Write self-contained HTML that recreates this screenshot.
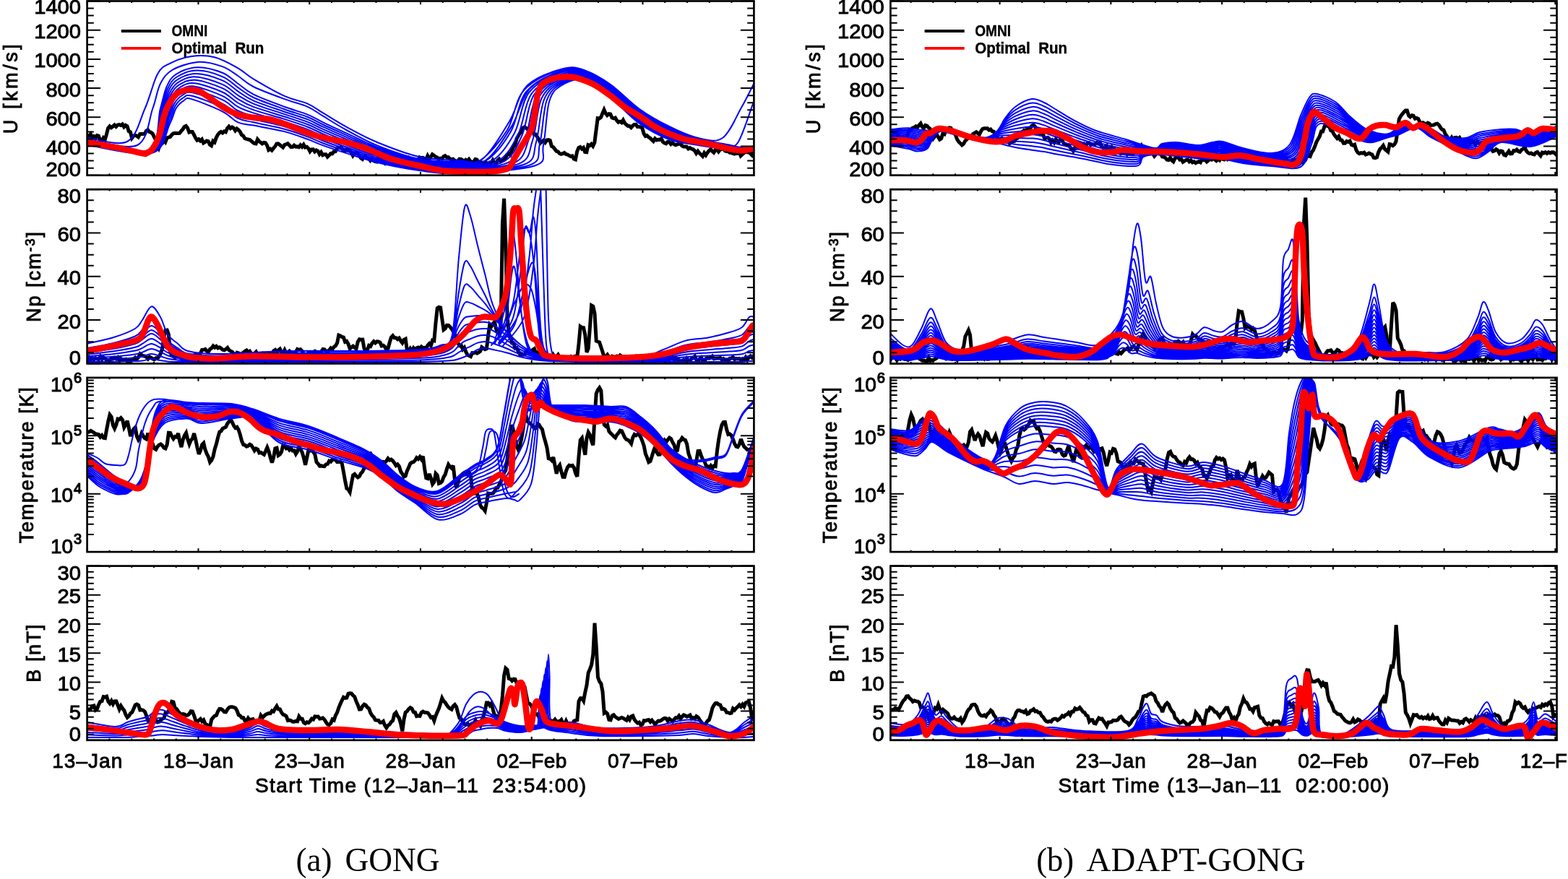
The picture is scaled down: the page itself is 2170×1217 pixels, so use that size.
<!DOCTYPE html>
<html><head><meta charset="utf-8"><title>Ensemble solar wind comparison</title>
<style>html,body{margin:0;padding:0;background:#fff;overflow:hidden}svg{display:block}</style></head>
<body><svg xmlns="http://www.w3.org/2000/svg" width="2170" height="1217" viewBox="0 0 2170 1217"><rect width="2170" height="1217" fill="#fff"/><clipPath id="cL0"><rect x="120.6" y="1.5" width="922.8000000000001" height="241.2"/></clipPath><g clip-path="url(#cL0)" fill="none" stroke-linejoin="round" stroke-linecap="round"><path d="M121.0 189.1 L123.2 187.9 L125.4 185.6 L127.6 190.6 L129.8 188.8 L132.0 191.2 L134.2 187.7 L136.4 188.2 L138.6 194.1 L140.8 195.3 L143.0 191.1 L145.2 193.5 L147.4 186.1 L149.6 177.4 L151.8 174.8 L154.0 176.7 L156.2 175.1 L158.4 173.1 L160.6 175.4 L162.8 173.0 L165.0 172.6 L167.2 173.5 L169.4 172.0 L171.6 175.7 L173.8 173.4 L176.0 174.6 L178.2 181.8 L180.4 182.8 L182.6 191.1 L184.8 188.2 L187.0 187.3 L189.2 188.2 L191.4 189.8 L193.6 185.6 L195.8 185.5 L198.0 185.5 L200.2 185.2 L202.4 181.3 L204.6 179.9 L206.8 182.6 L209.0 183.3 L211.2 185.1 L213.4 189.7 L215.6 193.7 L217.8 198.8 L220.0 204.5 L222.2 198.7 L224.4 198.6 L226.6 194.2 L228.8 196.7 L231.0 191.0 L233.2 190.1 L235.4 189.7 L237.6 186.8 L239.8 184.8 L242.0 184.3 L244.2 184.5 L246.4 184.5 L248.6 184.4 L250.8 181.3 L253.0 178.9 L255.2 175.5 L257.4 174.4 L259.6 177.2 L261.8 183.1 L264.0 182.4 L266.2 182.5 L268.4 186.4 L270.6 191.0 L272.8 194.2 L275.0 192.8 L277.2 195.0 L279.4 193.0 L281.6 197.9 L283.8 196.7 L286.0 195.1 L288.2 195.7 L290.4 200.2 L292.6 201.7 L294.8 195.3 L297.0 196.9 L299.2 190.8 L301.4 186.6 L303.6 183.8 L305.8 182.4 L308.0 184.0 L310.2 181.9 L312.4 182.8 L314.6 177.6 L316.8 175.1 L319.0 177.8 L321.2 176.1 L323.4 177.4 L325.6 180.8 L327.8 178.1 L330.0 179.8 L332.2 182.4 L334.4 186.7 L336.6 188.0 L338.8 191.5 L341.0 192.5 L343.2 193.1 L345.4 193.4 L347.6 195.1 L349.8 197.1 L352.0 198.7 L354.2 199.0 L356.4 193.0 L358.6 195.7 L360.8 197.2 L363.0 198.9 L365.2 197.4 L367.4 197.7 L369.6 201.3 L371.8 207.6 L374.0 206.2 L376.2 208.1 L378.4 205.4 L380.6 202.9 L382.8 199.1 L385.0 198.9 L387.2 200.5 L389.4 202.4 L391.6 204.1 L393.8 200.6 L396.0 199.7 L398.2 198.7 L400.4 201.0 L402.6 203.4 L404.8 203.4 L407.0 201.2 L409.2 203.2 L411.4 202.9 L413.6 203.7 L415.8 200.9 L418.0 203.3 L420.2 200.3 L422.4 204.0 L424.6 203.3 L426.8 205.4 L429.0 209.7 L431.2 206.9 L433.4 206.8 L435.6 210.0 L437.8 208.0 L440.0 209.1 L442.2 213.5 L444.4 210.8 L446.6 214.8 L448.8 213.7 L451.0 213.7 L453.2 217.1 L455.4 215.1 L457.6 212.6 L459.8 212.8 L462.0 209.9 L464.2 209.6 L466.4 205.9 L468.6 204.6 L470.8 204.1 L473.0 205.3 L475.2 208.1 L477.4 209.0 L479.6 206.9 L481.8 208.1 L484.0 208.3 L486.2 211.4 L488.4 215.5 L490.6 212.4 L492.8 211.2 L495.0 212.0 L497.2 215.6 L499.4 218.8 L501.6 220.4 L503.8 216.4 L506.0 216.6 L508.2 218.7 L510.4 219.1 L512.6 222.3 L514.8 220.0 L517.0 222.5 L519.2 223.5 L521.4 223.9 L523.6 218.5 L525.8 221.4 L528.0 220.9 L530.2 224.7 L532.4 226.1 L534.6 221.5 L536.8 221.1 L539.0 223.7 L541.2 225.2 L543.4 223.0 L545.6 221.3 L547.8 221.2 L550.0 221.9 L552.2 220.4 L554.4 221.8 L556.6 221.5 L558.8 221.2 L561.0 222.3 L563.2 220.7 L565.4 218.2 L567.6 219.8 L569.8 222.1 L572.0 222.2 L574.2 220.9 L576.4 221.4 L578.6 222.6 L580.8 217.9 L583.0 218.8 L585.2 218.3 L587.4 219.4 L589.6 221.1 L591.8 215.9 L594.0 220.0 L596.2 217.4 L598.4 213.8 L600.6 215.2 L602.8 216.9 L605.0 218.0 L607.2 220.6 L609.4 219.2 L611.6 220.0 L613.8 216.8 L616.0 215.8 L618.2 217.9 L620.4 217.7 L622.6 220.0 L624.8 220.8 L627.0 220.3 L629.2 222.1 L631.4 223.3 L633.6 223.1 L635.8 220.2 L638.0 220.4 L640.2 221.8 L642.4 223.8 L644.6 221.3 L646.8 222.9 L649.0 220.5 L651.2 223.4 L653.4 225.1 L655.6 223.6 L657.8 220.4 L660.0 221.1 L662.2 225.8 L664.4 224.8 L666.6 224.7 L668.8 226.8 L671.0 225.0 L673.2 225.3 L675.4 226.7 L677.6 225.1 L679.8 225.7 L682.0 221.8 L684.2 225.6 L686.4 227.1 L688.6 222.2 L690.8 220.2 L693.0 223.5 L695.2 222.1 L697.4 221.5 L699.6 219.3 L701.8 214.1 L704.0 212.7 L706.2 214.5 L708.4 208.0 L710.6 203.3 L712.8 201.1 L715.0 192.0 L717.2 188.2 L719.4 184.3 L721.6 182.5 L723.8 177.2 L726.0 175.8 L728.2 177.4 L730.4 179.1 L732.6 177.1 L734.8 180.0 L737.0 180.0 L739.2 186.1 L741.4 186.0 L743.6 189.7 L745.8 193.2 L748.0 197.8 L750.2 195.8 L752.4 194.3 L754.6 197.3 L756.8 194.1 L759.0 193.7 L761.2 194.5 L763.4 202.3 L765.6 203.7 L767.8 206.4 L770.0 209.3 L772.2 209.9 L774.4 212.5 L776.6 213.4 L778.8 212.7 L781.0 211.5 L783.2 213.4 L785.4 214.0 L787.6 215.4 L789.8 216.5 L792.0 215.9 L794.2 220.1 L796.4 220.9 L798.6 209.9 L800.8 204.5 L803.0 203.5 L805.2 206.1 L807.4 204.5 L809.6 210.5 L811.8 210.8 L814.0 200.7 L816.2 201.5 L818.4 199.4 L820.6 202.2 L822.8 197.5 L825.0 180.4 L827.2 163.7 L829.4 164.1 L831.6 162.5 L833.8 156.9 L836.0 151.9 L838.2 156.9 L840.4 159.6 L842.6 157.7 L844.8 158.0 L847.0 163.0 L849.2 163.8 L851.4 163.1 L853.6 166.7 L855.8 169.3 L858.0 168.3 L860.2 169.8 L862.4 166.3 L864.6 170.5 L866.8 172.6 L869.0 174.3 L871.2 174.7 L873.4 176.7 L875.6 174.1 L877.8 172.4 L880.0 172.3 L882.2 175.6 L884.4 175.6 L886.6 175.9 L888.8 177.1 L891.0 184.9 L893.2 188.5 L895.4 187.6 L897.6 189.9 L899.8 191.2 L902.0 193.5 L904.2 195.5 L906.4 191.9 L908.6 193.9 L910.8 193.3 L913.0 193.4 L915.2 191.9 L917.4 196.4 L919.6 198.1 L921.8 198.8 L924.0 196.3 L926.2 196.6 L928.4 199.5 L930.6 197.4 L932.8 199.7 L935.0 200.8 L937.2 199.9 L939.4 199.4 L941.6 198.1 L943.8 201.8 L946.0 203.0 L948.2 203.0 L950.4 203.2 L952.6 205.9 L954.8 204.6 L957.0 206.0 L959.2 206.8 L961.4 208.6 L963.6 212.2 L965.8 209.3 L968.0 212.1 L970.2 214.0 L972.4 216.3 L974.6 211.9 L976.8 214.9 L979.0 211.5 L981.2 208.7 L983.4 206.9 L985.6 209.1 L987.8 211.2 L990.0 207.8 L992.2 206.8 L994.4 209.9 L996.6 207.0 L998.8 206.4 L1001.0 204.1 L1003.2 208.8 L1005.4 209.6 L1007.6 209.6 L1009.8 211.2 L1012.0 211.4 L1014.2 212.5 L1016.4 213.1 L1018.6 212.2 L1020.8 212.4 L1023.0 210.2 L1025.2 215.7 L1027.4 213.7 L1029.6 211.6 L1031.8 210.3 L1034.0 210.7 L1036.2 209.3 L1038.4 212.5 L1040.6 214.8 L1042.8 209.7" stroke="#000" stroke-width="5.0" stroke-linejoin="miter" stroke-miterlimit="3"/><path d="M121.0 190.5C130.2 191.4 162.7 202.8 176.0 196.0C189.3 189.2 193.7 165.5 200.7 150.0C207.7 134.5 212.2 113.2 217.9 102.8C223.6 92.4 227.2 91.9 235.0 87.8C242.8 83.7 254.7 79.4 265.0 78.0C275.3 76.6 286.3 76.6 297.0 79.3C307.7 82.0 320.4 89.3 329.3 94.3C338.2 99.3 340.0 102.9 350.7 109.3C361.4 115.7 381.1 127.1 393.6 132.8C406.1 138.5 416.8 139.7 425.7 143.6C434.6 147.5 438.1 151.1 447.0 156.4C455.9 161.8 466.8 168.9 479.3 175.7C491.8 182.5 505.2 190.1 522.0 197.0C538.8 203.9 561.2 212.8 580.0 217.0C598.8 221.2 620.3 221.5 635.0 222.0C649.7 222.5 656.3 229.0 668.0 220.0C679.7 211.0 694.7 185.0 705.0 168.0C715.3 151.0 717.5 130.2 730.0 118.0C742.5 105.8 766.7 98.4 780.0 95.0C793.3 91.6 799.2 93.9 810.0 97.6C820.8 101.3 832.5 108.1 845.0 117.0C857.5 125.9 871.5 141.3 885.0 151.0C898.5 160.7 912.5 168.3 926.0 175.0C939.5 181.7 953.7 188.3 966.0 191.0C978.3 193.7 990.0 198.0 1000.0 191.0C1010.0 184.0 1018.7 161.7 1026.0 149.0C1033.3 136.3 1040.7 120.7 1043.6 115.0M121.0 193.0C132.5 194.3 174.9 208.2 190.0 201.0C205.1 193.8 206.1 164.2 211.4 150.0C216.7 135.8 217.3 124.6 222.0 115.7C226.7 106.8 230.4 101.4 239.3 96.4C248.2 91.4 264.3 86.4 275.7 85.7C287.1 85.0 298.9 88.9 307.8 92.1C316.7 95.3 322.2 100.3 329.3 105.0C336.4 109.7 340.0 114.7 350.7 120.0C361.4 125.3 381.1 132.5 393.6 137.1C406.1 141.7 416.8 143.9 425.7 147.8C434.6 151.7 438.1 155.3 447.0 160.7C455.9 166.1 466.8 173.2 479.3 180.0C491.8 186.8 505.2 194.7 522.0 201.4C538.8 208.1 561.2 216.2 580.0 220.0C598.8 223.8 619.7 223.7 635.0 224.0C650.3 224.3 659.8 230.2 672.0 222.0C684.2 213.8 697.7 191.7 708.0 175.0C718.3 158.3 721.7 134.8 734.0 122.0C746.3 109.2 769.3 101.7 782.0 98.0C794.7 94.3 799.5 96.3 810.0 100.0C820.5 103.7 832.5 111.0 845.0 120.0C857.5 129.0 871.5 144.3 885.0 154.0C898.5 163.7 912.5 171.5 926.0 178.0C939.5 184.5 952.7 189.3 966.0 193.0C979.3 196.7 996.7 199.5 1006.0 200.0C1015.3 200.5 1015.7 206.2 1022.0 196.0C1028.3 185.8 1040.0 148.5 1043.6 139.0M121.0 195.0C135.0 197.2 188.2 215.5 205.0 208.0C221.8 200.5 217.7 164.7 222.0 150.0C226.3 135.3 227.1 127.9 230.7 120.0C234.3 112.1 236.4 107.3 243.6 102.8C250.8 98.3 262.9 93.5 273.6 93.2C284.3 92.9 298.5 97.0 307.8 100.7C317.1 104.5 322.2 110.7 329.3 115.7C336.4 120.7 340.0 125.3 350.7 130.7C361.4 136.0 381.1 143.2 393.6 147.8C406.1 152.5 416.8 155.0 425.7 158.6C434.6 162.2 438.1 165.0 447.0 169.3C455.9 173.6 466.8 178.6 479.3 184.3C491.8 190.0 505.2 197.5 522.0 203.6C538.8 209.7 561.2 217.3 580.0 221.0C598.8 224.7 620.7 226.0 635.0 226.0C649.3 226.0 654.8 228.7 666.0 221.0C677.2 213.3 692.2 196.0 702.0 180.0C711.8 164.0 712.7 139.0 725.0 125.0C737.3 111.0 761.8 100.5 776.0 96.0C790.2 91.5 798.5 94.3 810.0 98.0C821.5 101.7 832.5 109.0 845.0 118.0C857.5 127.0 871.5 142.3 885.0 152.0C898.5 161.7 912.5 169.3 926.0 176.0C939.5 182.7 952.7 188.0 966.0 192.0C979.3 196.0 996.0 198.0 1006.0 200.0C1016.0 202.0 1019.7 203.3 1026.0 204.0C1032.3 204.7 1040.7 204.0 1043.6 204.0M121.0 195.6C135.1 197.7 188.4 215.6 205.5 208.4C222.6 201.2 218.9 166.4 223.3 152.1C227.7 137.9 228.4 130.6 232.0 123.0C235.6 115.4 237.9 110.7 244.7 106.5C251.5 102.2 262.2 97.7 272.7 97.6C283.3 97.5 298.4 102.1 307.8 106.1C317.2 110.0 322.2 116.2 329.3 121.1C336.4 125.9 340.0 130.0 350.7 135.0C361.4 140.0 381.1 146.7 393.6 151.2C406.1 155.7 416.8 158.5 425.7 162.0C434.6 165.6 438.1 168.3 447.0 172.5C455.9 176.7 466.8 181.5 479.3 187.1C491.8 192.6 505.2 199.8 522.0 205.7C538.8 211.6 561.2 218.9 580.0 222.5C598.8 226.1 619.4 227.5 635.0 227.4C650.6 227.3 661.4 229.4 673.4 221.9C685.4 214.3 697.8 198.0 707.0 182.1C716.2 166.2 717.0 140.6 728.5 126.6C740.0 112.6 762.4 102.9 776.0 98.3C789.6 93.7 798.5 95.6 810.0 99.2C821.5 102.8 832.5 110.6 845.0 119.7C857.5 128.8 871.5 144.2 885.0 153.9C898.5 163.6 912.5 171.2 926.0 177.7C939.5 184.2 952.7 189.1 966.0 192.9C979.3 196.7 996.0 198.8 1006.0 200.7C1016.0 202.6 1019.7 203.9 1026.0 204.5C1032.3 205.1 1040.7 204.4 1043.6 204.4M121.0 196.2C135.2 198.3 188.7 215.8 206.0 208.8C223.3 201.8 220.1 168.1 224.6 154.3C229.1 140.5 229.8 133.4 233.3 126.0C236.8 118.6 239.3 114.1 245.7 110.1C252.2 106.1 261.5 101.8 271.9 102.0C282.2 102.2 298.2 107.3 307.8 111.4C317.4 115.5 322.2 121.8 329.3 126.4C336.4 131.1 340.0 134.6 350.7 139.3C361.4 144.0 381.1 150.3 393.6 154.7C406.1 159.0 416.8 161.9 425.7 165.4C434.6 168.9 438.1 171.7 447.0 175.7C455.9 179.8 466.8 184.5 479.3 189.9C491.8 195.2 505.2 202.2 522.0 207.9C538.8 213.6 561.2 220.5 580.0 224.0C598.8 227.5 618.2 229.0 635.0 228.8C651.8 228.6 668.0 230.1 680.8 222.7C693.6 215.3 703.5 199.9 712.0 184.2C720.5 168.4 721.3 142.1 732.0 128.2C742.7 114.3 763.0 105.2 776.0 100.6C789.0 96.0 798.5 96.9 810.0 100.4C821.5 103.9 832.5 112.2 845.0 121.4C857.5 130.6 871.5 146.1 885.0 155.8C898.5 165.5 912.5 173.1 926.0 179.4C939.5 185.7 952.7 190.1 966.0 193.8C979.3 197.5 996.0 199.5 1006.0 201.4C1016.0 203.3 1019.7 204.4 1026.0 205.0C1032.3 205.6 1040.7 204.8 1043.6 204.8M121.0 196.8C135.2 198.9 189.0 215.9 206.5 209.2C224.0 202.5 221.2 169.8 225.9 156.4C230.6 143.1 231.1 136.1 234.6 129.0C238.1 121.9 240.7 117.5 246.8 113.8C252.9 110.0 260.9 105.9 271.0 106.4C281.2 106.9 298.1 112.5 307.8 116.8C317.5 121.0 322.2 127.3 329.3 131.8C336.4 136.2 340.0 139.2 350.7 143.6C361.4 148.0 381.1 153.9 393.6 158.1C406.1 162.3 416.8 165.4 425.7 168.9C434.6 172.3 438.1 175.0 447.0 178.9C455.9 182.9 466.8 187.5 479.3 192.6C491.8 197.8 505.2 204.5 522.0 210.0C538.8 215.5 561.2 222.1 580.0 225.5C598.8 228.9 617.0 230.5 635.0 230.2C653.0 229.9 674.5 230.9 688.2 223.5C701.9 216.2 709.1 201.9 717.0 186.3C724.9 170.7 725.7 143.7 735.5 129.8C745.3 115.9 763.6 107.6 776.0 102.9C788.4 98.2 798.5 98.2 810.0 101.6C821.5 105.0 832.5 113.8 845.0 123.1C857.5 132.4 871.5 148.0 885.0 157.7C898.5 167.4 912.5 174.9 926.0 181.1C939.5 187.3 952.7 191.2 966.0 194.7C979.3 198.2 996.0 200.3 1006.0 202.1C1016.0 203.9 1019.7 205.0 1026.0 205.5C1032.3 206.0 1040.7 205.2 1043.6 205.2M121.0 197.4C135.3 199.4 189.3 216.1 207.0 209.6C224.7 203.1 222.4 171.5 227.2 158.6C232.0 145.6 232.4 138.9 235.9 132.0C239.3 125.1 242.2 120.9 247.9 117.4C253.6 113.9 260.2 110.0 270.2 110.8C280.1 111.6 297.9 117.7 307.8 122.1C317.7 126.5 322.2 132.9 329.3 137.1C336.4 141.4 340.0 143.8 350.7 147.9C361.4 151.9 381.1 157.5 393.6 161.5C406.1 165.6 416.8 168.8 425.7 172.3C434.6 175.7 438.1 178.3 447.0 182.1C455.9 186.0 466.8 190.4 479.3 195.4C491.8 200.4 505.2 206.9 522.0 212.2C538.8 217.4 561.2 223.8 580.0 227.0C598.8 230.2 615.7 232.0 635.0 231.6C654.3 231.2 681.1 231.6 695.6 224.4C710.1 217.2 714.8 203.9 722.0 188.4C729.2 172.9 730.0 145.3 739.0 131.4C748.0 117.5 764.2 110.0 776.0 105.2C787.8 100.4 798.5 99.5 810.0 102.8C821.5 106.1 832.5 115.3 845.0 124.8C857.5 134.3 871.5 149.9 885.0 159.6C898.5 169.3 912.5 176.8 926.0 182.8C939.5 188.8 952.7 192.3 966.0 195.6C979.3 198.9 996.0 201.1 1006.0 202.8C1016.0 204.5 1019.7 205.5 1026.0 206.0C1032.3 206.5 1040.7 205.7 1043.6 205.6M121.0 198.0C135.4 200.0 189.6 216.2 207.5 210.0C225.4 203.8 223.6 173.2 228.5 160.7C233.4 148.2 233.7 141.6 237.1 135.0C240.6 128.4 243.6 124.4 248.9 121.1C254.3 117.7 259.5 114.1 269.3 115.2C279.1 116.2 297.8 122.9 307.8 127.5C317.8 132.1 322.2 138.4 329.3 142.5C336.4 146.6 340.0 148.4 350.7 152.1C361.4 155.9 381.1 161.0 393.6 164.9C406.1 168.9 416.8 172.3 425.7 175.7C434.6 179.1 438.1 181.6 447.0 185.4C455.9 189.1 466.8 193.4 479.3 198.2C491.8 203.0 505.2 209.2 522.0 214.3C538.8 219.4 561.2 225.4 580.0 228.5C598.8 231.6 614.5 233.5 635.0 233.0C655.5 232.5 687.7 232.3 703.0 225.2C718.3 218.2 720.4 205.9 727.0 190.5C733.6 175.1 734.3 146.8 742.5 133.0C750.7 119.2 764.8 112.3 776.0 107.5C787.2 102.7 798.5 100.8 810.0 104.0C821.5 107.2 832.5 116.9 845.0 126.5C857.5 136.1 871.5 151.8 885.0 161.5C898.5 171.2 912.5 178.7 926.0 184.5C939.5 190.3 952.7 193.3 966.0 196.5C979.3 199.7 996.0 201.8 1006.0 203.5C1016.0 205.2 1019.7 206.1 1026.0 206.5C1032.3 206.9 1040.7 206.1 1043.6 206.0M121.0 198.6C135.5 200.6 189.9 216.4 208.0 210.4C226.1 204.4 224.7 174.9 229.8 162.8C234.9 150.8 235.1 144.4 238.4 138.0C241.8 131.6 245.0 127.8 250.0 124.7C255.0 121.6 258.8 118.2 268.4 119.5C278.1 120.9 297.7 128.1 307.8 132.9C317.9 137.6 322.2 143.9 329.3 147.9C336.4 151.8 340.0 153.0 350.7 156.4C361.4 159.9 381.1 164.6 393.6 168.4C406.1 172.2 416.8 175.8 425.7 179.1C434.6 182.5 438.1 184.9 447.0 188.6C455.9 192.2 466.8 196.3 479.3 201.0C491.8 205.6 505.2 211.6 522.0 216.4C538.8 221.3 561.2 227.0 580.0 230.0C598.8 233.0 613.3 235.1 635.0 234.4C656.7 233.8 694.2 233.1 710.4 226.1C726.6 219.1 726.1 207.8 732.0 192.6C737.9 177.3 738.7 148.4 746.0 134.6C753.3 120.8 765.3 114.7 776.0 109.8C786.7 104.9 798.5 102.1 810.0 105.2C821.5 108.3 832.5 118.5 845.0 128.2C857.5 137.9 871.5 153.7 885.0 163.4C898.5 173.1 912.5 180.5 926.0 186.2C939.5 191.9 952.7 194.4 966.0 197.4C979.3 200.4 996.0 202.6 1006.0 204.2C1016.0 205.8 1019.7 206.6 1026.0 207.0C1032.3 207.4 1040.7 206.5 1043.6 206.4M121.0 199.2C135.6 201.1 190.2 216.5 208.5 210.8C226.8 205.1 225.9 176.6 231.1 165.0C236.3 153.3 236.4 147.1 239.7 141.0C243.1 134.9 246.4 131.2 251.1 128.4C255.7 125.5 258.1 122.3 267.6 123.9C277.0 125.6 297.5 133.3 307.8 138.2C318.1 143.1 322.2 149.5 329.3 153.2C336.4 157.0 340.0 157.6 350.7 160.7C361.4 163.8 381.1 168.2 393.6 171.8C406.1 175.4 416.8 179.2 425.7 182.5C434.6 185.9 438.1 188.2 447.0 191.8C455.9 195.3 466.8 199.3 479.3 203.8C491.8 208.2 505.2 214.0 522.0 218.6C538.8 223.2 561.2 228.6 580.0 231.5C598.8 234.4 612.0 236.6 635.0 235.8C658.0 235.0 700.8 233.8 717.8 226.9C734.8 220.1 731.7 209.8 737.0 194.7C742.3 179.6 743.0 150.0 749.5 136.2C756.0 122.4 765.9 117.1 776.0 112.1C786.1 107.1 798.5 103.4 810.0 106.4C821.5 109.4 832.5 120.1 845.0 129.9C857.5 139.7 871.5 155.6 885.0 165.3C898.5 175.0 912.5 182.4 926.0 187.9C939.5 193.4 952.7 195.5 966.0 198.3C979.3 201.1 996.0 203.4 1006.0 204.9C1016.0 206.4 1019.7 207.2 1026.0 207.5C1032.3 207.8 1040.7 206.9 1043.6 206.8M121.0 199.8C135.7 201.7 190.4 216.6 209.0 211.2C227.6 205.8 227.1 178.3 232.4 167.1C237.7 155.9 237.7 149.9 241.0 144.0C244.3 138.1 247.9 134.6 252.2 132.0C256.4 129.4 257.4 126.4 266.7 128.3C276.0 130.2 297.4 138.5 307.8 143.6C318.2 148.6 322.1 155.0 329.3 158.6C336.4 162.2 340.0 162.2 350.7 165.0C361.4 167.8 381.1 171.8 393.6 175.2C406.1 178.7 416.8 182.7 425.7 186.0C434.6 189.2 438.1 191.5 447.0 195.0C455.9 198.4 466.8 202.2 479.3 206.5C491.8 210.8 505.2 216.3 522.0 220.7C538.8 225.1 561.2 230.3 580.0 233.0C598.8 235.7 610.8 238.1 635.0 237.2C659.2 236.3 707.4 234.5 725.2 227.8C743.0 221.1 737.4 211.8 742.0 196.8C746.6 181.8 747.3 151.5 753.0 137.8C758.7 124.1 766.5 119.4 776.0 114.4C785.5 109.4 798.5 104.7 810.0 107.6C821.5 110.5 832.5 121.7 845.0 131.6C857.5 141.5 871.5 157.5 885.0 167.2C898.5 176.9 912.5 184.3 926.0 189.6C939.5 194.9 952.7 196.5 966.0 199.2C979.3 201.9 996.0 204.1 1006.0 205.6C1016.0 207.1 1019.7 207.7 1026.0 208.0C1032.3 208.3 1040.7 207.3 1043.6 207.2M121.0 200.4C135.8 202.3 190.7 216.8 209.5 211.6C228.3 206.4 228.2 180.0 233.7 169.3C239.2 158.5 239.1 152.6 242.3 147.0C245.6 141.4 249.3 138.0 253.2 135.7C257.2 133.3 256.8 130.5 265.9 132.7C275.0 134.9 297.2 143.7 307.8 148.9C318.4 154.1 322.2 160.5 329.3 163.9C336.4 167.3 340.0 166.9 350.7 169.3C361.4 171.8 381.1 175.3 393.6 178.7C406.1 182.0 416.8 186.1 425.7 189.4C434.6 192.6 438.1 194.9 447.0 198.2C455.9 201.5 466.8 205.2 479.3 209.3C491.8 213.4 505.2 218.7 522.0 222.9C538.8 227.1 561.2 231.9 580.0 234.5C598.8 237.1 609.6 239.6 635.0 238.6C660.4 237.6 713.9 235.3 732.6 228.7C751.3 222.0 743.0 213.8 747.0 198.9C751.0 184.0 751.7 153.1 756.5 139.4C761.3 125.7 767.1 121.8 776.0 116.7C784.9 111.6 798.5 106.0 810.0 108.8C821.5 111.6 832.5 123.3 845.0 133.3C857.5 143.4 871.5 159.4 885.0 169.1C898.5 178.8 912.5 186.1 926.0 191.3C939.5 196.5 952.7 197.6 966.0 200.1C979.3 202.6 996.0 204.9 1006.0 206.3C1016.0 207.7 1019.7 208.3 1026.0 208.5C1032.3 208.7 1040.7 207.8 1043.6 207.6M121.0 201.0C135.8 202.8 191.0 216.9 210.0 212.0C229.0 207.1 229.4 181.7 235.0 171.4C240.6 161.1 240.4 155.3 243.6 150.0C246.8 144.7 250.7 141.5 254.3 139.3C257.9 137.2 256.1 134.6 265.0 137.1C273.9 139.6 297.1 148.9 307.8 154.3C318.5 159.7 322.2 166.1 329.3 169.3C336.4 172.5 340.0 171.5 350.7 173.6C361.4 175.7 381.1 178.9 393.6 182.1C406.1 185.3 416.8 189.6 425.7 192.8C434.6 196.0 438.1 198.2 447.0 201.4C455.9 204.6 466.8 208.2 479.3 212.1C491.8 216.0 505.2 221.0 522.0 225.0C538.8 229.0 561.2 233.5 580.0 236.0C598.8 238.5 608.3 241.1 635.0 240.0C661.7 238.9 720.5 236.0 740.0 229.5C759.5 223.0 748.7 215.8 752.0 201.0C755.3 186.2 756.0 154.7 760.0 141.0C764.0 127.3 767.7 124.2 776.0 119.0C784.3 113.8 798.5 107.3 810.0 110.0C821.5 112.7 832.5 124.8 845.0 135.0C857.5 145.2 871.5 161.3 885.0 171.0C898.5 180.7 912.5 188.0 926.0 193.0C939.5 198.0 952.7 198.7 966.0 201.0C979.3 203.3 996.0 205.7 1006.0 207.0C1016.0 208.3 1019.7 208.8 1026.0 209.0C1032.3 209.2 1040.7 208.2 1043.6 208.0" stroke="#0000ff" stroke-width="2.0"/><path d="M121.4 197.1C127.5 198.2 145.4 201.1 157.9 203.6C170.4 206.1 188.9 210.7 196.4 212.1C203.9 213.5 200.5 213.1 203.0 212.0C205.5 210.9 208.6 209.6 211.4 205.7C214.2 201.8 217.5 195.8 220.0 188.6C222.5 181.4 224.3 170.0 226.4 162.8C228.5 155.7 229.9 151.0 232.8 145.7C235.7 140.3 240.0 134.1 243.6 130.7C247.2 127.3 250.7 126.4 254.3 125.3C257.9 124.2 261.6 124.2 265.0 124.3C268.4 124.4 271.4 124.6 275.0 126.0C278.6 127.4 280.9 129.2 286.4 132.8C291.9 136.4 300.6 143.5 307.8 147.8C315.0 152.1 322.2 156.1 329.3 158.6C336.4 161.1 343.6 161.7 350.7 162.8C357.8 163.9 364.9 163.6 372.0 165.0C379.1 166.4 386.4 168.9 393.6 171.4C400.8 173.9 407.9 177.3 415.0 180.0C422.1 182.7 429.3 185.4 436.4 187.5C443.5 189.6 450.6 191.2 457.8 192.8C465.0 194.4 472.2 195.3 479.3 197.1C486.4 198.9 493.6 201.1 500.7 203.6C507.8 206.1 514.9 209.2 522.0 212.1C529.1 214.9 533.8 217.8 543.5 220.7C553.2 223.6 568.0 226.9 580.0 229.5C592.0 232.1 602.7 235.1 615.3 236.5C627.9 237.9 643.8 237.9 655.5 238.0C667.2 238.1 677.6 237.9 685.7 237.0C693.8 236.1 699.5 235.4 703.9 232.5C708.3 229.6 709.2 223.9 711.9 219.4C714.6 214.9 717.0 210.4 720.0 205.4C723.0 200.4 727.3 193.9 730.0 189.2C732.7 184.5 734.4 182.6 736.1 177.2C737.8 171.8 738.8 164.7 740.1 157.0C741.4 149.3 742.4 137.6 744.1 130.9C745.8 124.2 747.2 120.3 750.2 116.8C753.2 113.3 757.9 111.4 762.2 109.7C766.6 108.0 771.3 107.2 776.3 106.7C781.3 106.2 786.8 105.9 792.4 106.7C798.0 107.5 804.5 109.7 810.0 111.7C815.5 113.7 819.2 115.3 825.1 118.8C831.0 122.3 838.6 127.9 845.3 132.9C852.0 137.9 858.7 144.3 865.4 149.0C872.1 153.7 878.8 156.7 885.5 161.1C892.2 165.5 899.0 171.2 905.7 175.2C912.4 179.2 919.1 182.3 925.8 185.2C932.5 188.0 939.2 190.5 945.9 192.3C952.6 194.2 959.4 195.0 966.1 196.3C972.8 197.6 979.5 198.8 986.2 200.3C992.9 201.8 999.6 204.1 1006.3 205.4C1013.0 206.8 1020.3 208.4 1026.5 208.4C1032.7 208.4 1040.8 205.9 1043.6 205.4" stroke="#ff0000" stroke-width="8.5"/></g><clipPath id="cL1"><rect x="120.6" y="262.2" width="922.8000000000001" height="241.2"/></clipPath><g clip-path="url(#cL1)" fill="none" stroke-linejoin="round" stroke-linecap="round"><path d="M121.2 498.9 L123.4 495.2 L125.6 498.1 L127.8 495.6 L130.0 497.8 L132.2 495.9 L134.4 497.2 L136.6 497.5 L138.8 493.8 L141.0 497.4 L143.2 494.8 L145.4 496.4 L147.6 498.9 L149.8 498.4 L152.0 499.0 L154.2 496.3 L156.4 496.9 L158.6 495.2 L160.8 496.8 L163.0 495.0 L165.2 499.6 L167.4 496.7 L169.6 498.1 L171.8 498.1 L174.0 497.4 L176.2 500.3 L178.4 499.4 L180.6 500.3 L182.8 497.4 L185.0 497.1 L187.2 495.2 L189.4 497.2 L191.6 494.7 L193.8 489.9 L196.0 491.7 L198.2 492.8 L200.4 493.0 L202.6 494.2 L204.8 496.9 L207.0 494.0 L209.2 495.3 L211.4 496.7 L213.6 497.8 L215.8 495.8 L218.0 496.3 L220.2 493.5 L222.4 489.3 L224.6 482.6 L226.8 468.0 L229.0 457.4 L231.2 457.0 L233.4 463.3 L235.6 487.3 L237.8 492.6 L240.0 493.4 L242.2 495.1 L244.4 493.0 L246.6 493.3 L248.8 491.9 L251.0 493.7 L253.2 492.5 L255.4 494.8 L257.6 492.5 L259.8 492.9 L262.0 493.3 L264.2 496.6 L266.4 492.5 L268.6 491.8 L270.8 491.2 L273.0 490.7 L275.2 491.2 L277.4 489.0 L279.6 484.4 L281.8 484.3 L284.0 483.5 L286.2 486.2 L288.4 487.2 L290.6 483.4 L292.8 482.2 L295.0 479.0 L297.2 481.1 L299.4 479.4 L301.6 481.9 L303.8 480.8 L306.0 482.3 L308.2 484.3 L310.4 484.8 L312.6 483.5 L314.8 481.4 L317.0 484.9 L319.2 486.1 L321.4 487.2 L323.6 489.9 L325.8 492.4 L328.0 488.3 L330.2 488.9 L332.4 491.8 L334.6 489.3 L336.8 488.4 L339.0 486.3 L341.2 485.0 L343.4 488.0 L345.6 486.4 L347.8 489.7 L350.0 490.9 L352.2 489.3 L354.4 487.2 L356.6 491.5 L358.8 490.3 L361.0 490.3 L363.2 489.1 L365.4 489.3 L367.6 490.0 L369.8 491.8 L372.0 489.9 L374.2 490.4 L376.4 491.9 L378.6 485.9 L380.8 484.5 L383.0 488.7 L385.2 484.9 L387.4 483.2 L389.6 487.8 L391.8 489.5 L394.0 484.6 L396.2 489.0 L398.4 487.6 L400.6 486.1 L402.8 488.4 L405.0 490.5 L407.2 489.0 L409.4 487.3 L411.6 483.5 L413.8 484.5 L416.0 483.8 L418.2 486.1 L420.4 490.4 L422.6 491.7 L424.8 492.0 L427.0 488.3 L429.2 487.9 L431.4 490.4 L433.6 488.0 L435.8 486.2 L438.0 487.5 L440.2 487.6 L442.4 490.2 L444.6 487.0 L446.8 483.5 L449.0 483.9 L451.2 486.3 L453.4 486.7 L455.6 484.7 L457.8 481.9 L460.0 483.4 L462.2 480.3 L464.4 478.8 L466.6 474.9 L468.8 464.1 L471.0 464.9 L473.2 466.4 L475.4 467.1 L477.6 473.4 L479.8 472.5 L482.0 476.2 L484.2 482.8 L486.4 480.8 L488.6 479.2 L490.8 481.3 L493.0 483.0 L495.2 473.3 L497.4 469.8 L499.6 470.2 L501.8 470.1 L504.0 482.4 L506.2 486.7 L508.4 484.4 L510.6 478.4 L512.8 479.5 L515.0 475.1 L517.2 472.7 L519.4 474.9 L521.6 472.9 L523.8 473.0 L526.0 474.1 L528.2 478.9 L530.4 478.2 L532.6 480.1 L534.8 484.5 L537.0 482.5 L539.2 474.3 L541.4 467.1 L543.6 464.8 L545.8 467.7 L548.0 467.7 L550.2 469.7 L552.4 468.1 L554.6 471.8 L556.8 474.7 L559.0 470.3 L561.2 469.2 L563.4 485.4 L565.6 486.4 L567.8 482.5 L570.0 485.5 L572.2 481.8 L574.4 484.6 L576.6 481.9 L578.8 481.1 L581.0 482.4 L583.2 479.9 L585.4 481.8 L587.6 481.3 L589.8 482.2 L592.0 478.0 L594.2 475.7 L596.4 478.5 L598.6 471.1 L600.8 471.7 L603.0 447.0 L605.2 426.7 L607.4 425.2 L609.6 425.9 L611.8 441.5 L614.0 456.5 L616.2 454.8 L618.4 450.3 L620.6 450.5 L622.8 452.4 L625.0 455.1 L627.2 458.6 L629.4 462.2 L631.6 471.1 L633.8 475.0 L636.0 478.7 L638.2 478.1 L640.4 483.6 L642.6 481.2 L644.8 487.2 L647.0 491.5 L649.2 492.4 L651.4 493.6 L653.6 488.6 L655.8 488.7 L658.0 487.9 L660.2 489.2 L662.4 487.9 L664.6 486.4 L666.8 480.6 L669.0 482.2 L671.2 483.7 L673.4 482.7 L675.6 464.7 L677.8 449.5 L680.0 452.0 L682.2 448.1 L684.4 445.6 L686.6 455.5 L688.8 461.4 L691.0 463.3 L693.2 446.0 L695.4 309.6 L697.6 274.8 L699.8 334.8 L702.0 436.3 L704.2 462.3 L706.4 465.7 L708.6 475.0 L710.8 475.2 L713.0 482.3 L715.2 481.7 L717.4 486.8 L719.6 490.8 L721.8 491.2 L724.0 491.2 L726.2 490.6 L728.4 486.1 L730.6 486.4 L732.8 488.7 L735.0 489.2 L737.2 484.4 L739.4 482.9 L741.6 488.9 L743.8 487.8 L746.0 486.8 L748.2 491.6 L750.4 488.6 L752.6 490.5 L754.8 490.5 L757.0 492.9 L759.2 496.5 L761.4 493.1 L763.6 496.4 L765.8 491.7 L768.0 495.4 L770.2 493.9 L772.4 491.2 L774.6 495.0 L776.8 493.8 L779.0 494.6 L781.2 496.4 L783.4 494.9 L785.6 496.0 L787.8 495.2 L790.0 493.7 L792.2 495.6 L794.4 493.7 L796.6 493.0 L798.8 495.4 L801.0 476.0 L803.2 452.0 L805.4 453.5 L807.6 453.8 L809.8 463.8 L812.0 487.7 L814.2 482.5 L816.4 453.4 L818.6 422.9 L820.8 424.2 L823.0 434.0 L825.2 472.0 L827.4 473.0 L829.6 473.9 L831.8 480.8 L834.0 487.3 L836.2 494.9 L838.4 493.8 L840.6 491.2 L842.8 494.5 L845.0 496.2 L847.2 493.3 L849.4 494.1 L851.6 494.2 L853.8 493.1 L856.0 494.3 L858.2 491.9 L860.4 493.5 L862.6 495.3 L864.8 494.2 L867.0 497.8 L869.2 498.7 L871.4 498.3 L873.6 498.2 L875.8 497.2 L878.0 493.6 L880.2 493.0 L882.4 493.5 L884.6 498.0 L886.8 495.6 L889.0 496.4 L891.2 498.5 L893.4 495.9 L895.6 498.5 L897.8 494.3 L900.0 498.3 L902.2 500.4 L904.4 496.4 L906.6 493.9 L908.8 493.8 L911.0 498.5 L913.2 498.2 L915.4 494.2 L917.6 495.8 L919.8 499.2 L922.0 494.9 L924.2 494.7 L926.4 497.4 L928.6 495.0 L930.8 494.3 L933.0 498.4 L935.2 495.1 L937.4 497.8 L939.6 498.5 L941.8 499.9 L944.0 499.9 L946.2 498.2 L948.4 500.0 L950.6 496.4 L952.8 499.1 L955.0 498.6 L957.2 496.8 L959.4 495.2 L961.6 493.4 L963.8 498.3 L966.0 500.4 L968.2 496.8 L970.4 494.9 L972.6 499.0 L974.8 500.3 L977.0 496.5 L979.2 495.7 L981.4 496.1 L983.6 495.1 L985.8 493.3 L988.0 496.7 L990.2 496.2 L992.4 496.1 L994.6 496.0 L996.8 495.5 L999.0 498.0 L1001.2 496.5 L1003.4 498.3 L1005.6 499.4 L1007.8 500.4 L1010.0 496.2 L1012.2 496.1 L1014.4 494.5 L1016.6 497.6 L1018.8 496.5 L1021.0 497.0 L1023.2 496.4 L1025.4 498.1 L1027.6 496.7 L1029.8 498.1 L1032.0 494.7 L1034.2 498.2 L1036.4 494.6 L1038.6 493.1 L1040.8 495.3 L1043.0 492.5" stroke="#000" stroke-width="5.0" stroke-linejoin="miter" stroke-miterlimit="3"/><path d="M690.0 478.0C695.0 470.0 713.0 449.7 720.0 430.0C727.0 410.3 729.0 382.8 732.0 360.0C735.0 337.2 736.2 310.5 738.0 293.0C739.8 275.5 741.7 267.2 743.0 255.0C744.3 242.8 745.2 220.0 746.0 220.0C746.8 220.0 747.2 233.3 748.0 255.0C748.8 276.7 750.0 319.2 751.0 350.0C752.0 380.8 753.0 417.7 754.0 440.0C755.0 462.3 755.2 475.0 757.0 484.0C758.8 493.0 759.5 491.7 765.0 494.0C770.5 496.3 785.8 497.3 790.0 498.0M695.0 480.0C700.0 473.3 717.8 458.3 725.0 440.0C732.2 421.7 734.8 393.3 738.0 370.0C741.2 346.7 742.0 320.0 744.0 300.0C746.0 280.0 748.5 263.3 750.0 250.0C751.5 236.7 752.1 218.3 753.0 220.0C753.9 221.7 754.8 238.3 755.5 260.0C756.2 281.7 756.4 320.0 757.0 350.0C757.6 380.0 758.0 417.7 759.0 440.0C760.0 462.3 761.2 475.0 763.0 484.0C764.8 493.0 765.5 491.7 770.0 494.0C774.5 496.3 786.7 497.3 790.0 498.0M690.0 470.0C693.3 461.7 704.7 443.3 710.0 420.0C715.3 396.7 719.0 347.3 722.0 330.0C725.0 312.7 726.2 317.3 728.0 316.0C729.8 314.7 731.3 324.7 733.0 322.0C734.7 319.3 736.5 298.7 738.0 300.0C739.5 301.3 740.7 310.0 742.0 330.0C743.3 350.0 744.7 396.7 746.0 420.0C747.3 443.3 748.3 458.7 750.0 470.0C751.7 481.3 752.7 483.7 756.0 488.0C759.3 492.3 764.3 494.3 770.0 496.0C775.7 497.7 786.7 497.7 790.0 498.0M690.0 475.0C693.3 469.2 705.0 455.8 710.0 440.0C715.0 424.2 717.3 400.0 720.0 380.0C722.7 360.0 724.3 330.7 726.0 320.0C727.7 309.3 728.5 313.5 730.0 316.0C731.5 318.5 733.3 324.3 735.0 335.0C736.7 345.7 738.5 362.5 740.0 380.0C741.5 397.5 742.7 424.2 744.0 440.0C745.3 455.8 746.2 466.7 748.0 475.0C749.8 483.3 751.3 486.3 755.0 490.0C758.7 493.7 764.2 495.7 770.0 497.0C775.8 498.3 786.7 497.8 790.0 498.0M690.0 478.0C693.7 473.3 706.2 463.0 712.0 450.0C717.8 437.0 721.5 413.3 725.0 400.0C728.5 386.7 730.8 375.8 733.0 370.0C735.2 364.2 736.5 361.7 738.0 365.0C739.5 368.3 740.7 377.5 742.0 390.0C743.3 402.5 744.7 425.3 746.0 440.0C747.3 454.7 748.3 469.3 750.0 478.0C751.7 486.7 752.7 488.8 756.0 492.0C759.3 495.2 764.3 496.0 770.0 497.0C775.7 498.0 786.7 497.8 790.0 498.0M685.0 470.0C687.5 461.7 696.3 443.3 700.0 420.0C703.7 396.7 705.3 346.7 707.0 330.0C708.7 313.3 708.8 316.7 710.0 320.0C711.2 323.3 712.3 333.3 714.0 350.0C715.7 366.7 717.8 400.0 720.0 420.0C722.2 440.0 724.5 458.7 727.0 470.0C729.5 481.3 731.2 483.8 735.0 488.0C738.8 492.2 740.8 493.3 750.0 495.0C759.2 496.7 783.3 497.5 790.0 498.0M685.0 475.0C687.5 469.2 696.2 455.8 700.0 440.0C703.8 424.2 706.0 391.7 708.0 380.0C710.0 368.3 710.5 366.7 712.0 370.0C713.5 373.3 715.0 386.7 717.0 400.0C719.0 413.3 721.5 436.7 724.0 450.0C726.5 463.3 728.5 473.0 732.0 480.0C735.5 487.0 735.3 489.0 745.0 492.0C754.7 495.0 782.5 497.0 790.0 498.0M680.0 478.0C683.0 474.2 692.7 464.7 698.0 455.0C703.3 445.3 707.5 430.0 712.0 420.0C716.5 410.0 721.2 398.3 725.0 395.0C728.8 391.7 732.2 394.2 735.0 400.0C737.8 405.8 739.8 418.3 742.0 430.0C744.2 441.7 745.8 460.0 748.0 470.0C750.2 480.0 751.3 485.5 755.0 490.0C758.7 494.5 767.5 495.8 770.0 497.0M121.0 475.7C126.8 474.3 145.0 470.9 156.0 467.5C167.0 464.1 180.2 459.1 187.0 455.0C193.8 450.9 193.2 448.1 197.0 443.0C200.8 437.9 205.3 425.1 209.5 424.4C213.7 423.7 218.2 432.6 222.0 439.0C225.8 445.4 228.0 456.9 232.0 463.0C236.0 469.1 241.3 471.9 246.0 475.7C250.7 479.5 251.0 483.6 260.0 486.0C269.0 488.4 276.7 490.0 300.0 490.0C323.3 490.0 366.7 486.7 400.0 486.0C433.3 485.3 470.0 486.3 500.0 486.0C530.0 485.7 561.7 485.3 580.0 484.0C598.3 482.7 602.3 481.5 610.0 478.0C617.7 474.5 621.9 482.5 626.0 463.0C630.1 443.5 631.8 390.3 634.6 361.0C637.4 331.7 640.3 297.3 643.0 287.0C645.7 276.7 648.0 290.2 651.0 299.0C654.0 307.8 657.6 326.3 661.0 340.0C664.4 353.7 668.0 367.3 671.5 381.0C675.0 394.7 677.2 409.2 682.0 422.0C686.8 434.8 693.7 448.8 700.0 458.0C706.3 467.2 713.3 471.8 720.0 477.0C726.7 482.2 733.3 485.8 740.0 489.0C746.7 492.2 750.0 494.7 760.0 496.0C770.0 497.3 778.8 497.3 800.0 497.0C821.2 496.7 867.3 496.2 887.0 494.0C906.7 491.8 907.7 487.7 918.0 484.0C928.3 480.3 938.7 474.4 949.0 471.6C959.3 468.9 969.8 469.4 980.0 467.5C990.2 465.6 1002.2 462.4 1010.0 460.0C1017.8 457.6 1022.5 456.5 1027.0 453.0C1031.5 449.5 1034.2 441.3 1037.0 439.0C1039.8 436.7 1042.8 439.0 1044.0 439.0M121.0 481.9C126.8 480.8 145.0 478.0 156.0 475.2C167.0 472.5 180.2 468.6 187.0 465.5C193.8 462.4 193.2 460.2 197.0 456.5C200.8 452.8 205.3 443.5 209.5 443.2C213.7 442.9 218.2 449.8 222.0 454.5C225.8 459.2 228.0 466.9 232.0 471.5C236.0 476.1 241.3 478.9 246.0 481.9C250.7 484.9 251.0 487.7 260.0 489.5C269.0 491.3 276.7 492.6 300.0 492.5C323.3 492.4 366.7 489.8 400.0 489.0C433.3 488.2 470.0 488.5 500.0 488.0C530.0 487.5 561.7 487.3 580.0 486.0C598.3 484.7 602.3 483.2 610.0 480.0C617.7 476.8 621.9 478.8 626.0 466.5C630.1 454.2 631.8 423.7 634.6 406.5C637.4 389.3 640.3 369.8 643.0 363.5C645.7 357.2 648.0 364.3 651.0 368.5C654.0 372.7 657.6 381.8 661.0 388.5C664.4 395.2 668.0 401.9 671.5 409.0C675.0 416.1 677.2 422.8 682.0 431.0C686.8 439.2 693.7 450.3 700.0 458.0C706.3 465.7 713.3 471.8 720.0 477.0C726.7 482.2 733.3 485.8 740.0 489.0C746.7 492.2 750.0 494.6 760.0 496.0C770.0 497.4 778.8 497.6 800.0 497.5C821.2 497.4 867.3 497.1 887.0 495.5C906.7 493.9 907.7 490.9 918.0 488.0C928.3 485.1 938.7 480.2 949.0 477.8C959.3 475.4 969.8 475.3 980.0 473.8C990.2 472.2 1002.2 470.2 1010.0 468.5C1017.8 466.8 1022.5 466.2 1027.0 463.5C1031.5 460.8 1034.2 454.2 1037.0 452.0C1039.8 449.8 1042.8 450.8 1044.0 450.5M121.0 484.4C126.8 483.4 145.0 480.9 156.0 478.5C167.0 476.0 180.2 472.6 187.0 469.8C193.8 467.1 193.2 465.2 197.0 462.1C200.8 458.9 205.3 451.2 209.5 451.0C213.7 450.8 218.2 456.9 222.0 460.9C225.8 464.9 228.0 471.1 232.0 475.0C236.0 478.9 241.3 481.7 246.0 484.4C250.7 487.1 251.0 489.4 260.0 490.9C269.0 492.5 276.7 493.7 300.0 493.5C323.3 493.4 366.7 491.0 400.0 490.2C433.3 489.5 470.0 489.4 500.0 488.8C530.0 488.3 561.7 488.2 580.0 486.8C598.3 485.5 602.3 484.0 610.0 480.8C617.7 477.7 621.9 477.2 626.0 467.9C630.1 458.7 631.8 437.5 634.6 425.3C637.4 413.2 640.3 399.9 643.0 395.2C645.7 390.5 648.0 395.1 651.0 397.3C654.0 399.5 657.6 404.7 661.0 408.6C664.4 412.5 668.0 416.2 671.5 420.6C675.0 425.0 677.2 428.5 682.0 434.7C686.8 441.0 693.7 451.0 700.0 458.0C706.3 465.0 713.3 471.8 720.0 477.0C726.7 482.2 733.3 485.8 740.0 489.0C746.7 492.2 750.0 494.5 760.0 496.0C770.0 497.5 778.8 497.7 800.0 497.7C821.2 497.7 867.3 497.5 887.0 496.1C906.7 494.8 907.7 492.3 918.0 489.7C928.3 487.0 938.7 482.6 949.0 480.4C959.3 478.1 969.8 477.7 980.0 476.3C990.2 474.9 1002.2 473.4 1010.0 472.0C1017.8 470.6 1022.5 470.3 1027.0 467.8C1031.5 465.4 1034.2 459.5 1037.0 457.4C1039.8 455.3 1042.8 455.6 1044.0 455.3M121.0 486.4C126.8 485.4 145.0 483.1 156.0 480.9C167.0 478.7 180.2 475.6 187.0 473.2C193.8 470.8 193.2 469.1 197.0 466.4C200.8 463.7 205.3 457.1 209.5 457.0C213.7 456.9 218.2 462.4 222.0 465.8C225.8 469.3 228.0 474.3 232.0 477.7C236.0 481.1 241.3 484.0 246.0 486.4C250.7 488.7 251.0 490.7 260.0 492.1C269.0 493.4 276.7 494.5 300.0 494.3C323.3 494.2 366.7 492.0 400.0 491.2C433.3 490.4 470.0 490.1 500.0 489.5C530.0 488.8 561.7 488.8 580.0 487.5C598.3 486.1 602.3 484.5 610.0 481.5C617.7 478.4 621.9 476.0 626.0 469.1C630.1 462.1 631.8 448.1 634.6 439.8C637.4 431.5 640.3 422.9 643.0 419.5C645.7 416.1 648.0 418.6 651.0 419.4C654.0 420.1 657.6 422.3 661.0 424.0C664.4 425.7 668.0 427.2 671.5 429.5C675.0 431.8 677.2 432.8 682.0 437.6C686.8 442.3 693.7 451.4 700.0 458.0C706.3 464.6 713.3 471.8 720.0 477.0C726.7 482.2 733.3 485.8 740.0 489.0C746.7 492.2 750.0 494.5 760.0 496.0C770.0 497.5 778.8 497.8 800.0 497.9C821.2 498.0 867.3 497.8 887.0 496.6C906.7 495.4 907.7 493.3 918.0 490.9C928.3 488.6 938.7 484.4 949.0 482.3C959.3 480.2 969.8 479.6 980.0 478.3C990.2 477.1 1002.2 475.9 1010.0 474.7C1017.8 473.5 1022.5 473.4 1027.0 471.2C1031.5 469.0 1034.2 463.6 1037.0 461.5C1039.8 459.5 1042.8 459.4 1044.0 458.9M121.0 488.0C126.8 487.2 145.0 485.0 156.0 483.0C167.0 481.0 180.2 478.2 187.0 476.0C193.8 473.8 193.2 472.3 197.0 470.0C200.8 467.7 205.3 462.0 209.5 462.0C213.7 462.0 218.2 467.0 222.0 470.0C225.8 473.0 228.0 477.0 232.0 480.0C236.0 483.0 241.3 485.8 246.0 488.0C250.7 490.2 251.0 491.8 260.0 493.0C269.0 494.2 276.7 495.2 300.0 495.0C323.3 494.8 366.7 492.8 400.0 492.0C433.3 491.2 470.0 490.7 500.0 490.0C530.0 489.3 561.7 489.3 580.0 488.0C598.3 486.7 602.3 485.0 610.0 482.0C617.7 479.0 621.9 475.0 626.0 470.0C630.1 465.0 631.8 457.0 634.6 452.0C637.4 447.0 640.3 442.3 643.0 440.0C645.7 437.7 648.0 438.5 651.0 438.0C654.0 437.5 657.6 437.2 661.0 437.0C664.4 436.8 668.0 436.5 671.5 437.0C675.0 437.5 677.2 436.5 682.0 440.0C686.8 443.5 693.7 451.8 700.0 458.0C706.3 464.2 713.3 471.8 720.0 477.0C726.7 482.2 733.3 485.8 740.0 489.0C746.7 492.2 750.0 494.5 760.0 496.0C770.0 497.5 778.8 497.8 800.0 498.0C821.2 498.2 867.3 498.0 887.0 497.0C906.7 496.0 907.7 494.2 918.0 492.0C928.3 489.8 938.7 486.0 949.0 484.0C959.3 482.0 969.8 481.2 980.0 480.0C990.2 478.8 1002.2 478.0 1010.0 477.0C1017.8 476.0 1022.5 476.0 1027.0 474.0C1031.5 472.0 1034.2 467.0 1037.0 465.0C1039.8 463.0 1042.8 462.5 1044.0 462.0M121.0 488.0C126.8 487.2 145.0 485.0 156.0 483.0C167.0 481.0 180.2 478.2 187.0 476.0C193.8 473.8 193.2 472.3 197.0 470.0C200.8 467.7 205.3 462.0 209.5 462.0C213.7 462.0 218.2 467.0 222.0 470.0C225.8 473.0 228.0 477.0 232.0 480.0C236.0 483.0 241.3 485.8 246.0 488.0C250.7 490.2 251.0 491.8 260.0 493.0C269.0 494.2 276.7 495.2 300.0 495.0C323.3 494.8 366.7 492.8 400.0 492.0C433.3 491.2 470.0 490.7 500.0 490.0C530.0 489.3 561.7 489.3 580.0 488.0C598.3 486.7 602.3 485.0 610.0 482.0C617.7 479.0 621.9 475.0 626.0 470.0C630.1 465.0 631.8 457.0 634.6 452.0C637.4 447.0 640.3 442.3 643.0 440.0C645.7 437.7 648.0 438.5 651.0 438.0C654.0 437.5 657.6 437.2 661.0 437.0C664.4 436.8 668.0 436.5 671.5 437.0C675.0 437.5 677.2 436.5 682.0 440.0C686.8 443.5 693.7 451.8 700.0 458.0C706.3 464.2 713.3 471.8 720.0 477.0C726.7 482.2 733.3 485.8 740.0 489.0C746.7 492.2 750.0 494.5 760.0 496.0C770.0 497.5 778.8 497.8 800.0 498.0C821.2 498.2 867.3 498.0 887.0 497.0C906.7 496.0 907.7 494.2 918.0 492.0C928.3 489.8 938.7 486.0 949.0 484.0C959.3 482.0 969.8 481.2 980.0 480.0C990.2 478.8 1002.2 478.0 1010.0 477.0C1017.8 476.0 1022.5 476.0 1027.0 474.0C1031.5 472.0 1034.2 467.0 1037.0 465.0C1039.8 463.0 1042.8 462.5 1044.0 462.0M121.0 490.6C126.8 489.9 145.0 488.2 156.0 486.6C167.0 485.0 180.2 482.6 187.0 480.8C193.8 479.0 193.3 477.9 197.0 475.9C200.8 473.9 205.3 469.0 209.5 469.0C213.7 469.0 218.3 473.3 222.0 475.8C225.8 478.3 228.0 481.6 232.0 484.1C236.0 486.6 241.3 488.9 246.0 490.6C250.7 492.4 251.0 493.7 260.0 494.6C269.0 495.5 276.7 496.3 300.0 496.2C323.3 496.1 366.7 494.5 400.0 493.8C433.3 493.1 470.0 492.7 500.0 492.2C530.0 491.7 561.7 491.7 580.0 490.6C598.3 489.5 602.3 488.1 610.0 485.6C617.7 483.1 621.9 479.9 626.0 475.8C630.1 471.7 631.8 465.2 634.6 461.0C637.4 456.8 640.3 452.9 643.0 450.8C645.7 448.7 648.0 449.1 651.0 448.4C654.0 447.7 657.6 446.8 661.0 446.4C664.4 446.0 668.0 445.6 671.5 446.0C675.0 446.4 677.2 445.8 682.0 448.8C686.8 451.8 693.7 458.7 700.0 464.0C706.3 469.3 713.3 475.9 720.0 480.4C726.7 484.9 733.3 488.1 740.0 490.8C746.7 493.5 750.0 495.5 760.0 496.8C770.0 498.1 778.8 498.4 800.0 498.6C821.2 498.8 867.3 498.6 887.0 497.8C906.7 497.0 907.7 495.5 918.0 493.8C928.3 492.1 938.7 489.0 949.0 487.4C959.3 485.8 969.8 485.1 980.0 484.2C990.2 483.3 1002.2 482.6 1010.0 481.8C1017.8 481.0 1022.5 481.0 1027.0 479.4C1031.5 477.8 1034.2 473.6 1037.0 472.0C1039.8 470.4 1042.8 470.0 1044.0 469.6M121.0 493.2C126.8 492.7 145.0 491.5 156.0 490.2C167.0 488.9 180.2 487.0 187.0 485.6C193.8 484.2 193.2 483.4 197.0 481.8C200.8 480.2 205.3 476.0 209.5 476.0C213.7 476.0 218.2 479.6 222.0 481.6C225.8 483.6 228.0 486.3 232.0 488.2C236.0 490.1 241.3 491.9 246.0 493.2C250.7 494.5 251.0 495.5 260.0 496.2C269.0 496.9 276.7 497.5 300.0 497.4C323.3 497.3 366.7 496.1 400.0 495.6C433.3 495.1 470.0 494.8 500.0 494.4C530.0 494.0 561.7 494.1 580.0 493.2C598.3 492.3 602.3 491.1 610.0 489.2C617.7 487.3 621.9 484.8 626.0 481.6C630.1 478.4 631.8 473.3 634.6 470.0C637.4 466.7 640.3 463.5 643.0 461.6C645.7 459.7 648.0 459.8 651.0 458.8C654.0 457.8 657.6 456.4 661.0 455.8C664.4 455.2 668.0 454.7 671.5 455.0C675.0 455.3 677.2 455.1 682.0 457.6C686.8 460.1 693.7 465.6 700.0 470.0C706.3 474.4 713.3 480.0 720.0 483.8C726.7 487.6 733.3 490.3 740.0 492.6C746.7 494.9 750.0 496.5 760.0 497.6C770.0 498.7 778.8 499.0 800.0 499.2C821.2 499.4 867.3 499.2 887.0 498.6C906.7 498.0 907.7 496.9 918.0 495.6C928.3 494.3 938.7 492.0 949.0 490.8C959.3 489.6 969.8 489.1 980.0 488.4C990.2 487.7 1002.2 487.2 1010.0 486.6C1017.8 486.0 1022.5 486.1 1027.0 484.8C1031.5 483.5 1034.2 480.3 1037.0 479.0C1039.8 477.7 1042.8 477.5 1044.0 477.2M121.0 495.8C126.8 495.5 145.0 494.7 156.0 493.8C167.0 492.9 180.2 491.4 187.0 490.4C193.8 489.4 193.2 488.9 197.0 487.7C200.8 486.5 205.3 483.1 209.5 483.0C213.7 482.9 218.2 485.8 222.0 487.4C225.8 488.9 228.0 490.9 232.0 492.3C236.0 493.7 241.3 494.9 246.0 495.8C250.7 496.7 251.0 497.3 260.0 497.8C269.0 498.3 276.7 498.7 300.0 498.6C323.3 498.5 366.7 497.7 400.0 497.4C433.3 497.1 470.0 496.9 500.0 496.6C530.0 496.3 561.7 496.4 580.0 495.8C598.3 495.2 602.3 494.2 610.0 492.8C617.7 491.4 621.9 489.7 626.0 487.4C630.1 485.1 631.8 481.5 634.6 479.0C637.4 476.5 640.3 474.0 643.0 472.4C645.7 470.8 648.0 470.4 651.0 469.2C654.0 468.0 657.6 466.1 661.0 465.2C664.4 464.3 668.0 463.8 671.5 464.0C675.0 464.2 677.2 464.4 682.0 466.4C686.8 468.4 693.7 472.5 700.0 476.0C706.3 479.5 713.3 484.1 720.0 487.2C726.7 490.3 733.3 492.5 740.0 494.4C746.7 496.3 750.0 497.5 760.0 498.4C770.0 499.3 778.8 499.6 800.0 499.8C821.2 500.0 867.3 499.8 887.0 499.4C906.7 499.0 907.7 498.3 918.0 497.4C928.3 496.5 938.7 495.0 949.0 494.2C959.3 493.4 969.8 493.1 980.0 492.6C990.2 492.1 1002.2 491.8 1010.0 491.4C1017.8 491.0 1022.5 491.1 1027.0 490.2C1031.5 489.3 1034.2 486.9 1037.0 486.0C1039.8 485.1 1042.8 485.0 1044.0 484.8M121.0 498.4C126.8 498.2 145.0 497.9 156.0 497.4C167.0 496.9 180.2 495.8 187.0 495.2C193.8 494.6 193.2 494.5 197.0 493.6C200.8 492.7 205.3 490.1 209.5 490.0C213.7 489.9 218.2 492.1 222.0 493.2C225.8 494.3 228.0 495.5 232.0 496.4C236.0 497.3 241.3 497.9 246.0 498.4C250.7 498.9 251.0 499.2 260.0 499.4C269.0 499.6 276.7 499.8 300.0 499.8C323.3 499.8 366.7 499.4 400.0 499.2C433.3 499.0 470.0 498.9 500.0 498.8C530.0 498.7 561.7 498.8 580.0 498.4C598.3 498.0 602.3 497.3 610.0 496.4C617.7 495.5 621.9 494.6 626.0 493.2C630.1 491.8 631.8 489.7 634.6 488.0C637.4 486.3 640.3 484.6 643.0 483.2C645.7 481.8 648.0 481.0 651.0 479.6C654.0 478.2 657.6 475.7 661.0 474.6C664.4 473.5 668.0 472.9 671.5 473.0C675.0 473.1 677.2 473.7 682.0 475.2C686.8 476.7 693.7 479.4 700.0 482.0C706.3 484.6 713.3 488.2 720.0 490.6C726.7 493.0 733.3 494.8 740.0 496.2C746.7 497.6 750.0 498.5 760.0 499.2C770.0 499.9 778.8 500.2 800.0 500.4C821.2 500.6 867.3 500.4 887.0 500.2C906.7 500.0 907.7 499.6 918.0 499.2C928.3 498.8 938.7 498.0 949.0 497.6C959.3 497.2 969.8 497.0 980.0 496.8C990.2 496.6 1002.2 496.4 1010.0 496.2C1017.8 496.0 1022.5 496.1 1027.0 495.6C1031.5 495.1 1034.2 493.5 1037.0 493.0C1039.8 492.5 1042.8 492.5 1044.0 492.4M121.0 501.0C126.8 501.0 145.0 501.2 156.0 501.0C167.0 500.8 180.2 500.2 187.0 500.0C193.8 499.8 193.2 500.0 197.0 499.5C200.8 499.0 205.3 497.1 209.5 497.0C213.7 496.9 218.2 498.4 222.0 499.0C225.8 499.6 228.0 500.2 232.0 500.5C236.0 500.8 241.3 500.9 246.0 501.0C250.7 501.1 251.0 501.0 260.0 501.0C269.0 501.0 276.7 501.0 300.0 501.0C323.3 501.0 366.7 501.0 400.0 501.0C433.3 501.0 470.0 501.0 500.0 501.0C530.0 501.0 561.7 501.2 580.0 501.0C598.3 500.8 602.3 500.3 610.0 500.0C617.7 499.7 621.9 499.5 626.0 499.0C630.1 498.5 631.8 497.8 634.6 497.0C637.4 496.2 640.3 495.2 643.0 494.0C645.7 492.8 648.0 491.7 651.0 490.0C654.0 488.3 657.6 485.3 661.0 484.0C664.4 482.7 668.0 482.0 671.5 482.0C675.0 482.0 677.2 483.0 682.0 484.0C686.8 485.0 693.7 486.3 700.0 488.0C706.3 489.7 713.3 492.3 720.0 494.0C726.7 495.7 733.3 497.0 740.0 498.0C746.7 499.0 750.0 499.5 760.0 500.0C770.0 500.5 778.8 500.8 800.0 501.0C821.2 501.2 867.3 501.0 887.0 501.0C906.7 501.0 907.7 501.0 918.0 501.0C928.3 501.0 938.7 501.0 949.0 501.0C959.3 501.0 969.8 501.0 980.0 501.0C990.2 501.0 1002.2 501.0 1010.0 501.0C1017.8 501.0 1022.5 501.2 1027.0 501.0C1031.5 500.8 1034.2 500.2 1037.0 500.0C1039.8 499.8 1042.8 500.0 1044.0 500.0" stroke="#0000ff" stroke-width="2.0"/><path d="M121.2 486.0C127.0 484.8 145.2 481.2 156.1 478.8C167.0 476.4 180.1 474.2 186.9 471.6C193.8 469.0 194.1 468.2 197.2 463.4C200.3 458.6 203.2 447.0 205.4 442.9C207.6 438.8 208.4 437.8 210.5 438.8C212.6 439.8 215.1 444.2 217.7 449.0C220.3 453.8 223.2 462.0 225.9 467.5C228.6 473.0 230.3 478.1 234.1 481.9C237.9 485.7 242.7 487.9 248.5 490.1C254.3 492.3 260.5 494.3 269.1 495.3C277.7 496.3 286.4 496.7 299.9 496.3C313.4 495.9 330.0 493.5 350.0 493.2C370.0 492.9 395.0 494.4 420.0 494.5C445.0 494.6 474.2 494.6 500.0 494.0C525.8 493.4 557.4 492.5 575.0 491.2C592.6 489.9 597.2 488.6 605.8 486.0C614.4 483.4 620.2 479.8 626.4 475.7C632.6 471.6 637.7 466.5 642.8 461.4C647.9 456.3 653.1 448.6 657.2 444.9C661.3 441.2 663.9 440.0 667.4 439.0C670.9 438.0 674.8 439.0 678.0 439.0C681.2 439.0 684.0 441.1 686.7 438.8C689.4 436.5 691.6 431.2 694.0 425.0C696.4 418.8 698.8 415.9 701.0 401.8C703.2 387.7 705.7 358.4 707.2 340.2C708.8 322.0 709.1 301.3 710.3 292.9C711.5 284.5 713.1 290.0 714.5 290.0C715.9 290.0 717.3 284.5 718.5 292.9C719.7 301.3 720.1 318.6 721.6 340.2C723.1 361.8 725.7 401.8 727.8 422.3C729.9 442.8 731.6 455.2 734.0 463.4C736.4 471.6 739.8 468.2 742.2 471.6C744.6 475.0 745.6 480.4 748.3 484.0C751.0 487.6 748.3 491.1 758.6 493.2C768.9 495.2 788.6 496.1 810.0 496.3C831.4 496.5 869.2 495.2 887.2 494.2C905.2 493.2 907.7 492.2 918.0 490.1C928.3 488.1 938.5 484.1 948.8 481.9C959.1 479.7 969.3 478.2 979.6 476.8C989.9 475.4 1002.5 474.6 1010.4 473.7C1018.3 472.8 1022.8 473.7 1026.9 471.6C1031.0 469.6 1032.7 464.8 1035.1 461.4C1037.5 458.0 1039.7 452.7 1041.2 451.1C1042.7 449.5 1043.5 451.9 1044.0 452.0" stroke="#ff0000" stroke-width="8.5"/></g><clipPath id="cL2"><rect x="120.6" y="522.9" width="922.8000000000001" height="241.19999999999993"/></clipPath><g clip-path="url(#cL2)" fill="none" stroke-linejoin="round" stroke-linecap="round"><path d="M121.2 598.6 L123.4 597.9 L125.6 596.4 L127.8 597.7 L130.0 599.0 L132.2 600.9 L134.4 601.0 L136.6 601.6 L138.8 605.0 L141.0 602.8 L143.2 606.3 L145.4 606.6 L147.6 594.7 L149.8 583.2 L152.0 574.3 L154.2 577.2 L156.4 588.7 L158.6 593.2 L160.8 588.2 L163.0 580.1 L165.2 580.7 L167.4 578.7 L169.6 581.3 L171.8 591.6 L174.0 587.8 L176.2 582.6 L178.4 592.7 L180.6 603.9 L182.8 598.6 L185.0 594.0 L187.2 591.9 L189.4 604.3 L191.6 609.0 L193.8 605.9 L196.0 599.9 L198.2 603.6 L200.4 606.7 L202.6 607.8 L204.8 599.7 L207.0 607.3 L209.2 608.1 L211.4 614.9 L213.6 621.0 L215.8 622.3 L218.0 618.3 L220.2 616.0 L222.4 615.0 L224.6 616.7 L226.8 619.9 L229.0 620.9 L231.2 615.6 L233.4 599.2 L235.6 599.4 L237.8 604.1 L240.0 607.5 L242.2 604.4 L244.4 605.2 L246.6 600.0 L248.8 611.3 L251.0 619.0 L253.2 608.8 L255.4 602.8 L257.6 599.3 L259.8 608.3 L262.0 614.9 L264.2 609.6 L266.4 607.2 L268.6 600.1 L270.8 608.9 L273.0 619.8 L275.2 628.7 L277.4 623.8 L279.6 615.7 L281.8 613.5 L284.0 622.8 L286.2 628.3 L288.4 632.5 L290.6 639.9 L292.8 637.3 L295.0 631.9 L297.2 621.7 L299.4 614.8 L301.6 605.6 L303.8 598.0 L306.0 596.9 L308.2 593.2 L310.4 592.2 L312.6 591.1 L314.8 586.3 L317.0 583.6 L319.2 580.7 L321.4 584.6 L323.6 589.6 L325.8 592.6 L328.0 591.4 L330.2 595.3 L332.4 602.1 L334.6 610.6 L336.8 615.6 L339.0 616.3 L341.2 618.1 L343.4 617.3 L345.6 615.3 L347.8 616.5 L350.0 619.8 L352.2 623.8 L354.4 621.1 L356.6 622.1 L358.8 627.0 L361.0 626.4 L363.2 627.9 L365.4 629.3 L367.6 624.6 L369.8 619.5 L372.0 625.1 L374.2 633.5 L376.4 640.6 L378.6 633.5 L380.8 621.0 L383.0 620.3 L385.2 630.5 L387.4 628.9 L389.6 625.5 L391.8 616.1 L394.0 616.7 L396.2 620.8 L398.4 619.9 L400.6 622.9 L402.8 620.8 L405.0 624.1 L407.2 623.7 L409.4 628.4 L411.6 624.8 L413.8 618.6 L416.0 621.9 L418.2 626.5 L420.4 634.0 L422.6 643.6 L424.8 633.4 L427.0 623.0 L429.2 623.9 L431.4 620.3 L433.6 625.9 L435.8 628.9 L438.0 639.8 L440.2 642.1 L442.4 645.1 L444.6 644.9 L446.8 645.5 L449.0 645.6 L451.2 642.9 L453.4 642.4 L455.6 638.2 L457.8 639.2 L460.0 635.8 L462.2 636.4 L464.4 636.9 L466.6 639.7 L468.8 639.5 L471.0 639.0 L473.2 641.4 L475.4 653.1 L477.6 665.6 L479.8 676.3 L482.0 677.8 L484.2 681.4 L486.4 669.3 L488.6 657.9 L490.8 656.4 L493.0 659.1 L495.2 660.9 L497.4 659.5 L499.6 655.2 L501.8 652.9 L504.0 648.4 L506.2 638.7 L508.4 628.4 L510.6 628.9 L512.8 627.9 L515.0 631.7 L517.2 632.4 L519.4 638.8 L521.6 637.1 L523.8 640.0 L526.0 641.9 L528.2 639.4 L530.4 639.3 L532.6 640.3 L534.8 638.2 L537.0 634.7 L539.2 637.0 L541.4 636.1 L543.6 638.0 L545.8 641.0 L548.0 644.6 L550.2 643.0 L552.4 645.8 L554.6 652.8 L556.8 656.1 L559.0 660.1 L561.2 659.0 L563.4 651.8 L565.6 647.2 L567.8 641.9 L570.0 640.2 L572.2 639.8 L574.4 637.5 L576.6 633.8 L578.8 635.5 L581.0 632.6 L583.2 635.9 L585.4 631.7 L587.6 649.2 L589.8 661.8 L592.0 662.6 L594.2 656.0 L596.4 662.3 L598.6 670.3 L600.8 667.5 L603.0 655.6 L605.2 658.0 L607.4 669.4 L609.6 668.6 L611.8 666.3 L614.0 660.4 L616.2 656.9 L618.4 649.2 L620.6 643.1 L622.8 646.3 L625.0 648.2 L627.2 644.7 L629.4 663.9 L631.6 675.2 L633.8 668.7 L636.0 660.2 L638.2 658.0 L640.4 656.0 L642.6 654.5 L644.8 653.3 L647.0 656.5 L649.2 654.3 L651.4 659.0 L653.6 678.7 L655.8 677.6 L658.0 683.1 L660.2 682.9 L662.4 689.1 L664.6 699.1 L666.8 702.9 L669.0 704.2 L671.2 707.2 L673.4 696.2 L675.6 683.0 L677.8 683.4 L680.0 683.2 L682.2 682.9 L684.4 680.3 L686.6 675.6 L688.8 675.2 L691.0 670.8 L693.2 666.7 L695.4 660.8 L697.6 654.6 L699.8 651.2 L702.0 636.2 L704.2 617.4 L706.4 603.7 L708.6 588.2 L710.8 597.5 L713.0 609.0 L715.2 618.0 L717.4 623.0 L719.6 616.6 L721.8 606.8 L724.0 593.9 L726.2 577.1 L728.4 576.5 L730.6 584.0 L732.8 585.3 L735.0 587.5 L737.2 589.9 L739.4 593.3 L741.6 592.9 L743.8 587.0 L746.0 588.0 L748.2 591.9 L750.4 594.4 L752.6 604.2 L754.8 611.7 L757.0 620.0 L759.2 634.7 L761.4 635.2 L763.6 637.5 L765.8 633.1 L768.0 644.4 L770.2 655.8 L772.4 647.0 L774.6 644.0 L776.8 652.9 L779.0 660.3 L781.2 660.4 L783.4 652.4 L785.6 646.9 L787.8 644.3 L790.0 645.2 L792.2 644.5 L794.4 647.6 L796.6 655.4 L798.8 659.9 L801.0 631.7 L803.2 609.3 L805.4 606.6 L807.6 619.0 L809.8 629.7 L812.0 606.6 L814.2 598.5 L816.4 602.1 L818.6 610.7 L820.8 616.3 L823.0 577.6 L825.2 544.8 L827.4 539.8 L829.6 536.9 L831.8 540.8 L834.0 574.0 L836.2 588.1 L838.4 590.1 L840.6 588.2 L842.8 597.0 L845.0 599.7 L847.2 601.7 L849.4 604.2 L851.6 606.0 L853.8 601.9 L856.0 599.4 L858.2 596.1 L860.4 596.7 L862.6 601.2 L864.8 606.0 L867.0 608.6 L869.2 609.2 L871.4 611.3 L873.6 614.2 L875.8 605.7 L878.0 601.6 L880.2 602.9 L882.4 601.5 L884.6 602.2 L886.8 605.4 L889.0 610.8 L891.2 617.4 L893.4 628.6 L895.6 633.6 L897.8 639.8 L900.0 638.5 L902.2 631.8 L904.4 624.5 L906.6 618.5 L908.8 626.1 L911.0 629.4 L913.2 629.2 L915.4 620.7 L917.6 613.3 L919.8 609.4 L922.0 611.8 L924.2 608.7 L926.4 606.1 L928.6 607.5 L930.8 612.4 L933.0 616.0 L935.2 624.8 L937.4 623.6 L939.6 611.3 L941.8 610.1 L944.0 606.4 L946.2 608.6 L948.4 609.3 L950.6 614.7 L952.8 627.7 L955.0 634.0 L957.2 643.0 L959.4 647.9 L961.6 648.0 L963.8 637.9 L966.0 624.6 L968.2 624.4 L970.4 630.8 L972.6 636.4 L974.8 638.2 L977.0 644.5 L979.2 645.6 L981.4 647.8 L983.6 644.9 L985.8 648.4 L988.0 645.1 L990.2 645.6 L992.4 624.7 L994.6 608.9 L996.8 597.1 L999.0 588.3 L1001.2 584.6 L1003.4 584.4 L1005.6 594.4 L1007.8 601.5 L1010.0 600.9 L1012.2 602.7 L1014.4 608.2 L1016.6 614.1 L1018.8 618.2 L1021.0 618.8 L1023.2 615.2 L1025.4 608.0 L1027.6 613.5 L1029.8 618.4 L1032.0 620.3 L1034.2 622.6 L1036.4 623.0 L1038.6 621.6 L1040.8 620.6 L1043.0 624.6" stroke="#000" stroke-width="5.0" stroke-linejoin="miter" stroke-miterlimit="3"/><path d="M121.2 627.9C123.5 628.9 130.9 631.6 135.0 634.0C139.1 636.4 141.6 640.3 145.8 642.0C150.0 643.7 155.6 643.8 160.0 644.0C164.4 644.2 169.5 645.6 172.5 643.3C175.5 641.0 175.9 637.2 178.0 630.0C180.1 622.8 182.3 609.3 184.8 600.2C187.3 591.1 190.0 582.4 193.1 575.5C196.2 568.6 199.9 562.9 203.3 559.1C206.7 555.3 209.5 553.9 213.6 552.9C217.7 551.9 220.5 552.2 228.0 552.9C235.5 553.6 250.2 556.1 258.8 557.0C267.4 557.9 269.0 557.8 279.3 558.1C289.6 558.5 308.6 557.7 320.4 559.1C332.2 560.5 339.1 562.9 350.0 566.3C360.9 569.7 373.2 575.7 386.1 579.6C399.0 583.5 413.5 585.5 427.2 589.9C440.9 594.3 455.3 600.8 468.3 606.3C481.3 611.8 494.9 617.3 505.2 622.8C515.5 628.3 522.4 633.4 529.9 639.2C537.4 645.0 542.9 651.9 550.4 657.7C557.9 663.5 565.9 670.3 575.0 674.0C584.1 677.7 594.7 682.7 605.0 680.0C615.3 677.3 627.9 663.8 636.6 657.7C645.3 651.6 651.3 646.9 657.2 643.3C663.1 639.7 666.9 639.9 672.0 636.0C677.1 632.1 683.8 630.2 688.0 620.0C692.2 609.8 694.3 589.2 697.0 575.0C699.7 560.8 701.8 546.7 704.0 535.0C706.2 523.3 707.8 510.0 710.0 505.0C712.2 500.0 714.8 498.3 717.0 505.0C719.2 511.7 721.0 534.8 723.0 545.0C725.0 555.2 726.2 563.0 729.0 566.0C731.8 569.0 734.8 563.8 740.0 563.0C745.2 562.2 751.7 561.3 760.0 561.0C768.3 560.7 781.7 561.0 790.0 561.0C798.3 561.0 800.8 560.7 810.0 561.0C819.2 561.3 835.6 562.6 845.0 563.0C854.4 563.4 859.6 560.8 866.6 563.2C873.6 565.6 880.4 572.1 887.2 577.6C894.1 583.1 900.9 588.9 907.7 596.1C914.6 603.3 921.4 614.2 928.3 620.7C935.1 627.2 942.0 632.4 948.8 635.1C955.6 637.8 962.4 637.5 969.3 637.1C976.1 636.8 984.1 634.4 989.9 633.0C995.7 631.6 1000.2 633.7 1004.3 628.9C1008.4 624.1 1010.7 613.5 1014.5 604.3C1018.3 595.1 1022.1 581.7 1026.9 573.5C1031.7 565.3 1040.6 558.1 1043.3 555.0M121.2 640.0C123.5 641.7 130.9 647.0 135.0 650.0C139.1 653.0 141.6 655.7 145.8 658.0C150.0 660.3 155.6 662.3 160.0 664.0C164.4 665.7 169.3 667.8 172.5 668.0C175.7 668.2 176.7 668.3 179.3 665.0C181.9 661.7 185.8 655.4 187.9 648.2C190.0 641.0 189.9 632.4 192.0 622.0C194.1 611.6 197.5 595.3 200.7 585.7C203.9 576.1 207.8 569.4 211.4 564.4C215.0 559.4 214.1 556.6 222.0 555.7C229.9 554.8 249.2 558.3 258.8 559.0C268.4 559.7 269.0 559.8 279.3 560.1C289.6 560.5 308.6 559.7 320.4 561.1C332.2 562.5 339.1 564.9 350.0 568.3C360.9 571.7 373.2 577.7 386.1 581.6C399.0 585.5 413.5 587.5 427.2 591.9C440.9 596.3 455.3 602.8 468.3 608.3C481.3 613.8 494.9 619.3 505.2 624.8C515.5 630.3 522.4 635.4 529.9 641.2C537.4 647.0 542.9 653.9 550.4 659.7C557.9 665.5 565.9 672.3 575.0 676.0C584.1 679.7 594.7 684.7 605.0 682.0C615.3 679.3 627.9 665.8 636.6 659.7C645.3 653.6 651.3 648.9 657.2 645.3C663.1 641.7 666.9 641.9 672.0 638.0C677.1 634.1 683.8 632.2 688.0 622.0C692.2 611.8 694.3 591.2 697.0 577.0C699.7 562.8 701.8 548.7 704.0 537.0C706.2 525.3 707.8 512.0 710.0 507.0C712.2 502.0 714.8 500.3 717.0 507.0C719.2 513.7 721.0 536.8 723.0 547.0C725.0 557.2 726.2 565.0 729.0 568.0C731.8 571.0 734.8 565.8 740.0 565.0C745.2 564.2 751.7 563.3 760.0 563.0C768.3 562.7 781.7 563.0 790.0 563.0C798.3 563.0 800.8 562.7 810.0 563.0C819.2 563.3 835.6 564.6 845.0 565.0C854.4 565.4 859.6 562.8 866.6 565.2C873.6 567.6 880.4 574.1 887.2 579.6C894.1 585.1 900.9 590.9 907.7 598.1C914.6 605.3 921.4 616.2 928.3 622.7C935.1 629.2 942.0 634.4 948.8 637.1C955.6 639.8 962.4 639.5 969.3 639.1C976.1 638.8 984.1 636.4 989.9 635.0C995.7 633.6 1000.2 635.7 1004.3 630.9C1008.4 626.1 1010.7 615.5 1014.5 606.3C1018.3 597.1 1022.1 583.7 1026.9 575.5C1031.7 567.3 1040.6 560.1 1043.3 557.0M640.0 660.0C643.3 658.3 655.3 656.7 660.0 650.0C664.7 643.3 666.0 628.7 668.0 620.0C670.0 611.3 670.3 602.3 672.0 598.0C673.7 593.7 676.0 593.7 678.0 594.0C680.0 594.3 682.0 592.3 684.0 600.0C686.0 607.7 687.8 626.7 690.0 640.0C692.2 653.3 694.5 671.7 697.0 680.0C699.5 688.3 702.0 690.0 705.0 690.0C708.0 690.0 713.3 681.7 715.0 680.0M645.0 662.0C648.3 659.7 660.5 654.2 665.0 648.0C669.5 641.8 670.0 633.0 672.0 625.0C674.0 617.0 675.2 604.7 677.0 600.0C678.8 595.3 681.0 596.2 683.0 597.0C685.0 597.8 687.2 597.8 689.0 605.0C690.8 612.2 692.2 628.3 694.0 640.0C695.8 651.7 697.7 667.0 700.0 675.0C702.3 683.0 705.0 686.5 708.0 688.0C711.0 689.5 716.3 684.7 718.0 684.0M121.2 630.0C123.5 631.7 130.7 636.7 135.0 640.0C139.3 643.3 142.8 646.7 147.0 650.0C151.2 653.3 155.3 657.0 160.0 660.0C164.7 663.0 170.0 666.0 175.0 668.0C180.0 670.0 185.8 673.0 190.0 672.0C194.2 671.0 197.5 668.2 200.0 662.0C202.5 655.8 203.5 645.7 205.0 635.0C206.5 624.3 207.2 609.2 209.0 598.0C210.8 586.8 212.8 575.3 216.0 568.0C219.2 560.7 220.9 555.8 228.0 554.0C235.1 552.2 250.2 556.3 258.8 557.0C267.4 557.7 269.0 557.8 279.3 558.1C289.6 558.5 308.6 557.7 320.4 559.1C332.2 560.5 339.1 562.9 350.0 566.3C360.9 569.7 373.2 575.7 386.1 579.6C399.0 583.5 413.5 585.5 427.2 589.9C440.9 594.3 455.3 600.8 468.3 606.3C481.3 611.8 494.9 617.3 505.2 622.8C515.5 628.3 522.4 633.4 529.9 639.2C537.4 645.0 542.9 651.9 550.4 657.7C557.9 663.5 565.9 670.3 575.0 674.0C584.1 677.7 594.7 682.7 605.0 680.0C615.3 677.3 627.9 663.8 636.6 657.7C645.3 651.6 651.3 646.9 657.2 643.3C663.1 639.7 666.9 639.9 672.0 636.0C677.1 632.1 683.8 630.2 688.0 620.0C692.2 609.8 694.3 589.2 697.0 575.0C699.7 560.8 701.8 546.7 704.0 535.0C706.2 523.3 707.8 510.0 710.0 505.0C712.2 500.0 714.8 498.3 717.0 505.0C719.2 511.7 721.0 534.8 723.0 545.0C725.0 555.2 726.2 563.0 729.0 566.0C731.8 569.0 734.8 563.8 740.0 563.0C745.2 562.2 751.7 561.3 760.0 561.0C768.3 560.7 781.7 561.0 790.0 561.0C798.3 561.0 800.8 560.7 810.0 561.0C819.2 561.3 835.6 562.6 845.0 563.0C854.4 563.4 859.6 560.8 866.6 563.2C873.6 565.6 880.4 572.1 887.2 577.6C894.1 583.1 900.9 588.9 907.7 596.1C914.6 603.3 921.4 614.2 928.3 620.7C935.1 627.2 942.0 631.1 948.8 635.1C955.6 639.1 962.4 642.2 969.3 645.0C976.1 647.8 984.1 650.3 989.9 652.0C995.7 653.7 1000.2 654.5 1004.3 655.0C1008.4 655.5 1010.7 655.8 1014.5 655.0C1018.3 654.2 1022.1 658.3 1026.9 650.0C1031.7 641.7 1040.6 612.5 1043.3 605.0M121.2 632.7C123.5 634.4 130.7 639.6 135.0 642.9C139.3 646.2 142.7 649.4 146.9 652.6C151.1 655.8 155.4 659.4 160.0 662.2C164.6 665.0 170.0 667.7 174.8 669.5C179.6 671.2 184.9 674.0 188.9 672.9C192.9 671.8 196.3 669.0 198.8 663.1C201.3 657.2 202.5 647.8 204.1 637.7C205.7 627.7 206.6 613.8 208.5 602.9C210.3 592.0 212.2 579.9 215.5 572.3C218.7 564.6 220.8 559.1 228.0 556.9C235.2 554.7 250.2 558.4 258.8 559.1C267.4 559.7 269.0 560.3 279.3 560.6C289.6 561.0 308.6 559.8 320.4 561.0C332.2 562.1 339.1 563.9 350.0 567.5C360.9 571.1 373.2 578.4 386.1 582.6C399.0 586.8 413.5 588.5 427.2 592.9C440.9 597.3 455.2 603.7 468.3 609.1C481.4 614.5 495.3 619.9 505.6 625.2C515.8 630.6 522.4 635.5 529.9 641.3C537.4 647.0 542.9 654.0 550.4 659.8C557.9 665.6 565.9 672.1 575.0 676.1C584.1 680.0 594.8 685.8 605.1 683.6C615.3 681.3 627.9 668.5 636.6 662.6C645.3 656.8 651.3 651.9 657.2 648.3C663.1 644.8 666.8 645.0 672.1 641.3C677.5 637.7 684.7 635.6 689.1 626.4C693.5 617.1 695.7 598.5 698.4 585.6C701.1 572.8 703.0 560.3 705.3 549.3C707.7 538.4 710.0 525.6 712.3 520.0C714.6 514.4 717.1 511.2 719.3 515.5C721.4 519.7 723.3 537.5 725.3 545.3C727.3 553.0 728.5 559.5 731.2 562.0C733.9 564.5 736.8 560.1 741.6 560.0C746.5 559.9 752.4 561.0 760.5 561.5C768.5 561.9 781.7 562.6 790.0 562.9C798.3 563.2 800.8 562.8 810.0 563.1C819.2 563.4 835.6 564.5 845.0 564.9C854.4 565.3 859.6 563.2 866.6 565.6C873.6 568.1 880.3 574.3 887.2 579.7C894.0 585.1 900.9 591.0 907.7 598.1C914.6 605.2 921.4 616.0 928.3 622.5C935.1 629.1 942.0 633.2 948.8 637.4C955.6 641.5 962.4 644.7 969.3 647.6C976.1 650.5 984.1 653.2 989.9 654.7C995.7 656.3 1000.2 656.7 1004.3 657.0C1008.4 657.3 1010.7 657.5 1014.5 656.6C1018.3 655.7 1022.1 660.1 1026.9 651.5C1031.7 643.0 1040.6 613.1 1043.3 605.5M121.2 635.4C123.5 637.1 130.7 642.5 135.0 645.8C139.3 649.1 142.6 652.0 146.8 655.1C150.9 658.2 155.4 661.7 160.0 664.4C164.6 667.0 169.9 669.3 174.5 670.9C179.2 672.5 184.0 674.9 187.8 673.8C191.7 672.7 195.1 669.8 197.6 664.2C200.2 658.6 201.5 649.9 203.2 640.5C204.9 631.1 206.0 618.5 207.9 607.8C209.9 597.2 211.6 584.6 214.9 576.5C218.3 568.5 220.7 562.4 228.0 559.8C235.3 557.2 250.2 560.5 258.8 561.1C267.4 561.7 269.0 562.9 279.3 563.2C289.6 563.5 308.6 561.9 320.4 562.8C332.2 563.8 339.0 565.0 350.0 568.8C360.9 572.6 373.2 581.1 386.1 585.6C399.0 590.1 413.5 591.5 427.2 595.9C440.9 600.3 455.2 606.6 468.3 611.9C481.4 617.2 495.7 622.4 505.9 627.7C516.2 632.9 522.5 637.7 529.9 643.3C537.3 649.0 542.9 656.0 550.4 661.8C557.9 667.6 565.9 673.9 575.0 678.1C584.1 682.3 594.9 688.9 605.1 687.1C615.4 685.4 627.9 673.2 636.6 667.6C645.3 661.9 651.3 656.9 657.2 653.4C663.1 649.9 666.8 650.1 672.3 646.7C677.8 643.2 685.6 641.1 690.2 632.7C694.8 624.3 697.0 607.8 699.7 596.3C702.5 584.8 704.2 573.9 706.7 563.7C709.2 553.4 712.1 541.3 714.5 535.0C717.0 528.7 719.4 524.2 721.5 525.9C723.7 527.7 725.6 540.2 727.5 545.5C729.5 550.9 730.7 556.1 733.4 558.0C736.0 559.9 738.7 556.3 743.3 557.0C747.9 557.7 753.1 560.6 760.9 561.9C768.7 563.2 781.8 564.3 790.0 564.8C798.2 565.4 800.8 564.8 810.0 565.2C819.2 565.5 835.6 566.3 845.0 566.8C854.4 567.3 859.6 565.6 866.6 568.1C873.6 570.6 880.4 576.5 887.2 581.9C894.1 587.2 900.9 593.0 907.7 600.1C914.5 607.2 921.4 617.8 928.3 624.4C935.1 631.0 942.0 635.3 948.8 639.6C955.6 643.9 962.4 647.3 969.3 650.3C976.1 653.2 984.1 656.0 989.9 657.5C995.7 658.9 1000.2 658.9 1004.3 659.0C1008.4 659.1 1010.7 659.3 1014.5 658.3C1018.3 657.3 1022.1 661.8 1026.9 653.1C1031.7 644.4 1040.6 613.8 1043.3 605.9M121.2 638.1C123.5 639.9 130.8 645.5 135.0 648.7C139.2 652.0 142.5 654.7 146.7 657.7C150.8 660.7 155.4 664.1 160.0 666.5C164.6 669.0 169.9 671.0 174.3 672.4C178.8 673.7 183.0 675.9 186.7 674.7C190.4 673.6 193.8 670.6 196.4 665.3C199.0 660.0 200.5 651.9 202.3 643.2C204.1 634.4 205.3 623.1 207.4 612.7C209.4 602.3 210.9 589.2 214.4 580.8C217.8 572.5 220.6 565.6 228.0 562.7C235.4 559.7 250.2 562.7 258.8 563.2C267.4 563.7 269.0 565.5 279.3 565.7C289.6 566.0 308.6 564.0 320.4 564.7C332.2 565.4 339.1 566.1 350.0 570.0C360.9 574.0 373.2 583.8 386.1 588.6C399.0 593.4 413.5 594.5 427.2 598.9C440.9 603.2 455.1 609.5 468.3 614.7C481.5 619.9 496.0 625.0 506.3 630.1C516.6 635.2 522.6 639.8 529.9 645.4C537.3 651.0 542.9 658.1 550.4 663.9C557.9 669.7 565.9 675.7 575.0 680.2C584.1 684.7 595.0 692.0 605.2 690.7C615.5 689.4 627.9 677.9 636.6 672.5C645.3 667.1 651.2 661.9 657.2 658.4C663.2 655.0 666.8 655.2 672.4 652.0C678.1 648.8 686.5 646.6 691.3 639.1C696.0 631.6 698.3 617.1 701.1 606.9C703.9 596.7 705.4 587.5 708.0 578.0C710.7 568.5 714.2 556.9 716.8 550.0C719.4 543.1 721.7 537.1 723.8 536.4C726.0 535.7 727.9 542.9 729.8 545.8C731.8 548.8 733.0 552.6 735.5 554.0C738.1 555.4 740.6 552.6 744.9 554.0C749.2 555.4 753.8 560.2 761.4 562.4C768.9 564.5 781.9 565.9 790.0 566.7C798.1 567.5 800.8 566.9 810.0 567.3C819.2 567.6 835.6 568.2 845.0 568.7C854.4 569.3 859.6 568.0 866.6 570.5C873.6 573.1 880.4 578.7 887.2 584.0C894.1 589.2 900.9 595.0 907.7 602.1C914.6 609.1 921.4 619.6 928.3 626.2C935.1 632.9 942.0 637.4 948.8 641.9C955.6 646.3 962.4 649.9 969.3 652.9C976.1 656.0 984.1 658.8 989.9 660.2C995.7 661.5 1000.2 661.0 1004.3 661.0C1008.4 661.0 1010.7 661.0 1014.5 659.9C1018.3 658.8 1022.1 663.6 1026.9 654.6C1031.7 645.7 1040.6 614.4 1043.3 606.4M121.2 640.8C123.5 642.6 130.8 648.4 135.0 651.6C139.2 654.9 142.4 657.4 146.6 660.3C150.7 663.1 155.4 666.5 160.0 668.7C164.6 671.0 169.8 672.7 174.1 673.8C178.4 675.0 182.1 676.9 185.6 675.6C189.2 674.4 192.6 671.4 195.2 666.4C197.9 661.4 199.4 654.0 201.4 645.9C203.3 637.8 204.7 627.8 206.8 617.6C208.9 607.5 210.3 593.8 213.8 585.1C217.3 576.4 220.5 568.9 228.0 565.6C235.5 562.3 250.2 564.8 258.8 565.2C267.4 565.7 269.0 568.0 279.3 568.2C289.6 568.5 308.6 566.0 320.4 566.6C332.2 567.1 339.1 567.1 350.0 571.3C360.9 575.4 373.2 586.5 386.1 591.6C399.0 596.7 413.5 597.5 427.2 601.9C440.9 606.2 455.1 612.4 468.3 617.5C481.5 622.6 496.4 627.5 506.7 632.5C517.0 637.5 522.7 641.9 529.9 647.5C537.2 653.1 542.9 660.1 550.4 665.9C557.9 671.7 565.9 677.5 575.0 682.3C584.1 687.0 595.0 695.1 605.3 694.3C615.6 693.5 627.9 682.6 636.6 677.4C645.3 672.3 651.2 666.8 657.2 663.5C663.2 660.1 666.7 660.4 672.6 657.3C678.4 654.3 687.4 652.1 692.4 645.5C697.3 638.8 699.6 626.4 702.5 617.5C705.3 608.7 706.6 601.1 709.4 592.3C712.2 583.6 716.3 572.6 719.1 565.0C721.9 557.4 723.9 550.0 726.1 546.8C728.3 543.7 730.2 545.6 732.1 546.1C734.0 546.6 735.3 549.2 737.7 550.0C740.1 550.8 742.5 548.9 746.5 551.0C750.6 553.1 754.6 559.9 761.8 562.8C769.1 565.8 782.0 567.5 790.0 568.6C798.0 569.7 800.8 569.0 810.0 569.4C819.2 569.7 835.6 570.0 845.0 570.6C854.4 571.2 859.6 570.4 866.6 572.9C873.6 575.5 880.4 580.9 887.2 586.1C894.1 591.3 900.9 597.1 907.7 604.1C914.6 611.1 921.4 621.4 928.3 628.1C935.1 634.8 942.0 639.6 948.8 644.2C955.6 648.7 962.4 652.4 969.3 655.5C976.1 658.7 984.1 661.7 989.9 662.9C995.7 664.2 1000.2 663.2 1004.3 663.0C1008.4 662.8 1010.7 662.7 1014.5 661.5C1018.3 660.4 1022.1 665.3 1026.9 656.2C1031.7 647.1 1040.6 615.0 1043.3 606.8M121.2 643.5C123.5 645.3 130.8 651.3 135.0 654.5C139.2 657.8 142.3 660.1 146.5 662.8C150.6 665.5 155.4 668.8 160.0 670.9C164.6 673.0 169.8 674.3 173.9 675.3C178.0 676.2 181.2 677.8 184.5 676.5C187.9 675.2 191.4 672.2 194.0 667.5C196.7 662.8 198.4 656.1 200.5 648.6C202.5 641.1 204.1 632.4 206.3 622.5C208.4 612.7 209.7 598.4 213.3 589.4C216.9 580.3 220.4 572.1 228.0 568.5C235.6 564.8 250.2 566.9 258.8 567.3C267.4 567.7 269.0 570.6 279.3 570.8C289.6 571.0 308.6 568.1 320.4 568.4C332.2 568.7 339.1 568.2 350.0 572.5C360.9 576.9 373.2 589.2 386.1 594.6C399.0 599.9 413.5 600.6 427.2 604.9C440.9 609.1 455.0 615.3 468.3 620.3C481.6 625.3 496.8 630.1 507.1 634.9C517.3 639.8 522.7 644.1 529.9 649.6C537.2 655.1 542.9 662.2 550.4 668.0C557.9 673.8 565.8 679.3 575.0 684.3C584.2 689.3 595.1 698.2 605.4 697.9C615.6 697.5 628.0 687.3 636.6 682.4C645.2 677.5 651.2 671.8 657.2 668.5C663.2 665.2 666.7 665.5 672.7 662.7C678.8 659.9 688.3 657.6 693.5 651.8C698.6 646.1 700.9 635.7 703.8 628.2C706.7 620.7 707.8 614.7 710.7 606.6C713.7 598.6 718.4 588.2 721.4 580.0C724.3 571.8 726.2 562.9 728.4 557.3C730.5 551.7 732.4 548.2 734.4 546.4C736.3 544.5 737.6 545.7 739.9 546.0C742.2 546.3 744.5 545.1 748.2 548.0C751.9 550.9 755.3 559.5 762.3 563.3C769.2 567.0 782.0 569.2 790.0 570.5C798.0 571.9 800.8 571.1 810.0 571.5C819.2 571.8 835.6 571.9 845.0 572.5C854.4 573.2 859.6 572.8 866.6 575.4C873.6 578.0 880.4 583.1 887.2 588.2C894.1 593.3 900.9 599.1 907.7 606.1C914.6 613.0 921.4 623.2 928.3 629.9C935.1 636.7 942.0 641.7 948.8 646.4C955.6 651.1 962.4 655.0 969.3 658.2C976.1 661.4 984.1 664.5 989.9 665.6C995.7 666.8 1000.2 665.4 1004.3 665.0C1008.4 664.6 1010.7 664.4 1014.5 663.2C1018.3 662.0 1022.1 667.0 1026.9 657.7C1031.7 648.4 1040.6 615.7 1043.3 607.3M121.2 646.2C123.5 648.1 130.8 654.3 135.0 657.5C139.2 660.7 142.2 662.8 146.3 665.4C150.5 668.0 155.5 671.2 160.0 673.1C164.5 675.0 169.7 676.0 173.6 676.7C177.5 677.5 180.3 678.8 183.5 677.5C186.7 676.1 190.2 672.9 192.9 668.6C195.5 664.3 197.4 658.2 199.5 651.4C201.7 644.5 203.5 637.1 205.7 627.5C207.9 617.8 209.0 603.0 212.7 593.6C216.4 584.3 220.3 575.4 228.0 571.3C235.7 567.3 250.2 569.0 258.8 569.3C267.4 569.7 269.0 573.2 279.3 573.3C289.6 573.5 308.6 570.2 320.4 570.3C332.2 570.4 339.1 569.2 350.0 573.8C360.9 578.3 373.2 591.9 386.1 597.5C399.0 603.2 413.5 603.6 427.2 607.8C440.9 612.1 454.9 618.2 468.3 623.1C481.7 628.0 497.2 632.6 507.4 637.4C517.7 642.1 522.8 646.2 530.0 651.6C537.1 657.1 542.9 664.2 550.4 670.0C557.9 675.8 565.8 681.1 575.0 686.4C584.2 691.6 595.2 701.3 605.4 701.4C615.7 701.6 628.0 692.0 636.6 687.3C645.2 682.7 651.2 676.8 657.2 673.6C663.2 670.4 666.6 670.6 672.9 668.0C679.1 665.5 689.2 663.0 694.5 658.2C699.9 653.3 702.3 645.0 705.2 638.8C708.1 632.6 709.0 628.3 712.1 621.0C715.1 613.7 720.5 603.9 723.6 595.0C726.7 586.1 728.5 575.8 730.6 567.7C732.8 559.7 734.7 550.9 736.6 546.6C738.5 542.3 739.9 542.3 742.1 542.0C744.3 541.7 746.4 541.4 749.8 545.0C753.3 548.6 756.0 559.2 762.7 563.7C769.4 568.3 782.1 570.8 790.0 572.5C797.9 574.1 800.8 573.2 810.0 573.5C819.2 573.9 835.6 573.7 845.0 574.5C854.4 575.2 859.6 575.2 866.6 577.8C873.6 580.5 880.4 585.3 887.2 590.4C894.1 595.4 900.9 601.1 907.7 608.0C914.6 614.9 921.4 625.0 928.3 631.8C935.1 638.5 942.0 643.8 948.8 648.7C955.6 653.5 962.4 657.5 969.3 660.8C976.1 664.1 984.1 667.3 989.9 668.4C995.7 669.4 1000.2 667.6 1004.3 667.0C1008.4 666.4 1010.7 666.1 1014.5 664.8C1018.3 663.5 1022.1 668.8 1026.9 659.3C1031.7 649.8 1040.6 616.3 1043.3 607.7M121.2 648.9C123.5 650.8 130.8 657.2 135.0 660.4C139.2 663.5 142.1 665.5 146.2 667.9C150.4 670.4 155.5 673.6 160.0 675.3C164.5 677.0 169.7 677.7 173.4 678.2C177.1 678.7 179.3 679.8 182.4 678.4C185.4 677.0 189.0 673.7 191.7 669.7C194.4 665.7 196.4 660.3 198.6 654.1C200.9 647.9 202.9 641.7 205.2 632.4C207.4 623.0 208.4 607.6 212.2 597.9C216.0 588.2 220.2 578.7 228.0 574.2C235.8 569.8 250.2 571.1 258.8 571.4C267.4 571.7 269.0 575.7 279.3 575.9C289.6 576.0 308.6 572.3 320.4 572.1C332.2 572.0 339.1 570.3 350.0 575.0C360.9 579.8 373.2 594.6 386.1 600.5C399.0 606.5 413.5 606.6 427.2 610.8C440.9 615.1 454.9 621.1 468.3 625.9C481.7 630.7 497.5 635.2 507.8 639.8C518.1 644.4 522.9 648.3 530.0 653.7C537.1 659.1 542.9 666.3 550.4 672.1C557.9 677.9 565.8 683.0 575.0 688.4C584.2 693.9 595.2 704.4 605.5 705.0C615.8 705.6 628.0 696.7 636.6 692.3C645.2 687.9 651.1 681.8 657.2 678.6C663.3 675.5 666.6 675.7 673.0 673.4C679.4 671.0 690.0 668.5 695.6 664.5C701.2 660.6 703.6 654.3 706.5 649.5C709.5 644.6 710.2 641.9 713.4 635.3C716.6 628.7 722.7 619.5 725.9 610.0C729.2 600.5 730.7 588.7 732.9 578.2C735.1 567.7 737.0 553.6 738.9 546.9C740.8 540.2 742.2 538.8 744.3 538.0C746.4 537.2 748.3 537.6 751.5 542.0C754.6 546.4 756.8 558.8 763.2 564.2C769.6 569.6 782.2 572.5 790.0 574.4C797.8 576.3 800.8 575.3 810.0 575.6C819.2 576.0 835.6 575.6 845.0 576.4C854.4 577.1 859.6 577.6 866.6 580.3C873.6 582.9 880.4 587.5 887.2 592.5C894.1 597.5 900.9 603.2 907.7 610.0C914.6 616.9 921.4 626.8 928.3 633.6C935.1 640.4 942.0 646.0 948.8 650.9C955.6 655.9 962.4 660.1 969.3 663.5C976.1 666.8 984.1 670.2 989.9 671.1C995.7 672.0 1000.2 669.8 1004.3 669.0C1008.4 668.2 1010.7 667.8 1014.5 666.5C1018.3 665.1 1022.1 670.5 1026.9 660.8C1031.7 651.1 1040.6 617.0 1043.3 608.2M121.2 651.6C123.5 653.5 130.8 660.1 135.0 663.3C139.2 666.4 142.0 668.1 146.1 670.5C150.3 672.9 155.5 675.9 160.0 677.5C164.5 679.0 169.6 679.3 173.2 679.6C176.7 679.9 178.4 680.7 181.3 679.3C184.2 677.8 187.7 674.5 190.5 670.8C193.2 667.1 195.4 662.4 197.7 656.8C200.1 651.2 202.3 646.4 204.6 637.3C207.0 628.2 207.7 612.2 211.6 602.2C215.5 592.2 220.1 581.9 228.0 577.1C235.9 572.3 250.2 573.2 258.8 573.4C267.4 573.6 269.0 578.3 279.3 578.4C289.6 578.5 308.6 574.4 320.4 574.0C332.2 573.7 339.1 571.3 350.0 576.3C360.9 581.2 373.2 597.3 386.1 603.5C399.0 609.8 413.5 609.6 427.2 613.8C440.9 618.0 454.8 624.0 468.3 628.7C481.8 633.4 497.9 637.7 508.2 642.2C518.5 646.7 522.9 650.5 530.0 655.8C537.0 661.1 542.9 668.3 550.4 674.1C557.9 679.9 565.8 684.8 575.0 690.5C584.2 696.2 595.3 707.5 605.6 708.6C615.8 709.7 628.0 701.3 636.6 697.2C645.2 693.0 651.1 686.7 657.2 683.7C663.3 680.6 666.6 680.8 673.2 678.7C679.8 676.6 690.9 674.0 696.7 670.9C702.5 667.8 704.9 663.6 707.9 660.1C710.9 656.5 711.4 655.5 714.8 649.6C718.1 643.8 724.8 635.2 728.2 625.0C731.6 614.8 733.0 601.6 735.2 588.6C737.3 575.7 739.3 556.3 741.2 547.2C743.1 538.1 744.5 535.4 746.5 534.0C748.4 532.6 750.2 533.9 753.1 539.0C756.0 544.1 757.5 558.4 763.6 564.6C769.8 570.8 782.3 574.1 790.0 576.3C797.7 578.5 800.8 577.4 810.0 577.7C819.2 578.1 835.6 577.4 845.0 578.3C854.4 579.1 859.6 580.0 866.6 582.7C873.6 585.4 880.4 589.7 887.2 594.6C894.1 599.5 900.9 605.2 907.7 612.0C914.6 618.8 921.4 628.6 928.3 635.5C935.1 642.3 942.0 648.1 948.8 653.2C955.6 658.3 962.4 662.7 969.3 666.1C976.1 669.5 984.1 673.0 989.9 673.8C995.7 674.6 1000.2 672.0 1004.3 671.0C1008.4 670.0 1010.7 669.5 1014.5 668.1C1018.3 666.7 1022.1 672.3 1026.9 662.4C1031.7 652.5 1040.6 617.6 1043.3 608.6M121.2 654.3C123.5 656.3 130.9 663.1 135.0 666.2C139.1 669.3 141.9 670.8 146.0 673.1C150.2 675.3 155.5 678.3 160.0 679.6C164.5 681.0 169.6 681.0 173.0 681.1C176.3 681.2 177.5 681.7 180.2 680.2C182.9 678.6 186.5 675.3 189.3 671.9C192.1 668.5 194.3 664.5 196.8 659.5C199.3 654.6 201.7 651.0 204.1 642.2C206.5 633.3 207.1 616.8 211.1 606.5C215.1 596.1 220.0 585.2 228.0 580.0C236.0 574.9 250.2 575.3 258.8 575.5C267.4 575.6 269.0 580.9 279.3 580.9C289.6 581.0 308.6 576.4 320.4 575.9C332.2 575.3 339.1 572.4 350.0 577.5C360.9 582.6 373.2 600.0 386.1 606.5C399.0 613.1 413.5 612.7 427.2 616.8C440.9 621.0 454.7 626.9 468.3 631.5C481.9 636.1 498.3 640.3 508.6 644.6C518.8 649.0 523.0 652.6 530.0 657.9C537.0 663.1 542.9 670.4 550.4 676.2C557.9 682.0 565.8 686.6 575.0 692.6C584.2 698.6 595.4 710.6 605.7 712.2C615.9 713.7 628.0 706.0 636.6 702.1C645.2 698.2 651.1 691.7 657.2 688.7C663.3 685.7 666.5 685.9 673.3 684.0C680.1 682.1 691.8 679.5 697.8 677.3C703.8 675.1 706.2 672.9 709.3 670.7C712.3 668.5 712.6 669.1 716.1 663.9C719.6 658.8 726.9 650.8 730.5 640.0C734.0 629.2 735.3 614.5 737.5 599.1C739.6 583.7 741.6 559.0 743.5 547.5C745.3 535.9 746.8 531.9 748.6 530.0C750.5 528.1 752.2 530.2 754.7 536.0C757.3 541.8 758.2 558.1 764.1 565.1C770.0 572.1 782.3 575.7 790.0 578.2C797.7 580.6 800.8 579.5 810.0 579.8C819.2 580.2 835.6 579.3 845.0 580.2C854.4 581.1 859.6 582.4 866.6 585.1C873.6 587.9 880.4 591.9 887.2 596.7C894.1 601.6 900.9 607.3 907.7 614.0C914.6 620.8 921.4 630.4 928.3 637.3C935.1 644.2 942.0 650.2 948.8 655.5C955.6 660.7 962.4 665.2 969.3 668.7C976.1 672.2 984.1 675.8 989.9 676.5C995.7 677.3 1000.2 674.1 1004.3 673.0C1008.4 671.9 1010.7 671.2 1014.5 669.7C1018.3 668.2 1022.1 674.0 1026.9 663.9C1031.7 653.8 1040.6 618.2 1043.3 609.1M121.2 657.0C123.5 659.0 130.9 666.0 135.0 669.1C139.1 672.2 141.7 673.5 145.9 675.6C150.1 677.8 155.5 680.7 160.0 681.8C164.5 683.0 169.5 682.7 172.7 682.5C175.9 682.4 176.5 682.7 179.1 681.1C181.7 679.5 185.3 676.1 188.1 673.0C190.9 669.9 193.3 666.6 195.9 662.3C198.5 658.0 201.1 655.7 203.5 647.1C206.0 638.5 206.5 621.4 210.5 610.7C214.6 600.0 220.0 588.4 228.0 582.9C236.0 577.4 250.2 577.5 258.8 577.5C267.4 577.6 269.0 583.4 279.3 583.5C289.6 583.5 308.6 578.5 320.4 577.7C332.2 577.0 339.1 573.5 350.0 578.8C360.9 584.0 373.2 602.7 386.1 609.5C399.0 616.4 413.5 615.7 427.2 619.8C440.9 623.9 454.7 629.8 468.3 634.3C481.9 638.8 498.6 642.8 508.9 647.1C519.2 651.3 523.1 654.7 530.0 659.9C536.9 665.1 542.9 672.5 550.4 678.2C557.9 684.0 565.8 688.4 575.0 694.6C584.2 700.9 595.5 713.7 605.7 715.7C616.0 717.8 628.0 710.7 636.6 707.1C645.2 703.4 651.1 696.7 657.2 693.8C663.3 690.8 666.5 691.1 673.5 689.4C680.4 687.7 692.7 685.0 698.9 683.6C705.1 682.3 707.5 682.3 710.6 681.4C713.7 680.5 713.8 682.7 717.5 678.3C721.1 673.9 729.0 666.5 732.7 655.0C736.4 643.5 737.6 627.4 739.7 609.5C741.9 591.7 743.9 561.7 745.7 547.7C747.6 533.8 749.0 528.5 750.8 526.0C752.6 523.5 754.1 526.4 756.4 533.0C758.7 539.6 758.9 557.7 764.5 565.5C770.2 573.4 782.4 577.4 790.0 580.1C797.6 582.8 800.8 581.6 810.0 581.9C819.2 582.2 835.6 581.1 845.0 582.1C854.4 583.0 859.6 584.8 866.6 587.6C873.6 590.4 880.4 594.1 887.2 598.9C894.1 603.6 900.9 609.3 907.7 616.0C914.6 622.7 921.4 632.2 928.3 639.2C935.1 646.1 942.0 652.4 948.8 657.7C955.6 663.1 962.4 667.8 969.3 671.4C976.1 675.0 984.1 678.7 989.9 679.3C995.7 679.9 1000.2 676.3 1004.3 675.0C1008.4 673.7 1010.7 673.0 1014.5 671.4C1018.3 669.8 1022.1 675.8 1026.9 665.5C1031.7 655.2 1040.6 618.9 1043.3 609.5M121.2 659.7C123.5 661.8 130.9 668.9 135.0 672.0C139.1 675.1 141.6 676.2 145.8 678.2C150.0 680.2 155.6 683.0 160.0 684.0C164.4 685.0 169.5 684.3 172.5 684.0C175.5 683.7 175.6 683.6 178.0 682.0C180.4 680.4 184.1 676.9 186.9 674.1C189.7 671.3 192.3 668.7 195.0 665.0C197.7 661.3 200.5 660.3 203.0 652.0C205.5 643.7 205.8 626.0 210.0 615.0C214.2 604.0 219.9 591.7 228.0 585.8C236.1 579.9 250.2 579.6 258.8 579.6C267.4 579.6 269.0 586.0 279.3 586.0C289.6 586.0 308.6 580.6 320.4 579.6C332.2 578.6 339.1 574.5 350.0 580.0C360.9 585.5 373.2 605.4 386.1 612.5C399.0 619.6 413.5 618.7 427.2 622.8C440.9 626.9 454.6 632.6 468.3 637.1C482.0 641.6 499.0 645.4 509.3 649.5C519.6 653.6 523.1 656.9 530.0 662.0C536.9 667.1 542.9 674.5 550.4 680.3C557.9 686.1 565.8 690.2 575.0 696.7C584.2 703.2 595.5 716.8 605.8 719.3C616.1 721.8 628.0 715.4 636.6 712.0C645.2 708.6 651.0 701.7 657.2 698.8C663.4 695.9 666.5 696.2 673.6 694.7C680.7 693.2 693.6 690.5 700.0 690.0C706.4 689.5 708.9 691.6 712.0 692.0C715.1 692.4 715.0 696.3 718.8 692.6C722.6 688.9 731.1 682.1 735.0 670.0C738.9 657.9 739.8 640.3 742.0 620.0C744.2 599.7 746.2 564.3 748.0 548.0C749.8 531.7 751.3 525.0 753.0 522.0C754.7 519.0 756.0 522.7 758.0 530.0C760.0 537.3 759.7 557.3 765.0 566.0C770.3 574.7 782.5 579.0 790.0 582.0C797.5 585.0 800.8 583.7 810.0 584.0C819.2 584.3 835.6 583.0 845.0 584.0C854.4 585.0 859.6 587.2 866.6 590.0C873.6 592.8 880.4 596.3 887.2 601.0C894.1 605.7 900.9 611.3 907.7 618.0C914.6 624.7 921.4 634.0 928.3 641.0C935.1 648.0 942.0 654.5 948.8 660.0C955.6 665.5 962.4 670.3 969.3 674.0C976.1 677.7 984.1 681.5 989.9 682.0C995.7 682.5 1000.2 678.5 1004.3 677.0C1008.4 675.5 1010.7 674.7 1014.5 673.0C1018.3 671.3 1022.1 677.5 1026.9 667.0C1031.7 656.5 1040.6 619.5 1043.3 610.0" stroke="#0000ff" stroke-width="2.0"/><path d="M121.2 637.1C123.6 638.8 129.7 643.3 135.5 647.4C141.3 651.5 149.2 657.9 156.1 661.8C162.9 665.7 170.8 668.6 176.6 671.0C182.4 673.4 187.2 676.4 191.0 676.2C194.8 676.0 197.1 674.1 199.2 670.0C201.2 665.9 201.9 659.7 203.3 651.5C204.7 643.3 206.0 629.9 207.4 620.7C208.8 611.5 209.8 602.6 211.5 596.1C213.2 589.6 214.9 586.2 217.7 581.7C220.4 577.2 224.6 572.5 228.0 569.4C231.4 566.3 234.9 563.7 238.3 563.2C241.7 562.7 245.1 564.9 248.5 566.3C251.9 567.7 254.4 569.7 258.8 571.4C263.2 573.1 270.1 575.5 275.2 576.5C280.3 577.5 284.8 577.8 289.6 577.6C294.4 577.4 299.6 576.7 304.0 575.5C308.4 574.3 312.2 571.2 316.3 570.4C320.4 569.5 324.7 569.5 328.6 570.4C332.6 571.3 336.8 574.1 340.0 576.0C343.2 577.9 345.5 579.8 348.0 582.0C350.5 584.2 352.1 586.6 355.0 589.0C357.9 591.4 360.3 593.9 365.5 596.1C370.7 598.3 379.2 599.8 386.1 602.2C393.0 604.6 399.8 608.0 406.6 610.4C413.5 612.8 420.4 614.5 427.2 616.6C434.0 618.7 440.8 621.1 447.7 622.8C454.6 624.5 461.4 625.2 468.3 626.9C475.2 628.6 482.0 630.3 488.8 633.0C495.6 635.7 502.5 638.8 509.3 643.3C516.1 647.8 523.0 654.6 529.9 659.7C536.8 664.8 543.5 670.0 550.4 674.1C557.2 678.2 566.1 682.0 571.0 684.4C575.9 686.8 575.9 686.8 580.0 688.5C584.1 690.2 589.5 693.2 595.5 694.7C601.5 696.2 609.2 698.4 616.1 697.7C623.0 697.0 629.8 693.5 636.6 690.6C643.5 687.7 651.0 683.7 657.2 680.3C663.4 676.9 668.1 673.8 673.6 670.0C679.1 666.2 685.9 659.1 690.0 657.7C694.1 656.3 695.5 659.8 698.3 661.8C701.0 663.8 704.8 673.4 706.5 670.0C708.2 666.6 707.8 651.6 708.5 641.3C709.2 631.0 708.9 615.9 710.6 608.4C712.3 600.9 716.8 600.2 718.8 596.1C720.8 592.0 721.5 589.9 722.9 583.7C724.3 577.5 725.3 565.1 727.0 559.1C728.7 553.1 731.5 549.5 733.2 547.8C734.9 546.1 735.9 545.5 737.3 548.8C738.7 552.0 739.7 565.9 741.4 567.3C743.1 568.7 745.5 557.7 747.6 557.0C749.7 556.3 749.9 560.8 753.7 563.2C757.5 565.6 764.0 568.8 770.2 571.4C776.4 574.0 784.1 576.9 790.7 578.6C797.3 580.3 804.2 580.9 810.0 581.7C815.8 582.6 819.5 584.1 825.5 583.7C831.5 583.4 839.2 579.2 846.1 579.6C853.0 580.0 859.8 583.0 866.6 585.8C873.5 588.5 880.4 591.3 887.2 596.1C894.1 600.9 900.9 608.0 907.7 614.5C914.6 621.0 921.4 630.0 928.3 635.1C935.1 640.2 942.0 642.7 948.8 645.4C955.6 648.1 962.4 648.8 969.3 651.5C976.1 654.2 983.0 658.9 989.9 661.8C996.8 664.7 1004.2 667.5 1010.4 669.0C1016.6 670.5 1022.8 672.2 1026.9 671.0C1031.0 669.8 1032.7 667.4 1035.1 661.8C1037.5 656.1 1039.7 644.3 1041.2 637.1C1042.7 629.9 1043.8 621.8 1044.3 618.7" stroke="#ff0000" stroke-width="8.5"/></g><clipPath id="cL3"><rect x="120.6" y="783.5999999999999" width="922.8000000000001" height="241.20000000000005"/></clipPath><g clip-path="url(#cL3)" fill="none" stroke-linejoin="round" stroke-linecap="round"><path d="M121.2 981.5 L123.4 982.8 L125.6 981.5 L127.8 977.7 L130.0 977.1 L132.2 983.1 L134.4 981.6 L136.6 975.5 L138.8 971.3 L141.0 970.8 L143.2 964.6 L145.4 965.1 L147.6 964.3 L149.8 971.2 L152.0 974.0 L154.2 970.4 L156.4 974.8 L158.6 970.9 L160.8 970.8 L163.0 976.2 L165.2 981.9 L167.4 977.4 L169.6 980.8 L171.8 983.6 L174.0 989.5 L176.2 993.3 L178.4 991.4 L180.6 987.8 L182.8 986.1 L185.0 981.2 L187.2 976.2 L189.4 975.1 L191.6 976.4 L193.8 983.0 L196.0 982.7 L198.2 983.4 L200.4 985.2 L202.6 990.9 L204.8 997.7 L207.0 998.9 L209.2 994.5 L211.4 996.5 L213.6 998.6 L215.8 997.3 L218.0 999.9 L220.2 999.3 L222.4 997.1 L224.6 995.3 L226.8 994.4 L229.0 986.9 L231.2 986.9 L233.4 984.3 L235.6 979.3 L237.8 971.3 L240.0 972.0 L242.2 980.4 L244.4 981.4 L246.6 984.8 L248.8 987.3 L251.0 989.2 L253.2 988.5 L255.4 989.0 L257.6 990.6 L259.8 990.1 L262.0 988.3 L264.2 984.6 L266.4 984.9 L268.6 990.8 L270.8 997.6 L273.0 999.6 L275.2 997.3 L277.4 995.4 L279.6 998.7 L281.8 996.9 L284.0 1002.3 L286.2 1003.3 L288.4 1005.0 L290.6 1006.1 L292.8 996.1 L295.0 993.4 L297.2 991.1 L299.4 990.4 L301.6 984.9 L303.8 981.4 L306.0 981.7 L308.2 983.2 L310.4 985.6 L312.6 985.9 L314.8 982.3 L317.0 979.5 L319.2 978.7 L321.4 978.8 L323.6 979.3 L325.8 980.3 L328.0 983.9 L330.2 989.9 L332.4 990.9 L334.6 993.7 L336.8 993.8 L339.0 998.1 L341.2 998.1 L343.4 994.3 L345.6 997.2 L347.8 996.2 L350.0 995.6 L352.2 1000.1 L354.4 1000.6 L356.6 998.0 L358.8 997.9 L361.0 990.7 L363.2 993.8 L365.4 991.3 L367.6 989.3 L369.8 988.4 L372.0 987.5 L374.2 987.7 L376.4 984.1 L378.6 985.1 L380.8 981.0 L383.0 977.7 L385.2 981.9 L387.4 982.0 L389.6 986.5 L391.8 989.3 L394.0 990.0 L396.2 991.6 L398.4 997.6 L400.6 997.1 L402.8 997.8 L405.0 999.3 L407.2 999.2 L409.4 998.4 L411.6 998.7 L413.8 992.0 L416.0 995.2 L418.2 995.3 L420.4 1000.4 L422.6 1001.7 L424.8 999.9 L427.0 1000.6 L429.2 998.4 L431.4 995.2 L433.6 996.1 L435.8 992.0 L438.0 992.2 L440.2 992.1 L442.4 995.0 L444.6 994.7 L446.8 994.1 L449.0 996.2 L451.2 999.9 L453.4 1003.1 L455.6 1003.5 L457.8 1001.4 L460.0 996.0 L462.2 997.1 L464.4 990.5 L466.6 986.6 L468.8 979.9 L471.0 974.6 L473.2 969.8 L475.4 965.3 L477.6 966.4 L479.8 966.2 L482.0 960.3 L484.2 959.8 L486.4 960.1 L488.6 962.8 L490.8 964.7 L493.0 971.2 L495.2 976.0 L497.4 982.1 L499.6 981.9 L501.8 977.7 L504.0 975.3 L506.2 976.3 L508.4 979.4 L510.6 980.9 L512.8 987.2 L515.0 990.7 L517.2 992.8 L519.4 997.0 L521.6 997.2 L523.8 997.4 L526.0 1000.5 L528.2 1000.3 L530.4 998.7 L532.6 1004.3 L534.8 1007.7 L537.0 1004.4 L539.2 1003.0 L541.4 999.4 L543.6 997.8 L545.8 988.8 L548.0 986.6 L550.2 991.2 L552.4 994.2 L554.6 1001.9 L556.8 1012.3 L559.0 995.9 L561.2 986.2 L563.4 984.7 L565.6 981.6 L567.8 979.8 L570.0 981.0 L572.2 985.8 L574.4 986.2 L576.6 991.6 L578.8 991.1 L581.0 991.5 L583.2 986.5 L585.4 985.2 L587.6 986.5 L589.8 986.4 L592.0 987.0 L594.2 989.8 L596.4 993.4 L598.6 992.6 L600.8 997.9 L603.0 991.0 L605.2 985.8 L607.4 980.8 L609.6 974.0 L611.8 966.6 L614.0 970.7 L616.2 972.7 L618.4 976.3 L620.6 979.2 L622.8 980.9 L625.0 982.2 L627.2 977.5 L629.4 975.7 L631.6 978.7 L633.8 987.3 L636.0 994.2 L638.2 995.3 L640.4 999.2 L642.6 1002.4 L644.8 1003.1 L647.0 1001.6 L649.2 1004.7 L651.4 1004.2 L653.6 1002.3 L655.8 1002.3 L658.0 997.3 L660.2 1001.4 L662.4 1002.8 L664.6 1005.1 L666.8 996.7 L669.0 991.6 L671.2 983.7 L673.4 972.9 L675.6 972.9 L677.8 976.7 L680.0 974.0 L682.2 982.2 L684.4 990.7 L686.6 990.9 L688.8 992.7 L691.0 990.7 L693.2 983.0 L695.4 963.7 L697.6 935.4 L699.8 925.2 L702.0 927.2 L704.2 939.5 L706.4 940.1 L708.6 942.5 L710.8 940.1 L713.0 940.5 L715.2 946.4 L717.4 944.9 L719.6 947.0 L721.8 950.2 L724.0 951.1 L726.2 951.5 L728.4 962.7 L730.6 973.5 L732.8 974.1 L735.0 976.5 L737.2 981.0 L739.4 989.5 L741.6 988.9 L743.8 988.7 L746.0 993.4 L748.2 991.2 L750.4 992.1 L752.6 995.0 L754.8 996.3 L757.0 995.6 L759.2 997.3 L761.4 1000.4 L763.6 998.1 L765.8 998.8 L768.0 996.2 L770.2 999.5 L772.4 998.7 L774.6 998.8 L776.8 996.6 L779.0 1001.6 L781.2 1002.6 L783.4 998.0 L785.6 1002.6 L787.8 1002.9 L790.0 1004.0 L792.2 1002.8 L794.4 998.2 L796.6 997.4 L798.8 997.0 L801.0 971.0 L803.2 966.8 L805.4 966.8 L807.6 970.4 L809.8 958.4 L812.0 948.5 L814.2 931.5 L816.4 926.5 L818.6 920.7 L820.8 905.9 L823.0 862.7 L825.2 895.3 L827.4 937.5 L829.6 943.6 L831.8 946.4 L834.0 957.7 L836.2 987.3 L838.4 986.0 L840.6 988.1 L842.8 996.4 L845.0 996.9 L847.2 990.8 L849.4 989.8 L851.6 992.5 L853.8 994.0 L856.0 995.4 L858.2 994.5 L860.4 993.4 L862.6 994.4 L864.8 996.0 L867.0 997.3 L869.2 993.4 L871.4 996.4 L873.6 992.0 L875.8 991.0 L878.0 996.3 L880.2 999.0 L882.4 1001.0 L884.6 1000.1 L886.8 1003.9 L889.0 1002.9 L891.2 997.7 L893.4 998.0 L895.6 996.9 L897.8 996.7 L900.0 999.4 L902.2 997.2 L904.4 1000.0 L906.6 1003.1 L908.8 1000.2 L911.0 998.1 L913.2 998.3 L915.4 997.2 L917.6 995.4 L919.8 994.3 L922.0 994.8 L924.2 998.2 L926.4 995.3 L928.6 996.9 L930.8 998.8 L933.0 996.2 L935.2 993.7 L937.4 994.1 L939.6 991.2 L941.8 995.1 L944.0 992.2 L946.2 989.9 L948.4 990.8 L950.6 992.2 L952.8 991.4 L955.0 990.1 L957.2 994.8 L959.4 993.7 L961.6 995.3 L963.8 991.7 L966.0 993.0 L968.2 996.4 L970.4 999.6 L972.6 1002.6 L974.8 1004.2 L977.0 1001.4 L979.2 998.1 L981.4 996.6 L983.6 989.6 L985.8 980.7 L988.0 976.4 L990.2 973.7 L992.4 973.5 L994.6 975.4 L996.8 976.0 L999.0 981.6 L1001.2 981.4 L1003.4 982.4 L1005.6 986.4 L1007.8 986.6 L1010.0 987.7 L1012.2 987.1 L1014.4 981.1 L1016.6 983.1 L1018.8 980.5 L1021.0 978.4 L1023.2 976.0 L1025.4 978.4 L1027.6 975.3 L1029.8 978.3 L1032.0 973.1 L1034.2 971.9 L1036.4 971.6 L1038.6 980.3 L1040.8 995.2 L1043.0 991.9" stroke="#000" stroke-width="5.0" stroke-linejoin="miter" stroke-miterlimit="3"/><path d="M620.0 1018.0C622.5 1015.0 630.8 1007.2 635.0 1000.0C639.2 992.8 641.7 981.3 645.0 975.0C648.3 968.7 651.7 964.9 655.0 962.0C658.3 959.1 661.7 957.7 665.0 957.7C668.3 957.7 671.7 958.6 675.0 962.0C678.3 965.4 682.0 972.5 685.0 978.0C688.0 983.5 690.5 990.8 693.0 995.0C695.5 999.2 695.5 1000.8 700.0 1003.0C704.5 1005.2 716.7 1007.2 720.0 1008.0M625.0 1018.0C627.5 1015.0 635.8 1005.5 640.0 1000.0C644.2 994.5 646.7 988.6 650.0 985.0C653.3 981.4 656.7 979.2 660.0 978.5C663.3 977.8 666.7 979.1 670.0 981.0C673.3 982.9 676.7 986.8 680.0 990.0C683.3 993.2 686.7 997.3 690.0 1000.0C693.3 1002.7 695.8 1004.3 700.0 1006.0C704.2 1007.7 712.5 1009.3 715.0 1010.0M121.0 1000.0C127.5 1001.0 150.8 1006.0 160.0 1006.0C169.2 1006.0 171.0 1001.7 176.0 1000.0C181.0 998.3 185.2 997.3 190.0 996.0C194.8 994.7 200.8 994.0 205.0 992.0C209.2 990.0 211.7 985.5 215.0 984.0C218.3 982.5 220.8 982.0 225.0 983.0C229.2 984.0 234.2 987.2 240.0 990.0C245.8 992.8 253.3 997.0 260.0 1000.0C266.7 1003.0 270.0 1006.0 280.0 1008.0C290.0 1010.0 309.2 1012.5 320.0 1012.0C330.8 1011.5 338.8 1007.5 345.0 1005.0C351.2 1002.5 352.8 997.2 357.0 997.0C361.2 996.8 362.8 1001.8 370.0 1004.0C377.2 1006.2 378.3 1008.7 400.0 1010.0C421.7 1011.3 466.7 1011.0 500.0 1012.0C533.3 1013.0 579.0 1015.7 600.0 1016.0C621.0 1016.3 618.5 1018.0 626.0 1014.0C633.5 1010.0 640.2 996.5 645.0 992.0C649.8 987.5 651.7 988.2 655.0 987.0C658.3 985.8 661.7 985.0 665.0 985.0C668.3 985.0 671.2 985.7 675.0 987.0C678.8 988.3 683.8 990.8 688.0 993.0C692.2 995.2 694.7 998.0 700.0 1000.0C705.3 1002.0 712.7 1004.3 720.0 1005.0C727.3 1005.7 738.1 1004.5 744.0 1004.0C749.9 1003.5 753.2 1013.5 755.5 1002.0C757.8 990.5 756.9 951.0 757.5 935.0C758.1 919.0 758.5 906.0 759.0 906.0C759.5 906.0 759.8 919.3 760.5 935.0C761.2 950.7 758.1 989.2 763.0 1000.0C767.9 1010.8 778.8 998.7 790.0 1000.0C801.2 1001.3 811.7 1007.0 830.0 1008.0C848.3 1009.0 881.7 1007.7 900.0 1006.0C918.3 1004.3 930.0 999.5 940.0 998.0C950.0 996.5 953.3 995.9 960.0 996.7C966.7 997.5 971.7 1000.1 980.0 1003.0C988.3 1005.9 1001.7 1014.5 1010.0 1014.0C1018.3 1013.5 1024.3 1004.0 1030.0 1000.0C1035.7 996.0 1041.7 991.7 1044.0 990.0M121.0 1003.5C127.5 1004.3 150.8 1008.5 160.0 1008.5C169.2 1008.5 171.0 1004.9 176.0 1003.5C181.0 1002.1 185.2 1001.2 190.0 1000.0C194.8 998.8 200.8 998.2 205.0 996.5C209.2 994.8 211.7 991.0 215.0 989.7C218.3 988.4 220.8 987.8 225.0 988.7C229.2 989.5 234.2 992.2 240.0 994.7C245.8 997.1 253.3 1000.6 260.0 1003.2C266.7 1005.7 270.0 1008.3 280.0 1010.0C290.0 1011.7 309.2 1013.9 320.0 1013.5C330.8 1013.1 338.8 1009.8 345.0 1007.7C351.2 1005.6 352.8 1001.1 357.0 1001.0C361.2 1000.9 362.8 1005.0 370.0 1006.8C377.2 1008.6 378.3 1010.7 400.0 1011.8C421.7 1012.9 466.7 1012.7 500.0 1013.5C533.3 1014.3 579.0 1016.6 600.0 1016.8C621.0 1017.1 618.5 1018.6 626.0 1015.2C633.5 1011.8 640.2 1000.3 645.0 996.3C649.8 992.3 651.7 992.4 655.0 991.2C658.3 990.0 661.7 989.3 665.0 989.2C668.3 989.1 671.2 989.4 675.0 990.5C678.8 991.6 683.8 993.6 688.0 995.5C692.2 997.4 694.7 1000.2 700.0 1002.0C705.3 1003.8 712.8 1006.0 720.0 1006.5C727.2 1007.0 737.4 1005.6 743.0 1005.0C748.6 1004.4 751.5 1013.2 753.6 1002.7C755.7 992.1 755.0 956.2 755.6 941.7C756.2 927.1 756.6 915.3 757.1 915.3C757.6 915.3 757.9 927.4 758.6 941.7C759.2 955.9 755.8 990.9 761.1 1001.0C766.3 1011.1 778.5 1001.0 790.0 1002.5C801.5 1004.0 811.7 1008.9 830.0 1009.8C848.3 1010.8 881.7 1009.6 900.0 1008.2C918.3 1006.8 930.0 1002.7 940.0 1001.3C950.0 1000.0 953.3 999.2 960.0 999.9C966.7 1000.6 971.7 1003.1 980.0 1005.7C988.3 1008.2 1001.7 1015.5 1010.0 1015.2C1018.3 1014.8 1024.3 1006.9 1030.0 1003.5C1035.7 1000.1 1041.7 996.4 1044.0 995.0M121.0 1007.0C127.5 1007.7 150.8 1011.0 160.0 1011.0C169.2 1011.0 171.0 1008.2 176.0 1007.0C181.0 1005.8 185.2 1005.0 190.0 1004.0C194.8 1003.0 200.8 1002.4 205.0 1001.0C209.2 999.6 211.7 996.4 215.0 995.3C218.3 994.2 220.8 993.7 225.0 994.3C229.2 995.0 234.2 997.3 240.0 999.3C245.8 1001.3 253.3 1004.2 260.0 1006.3C266.7 1008.4 270.0 1010.6 280.0 1012.0C290.0 1013.4 309.2 1015.3 320.0 1015.0C330.8 1014.7 338.8 1012.0 345.0 1010.3C351.2 1008.7 352.8 1005.1 357.0 1005.0C361.2 1004.9 362.8 1008.2 370.0 1009.7C377.2 1011.1 378.3 1012.8 400.0 1013.7C421.7 1014.6 466.7 1014.3 500.0 1015.0C533.3 1015.7 579.0 1017.4 600.0 1017.7C621.0 1017.9 618.5 1019.2 626.0 1016.3C633.5 1013.5 640.2 1004.2 645.0 1000.7C649.8 997.2 651.7 996.6 655.0 995.3C658.3 994.1 661.7 993.6 665.0 993.3C668.3 993.1 671.2 993.2 675.0 994.0C678.8 994.8 683.8 996.3 688.0 998.0C692.2 999.7 694.7 1002.3 700.0 1004.0C705.3 1005.7 713.0 1007.7 720.0 1008.0C727.0 1008.3 736.7 1006.8 742.0 1006.0C747.3 1005.2 749.7 1012.9 751.7 1003.3C753.6 993.7 753.1 961.4 753.7 948.3C754.3 935.2 754.7 924.7 755.2 924.7C755.7 924.7 756.0 935.4 756.7 948.3C757.3 961.2 753.6 992.6 759.2 1002.0C764.7 1011.4 778.2 1003.4 790.0 1005.0C801.8 1006.6 811.7 1010.8 830.0 1011.7C848.3 1012.6 881.7 1011.5 900.0 1010.3C918.3 1009.2 930.0 1005.9 940.0 1004.7C950.0 1003.5 953.3 1002.5 960.0 1003.1C966.7 1003.7 971.7 1006.1 980.0 1008.3C988.3 1010.5 1001.7 1016.6 1010.0 1016.3C1018.3 1016.1 1024.3 1009.7 1030.0 1007.0C1035.7 1004.3 1041.7 1001.2 1044.0 1000.0M121.0 1010.5C127.5 1011.0 150.8 1013.5 160.0 1013.5C169.2 1013.5 171.0 1011.4 176.0 1010.5C181.0 1009.6 185.2 1008.8 190.0 1008.0C194.8 1007.2 200.8 1006.7 205.0 1005.5C209.2 1004.3 211.7 1001.9 215.0 1001.0C218.3 1000.1 220.8 999.5 225.0 1000.0C229.2 1000.5 234.2 1002.4 240.0 1004.0C245.8 1005.6 253.3 1007.8 260.0 1009.5C266.7 1011.2 270.0 1012.8 280.0 1014.0C290.0 1015.2 309.2 1016.7 320.0 1016.5C330.8 1016.3 338.8 1014.2 345.0 1013.0C351.2 1011.8 352.8 1009.1 357.0 1009.0C361.2 1008.9 362.8 1011.4 370.0 1012.5C377.2 1013.6 378.3 1014.8 400.0 1015.5C421.7 1016.2 466.7 1016.0 500.0 1016.5C533.3 1017.0 579.0 1018.3 600.0 1018.5C621.0 1018.7 618.5 1019.8 626.0 1017.5C633.5 1015.2 640.2 1008.0 645.0 1005.0C649.8 1002.0 651.7 1000.8 655.0 999.5C658.3 998.2 661.7 997.8 665.0 997.5C668.3 997.2 671.2 997.0 675.0 997.5C678.8 998.0 683.8 999.1 688.0 1000.5C692.2 1001.9 694.7 1004.5 700.0 1006.0C705.3 1007.5 713.2 1009.3 720.0 1009.5C726.8 1009.7 736.0 1007.9 741.0 1007.0C746.0 1006.1 748.0 1012.7 749.8 1004.0C751.5 995.3 751.2 966.7 751.8 955.0C752.3 943.3 752.8 934.0 753.2 934.0C753.8 934.0 754.1 943.5 754.8 955.0C755.4 966.5 751.4 994.2 757.2 1003.0C763.1 1011.8 777.9 1005.8 790.0 1007.5C802.1 1009.2 811.7 1012.7 830.0 1013.5C848.3 1014.3 881.7 1013.4 900.0 1012.5C918.3 1011.6 930.0 1009.0 940.0 1008.0C950.0 1007.0 953.3 1005.9 960.0 1006.4C966.7 1006.9 971.7 1009.1 980.0 1011.0C988.3 1012.9 1001.7 1017.6 1010.0 1017.5C1018.3 1017.4 1024.3 1012.6 1030.0 1010.5C1035.7 1008.4 1041.7 1005.9 1044.0 1005.0M121.0 1014.0C127.5 1014.3 150.8 1016.0 160.0 1016.0C169.2 1016.0 171.0 1014.7 176.0 1014.0C181.0 1013.3 185.2 1012.7 190.0 1012.0C194.8 1011.3 200.8 1010.9 205.0 1010.0C209.2 1009.1 211.7 1007.4 215.0 1006.7C218.3 1005.9 220.8 1005.3 225.0 1005.7C229.2 1006.0 234.2 1007.5 240.0 1008.7C245.8 1009.8 253.3 1011.4 260.0 1012.7C266.7 1013.9 270.0 1015.1 280.0 1016.0C290.0 1016.9 309.2 1018.1 320.0 1018.0C330.8 1017.9 338.8 1016.5 345.0 1015.7C351.2 1014.8 352.8 1013.1 357.0 1013.0C361.2 1012.9 362.8 1014.6 370.0 1015.3C377.2 1016.1 378.3 1016.9 400.0 1017.3C421.7 1017.8 466.7 1017.7 500.0 1018.0C533.3 1018.3 579.0 1019.2 600.0 1019.3C621.0 1019.4 618.5 1020.3 626.0 1018.7C633.5 1017.0 640.2 1011.8 645.0 1009.3C649.8 1006.8 651.7 1004.9 655.0 1003.7C658.3 1002.4 661.7 1002.1 665.0 1001.7C668.3 1001.2 671.2 1000.8 675.0 1001.0C678.8 1001.2 683.8 1001.8 688.0 1003.0C692.2 1004.2 694.7 1006.7 700.0 1008.0C705.3 1009.3 713.3 1011.0 720.0 1011.0C726.7 1011.0 735.4 1009.1 740.0 1008.0C744.6 1006.9 746.2 1012.4 747.8 1004.7C749.5 996.9 749.2 971.9 749.8 961.7C750.4 951.4 750.8 943.3 751.3 943.3C751.8 943.3 752.2 951.6 752.8 961.7C753.5 971.8 749.1 995.9 755.3 1004.0C761.5 1012.1 777.6 1008.1 790.0 1010.0C802.4 1011.9 811.7 1014.6 830.0 1015.3C848.3 1016.1 881.7 1015.3 900.0 1014.7C918.3 1014.0 930.0 1012.2 940.0 1011.3C950.0 1010.5 953.3 1009.2 960.0 1009.6C966.7 1010.0 971.7 1012.1 980.0 1013.7C988.3 1015.2 1001.7 1018.6 1010.0 1018.7C1018.3 1018.7 1024.3 1015.4 1030.0 1014.0C1035.7 1012.6 1041.7 1010.7 1044.0 1010.0M121.0 1017.5C127.5 1017.7 150.8 1018.5 160.0 1018.5C169.2 1018.5 171.0 1017.9 176.0 1017.5C181.0 1017.1 185.2 1016.5 190.0 1016.0C194.8 1015.5 200.8 1015.1 205.0 1014.5C209.2 1013.9 211.7 1012.9 215.0 1012.3C218.3 1011.8 220.8 1011.2 225.0 1011.3C229.2 1011.5 234.2 1012.6 240.0 1013.3C245.8 1014.1 253.3 1015.1 260.0 1015.8C266.7 1016.6 270.0 1017.4 280.0 1018.0C290.0 1018.6 309.2 1019.4 320.0 1019.5C330.8 1019.6 338.8 1018.8 345.0 1018.3C351.2 1017.9 352.8 1017.0 357.0 1017.0C361.2 1017.0 362.8 1017.8 370.0 1018.2C377.2 1018.5 378.3 1018.9 400.0 1019.2C421.7 1019.4 466.7 1019.3 500.0 1019.5C533.3 1019.7 579.0 1020.1 600.0 1020.2C621.0 1020.2 618.5 1020.9 626.0 1019.8C633.5 1018.8 640.2 1015.7 645.0 1013.7C649.8 1011.7 651.7 1009.1 655.0 1007.8C658.3 1006.5 661.7 1006.4 665.0 1005.8C668.3 1005.3 671.2 1004.6 675.0 1004.5C678.8 1004.4 683.8 1004.6 688.0 1005.5C692.2 1006.4 694.7 1008.8 700.0 1010.0C705.3 1011.2 713.5 1012.7 720.0 1012.5C726.5 1012.3 734.7 1010.2 739.0 1009.0C743.3 1007.8 744.4 1012.1 745.9 1005.3C747.4 998.6 747.3 977.1 747.9 968.3C748.5 959.6 748.9 952.7 749.4 952.7C749.9 952.7 750.3 959.6 750.9 968.3C751.6 977.1 746.9 997.6 753.4 1005.0C759.9 1012.4 777.2 1010.5 790.0 1012.5C802.8 1014.5 811.7 1016.4 830.0 1017.2C848.3 1017.9 881.7 1017.2 900.0 1016.8C918.3 1016.4 930.0 1015.3 940.0 1014.7C950.0 1014.0 953.3 1012.5 960.0 1012.8C966.7 1013.1 971.7 1015.2 980.0 1016.3C988.3 1017.5 1001.7 1019.6 1010.0 1019.8C1018.3 1020.0 1024.3 1018.3 1030.0 1017.5C1035.7 1016.7 1041.7 1015.4 1044.0 1015.0M121.0 1021.0C127.5 1021.0 150.8 1021.0 160.0 1021.0C169.2 1021.0 171.0 1021.2 176.0 1021.0C181.0 1020.8 185.2 1020.3 190.0 1020.0C194.8 1019.7 200.8 1019.3 205.0 1019.0C209.2 1018.7 211.7 1018.3 215.0 1018.0C218.3 1017.7 220.8 1017.0 225.0 1017.0C229.2 1017.0 234.2 1017.7 240.0 1018.0C245.8 1018.3 253.3 1018.7 260.0 1019.0C266.7 1019.3 270.0 1019.7 280.0 1020.0C290.0 1020.3 309.2 1020.8 320.0 1021.0C330.8 1021.2 338.8 1021.0 345.0 1021.0C351.2 1021.0 352.8 1021.0 357.0 1021.0C361.2 1021.0 362.8 1021.0 370.0 1021.0C377.2 1021.0 378.3 1021.0 400.0 1021.0C421.7 1021.0 466.7 1021.0 500.0 1021.0C533.3 1021.0 579.0 1021.0 600.0 1021.0C621.0 1021.0 618.5 1021.5 626.0 1021.0C633.5 1020.5 640.2 1019.5 645.0 1018.0C649.8 1016.5 651.7 1013.3 655.0 1012.0C658.3 1010.7 661.7 1010.7 665.0 1010.0C668.3 1009.3 671.2 1008.3 675.0 1008.0C678.8 1007.7 683.8 1007.3 688.0 1008.0C692.2 1008.7 694.7 1011.0 700.0 1012.0C705.3 1013.0 713.7 1014.3 720.0 1014.0C726.3 1013.7 734.0 1011.3 738.0 1010.0C742.0 1008.7 742.7 1011.8 744.0 1006.0C745.3 1000.2 745.4 982.3 746.0 975.0C746.6 967.7 747.0 962.0 747.5 962.0C748.0 962.0 748.3 967.7 749.0 975.0C749.7 982.3 744.7 999.3 751.5 1006.0C758.3 1012.7 776.9 1012.8 790.0 1015.0C803.1 1017.2 811.7 1018.3 830.0 1019.0C848.3 1019.7 881.7 1019.2 900.0 1019.0C918.3 1018.8 930.0 1018.5 940.0 1018.0C950.0 1017.5 953.3 1015.8 960.0 1016.0C966.7 1016.2 971.7 1018.2 980.0 1019.0C988.3 1019.8 1001.7 1020.7 1010.0 1021.0C1018.3 1021.3 1024.3 1021.2 1030.0 1021.0C1035.7 1020.8 1041.7 1020.2 1044.0 1020.0M121.0 1000.0C127.5 1001.0 150.8 1006.0 160.0 1006.0C169.2 1006.0 171.0 1001.7 176.0 1000.0C181.0 998.3 185.2 997.3 190.0 996.0C194.8 994.7 200.8 994.0 205.0 992.0C209.2 990.0 211.7 985.5 215.0 984.0C218.3 982.5 220.8 982.0 225.0 983.0C229.2 984.0 234.2 987.2 240.0 990.0C245.8 992.8 253.3 997.0 260.0 1000.0C266.7 1003.0 270.0 1006.0 280.0 1008.0C290.0 1010.0 309.2 1012.5 320.0 1012.0C330.8 1011.5 338.8 1007.5 345.0 1005.0C351.2 1002.5 352.8 997.2 357.0 997.0C361.2 996.8 362.8 1001.8 370.0 1004.0C377.2 1006.2 378.3 1008.7 400.0 1010.0C421.7 1011.3 466.7 1011.0 500.0 1012.0C533.3 1013.0 579.0 1015.7 600.0 1016.0C621.0 1016.3 618.5 1018.0 626.0 1014.0C633.5 1010.0 640.2 996.5 645.0 992.0C649.8 987.5 651.7 988.2 655.0 987.0C658.3 985.8 661.7 985.0 665.0 985.0C668.3 985.0 671.2 985.7 675.0 987.0C678.8 988.3 683.8 990.8 688.0 993.0C692.2 995.2 694.7 998.0 700.0 1000.0C705.3 1002.0 712.7 1004.3 720.0 1005.0C727.3 1005.7 738.1 1004.2 744.0 1004.0C749.9 1003.8 753.2 1004.0 755.5 1004.0C757.8 1004.0 756.9 1004.0 757.5 1004.0C758.1 1004.0 758.5 1004.0 759.0 1004.0C759.5 1004.0 759.8 1004.0 760.5 1004.0C761.2 1004.0 758.1 1004.7 763.0 1004.0C767.9 1003.3 778.8 999.3 790.0 1000.0C801.2 1000.7 811.7 1007.0 830.0 1008.0C848.3 1009.0 881.7 1007.7 900.0 1006.0C918.3 1004.3 930.0 999.5 940.0 998.0C950.0 996.5 953.3 995.9 960.0 996.7C966.7 997.5 971.7 1000.1 980.0 1003.0C988.3 1005.9 1001.7 1014.5 1010.0 1014.0C1018.3 1013.5 1024.3 1004.0 1030.0 1000.0C1035.7 996.0 1041.7 991.7 1044.0 990.0M121.0 1003.5C127.5 1004.3 150.8 1008.5 160.0 1008.5C169.2 1008.5 171.0 1004.9 176.0 1003.5C181.0 1002.1 185.2 1001.2 190.0 1000.0C194.8 998.8 200.8 998.2 205.0 996.5C209.2 994.8 211.7 991.0 215.0 989.7C218.3 988.4 220.8 987.8 225.0 988.7C229.2 989.5 234.2 992.2 240.0 994.7C245.8 997.1 253.3 1000.6 260.0 1003.2C266.7 1005.7 270.0 1008.3 280.0 1010.0C290.0 1011.7 309.2 1013.9 320.0 1013.5C330.8 1013.1 338.8 1009.8 345.0 1007.7C351.2 1005.6 352.8 1001.1 357.0 1001.0C361.2 1000.9 362.8 1005.0 370.0 1006.8C377.2 1008.6 378.3 1010.7 400.0 1011.8C421.7 1012.9 466.7 1012.7 500.0 1013.5C533.3 1014.3 579.0 1016.6 600.0 1016.8C621.0 1017.1 618.5 1018.6 626.0 1015.2C633.5 1011.8 640.2 1000.3 645.0 996.3C649.8 992.3 651.7 992.4 655.0 991.2C658.3 990.0 661.7 989.3 665.0 989.2C668.3 989.1 671.2 989.4 675.0 990.5C678.8 991.6 683.8 993.6 688.0 995.5C692.2 997.4 694.7 1000.2 700.0 1002.0C705.3 1003.8 712.8 1006.0 720.0 1006.5C727.2 1007.0 737.4 1005.4 743.0 1005.0C748.6 1004.6 751.5 1005.3 753.6 1004.3C755.7 1003.4 755.0 1000.4 755.6 999.2C756.2 997.9 756.6 997.0 757.1 997.0C757.6 997.0 757.9 997.9 758.6 999.2C759.2 1000.4 755.8 1003.8 761.1 1004.3C766.3 1004.9 778.5 1001.6 790.0 1002.5C801.5 1003.4 811.7 1008.9 830.0 1009.8C848.3 1010.8 881.7 1009.6 900.0 1008.2C918.3 1006.8 930.0 1002.7 940.0 1001.3C950.0 1000.0 953.3 999.2 960.0 999.9C966.7 1000.6 971.7 1003.1 980.0 1005.7C988.3 1008.2 1001.7 1015.5 1010.0 1015.2C1018.3 1014.8 1024.3 1006.9 1030.0 1003.5C1035.7 1000.1 1041.7 996.4 1044.0 995.0M121.0 1007.0C127.5 1007.7 150.8 1011.0 160.0 1011.0C169.2 1011.0 171.0 1008.2 176.0 1007.0C181.0 1005.8 185.2 1005.0 190.0 1004.0C194.8 1003.0 200.8 1002.4 205.0 1001.0C209.2 999.6 211.7 996.4 215.0 995.3C218.3 994.2 220.8 993.7 225.0 994.3C229.2 995.0 234.2 997.3 240.0 999.3C245.8 1001.3 253.3 1004.2 260.0 1006.3C266.7 1008.4 270.0 1010.6 280.0 1012.0C290.0 1013.4 309.2 1015.3 320.0 1015.0C330.8 1014.7 338.8 1012.0 345.0 1010.3C351.2 1008.7 352.8 1005.1 357.0 1005.0C361.2 1004.9 362.8 1008.2 370.0 1009.7C377.2 1011.1 378.3 1012.8 400.0 1013.7C421.7 1014.6 466.7 1014.3 500.0 1015.0C533.3 1015.7 579.0 1017.4 600.0 1017.7C621.0 1017.9 618.5 1019.2 626.0 1016.3C633.5 1013.5 640.2 1004.2 645.0 1000.7C649.8 997.2 651.7 996.6 655.0 995.3C658.3 994.1 661.7 993.6 665.0 993.3C668.3 993.1 671.2 993.2 675.0 994.0C678.8 994.8 683.8 996.3 688.0 998.0C692.2 999.7 694.7 1002.3 700.0 1004.0C705.3 1005.7 713.0 1007.7 720.0 1008.0C727.0 1008.3 736.7 1006.6 742.0 1006.0C747.3 1005.4 749.7 1006.6 751.7 1004.7C753.6 1002.7 753.1 996.8 753.7 994.3C754.3 991.9 754.7 990.0 755.2 990.0C755.7 990.0 756.0 991.9 756.7 994.3C757.3 996.8 753.6 1002.9 759.2 1004.7C764.7 1006.4 778.2 1003.8 790.0 1005.0C801.8 1006.2 811.7 1010.8 830.0 1011.7C848.3 1012.6 881.7 1011.5 900.0 1010.3C918.3 1009.2 930.0 1005.9 940.0 1004.7C950.0 1003.5 953.3 1002.5 960.0 1003.1C966.7 1003.7 971.7 1006.1 980.0 1008.3C988.3 1010.5 1001.7 1016.6 1010.0 1016.3C1018.3 1016.1 1024.3 1009.7 1030.0 1007.0C1035.7 1004.3 1041.7 1001.2 1044.0 1000.0M121.0 1010.5C127.5 1011.0 150.8 1013.5 160.0 1013.5C169.2 1013.5 171.0 1011.4 176.0 1010.5C181.0 1009.6 185.2 1008.8 190.0 1008.0C194.8 1007.2 200.8 1006.7 205.0 1005.5C209.2 1004.3 211.7 1001.9 215.0 1001.0C218.3 1000.1 220.8 999.5 225.0 1000.0C229.2 1000.5 234.2 1002.4 240.0 1004.0C245.8 1005.6 253.3 1007.8 260.0 1009.5C266.7 1011.2 270.0 1012.8 280.0 1014.0C290.0 1015.2 309.2 1016.7 320.0 1016.5C330.8 1016.3 338.8 1014.2 345.0 1013.0C351.2 1011.8 352.8 1009.1 357.0 1009.0C361.2 1008.9 362.8 1011.4 370.0 1012.5C377.2 1013.6 378.3 1014.8 400.0 1015.5C421.7 1016.2 466.7 1016.0 500.0 1016.5C533.3 1017.0 579.0 1018.3 600.0 1018.5C621.0 1018.7 618.5 1019.8 626.0 1017.5C633.5 1015.2 640.2 1008.0 645.0 1005.0C649.8 1002.0 651.7 1000.8 655.0 999.5C658.3 998.2 661.7 997.8 665.0 997.5C668.3 997.2 671.2 997.0 675.0 997.5C678.8 998.0 683.8 999.1 688.0 1000.5C692.2 1001.9 694.7 1004.5 700.0 1006.0C705.3 1007.5 713.2 1009.3 720.0 1009.5C726.8 1009.7 736.0 1007.8 741.0 1007.0C746.0 1006.2 748.0 1007.9 749.8 1005.0C751.5 1002.1 751.2 993.2 751.8 989.5C752.3 985.8 752.8 983.0 753.2 983.0C753.8 983.0 754.1 985.8 754.8 989.5C755.4 993.2 751.4 1002.0 757.2 1005.0C763.1 1008.0 777.9 1006.1 790.0 1007.5C802.1 1008.9 811.7 1012.7 830.0 1013.5C848.3 1014.3 881.7 1013.4 900.0 1012.5C918.3 1011.6 930.0 1009.0 940.0 1008.0C950.0 1007.0 953.3 1005.9 960.0 1006.4C966.7 1006.9 971.7 1009.1 980.0 1011.0C988.3 1012.9 1001.7 1017.6 1010.0 1017.5C1018.3 1017.4 1024.3 1012.6 1030.0 1010.5C1035.7 1008.4 1041.7 1005.9 1044.0 1005.0M121.0 1014.0C127.5 1014.3 150.8 1016.0 160.0 1016.0C169.2 1016.0 171.0 1014.7 176.0 1014.0C181.0 1013.3 185.2 1012.7 190.0 1012.0C194.8 1011.3 200.8 1010.9 205.0 1010.0C209.2 1009.1 211.7 1007.4 215.0 1006.7C218.3 1005.9 220.8 1005.3 225.0 1005.7C229.2 1006.0 234.2 1007.5 240.0 1008.7C245.8 1009.8 253.3 1011.4 260.0 1012.7C266.7 1013.9 270.0 1015.1 280.0 1016.0C290.0 1016.9 309.2 1018.1 320.0 1018.0C330.8 1017.9 338.8 1016.5 345.0 1015.7C351.2 1014.8 352.8 1013.1 357.0 1013.0C361.2 1012.9 362.8 1014.6 370.0 1015.3C377.2 1016.1 378.3 1016.9 400.0 1017.3C421.7 1017.8 466.7 1017.7 500.0 1018.0C533.3 1018.3 579.0 1019.2 600.0 1019.3C621.0 1019.4 618.5 1020.3 626.0 1018.7C633.5 1017.0 640.2 1011.8 645.0 1009.3C649.8 1006.8 651.7 1004.9 655.0 1003.7C658.3 1002.4 661.7 1002.1 665.0 1001.7C668.3 1001.2 671.2 1000.8 675.0 1001.0C678.8 1001.2 683.8 1001.8 688.0 1003.0C692.2 1004.2 694.7 1006.7 700.0 1008.0C705.3 1009.3 713.3 1011.0 720.0 1011.0C726.7 1011.0 735.4 1008.9 740.0 1008.0C744.6 1007.1 746.2 1009.2 747.8 1005.3C749.5 1001.4 749.2 989.6 749.8 984.7C750.4 979.8 750.8 976.0 751.3 976.0C751.8 976.0 752.2 979.8 752.8 984.7C753.5 989.6 749.1 1001.1 755.3 1005.3C761.5 1009.6 777.6 1008.3 790.0 1010.0C802.4 1011.7 811.7 1014.6 830.0 1015.3C848.3 1016.1 881.7 1015.3 900.0 1014.7C918.3 1014.0 930.0 1012.2 940.0 1011.3C950.0 1010.5 953.3 1009.2 960.0 1009.6C966.7 1010.0 971.7 1012.1 980.0 1013.7C988.3 1015.2 1001.7 1018.6 1010.0 1018.7C1018.3 1018.7 1024.3 1015.4 1030.0 1014.0C1035.7 1012.6 1041.7 1010.7 1044.0 1010.0M121.0 1017.5C127.5 1017.7 150.8 1018.5 160.0 1018.5C169.2 1018.5 171.0 1017.9 176.0 1017.5C181.0 1017.1 185.2 1016.5 190.0 1016.0C194.8 1015.5 200.8 1015.1 205.0 1014.5C209.2 1013.9 211.7 1012.9 215.0 1012.3C218.3 1011.8 220.8 1011.2 225.0 1011.3C229.2 1011.5 234.2 1012.6 240.0 1013.3C245.8 1014.1 253.3 1015.1 260.0 1015.8C266.7 1016.6 270.0 1017.4 280.0 1018.0C290.0 1018.6 309.2 1019.4 320.0 1019.5C330.8 1019.6 338.8 1018.8 345.0 1018.3C351.2 1017.9 352.8 1017.0 357.0 1017.0C361.2 1017.0 362.8 1017.8 370.0 1018.2C377.2 1018.5 378.3 1018.9 400.0 1019.2C421.7 1019.4 466.7 1019.3 500.0 1019.5C533.3 1019.7 579.0 1020.1 600.0 1020.2C621.0 1020.2 618.5 1020.9 626.0 1019.8C633.5 1018.8 640.2 1015.7 645.0 1013.7C649.8 1011.7 651.7 1009.1 655.0 1007.8C658.3 1006.5 661.7 1006.4 665.0 1005.8C668.3 1005.3 671.2 1004.6 675.0 1004.5C678.8 1004.4 683.8 1004.6 688.0 1005.5C692.2 1006.4 694.7 1008.8 700.0 1010.0C705.3 1011.2 713.5 1012.7 720.0 1012.5C726.5 1012.3 734.7 1010.1 739.0 1009.0C743.3 1007.9 744.4 1010.5 745.9 1005.7C747.4 1000.8 747.3 985.9 747.9 979.8C748.5 973.7 748.9 969.0 749.4 969.0C749.9 969.0 750.3 973.7 750.9 979.8C751.6 985.9 746.9 1000.2 753.4 1005.7C759.9 1011.1 777.2 1010.6 790.0 1012.5C802.8 1014.4 811.7 1016.4 830.0 1017.2C848.3 1017.9 881.7 1017.2 900.0 1016.8C918.3 1016.4 930.0 1015.3 940.0 1014.7C950.0 1014.0 953.3 1012.5 960.0 1012.8C966.7 1013.1 971.7 1015.2 980.0 1016.3C988.3 1017.5 1001.7 1019.6 1010.0 1019.8C1018.3 1020.0 1024.3 1018.3 1030.0 1017.5C1035.7 1016.7 1041.7 1015.4 1044.0 1015.0M121.0 1021.0C127.5 1021.0 150.8 1021.0 160.0 1021.0C169.2 1021.0 171.0 1021.2 176.0 1021.0C181.0 1020.8 185.2 1020.3 190.0 1020.0C194.8 1019.7 200.8 1019.3 205.0 1019.0C209.2 1018.7 211.7 1018.3 215.0 1018.0C218.3 1017.7 220.8 1017.0 225.0 1017.0C229.2 1017.0 234.2 1017.7 240.0 1018.0C245.8 1018.3 253.3 1018.7 260.0 1019.0C266.7 1019.3 270.0 1019.7 280.0 1020.0C290.0 1020.3 309.2 1020.8 320.0 1021.0C330.8 1021.2 338.8 1021.0 345.0 1021.0C351.2 1021.0 352.8 1021.0 357.0 1021.0C361.2 1021.0 362.8 1021.0 370.0 1021.0C377.2 1021.0 378.3 1021.0 400.0 1021.0C421.7 1021.0 466.7 1021.0 500.0 1021.0C533.3 1021.0 579.0 1021.0 600.0 1021.0C621.0 1021.0 618.5 1021.5 626.0 1021.0C633.5 1020.5 640.2 1019.5 645.0 1018.0C649.8 1016.5 651.7 1013.3 655.0 1012.0C658.3 1010.7 661.7 1010.7 665.0 1010.0C668.3 1009.3 671.2 1008.3 675.0 1008.0C678.8 1007.7 683.8 1007.3 688.0 1008.0C692.2 1008.7 694.7 1011.0 700.0 1012.0C705.3 1013.0 713.7 1014.3 720.0 1014.0C726.3 1013.7 734.0 1011.3 738.0 1010.0C742.0 1008.7 742.7 1011.8 744.0 1006.0C745.3 1000.2 745.4 982.3 746.0 975.0C746.6 967.7 747.0 962.0 747.5 962.0C748.0 962.0 748.3 967.7 749.0 975.0C749.7 982.3 744.7 999.3 751.5 1006.0C758.3 1012.7 776.9 1012.8 790.0 1015.0C803.1 1017.2 811.7 1018.3 830.0 1019.0C848.3 1019.7 881.7 1019.2 900.0 1019.0C918.3 1018.8 930.0 1018.5 940.0 1018.0C950.0 1017.5 953.3 1015.8 960.0 1016.0C966.7 1016.2 971.7 1018.2 980.0 1019.0C988.3 1019.8 1001.7 1020.7 1010.0 1021.0C1018.3 1021.3 1024.3 1021.2 1030.0 1021.0C1035.7 1020.8 1041.7 1020.2 1044.0 1020.0" stroke="#0000ff" stroke-width="2.0"/><path d="M121.2 1007.0C127.0 1007.7 146.9 1009.9 156.1 1011.1C165.3 1012.3 169.1 1013.2 176.6 1014.2C184.1 1015.2 196.2 1017.8 201.3 1017.3C206.4 1016.8 205.4 1015.5 207.4 1011.1C209.4 1006.7 211.5 996.4 213.6 990.6C215.7 984.8 217.6 979.1 219.8 976.2C222.0 973.3 224.6 972.8 227.0 973.1C229.4 973.5 231.5 975.7 234.1 978.3C236.7 980.9 238.3 985.1 242.4 988.5C246.5 991.9 252.7 995.7 258.8 998.8C264.9 1001.9 272.5 1005.0 279.3 1007.0C286.1 1009.0 293.0 1010.6 299.9 1011.1C306.8 1011.6 314.2 1011.1 320.4 1010.1C326.6 1009.1 332.0 1006.5 336.9 1005.0C341.8 1003.5 346.6 1001.9 350.0 1000.9C353.4 999.9 354.5 998.8 357.3 998.8C360.1 998.8 362.2 999.3 367.0 1001.0C371.8 1002.7 376.1 1007.4 386.1 1009.1C396.1 1010.8 413.5 1010.9 427.2 1011.1C440.9 1011.3 454.6 1009.8 468.3 1010.1C482.0 1010.5 495.6 1012.0 509.3 1013.2C523.0 1014.4 538.6 1016.4 550.4 1017.3C562.2 1018.1 565.6 1018.1 580.0 1018.3C594.4 1018.5 625.5 1019.1 636.6 1018.3C647.8 1017.4 643.5 1015.4 646.9 1013.2C650.3 1011.0 653.8 1007.2 657.2 1005.0C660.6 1002.8 664.0 1001.0 667.4 999.8C670.8 998.6 674.3 997.4 677.7 997.8C681.1 998.1 685.3 1002.4 688.0 1001.9C690.7 1001.4 692.1 999.3 694.1 994.7C696.1 990.1 698.2 981.1 700.3 974.2C702.4 967.4 704.8 956.0 706.5 953.6C708.2 951.2 709.6 956.2 710.6 959.8C711.6 963.4 711.6 976.7 712.6 975.0C713.6 973.3 715.0 954.1 716.7 949.5C718.4 944.9 721.2 943.4 722.9 947.5C724.6 951.6 725.6 964.3 727.0 974.2C728.4 984.1 729.8 1001.9 731.1 1007.0C732.4 1012.1 733.6 1009.5 735.0 1005.0C736.4 1000.5 737.9 985.9 739.3 980.3C740.7 974.6 741.7 970.8 743.4 971.1C745.1 971.5 747.5 977.8 749.6 982.4C751.7 987.0 752.4 995.4 755.8 998.8C759.2 1002.2 764.4 1001.9 770.2 1002.9C776.0 1003.9 784.9 1004.3 790.7 1005.0C796.5 1005.7 795.8 1005.8 805.0 1007.0C814.2 1008.2 832.4 1011.5 846.1 1012.2C859.8 1012.9 873.3 1011.7 887.0 1011.0C900.7 1010.3 916.3 1009.0 928.3 1008.0C940.3 1007.0 948.8 1004.1 959.1 1005.0C969.4 1005.9 981.4 1010.8 989.9 1013.2C998.4 1015.6 1003.5 1019.0 1010.4 1019.3C1017.2 1019.6 1025.3 1017.6 1031.0 1015.2C1036.7 1012.8 1042.1 1006.7 1044.3 1005.0" stroke="#ff0000" stroke-width="8.5"/></g><clipPath id="cR0"><rect x="1232.4" y="1.5" width="922.0999999999999" height="241.2"/></clipPath><g clip-path="url(#cR0)" fill="none" stroke-linejoin="round" stroke-linecap="round"><path d="M1230.1 186.3 L1232.3 185.4 L1234.5 188.6 L1236.7 190.3 L1238.9 190.2 L1241.1 186.7 L1243.3 187.9 L1245.5 189.4 L1247.7 194.5 L1249.9 194.3 L1252.1 194.1 L1254.3 195.5 L1256.5 184.6 L1258.7 179.9 L1260.9 178.9 L1263.1 177.0 L1265.3 176.6 L1267.5 174.9 L1269.7 176.5 L1271.9 173.3 L1274.1 171.0 L1276.3 175.8 L1278.5 177.5 L1280.7 173.5 L1282.9 174.2 L1285.1 176.8 L1287.3 178.5 L1289.5 185.5 L1291.7 191.6 L1293.9 188.8 L1296.1 186.0 L1298.3 189.4 L1300.5 193.1 L1302.7 191.6 L1304.9 184.4 L1307.1 185.6 L1309.3 179.9 L1311.5 178.1 L1313.7 176.8 L1315.9 177.2 L1318.1 181.9 L1320.3 182.9 L1322.5 187.2 L1324.7 193.1 L1326.9 196.4 L1329.1 198.4 L1331.3 200.9 L1333.5 199.1 L1335.7 195.1 L1337.9 193.1 L1340.1 190.2 L1342.3 190.1 L1344.5 191.1 L1346.7 185.4 L1348.9 184.3 L1351.1 182.8 L1353.3 184.4 L1355.5 186.1 L1357.7 181.5 L1359.9 178.4 L1362.1 177.8 L1364.3 177.7 L1366.5 177.7 L1368.7 180.0 L1370.9 179.1 L1373.1 181.8 L1375.3 182.2 L1377.5 187.1 L1379.7 188.4 L1381.9 193.4 L1384.1 193.5 L1386.3 191.6 L1388.5 195.7 L1390.7 195.3 L1392.9 196.5 L1395.1 194.9 L1397.3 198.6 L1399.5 197.4 L1401.7 195.7 L1403.9 195.4 L1406.1 191.8 L1408.3 191.1 L1410.5 187.4 L1412.7 185.2 L1414.9 182.6 L1417.1 180.6 L1419.3 182.9 L1421.5 178.2 L1423.7 177.5 L1425.9 177.6 L1428.1 174.0 L1430.3 173.2 L1432.5 175.4 L1434.7 181.1 L1436.9 183.7 L1439.1 185.0 L1441.3 183.6 L1443.5 186.1 L1445.7 191.9 L1447.9 190.9 L1450.1 190.4 L1452.3 192.3 L1454.5 197.4 L1456.7 194.4 L1458.9 197.3 L1461.1 192.9 L1463.3 195.4 L1465.5 196.8 L1467.7 192.8 L1469.9 194.6 L1472.1 198.2 L1474.3 199.6 L1476.5 200.5 L1478.7 200.5 L1480.9 203.8 L1483.1 206.1 L1485.3 208.9 L1487.5 204.6 L1489.7 205.3 L1491.9 203.5 L1494.1 200.0 L1496.3 199.4 L1498.5 202.4 L1500.7 199.3 L1502.9 200.8 L1505.1 198.2 L1507.3 197.7 L1509.5 200.5 L1511.7 199.8 L1513.9 200.0 L1516.1 199.3 L1518.3 197.4 L1520.5 198.3 L1522.7 198.6 L1524.9 203.3 L1527.1 204.8 L1529.3 203.4 L1531.5 201.7 L1533.7 207.1 L1535.9 205.2 L1538.1 203.3 L1540.3 208.1 L1542.5 206.5 L1544.7 211.6 L1546.9 209.9 L1549.1 207.9 L1551.3 212.7 L1553.5 212.1 L1555.7 211.0 L1557.9 210.5 L1560.1 213.8 L1562.3 211.9 L1564.5 212.4 L1566.7 213.4 L1568.9 212.5 L1571.1 209.7 L1573.3 208.9 L1575.5 207.9 L1577.7 205.9 L1579.9 201.6 L1582.1 205.3 L1584.3 208.3 L1586.5 207.7 L1588.7 209.7 L1590.9 212.2 L1593.1 211.9 L1595.3 212.5 L1597.5 216.0 L1599.7 213.5 L1601.9 211.2 L1604.1 213.0 L1606.3 212.9 L1608.5 217.0 L1610.7 217.3 L1612.9 218.6 L1615.1 221.2 L1617.3 221.6 L1619.5 218.3 L1621.7 222.0 L1623.9 223.8 L1626.1 219.2 L1628.3 217.7 L1630.5 218.1 L1632.7 221.0 L1634.9 220.3 L1637.1 224.2 L1639.3 222.8 L1641.5 221.5 L1643.7 221.0 L1645.9 223.8 L1648.1 222.1 L1650.3 224.9 L1652.5 223.7 L1654.7 225.8 L1656.9 224.6 L1659.1 223.6 L1661.3 224.8 L1663.5 220.6 L1665.7 221.6 L1667.9 221.1 L1670.1 223.9 L1672.3 222.0 L1674.5 220.3 L1676.7 221.1 L1678.9 218.7 L1681.1 221.0 L1683.3 222.7 L1685.5 220.3 L1687.7 221.8 L1689.9 217.1 L1692.1 220.3 L1694.3 220.9 L1696.5 217.8 L1698.7 220.5 L1700.9 218.8 L1703.1 219.2 L1705.3 219.8 L1707.5 215.7 L1709.7 214.7 L1711.9 218.1 L1714.1 217.0 L1716.3 215.2 L1718.5 219.2 L1720.7 217.5 L1722.9 216.6 L1725.1 219.1 L1727.3 217.1 L1729.5 219.5 L1731.7 220.1 L1733.9 220.6 L1736.1 220.7 L1738.3 221.3 L1740.5 220.3 L1742.7 219.5 L1744.9 220.2 L1747.1 219.6 L1749.3 219.3 L1751.5 221.3 L1753.7 219.2 L1755.9 222.0 L1758.1 225.6 L1760.3 225.8 L1762.5 223.4 L1764.7 224.6 L1766.9 225.4 L1769.1 226.9 L1771.3 224.9 L1773.5 226.7 L1775.7 222.0 L1777.9 223.6 L1780.1 220.9 L1782.3 224.6 L1784.5 225.0 L1786.7 225.8 L1788.9 222.7 L1791.1 221.2 L1793.3 226.3 L1795.5 226.4 L1797.7 224.5 L1799.9 223.3 L1802.1 225.0 L1804.3 223.1 L1806.5 221.8 L1808.7 216.4 L1810.9 215.6 L1813.1 216.5 L1815.3 210.8 L1817.5 207.7 L1819.7 202.6 L1821.9 196.6 L1824.1 192.6 L1826.3 188.8 L1828.5 181.9 L1830.7 181.9 L1832.9 175.3 L1835.1 171.0 L1837.3 174.5 L1839.5 175.1 L1841.7 180.6 L1843.9 181.6 L1846.1 186.0 L1848.3 188.8 L1850.5 191.4 L1852.7 188.9 L1854.9 193.8 L1857.1 194.0 L1859.3 198.3 L1861.5 198.2 L1863.7 195.6 L1865.9 196.5 L1868.1 195.3 L1870.3 200.3 L1872.5 201.3 L1874.7 200.2 L1876.9 207.6 L1879.1 211.2 L1881.3 212.6 L1883.5 211.7 L1885.7 212.2 L1887.9 211.2 L1890.1 214.0 L1892.3 213.3 L1894.5 212.0 L1896.7 213.1 L1898.9 213.9 L1901.1 218.3 L1903.3 218.7 L1905.5 217.8 L1907.7 210.8 L1909.9 206.3 L1912.1 204.3 L1914.3 201.5 L1916.5 206.4 L1918.7 208.3 L1920.9 210.2 L1923.1 199.7 L1925.3 200.2 L1927.5 201.7 L1929.7 200.0 L1931.9 196.2 L1934.1 181.8 L1936.3 164.7 L1938.5 160.8 L1940.7 157.9 L1942.9 155.2 L1945.1 153.0 L1947.3 153.0 L1949.5 160.0 L1951.7 161.9 L1953.9 159.8 L1956.1 160.3 L1958.3 164.2 L1960.5 163.5 L1962.7 164.4 L1964.9 168.8 L1967.1 171.0 L1969.3 169.9 L1971.5 171.0 L1973.7 172.4 L1975.9 170.3 L1978.1 171.2 L1980.3 173.4 L1982.5 173.3 L1984.7 172.9 L1986.9 171.5 L1989.1 171.1 L1991.3 172.9 L1993.5 176.5 L1995.7 179.4 L1997.9 180.0 L2000.1 185.5 L2002.3 188.4 L2004.5 192.5 L2006.7 194.2 L2008.9 190.6 L2011.1 194.8 L2013.3 190.6 L2015.5 190.4 L2017.7 192.6 L2019.9 190.6 L2022.1 193.8 L2024.3 195.8 L2026.5 193.8 L2028.7 195.7 L2030.9 193.4 L2033.1 193.4 L2035.3 197.8 L2037.5 195.4 L2039.7 196.3 L2041.9 200.2 L2044.1 196.1 L2046.3 198.0 L2048.5 199.1 L2050.7 201.5 L2052.9 198.5 L2055.1 197.6 L2057.3 200.1 L2059.5 205.5 L2061.7 206.9 L2063.9 205.7 L2066.1 209.5 L2068.3 208.8 L2070.5 206.7 L2072.7 208.0 L2074.9 211.9 L2077.1 209.1 L2079.3 209.7 L2081.5 214.4 L2083.7 215.2 L2085.9 212.2 L2088.1 209.4 L2090.3 212.8 L2092.5 212.6 L2094.7 208.6 L2096.9 208.9 L2099.1 207.1 L2101.3 209.5 L2103.5 210.3 L2105.7 207.5 L2107.9 206.0 L2110.1 203.9 L2112.3 208.8 L2114.5 211.4 L2116.7 212.6 L2118.9 211.9 L2121.1 213.4 L2123.3 214.0 L2125.5 211.3 L2127.7 210.4 L2129.9 213.1 L2132.1 215.6 L2134.3 211.2 L2136.5 212.0 L2138.7 210.8 L2140.9 212.4 L2143.1 210.8 L2145.3 212.0 L2147.5 210.8 L2149.7 210.7 L2151.9 212.2 L2154.1 214.5" stroke="#000" stroke-width="5.0" stroke-linejoin="miter" stroke-miterlimit="3"/><path d="M1232.0 179.2C1236.2 178.9 1249.8 177.1 1257.0 177.2C1264.2 177.3 1269.0 179.4 1275.0 180.0C1281.0 180.6 1287.2 181.0 1293.0 181.0C1298.8 181.0 1302.2 179.2 1310.0 180.0C1317.8 180.8 1329.3 184.3 1340.0 186.0C1350.7 187.7 1365.7 193.5 1374.0 190.0C1382.3 186.5 1384.8 172.0 1390.0 165.0C1395.2 158.0 1398.7 152.7 1405.0 148.0C1411.3 143.3 1421.3 138.0 1428.0 137.0C1434.7 136.0 1440.2 140.0 1445.0 142.0C1449.8 144.0 1450.0 144.8 1457.0 149.0C1464.0 153.2 1477.0 161.7 1487.0 167.0C1497.0 172.3 1505.2 176.7 1517.0 181.0C1528.8 185.3 1544.5 189.0 1558.0 193.0C1571.5 197.0 1589.7 204.0 1598.0 205.0C1606.3 206.0 1603.0 200.3 1608.0 199.0C1613.0 197.7 1619.7 196.7 1628.0 197.0C1636.3 197.3 1649.7 201.0 1658.0 201.0C1666.3 201.0 1672.3 197.8 1678.0 197.0C1683.7 196.2 1685.0 194.7 1692.0 196.0C1699.0 197.3 1708.7 202.3 1720.0 205.0C1731.3 207.7 1749.2 212.8 1760.0 212.0C1770.8 211.2 1778.3 208.7 1785.0 200.0C1791.7 191.3 1795.5 170.8 1800.0 160.0C1804.5 149.2 1808.3 140.0 1812.0 135.0C1815.7 130.0 1816.0 129.0 1822.0 130.0C1828.0 131.0 1840.3 135.8 1848.0 141.0C1855.7 146.2 1861.3 155.0 1868.0 161.0C1874.7 167.0 1881.8 173.2 1888.0 177.0C1894.2 180.8 1899.3 182.7 1905.0 184.0C1910.7 185.3 1916.2 186.7 1922.0 185.0C1927.8 183.3 1933.7 175.8 1940.0 174.0C1946.3 172.2 1953.3 173.3 1960.0 174.0C1966.7 174.7 1973.3 175.5 1980.0 178.0C1986.7 180.5 1992.0 186.8 2000.0 189.0C2008.0 191.2 2020.0 192.0 2028.0 191.0C2036.0 190.0 2039.7 185.0 2048.0 183.0C2056.3 181.0 2069.7 179.7 2078.0 179.0C2086.3 178.3 2091.3 178.0 2098.0 179.0C2104.7 180.0 2108.7 185.7 2118.0 185.0C2127.3 184.3 2148.0 176.7 2154.0 175.0M1232.0 180.9C1236.2 180.7 1249.9 179.2 1257.0 179.4C1264.1 179.6 1268.7 181.7 1274.6 182.3C1280.5 182.8 1286.6 183.2 1292.3 182.8C1298.0 182.5 1301.2 179.6 1308.9 180.2C1316.6 180.7 1327.9 184.3 1338.5 186.0C1349.0 187.7 1363.7 193.2 1372.2 190.2C1380.6 187.1 1383.8 173.8 1389.2 167.5C1394.7 161.2 1398.5 156.5 1405.0 152.3C1411.5 148.1 1421.5 143.3 1428.2 142.5C1434.8 141.6 1440.2 145.3 1445.0 147.2C1449.8 149.1 1449.9 149.9 1457.0 153.9C1464.1 157.8 1477.5 165.9 1487.8 171.0C1498.0 176.1 1506.6 180.4 1518.5 184.6C1530.4 188.7 1546.2 192.2 1559.2 195.8C1572.3 199.4 1588.7 205.2 1596.8 206.0C1604.8 206.7 1602.2 201.4 1607.4 200.2C1612.6 198.9 1619.6 198.1 1628.0 198.5C1636.4 198.8 1649.7 202.4 1658.0 202.4C1666.3 202.5 1672.3 199.5 1678.0 198.8C1683.7 198.0 1685.0 196.5 1692.0 197.8C1699.0 199.2 1708.7 204.0 1720.0 206.6C1731.3 209.2 1749.0 214.1 1760.0 213.4C1771.0 212.7 1779.3 210.8 1786.2 202.4C1793.0 194.0 1796.7 173.8 1801.2 163.1C1805.6 152.4 1809.1 143.1 1812.8 138.1C1816.4 133.1 1817.0 132.2 1823.0 133.2C1829.0 134.3 1841.2 139.3 1848.9 144.4C1856.7 149.5 1862.9 158.0 1869.5 163.7C1876.2 169.4 1882.9 175.0 1888.9 178.5C1894.9 182.1 1899.9 183.6 1905.4 184.8C1910.9 185.9 1916.3 187.0 1922.0 185.4C1927.7 183.7 1933.4 176.8 1939.8 174.9C1946.1 173.1 1953.3 173.6 1960.0 174.2C1966.7 174.9 1973.3 176.3 1980.0 178.9C1986.7 181.5 1992.0 187.5 2000.0 189.8C2008.0 192.2 2020.1 193.5 2028.0 192.8C2035.9 192.2 2039.6 187.7 2047.7 185.8C2055.8 183.9 2068.5 182.3 2076.6 181.4C2084.7 180.5 2089.6 179.6 2096.5 180.4C2103.4 181.2 2108.4 187.1 2118.0 186.4C2127.6 185.7 2148.0 177.8 2154.0 176.1M1232.0 182.6C1236.2 182.4 1250.0 181.3 1257.0 181.6C1264.0 182.0 1268.5 184.0 1274.2 184.5C1280.0 185.0 1286.0 185.4 1291.6 184.7C1297.2 184.0 1300.3 180.1 1307.8 180.3C1315.4 180.5 1326.5 184.3 1336.9 186.0C1347.3 187.7 1361.7 193.0 1370.3 190.3C1378.9 187.7 1382.7 175.7 1388.5 170.1C1394.2 164.5 1398.4 160.3 1405.0 156.6C1411.6 152.9 1421.6 148.6 1428.3 147.9C1435.0 147.2 1440.2 150.7 1445.0 152.5C1449.8 154.3 1449.7 155.0 1457.0 158.8C1464.3 162.5 1478.0 170.2 1488.5 175.1C1499.1 180.0 1508.1 184.2 1520.1 188.2C1532.1 192.1 1547.9 195.5 1560.5 198.6C1573.0 201.7 1587.8 206.5 1595.5 206.9C1603.3 207.4 1601.4 202.5 1606.8 201.3C1612.2 200.1 1619.5 199.5 1628.0 199.9C1636.5 200.3 1649.7 203.7 1658.0 203.8C1666.3 203.9 1672.3 201.2 1678.0 200.5C1683.7 199.8 1685.0 198.4 1692.0 199.7C1699.0 201.0 1708.7 205.7 1720.0 208.2C1731.3 210.7 1748.8 215.3 1760.0 214.8C1771.2 214.2 1780.3 212.9 1787.3 204.8C1794.4 196.7 1797.9 176.8 1802.3 166.2C1806.7 155.6 1809.9 146.1 1813.5 141.2C1817.2 136.2 1817.9 135.4 1824.0 136.5C1830.1 137.6 1842.0 142.8 1849.8 147.8C1857.7 152.8 1864.4 161.0 1871.1 166.4C1877.7 171.8 1884.1 176.9 1889.8 180.1C1895.6 183.3 1900.4 184.6 1905.8 185.5C1911.1 186.5 1916.4 187.4 1922.0 185.8C1927.6 184.2 1933.2 177.7 1939.5 175.8C1945.9 174.0 1953.3 173.8 1960.0 174.5C1966.7 175.1 1973.3 177.1 1980.0 179.8C1986.7 182.6 1992.0 188.2 2000.0 190.7C2008.0 193.2 2020.1 195.1 2028.0 194.7C2035.9 194.3 2039.5 190.4 2047.4 188.5C2055.3 186.7 2067.3 184.9 2075.2 183.8C2083.2 182.6 2087.8 181.1 2094.9 181.8C2102.1 182.4 2108.2 188.5 2118.0 187.8C2127.8 187.0 2148.0 178.9 2154.0 177.2M1232.0 184.3C1236.2 184.2 1250.0 183.4 1257.0 183.8C1264.0 184.3 1268.2 186.3 1273.8 186.8C1279.5 187.2 1285.4 187.6 1290.9 186.5C1296.4 185.5 1299.4 180.6 1306.8 180.5C1314.2 180.4 1325.1 184.3 1335.4 186.0C1345.7 187.7 1359.7 192.7 1368.5 190.5C1377.2 188.2 1381.6 177.5 1387.7 172.6C1393.8 167.7 1398.2 164.1 1405.0 160.9C1411.8 157.7 1421.8 153.9 1428.5 153.4C1435.1 152.8 1440.2 156.0 1445.0 157.7C1449.8 159.4 1449.6 160.1 1457.0 163.6C1464.4 167.2 1478.5 174.4 1489.3 179.1C1500.1 183.8 1509.6 188.0 1521.6 191.7C1533.7 195.5 1549.6 198.7 1561.7 201.4C1573.8 204.1 1586.9 207.7 1594.3 207.9C1601.7 208.0 1600.5 203.5 1606.2 202.5C1611.8 201.4 1619.4 200.9 1628.0 201.4C1636.6 201.8 1649.7 205.1 1658.0 205.2C1666.3 205.4 1672.3 202.9 1678.0 202.3C1683.7 201.7 1685.0 200.3 1692.0 201.5C1699.0 202.8 1708.7 207.4 1720.0 209.8C1731.3 212.3 1748.6 216.6 1760.0 216.2C1771.4 215.7 1781.2 215.0 1788.5 207.2C1795.7 199.3 1799.2 179.7 1803.5 169.2C1807.8 158.7 1810.7 149.2 1814.3 144.2C1817.9 139.3 1818.9 138.5 1825.0 139.7C1831.1 140.8 1842.8 146.3 1850.8 151.2C1858.7 156.1 1865.9 164.0 1872.6 169.1C1879.3 174.2 1885.2 178.7 1890.8 181.6C1896.4 184.5 1900.9 185.6 1906.2 186.3C1911.4 187.1 1916.5 187.7 1922.0 186.2C1927.5 184.6 1933.0 178.7 1939.3 176.8C1945.6 174.9 1953.2 174.0 1960.0 174.7C1966.8 175.4 1973.3 178.0 1980.0 180.8C1986.7 183.6 1992.0 188.9 2000.0 191.5C2008.0 194.2 2020.2 196.6 2028.0 196.5C2035.8 196.5 2039.4 193.0 2047.1 191.3C2054.7 189.6 2066.1 187.5 2073.8 186.2C2081.6 184.8 2086.0 182.7 2093.4 183.2C2100.7 183.7 2107.9 190.0 2118.0 189.2C2128.1 188.3 2148.0 180.1 2154.0 178.2M1232.0 186.0C1236.2 186.0 1250.1 185.6 1257.0 186.1C1263.9 186.6 1267.9 188.7 1273.5 189.0C1279.0 189.4 1284.9 189.8 1290.2 188.4C1295.6 187.0 1298.4 181.0 1305.7 180.6C1313.0 180.2 1323.7 184.3 1333.8 186.0C1344.0 187.7 1357.8 192.4 1366.6 190.6C1375.5 188.8 1380.5 179.4 1386.9 175.2C1393.3 170.9 1398.1 167.9 1405.0 165.2C1411.9 162.5 1421.9 159.2 1428.6 158.8C1435.3 158.5 1440.3 161.3 1445.0 162.9C1449.7 164.5 1449.5 165.1 1457.0 168.5C1464.5 171.9 1479.1 178.7 1490.1 183.1C1501.1 187.6 1511.0 191.8 1523.2 195.3C1535.3 198.8 1551.3 202.0 1562.9 204.2C1574.6 206.5 1586.0 208.9 1593.1 208.8C1600.2 208.7 1599.7 204.6 1605.5 203.6C1611.4 202.6 1619.3 202.3 1628.0 202.8C1636.7 203.4 1649.7 206.5 1658.0 206.7C1666.3 206.9 1672.3 204.6 1678.0 204.1C1683.7 203.5 1685.0 202.2 1692.0 203.4C1699.0 204.6 1708.7 209.1 1720.0 211.5C1731.3 213.8 1748.4 217.9 1760.0 217.5C1771.6 217.2 1782.2 217.1 1789.6 209.5C1797.1 202.0 1800.4 182.7 1804.6 172.3C1808.9 161.9 1811.5 152.2 1815.1 147.3C1818.6 142.4 1819.9 141.7 1826.0 142.9C1832.1 144.1 1843.7 149.7 1851.7 154.5C1859.7 159.3 1867.5 167.0 1874.2 171.8C1880.8 176.5 1886.3 180.6 1891.7 183.2C1897.1 185.7 1901.5 186.5 1906.5 187.1C1911.6 187.6 1916.6 188.1 1922.0 186.5C1927.4 185.0 1932.7 179.6 1939.1 177.7C1945.4 175.8 1953.2 174.3 1960.0 174.9C1966.8 175.6 1973.3 178.8 1980.0 181.7C1986.7 184.6 1992.0 189.6 2000.0 192.4C2008.0 195.2 2020.2 198.1 2028.0 198.4C2035.8 198.7 2039.4 195.7 2046.8 194.1C2054.2 192.4 2064.9 190.1 2072.5 188.5C2080.0 186.9 2084.3 184.2 2091.8 184.5C2099.4 184.9 2107.6 191.4 2118.0 190.5C2128.4 189.7 2148.0 181.2 2154.0 179.3M1232.0 187.7C1236.2 187.8 1250.2 187.7 1257.0 188.3C1263.8 188.9 1267.7 191.0 1273.1 191.3C1278.5 191.6 1284.3 192.0 1289.5 190.2C1294.8 188.5 1297.5 181.5 1304.6 180.8C1311.7 180.1 1322.3 184.3 1332.3 186.0C1342.3 187.7 1355.8 192.2 1364.8 190.8C1373.7 189.4 1379.4 181.2 1386.2 177.7C1392.9 174.2 1397.9 171.8 1405.0 169.5C1412.1 167.3 1422.1 164.5 1428.8 164.3C1435.4 164.1 1440.3 166.6 1445.0 168.2C1449.7 169.7 1449.4 170.2 1457.0 173.4C1464.6 176.6 1479.6 182.9 1490.8 187.2C1502.1 191.4 1512.5 195.6 1524.7 198.9C1536.9 202.2 1553.0 205.2 1564.2 207.0C1575.3 208.9 1585.1 210.1 1591.8 209.8C1598.6 209.4 1598.9 205.7 1604.9 204.8C1610.9 203.9 1619.2 203.8 1628.0 204.3C1636.8 204.9 1649.7 207.8 1658.0 208.1C1666.3 208.3 1672.3 206.3 1678.0 205.8C1683.7 205.4 1685.0 204.0 1692.0 205.2C1699.0 206.4 1708.7 210.8 1720.0 213.1C1731.3 215.4 1748.2 219.1 1760.0 218.9C1771.8 218.7 1783.1 219.2 1790.8 211.9C1798.4 204.7 1801.6 185.6 1805.8 175.4C1809.9 165.1 1812.3 155.3 1815.8 150.4C1819.4 145.5 1820.9 144.9 1827.0 146.2C1833.1 147.4 1844.5 153.2 1852.6 157.9C1860.7 162.6 1869.0 170.0 1875.7 174.5C1882.4 178.9 1887.4 182.5 1892.6 184.7C1897.8 186.9 1902.0 187.5 1906.9 187.8C1911.8 188.2 1916.7 188.5 1922.0 186.9C1927.3 185.4 1932.5 180.6 1938.8 178.6C1945.2 176.7 1953.1 174.5 1960.0 175.2C1966.9 175.8 1973.3 179.6 1980.0 182.6C1986.7 185.6 1992.0 190.3 2000.0 193.2C2008.0 196.2 2020.3 199.6 2028.0 200.2C2035.7 200.8 2039.3 198.4 2046.5 196.8C2053.6 195.3 2063.8 192.7 2071.1 190.9C2078.4 189.1 2082.5 185.8 2090.3 185.9C2098.1 186.1 2107.4 192.8 2118.0 191.9C2128.6 191.0 2148.0 182.3 2154.0 180.4M1232.0 189.4C1236.2 189.6 1250.2 189.8 1257.0 190.5C1263.8 191.2 1267.4 193.3 1272.7 193.6C1278.0 193.8 1283.7 194.2 1288.8 192.1C1294.0 190.0 1296.6 181.9 1303.5 180.9C1310.5 179.9 1320.9 184.3 1330.8 186.0C1340.7 187.7 1353.8 191.9 1362.9 190.9C1372.0 190.0 1378.4 183.1 1385.4 180.2C1392.4 177.4 1397.7 175.6 1405.0 173.8C1412.3 172.1 1422.3 169.8 1428.9 169.8C1435.6 169.7 1440.3 172.0 1445.0 173.4C1449.7 174.8 1449.2 175.3 1457.0 178.3C1464.8 181.2 1480.1 187.2 1491.6 191.2C1503.2 195.2 1513.9 199.4 1526.2 202.5C1538.5 205.6 1554.7 208.5 1565.4 209.8C1576.1 211.2 1584.1 211.4 1590.6 210.7C1597.1 210.1 1598.1 206.7 1604.3 205.9C1610.5 205.1 1619.1 205.2 1628.0 205.8C1636.9 206.4 1649.7 209.2 1658.0 209.5C1666.3 209.8 1672.3 208.0 1678.0 207.6C1683.7 207.2 1685.0 205.9 1692.0 207.1C1699.0 208.3 1708.7 212.5 1720.0 214.7C1731.3 216.9 1748.0 220.4 1760.0 220.3C1772.0 220.2 1784.1 221.3 1791.9 214.3C1799.7 207.3 1802.8 188.6 1806.9 178.5C1811.0 168.3 1813.1 158.3 1816.6 153.5C1820.1 148.6 1821.8 148.1 1828.0 149.4C1834.2 150.7 1845.3 156.7 1853.5 161.3C1861.7 165.9 1870.6 173.0 1877.2 177.2C1883.9 181.3 1888.5 184.3 1893.5 186.2C1898.6 188.1 1902.6 188.4 1907.3 188.6C1912.1 188.8 1916.8 188.8 1922.0 187.3C1927.2 185.8 1932.3 181.5 1938.6 179.5C1944.9 177.6 1953.1 174.7 1960.0 175.4C1966.9 176.1 1973.3 180.4 1980.0 183.5C1986.7 186.7 1992.0 191.0 2000.0 194.1C2008.0 197.2 2020.3 201.2 2028.0 202.1C2035.7 203.0 2039.2 201.1 2046.2 199.6C2053.1 198.2 2062.6 195.4 2069.7 193.3C2076.8 191.3 2080.7 187.3 2088.8 187.3C2096.8 187.3 2107.1 194.3 2118.0 193.3C2128.9 192.3 2148.0 183.4 2154.0 181.5M1232.0 191.1C1236.2 191.4 1250.3 191.9 1257.0 192.7C1263.7 193.5 1267.1 195.6 1272.3 195.8C1277.5 196.0 1283.1 196.4 1288.2 193.9C1293.2 191.5 1295.6 182.4 1302.5 181.1C1309.3 179.8 1319.5 184.3 1329.2 186.0C1339.0 187.7 1351.8 191.6 1361.1 191.1C1370.3 190.5 1377.3 184.9 1384.6 182.8C1391.9 180.6 1397.6 179.4 1405.0 178.2C1412.4 176.9 1422.4 175.2 1429.1 175.2C1435.7 175.3 1440.3 177.3 1445.0 178.6C1449.7 179.9 1449.1 180.4 1457.0 183.1C1464.9 185.9 1480.6 191.4 1492.4 195.2C1504.2 199.0 1515.4 203.1 1527.8 206.0C1540.1 208.9 1556.3 211.7 1566.6 212.7C1576.9 213.6 1583.2 212.6 1589.4 211.7C1595.6 210.7 1597.3 207.8 1603.7 207.1C1610.1 206.3 1618.9 206.6 1628.0 207.2C1637.1 207.9 1649.7 210.5 1658.0 210.9C1666.3 211.3 1672.3 209.7 1678.0 209.4C1683.7 209.1 1685.0 207.8 1692.0 208.9C1699.0 210.1 1708.7 214.2 1720.0 216.3C1731.3 218.4 1747.8 221.6 1760.0 221.7C1772.2 221.8 1785.1 223.4 1793.1 216.7C1801.1 210.0 1804.0 191.6 1808.1 181.5C1812.1 171.5 1813.9 161.4 1817.4 156.5C1820.9 151.7 1822.8 151.3 1829.0 152.6C1835.2 154.0 1846.2 160.2 1854.5 164.7C1862.8 169.2 1872.1 176.0 1878.8 179.8C1885.4 183.7 1889.6 186.2 1894.5 187.8C1899.3 189.4 1903.1 189.4 1907.7 189.4C1912.3 189.4 1916.9 189.2 1922.0 187.7C1927.1 186.2 1932.1 182.5 1938.4 180.5C1944.7 178.4 1953.1 174.9 1960.0 175.6C1966.9 176.3 1973.3 181.2 1980.0 184.5C1986.7 187.7 1992.0 191.7 2000.0 194.9C2008.0 198.2 2020.4 202.7 2028.0 203.9C2035.6 205.2 2039.1 203.8 2045.8 202.4C2052.6 201.0 2061.4 198.0 2068.3 195.7C2075.2 193.4 2078.9 188.9 2087.2 188.7C2095.5 188.5 2106.9 195.7 2118.0 194.7C2129.1 193.7 2148.0 184.6 2154.0 182.5M1232.0 192.8C1236.2 193.2 1250.3 194.0 1257.0 194.9C1263.7 195.8 1266.8 198.0 1271.9 198.1C1277.0 198.2 1282.6 198.6 1287.5 195.8C1292.4 193.0 1294.7 182.9 1301.4 181.2C1308.1 179.6 1318.1 184.3 1327.7 186.0C1337.3 187.7 1349.9 191.3 1359.2 191.2C1368.6 191.1 1376.2 186.8 1383.8 185.3C1391.5 183.8 1397.4 183.2 1405.0 182.5C1412.6 181.7 1422.6 180.5 1429.2 180.7C1435.9 180.9 1440.4 182.6 1445.0 183.8C1449.6 185.1 1449.0 185.4 1457.0 188.0C1465.0 190.6 1481.1 195.6 1493.2 199.2C1505.2 202.8 1516.9 206.9 1529.3 209.6C1541.8 212.3 1558.0 215.0 1567.8 215.5C1577.7 216.0 1582.3 213.8 1588.2 212.6C1594.0 211.4 1596.4 208.9 1603.1 208.2C1609.7 207.6 1618.8 208.0 1628.0 208.7C1637.2 209.4 1649.7 211.9 1658.0 212.3C1666.3 212.7 1672.3 211.4 1678.0 211.2C1683.7 210.9 1685.0 209.6 1692.0 210.8C1699.0 211.9 1708.7 215.9 1720.0 217.9C1731.3 220.0 1747.6 222.9 1760.0 223.1C1772.4 223.3 1786.0 225.5 1794.2 219.1C1802.4 212.7 1805.2 194.5 1809.2 184.6C1813.2 174.7 1814.7 164.4 1818.2 159.6C1821.6 154.8 1823.8 154.4 1830.0 155.8C1836.2 157.3 1847.0 163.6 1855.4 168.1C1863.8 172.5 1873.6 179.0 1880.3 182.5C1887.0 186.1 1890.8 188.0 1895.4 189.3C1900.0 190.6 1903.6 190.4 1908.1 190.2C1912.5 189.9 1917.0 189.5 1922.0 188.1C1927.0 186.6 1931.8 183.4 1938.2 181.4C1944.5 179.3 1953.0 175.2 1960.0 175.8C1967.0 176.5 1973.3 182.1 1980.0 185.4C1986.7 188.7 1992.0 192.4 2000.0 195.8C2008.0 199.2 2020.4 204.2 2028.0 205.8C2035.6 207.3 2039.1 206.4 2045.5 205.2C2052.0 203.9 2060.2 200.6 2066.9 198.1C2073.6 195.6 2077.2 190.4 2085.7 190.1C2094.2 189.7 2106.6 197.2 2118.0 196.1C2129.4 195.0 2148.0 185.7 2154.0 183.6M1232.0 194.5C1236.2 194.9 1250.4 196.2 1257.0 197.1C1263.6 198.1 1266.6 200.3 1271.5 200.4C1276.5 200.4 1282.0 200.8 1286.8 197.6C1291.6 194.5 1293.7 183.3 1300.3 181.4C1306.9 179.4 1316.6 184.3 1326.2 186.0C1335.7 187.7 1347.9 191.1 1357.4 191.4C1366.9 191.7 1375.1 188.6 1383.1 187.8C1391.0 187.1 1397.3 187.1 1405.0 186.8C1412.7 186.5 1422.7 185.8 1429.4 186.2C1436.1 186.5 1440.4 188.0 1445.0 189.1C1449.6 190.2 1448.8 190.5 1457.0 192.9C1465.2 195.3 1481.6 199.9 1493.9 203.3C1506.2 206.7 1518.3 210.7 1530.8 213.2C1543.4 215.7 1559.7 218.2 1569.1 218.3C1578.4 218.3 1581.4 215.1 1586.9 213.6C1592.5 212.1 1595.6 210.0 1602.5 209.4C1609.3 208.8 1618.7 209.4 1628.0 210.2C1637.3 210.9 1649.7 213.3 1658.0 213.7C1666.3 214.2 1672.3 213.1 1678.0 212.9C1683.7 212.7 1685.0 211.5 1692.0 212.6C1699.0 213.7 1708.7 217.6 1720.0 219.5C1731.3 221.5 1747.4 224.1 1760.0 224.5C1772.6 224.8 1787.0 227.6 1795.4 221.5C1803.8 215.3 1806.5 197.5 1810.4 187.7C1814.3 177.9 1815.5 167.5 1818.9 162.7C1822.4 157.9 1824.8 157.6 1831.0 159.1C1837.2 160.5 1847.8 167.1 1856.3 171.5C1864.8 175.8 1875.2 182.0 1881.8 185.2C1888.5 188.5 1891.9 189.9 1896.3 190.8C1900.7 191.8 1904.2 191.3 1908.5 190.9C1912.7 190.5 1917.1 189.9 1922.0 188.5C1926.9 187.0 1931.6 184.4 1937.9 182.3C1944.3 180.2 1953.0 175.4 1960.0 176.1C1967.0 176.7 1973.3 182.9 1980.0 186.3C1986.7 189.7 1992.0 193.1 2000.0 196.6C2008.0 200.2 2020.5 205.7 2028.0 207.6C2035.5 209.5 2039.0 209.1 2045.2 207.9C2051.5 206.7 2059.1 203.2 2065.5 200.5C2072.0 197.7 2075.4 192.0 2084.2 191.5C2092.9 191.0 2106.4 198.6 2118.0 197.5C2129.6 196.3 2148.0 186.8 2154.0 184.7M1232.0 196.2C1236.2 196.7 1250.5 198.3 1257.0 199.4C1263.5 200.4 1266.3 202.6 1271.2 202.6C1276.0 202.6 1281.4 203.0 1286.1 199.5C1290.8 195.9 1292.8 183.8 1299.2 181.5C1305.7 179.3 1315.2 184.3 1324.6 186.0C1334.0 187.7 1345.9 190.8 1355.5 191.5C1365.2 192.3 1374.1 190.5 1382.3 190.4C1390.6 190.3 1397.1 190.9 1405.0 191.1C1412.9 191.3 1422.9 191.1 1429.5 191.6C1436.2 192.2 1440.4 193.3 1445.0 194.3C1449.6 195.3 1448.7 195.6 1457.0 197.8C1465.3 199.9 1482.1 204.1 1494.7 207.3C1507.3 210.5 1519.8 214.5 1532.4 216.8C1545.0 219.1 1561.4 221.4 1570.3 221.1C1579.2 220.7 1580.4 216.3 1585.7 214.5C1590.9 212.8 1594.8 211.0 1601.8 210.5C1608.9 210.1 1618.6 210.8 1628.0 211.6C1637.4 212.4 1649.7 214.6 1658.0 215.2C1666.3 215.7 1672.3 214.8 1678.0 214.7C1683.7 214.6 1685.0 213.4 1692.0 214.5C1699.0 215.5 1708.7 219.3 1720.0 221.2C1731.3 223.1 1747.2 225.4 1760.0 225.8C1772.8 226.3 1787.9 229.7 1796.5 223.8C1805.1 218.0 1807.7 200.4 1811.5 190.8C1815.4 181.1 1816.3 170.5 1819.7 165.8C1823.1 161.0 1825.7 160.8 1832.0 162.3C1838.3 163.8 1848.7 170.6 1857.2 174.8C1865.8 179.1 1876.7 185.0 1883.4 187.9C1890.1 190.8 1893.0 191.8 1897.2 192.4C1901.5 193.0 1904.7 192.3 1908.8 191.7C1913.0 191.1 1917.2 190.3 1922.0 188.8C1926.8 187.4 1931.4 185.3 1937.7 183.2C1944.0 181.1 1952.9 175.6 1960.0 176.3C1967.1 177.0 1973.3 183.7 1980.0 187.2C1986.7 190.8 1992.0 193.8 2000.0 197.5C2008.0 201.2 2020.5 207.3 2028.0 209.5C2035.5 211.7 2038.9 211.8 2044.9 210.7C2050.9 209.6 2057.9 205.8 2064.2 202.8C2070.4 199.9 2073.6 193.5 2082.6 192.8C2091.6 192.2 2106.1 200.0 2118.0 198.8C2129.9 197.7 2148.0 187.9 2154.0 185.8M1232.0 197.9C1236.2 198.5 1250.5 200.4 1257.0 201.6C1263.5 202.7 1266.0 204.9 1270.8 204.9C1275.5 204.8 1280.8 205.2 1285.4 201.3C1289.9 197.4 1291.9 184.2 1298.2 181.7C1304.4 179.1 1313.8 184.3 1323.1 186.0C1332.3 187.7 1343.9 190.5 1353.7 191.7C1363.4 192.8 1373.0 192.3 1381.5 192.9C1390.1 193.5 1397.0 194.7 1405.0 195.4C1413.0 196.1 1423.0 196.4 1429.7 197.1C1436.4 197.8 1440.4 198.6 1445.0 199.5C1449.6 200.5 1448.6 200.7 1457.0 202.6C1465.4 204.6 1482.6 208.4 1495.5 211.3C1508.3 214.3 1521.2 218.3 1533.9 220.3C1546.6 222.4 1563.1 224.7 1571.5 223.9C1580.0 223.1 1579.5 217.5 1584.5 215.5C1589.4 213.5 1594.0 212.1 1601.2 211.7C1608.5 211.3 1618.5 212.3 1628.0 213.1C1637.5 213.9 1649.7 216.0 1658.0 216.6C1666.3 217.1 1672.3 216.5 1678.0 216.5C1683.7 216.4 1685.0 215.3 1692.0 216.3C1699.0 217.4 1708.7 220.9 1720.0 222.8C1731.3 224.6 1747.1 226.7 1760.0 227.2C1772.9 227.8 1788.9 231.8 1797.7 226.2C1806.5 220.7 1808.9 203.4 1812.7 193.8C1816.5 184.3 1817.1 173.6 1820.5 168.8C1823.8 164.1 1826.7 164.0 1833.0 165.5C1839.3 167.1 1849.5 174.1 1858.2 178.2C1866.8 182.4 1878.3 188.0 1884.9 190.6C1891.6 193.2 1894.1 193.6 1898.2 193.9C1902.2 194.2 1905.3 193.2 1909.2 192.5C1913.2 191.7 1917.3 190.6 1922.0 189.2C1926.7 187.8 1931.1 186.3 1937.5 184.2C1943.8 182.0 1952.9 175.9 1960.0 176.5C1967.1 177.2 1973.3 184.5 1980.0 188.2C1986.7 191.8 1992.0 194.4 2000.0 198.3C2008.0 202.2 2020.6 208.8 2028.0 211.3C2035.4 213.8 2038.8 214.5 2044.6 213.5C2050.4 212.4 2056.7 208.4 2062.8 205.2C2068.8 202.0 2071.9 195.1 2081.1 194.2C2090.3 193.4 2105.8 201.5 2118.0 200.2C2130.2 199.0 2148.0 189.1 2154.0 186.8M1232.0 199.6C1236.2 200.3 1250.6 202.5 1257.0 203.8C1263.4 205.0 1265.8 207.2 1270.4 207.1C1275.0 207.0 1280.2 207.4 1284.7 203.2C1289.1 198.9 1290.9 184.7 1297.1 181.8C1303.2 179.0 1312.4 184.3 1321.5 186.0C1330.7 187.7 1342.0 190.3 1351.8 191.8C1361.7 193.4 1371.9 194.2 1380.8 195.5C1389.6 196.8 1396.8 198.5 1405.0 199.7C1413.2 200.9 1423.2 201.7 1429.8 202.5C1436.5 203.4 1440.5 203.9 1445.0 204.8C1449.5 205.6 1448.5 205.8 1457.0 207.5C1465.5 209.3 1483.2 212.6 1496.2 215.4C1509.3 218.1 1522.7 222.0 1535.5 223.9C1548.2 225.8 1564.8 227.9 1572.8 226.7C1580.7 225.4 1578.6 218.8 1583.2 216.4C1587.9 214.1 1593.2 213.2 1600.6 212.8C1608.1 212.5 1618.4 213.7 1628.0 214.5C1637.6 215.4 1649.7 217.4 1658.0 218.0C1666.3 218.6 1672.3 218.2 1678.0 218.2C1683.7 218.3 1685.0 217.1 1692.0 218.2C1699.0 219.2 1708.7 222.6 1720.0 224.4C1731.3 226.1 1746.9 227.9 1760.0 228.6C1773.1 229.3 1789.9 233.9 1798.8 228.6C1807.8 223.3 1810.1 206.4 1813.8 196.9C1817.6 187.5 1817.9 176.6 1821.2 171.9C1824.6 167.2 1827.7 167.2 1834.0 168.8C1840.3 170.4 1850.3 177.5 1859.1 181.6C1867.8 185.7 1879.8 191.0 1886.5 193.3C1893.1 195.6 1895.2 195.5 1899.1 195.5C1902.9 195.4 1905.8 194.2 1909.6 193.2C1913.4 192.3 1917.4 191.0 1922.0 189.6C1926.6 188.3 1930.9 187.2 1937.2 185.1C1943.6 182.9 1952.9 176.1 1960.0 176.8C1967.1 177.4 1973.3 185.3 1980.0 189.1C1986.7 192.8 1992.0 195.1 2000.0 199.2C2008.0 203.2 2020.6 210.3 2028.0 213.2C2035.4 216.0 2038.7 217.2 2044.3 216.2C2049.9 215.3 2055.5 211.1 2061.4 207.6C2067.3 204.2 2070.1 196.6 2079.5 195.6C2089.0 194.6 2105.6 202.9 2118.0 201.6C2130.4 200.3 2148.0 190.2 2154.0 187.9M1232.0 201.3C1236.2 202.1 1250.7 204.7 1257.0 206.0C1263.3 207.3 1265.5 209.6 1270.0 209.4C1274.5 209.2 1279.7 209.6 1284.0 205.0C1288.3 200.4 1290.0 185.2 1296.0 182.0C1302.0 178.8 1311.0 184.3 1320.0 186.0C1329.0 187.7 1340.0 190.0 1350.0 192.0C1360.0 194.0 1370.8 196.0 1380.0 198.0C1389.2 200.0 1396.7 202.3 1405.0 204.0C1413.3 205.7 1423.3 207.0 1430.0 208.0C1436.7 209.0 1440.5 209.3 1445.0 210.0C1449.5 210.7 1448.3 210.8 1457.0 212.4C1465.7 214.0 1483.7 216.9 1497.0 219.4C1510.3 221.9 1524.2 225.8 1537.0 227.5C1549.8 229.2 1566.5 231.2 1574.0 229.5C1581.5 227.8 1577.7 220.0 1582.0 217.4C1586.3 214.8 1592.3 214.2 1600.0 214.0C1607.7 213.8 1618.3 215.1 1628.0 216.0C1637.7 216.9 1649.7 218.7 1658.0 219.4C1666.3 220.1 1672.3 219.9 1678.0 220.0C1683.7 220.1 1685.0 219.0 1692.0 220.0C1699.0 221.0 1708.7 224.3 1720.0 226.0C1731.3 227.7 1746.7 229.2 1760.0 230.0C1773.3 230.8 1790.8 236.0 1800.0 231.0C1809.2 226.0 1811.3 209.3 1815.0 200.0C1818.7 190.7 1818.7 179.7 1822.0 175.0C1825.3 170.3 1828.7 170.3 1835.0 172.0C1841.3 173.7 1851.2 181.0 1860.0 185.0C1868.8 189.0 1881.3 194.0 1888.0 196.0C1894.7 198.0 1896.3 197.3 1900.0 197.0C1903.7 196.7 1906.3 195.2 1910.0 194.0C1913.7 192.8 1917.5 191.3 1922.0 190.0C1926.5 188.7 1930.7 188.2 1937.0 186.0C1943.3 183.8 1952.8 176.3 1960.0 177.0C1967.2 177.7 1973.3 186.2 1980.0 190.0C1986.7 193.8 1992.0 195.8 2000.0 200.0C2008.0 204.2 2020.7 211.8 2028.0 215.0C2035.3 218.2 2038.7 219.8 2044.0 219.0C2049.3 218.2 2054.3 213.7 2060.0 210.0C2065.7 206.3 2068.3 198.2 2078.0 197.0C2087.7 195.8 2105.3 204.3 2118.0 203.0C2130.7 201.7 2148.0 191.3 2154.0 189.0" stroke="#0000ff" stroke-width="2.0"/><path d="M1232.0 194.3C1235.3 194.3 1246.1 193.8 1252.0 194.3C1257.9 194.8 1263.4 197.5 1267.3 197.3C1271.2 197.1 1272.9 195.3 1275.3 193.3C1277.7 191.3 1279.3 186.8 1281.4 185.2C1283.5 183.6 1285.7 185.0 1288.0 184.0C1290.3 183.0 1292.9 180.2 1295.5 179.2C1298.1 178.2 1299.8 177.9 1303.5 178.2C1307.2 178.5 1311.9 179.5 1317.6 181.2C1323.3 182.9 1331.0 186.2 1337.7 188.2C1344.4 190.2 1351.2 192.0 1357.9 193.3C1364.6 194.7 1372.3 196.1 1378.0 196.3C1383.7 196.5 1387.7 195.7 1392.1 194.3C1396.5 193.0 1399.8 189.7 1404.2 188.2C1408.6 186.7 1412.6 186.4 1418.3 185.2C1424.0 184.0 1432.0 181.7 1438.4 181.2C1444.9 180.7 1450.5 180.5 1457.0 182.2C1463.5 183.9 1470.4 187.8 1477.1 191.3C1483.8 194.8 1490.6 200.1 1497.3 203.3C1504.0 206.5 1510.0 209.2 1517.4 210.4C1524.8 211.6 1535.6 210.9 1541.6 210.4C1547.6 209.9 1547.6 207.6 1553.6 207.4C1559.6 207.2 1567.0 208.9 1577.8 209.4C1588.5 209.9 1604.7 209.7 1618.1 210.4C1631.5 211.1 1646.0 212.2 1658.3 213.4C1670.6 214.6 1682.2 217.1 1692.0 217.4C1701.8 217.7 1708.0 214.7 1717.2 215.4C1726.4 216.1 1737.3 219.7 1747.4 221.5C1757.5 223.3 1770.2 225.5 1777.6 226.5C1785.0 227.5 1788.0 229.0 1791.7 227.5C1795.4 226.0 1797.4 223.4 1799.7 217.4C1802.0 211.4 1804.1 199.0 1805.8 191.3C1807.5 183.6 1808.1 176.8 1809.8 171.1C1811.5 165.4 1814.2 159.7 1815.9 157.0C1817.6 154.3 1817.9 154.3 1819.9 155.0C1821.9 155.7 1824.9 158.8 1827.9 161.1C1830.9 163.4 1834.6 166.4 1838.0 169.1C1841.4 171.8 1844.1 174.8 1848.1 177.2C1852.1 179.5 1857.2 180.8 1862.2 183.2C1867.2 185.5 1874.3 190.2 1878.3 191.3C1882.3 192.4 1883.3 192.0 1886.0 190.0C1888.7 188.0 1891.3 181.8 1894.4 179.2C1897.5 176.6 1900.6 175.2 1904.4 174.2C1908.2 173.2 1912.5 172.8 1917.0 173.1C1921.5 173.4 1926.4 176.7 1931.1 176.2C1935.8 175.7 1941.2 169.9 1945.2 170.1C1949.2 170.3 1952.0 176.7 1955.3 177.2C1958.6 177.7 1961.6 172.8 1965.3 173.1C1969.0 173.4 1972.0 175.5 1977.4 179.2C1982.8 182.9 1990.8 190.6 1997.5 195.3C2004.2 200.0 2011.0 204.7 2017.7 207.4C2024.4 210.1 2032.8 211.4 2037.8 211.4C2042.8 211.4 2044.6 210.1 2047.9 207.4C2051.2 204.7 2052.9 198.0 2057.9 195.3C2062.9 192.6 2071.4 192.3 2078.1 191.3C2084.8 190.3 2093.5 190.1 2098.2 189.2C2102.8 188.3 2103.3 187.5 2106.0 186.0C2108.7 184.5 2111.6 180.5 2114.3 180.2C2117.0 179.9 2119.1 184.5 2122.4 184.2C2125.8 183.9 2129.0 178.9 2134.4 178.2C2139.8 177.5 2151.2 179.9 2154.6 180.2" stroke="#ff0000" stroke-width="8.5"/></g><clipPath id="cR1"><rect x="1232.4" y="262.2" width="922.0999999999999" height="241.2"/></clipPath><g clip-path="url(#cR1)" fill="none" stroke-linejoin="round" stroke-linecap="round"><path d="M1230.3 495.1 L1232.5 497.8 L1234.7 494.1 L1236.9 494.5 L1239.1 495.3 L1241.3 498.8 L1243.5 496.2 L1245.7 497.2 L1247.9 494.3 L1250.1 494.1 L1252.3 497.4 L1254.5 497.4 L1256.7 498.5 L1258.9 497.0 L1261.1 497.0 L1263.3 495.2 L1265.5 495.0 L1267.7 493.8 L1269.9 494.4 L1272.1 496.4 L1274.3 497.8 L1276.5 499.2 L1278.7 499.0 L1280.9 500.1 L1283.1 499.9 L1285.3 495.3 L1287.5 499.8 L1289.7 498.6 L1291.9 498.6 L1294.1 497.0 L1296.3 495.8 L1298.5 492.8 L1300.7 490.4 L1302.9 493.3 L1305.1 492.0 L1307.3 494.5 L1309.5 496.7 L1311.7 495.1 L1313.9 492.2 L1316.1 491.4 L1318.3 496.7 L1320.5 495.3 L1322.7 494.3 L1324.9 498.3 L1327.1 494.6 L1329.3 494.0 L1331.5 485.3 L1333.7 479.4 L1335.9 465.7 L1338.1 461.6 L1340.3 457.1 L1342.5 463.7 L1344.7 488.1 L1346.9 493.9 L1349.1 495.4 L1351.3 496.1 L1353.5 491.8 L1355.7 491.5 L1357.9 493.5 L1360.1 493.9 L1362.3 496.6 L1364.5 492.8 L1366.7 497.1 L1368.9 497.0 L1371.1 495.8 L1373.3 492.9 L1375.5 494.7 L1377.7 493.6 L1379.9 493.4 L1382.1 488.8 L1384.3 489.8 L1386.5 486.2 L1388.7 486.5 L1390.9 484.2 L1393.1 484.1 L1395.3 487.6 L1397.5 487.9 L1399.7 481.6 L1401.9 482.2 L1404.1 477.3 L1406.3 478.6 L1408.5 479.9 L1410.7 479.3 L1412.9 478.3 L1415.1 482.1 L1417.3 484.2 L1419.5 480.1 L1421.7 479.9 L1423.9 483.9 L1426.1 486.4 L1428.3 488.0 L1430.5 486.4 L1432.7 490.6 L1434.9 491.4 L1437.1 491.6 L1439.3 490.4 L1441.5 487.1 L1443.7 491.1 L1445.9 489.7 L1448.1 488.7 L1450.3 489.5 L1452.5 490.2 L1454.7 486.5 L1456.9 486.0 L1459.1 487.2 L1461.3 486.3 L1463.5 489.9 L1465.7 487.5 L1467.9 490.1 L1470.1 490.8 L1472.3 491.8 L1474.5 492.3 L1476.7 490.7 L1478.9 488.2 L1481.1 492.1 L1483.3 491.3 L1485.5 489.7 L1487.7 490.8 L1489.9 490.0 L1492.1 487.6 L1494.3 485.0 L1496.5 483.3 L1498.7 482.4 L1500.9 482.4 L1503.1 482.6 L1505.3 487.2 L1507.5 485.2 L1509.7 488.6 L1511.9 487.1 L1514.1 486.5 L1516.3 490.8 L1518.5 487.2 L1520.7 483.8 L1522.9 485.8 L1525.1 487.7 L1527.3 491.1 L1529.5 490.7 L1531.7 487.9 L1533.9 488.5 L1536.1 486.0 L1538.3 486.5 L1540.5 487.4 L1542.7 486.2 L1544.9 489.7 L1547.1 490.3 L1549.3 487.8 L1551.5 489.4 L1553.7 486.8 L1555.9 484.3 L1558.1 483.7 L1560.3 482.2 L1562.5 485.2 L1564.7 483.0 L1566.9 480.5 L1569.1 479.4 L1571.3 481.6 L1573.5 484.4 L1575.7 477.5 L1577.9 468.0 L1580.1 465.7 L1582.3 461.8 L1584.5 467.2 L1586.7 473.8 L1588.9 473.8 L1591.1 477.9 L1593.3 479.1 L1595.5 480.1 L1597.7 482.4 L1599.9 478.7 L1602.1 477.6 L1604.3 471.0 L1606.5 469.0 L1608.7 468.1 L1610.9 474.6 L1613.1 477.9 L1615.3 483.9 L1617.5 484.5 L1619.7 479.1 L1621.9 477.3 L1624.1 478.1 L1626.3 473.3 L1628.5 473.6 L1630.7 472.3 L1632.9 473.9 L1635.1 475.5 L1637.3 473.5 L1639.5 479.2 L1641.7 480.0 L1643.9 479.9 L1646.1 477.4 L1648.3 471.0 L1650.5 462.7 L1652.7 465.1 L1654.9 464.7 L1657.1 467.9 L1659.3 470.0 L1661.5 469.7 L1663.7 473.0 L1665.9 472.9 L1668.1 474.3 L1670.3 473.4 L1672.5 484.8 L1674.7 488.7 L1676.9 487.3 L1679.1 486.9 L1681.3 486.3 L1683.5 485.6 L1685.7 482.9 L1687.9 481.2 L1690.1 484.5 L1692.3 480.2 L1694.5 479.5 L1696.7 478.3 L1698.9 476.4 L1701.1 478.8 L1703.3 477.5 L1705.5 474.9 L1707.7 475.8 L1709.9 469.5 L1712.1 447.4 L1714.3 430.6 L1716.5 431.6 L1718.7 431.8 L1720.9 441.3 L1723.1 453.9 L1725.3 451.6 L1727.5 453.0 L1729.7 452.7 L1731.9 456.2 L1734.1 454.5 L1736.3 457.4 L1738.5 465.1 L1740.7 470.8 L1742.9 472.1 L1745.1 475.2 L1747.3 477.0 L1749.5 482.2 L1751.7 483.1 L1753.9 485.2 L1756.1 487.1 L1758.3 490.6 L1760.5 490.3 L1762.7 487.8 L1764.9 488.7 L1767.1 488.4 L1769.3 488.7 L1771.5 484.0 L1773.7 481.6 L1775.9 484.4 L1778.1 484.2 L1780.3 485.9 L1782.5 481.7 L1784.7 466.9 L1786.9 450.5 L1789.1 447.9 L1791.3 448.0 L1793.5 449.6 L1795.7 451.6 L1797.9 457.4 L1800.1 463.5 L1802.3 443.4 L1804.5 308.7 L1806.7 273.7 L1808.9 334.3 L1811.1 432.6 L1813.3 460.1 L1815.5 467.0 L1817.7 470.7 L1819.9 474.6 L1822.1 479.4 L1824.3 483.4 L1826.5 487.5 L1828.7 492.7 L1830.9 493.5 L1833.1 492.2 L1835.3 488.5 L1837.5 485.7 L1839.7 485.5 L1841.9 484.9 L1844.1 488.2 L1846.3 488.6 L1848.5 487.1 L1850.7 484.4 L1852.9 485.5 L1855.1 488.9 L1857.3 488.6 L1859.5 489.2 L1861.7 492.2 L1863.9 489.1 L1866.1 490.8 L1868.3 493.4 L1870.5 494.2 L1872.7 494.3 L1874.9 491.4 L1877.1 490.8 L1879.3 491.4 L1881.5 490.4 L1883.7 495.8 L1885.9 496.8 L1888.1 491.9 L1890.3 495.3 L1892.5 491.7 L1894.7 489.9 L1896.9 491.0 L1899.1 489.6 L1901.3 494.5 L1903.5 492.1 L1905.7 494.7 L1907.9 491.9 L1910.1 475.3 L1912.3 455.9 L1914.5 455.3 L1916.7 452.7 L1918.9 464.6 L1921.1 491.0 L1923.3 485.4 L1925.5 449.8 L1927.7 419.0 L1929.9 422.2 L1932.1 430.0 L1934.3 468.3 L1936.5 472.1 L1938.7 476.9 L1940.9 484.9 L1943.1 485.9 L1945.3 494.6 L1947.5 494.6 L1949.7 496.5 L1951.9 493.6 L1954.1 496.1 L1956.3 492.7 L1958.5 495.0 L1960.7 492.9 L1962.9 493.0 L1965.1 496.5 L1967.3 496.7 L1969.5 494.4 L1971.7 497.3 L1973.9 494.0 L1976.1 497.4 L1978.3 492.5 L1980.5 497.0 L1982.7 495.8 L1984.9 496.4 L1987.1 498.3 L1989.3 494.3 L1991.5 493.5 L1993.7 497.0 L1995.9 498.8 L1998.1 498.7 L2000.3 496.0 L2002.5 494.4 L2004.7 497.0 L2006.9 496.9 L2009.1 496.2 L2011.3 499.6 L2013.5 500.1 L2015.7 498.8 L2017.9 497.7 L2020.1 497.8 L2022.3 499.7 L2024.5 497.3 L2026.7 499.8 L2028.9 498.7 L2031.1 494.7 L2033.3 497.3 L2035.5 496.7 L2037.7 495.7 L2039.9 499.8 L2042.1 494.6 L2044.3 493.7 L2046.5 499.2 L2048.7 497.3 L2050.9 499.2 L2053.1 498.3 L2055.3 499.5 L2057.5 494.5 L2059.7 493.2 L2061.9 497.3 L2064.1 498.1 L2066.3 497.3 L2068.5 494.5 L2070.7 493.4 L2072.9 494.6 L2075.1 494.1 L2077.3 497.8 L2079.5 496.2 L2081.7 494.7 L2083.9 493.4 L2086.1 495.2 L2088.3 494.1 L2090.5 499.2 L2092.7 495.1 L2094.9 497.9 L2097.1 497.0 L2099.3 497.1 L2101.5 493.9 L2103.7 499.0 L2105.9 500.2 L2108.1 494.6 L2110.3 497.1 L2112.5 496.3 L2114.7 499.4 L2116.9 495.6 L2119.1 495.4 L2121.3 497.6 L2123.5 494.3 L2125.7 492.5 L2127.9 498.0 L2130.1 497.7 L2132.3 497.5 L2134.5 498.8 L2136.7 495.9 L2138.9 496.4 L2141.1 493.8 L2143.3 495.0 L2145.5 492.4 L2147.7 497.6 L2149.9 493.3 L2152.1 496.6 L2154.3 494.5 L2156.5 495.1" stroke="#000" stroke-width="5.0" stroke-linejoin="miter" stroke-miterlimit="3"/><path d="M1232.0 461.4C1235.0 464.2 1245.0 475.2 1250.0 478.0C1255.0 480.8 1257.8 481.8 1262.0 478.0C1266.2 474.2 1270.7 463.4 1275.0 455.0C1279.3 446.6 1283.9 429.2 1287.6 427.5C1291.3 425.8 1293.3 437.1 1297.0 445.0C1300.7 452.9 1304.5 468.3 1310.0 475.0C1315.5 481.7 1321.7 484.2 1330.0 485.0C1338.3 485.8 1348.3 482.5 1360.0 480.0C1371.7 477.5 1389.7 472.8 1400.0 470.0C1410.3 467.2 1414.5 463.9 1422.0 463.4C1429.5 462.9 1438.3 466.0 1445.0 467.0C1451.7 468.0 1454.5 468.4 1462.0 469.6C1469.5 470.8 1480.6 472.6 1490.0 474.0C1499.4 475.4 1510.3 480.1 1518.6 477.8C1526.9 475.5 1534.4 466.3 1540.0 460.0C1545.6 453.7 1548.3 450.0 1552.0 440.0C1555.7 430.0 1559.3 416.7 1562.0 400.0C1564.7 383.3 1566.0 355.1 1568.0 340.0C1570.0 324.9 1571.9 311.1 1573.7 309.4C1575.5 307.7 1577.0 316.6 1579.0 330.0C1581.0 343.4 1583.1 380.6 1585.4 389.5C1587.7 398.4 1590.2 378.2 1592.6 383.3C1595.0 388.4 1597.3 408.4 1600.0 420.0C1602.7 431.6 1605.5 445.6 1609.0 453.2C1612.5 460.8 1616.5 463.1 1621.3 465.5C1626.1 467.9 1632.2 467.9 1637.8 467.5C1643.4 467.1 1650.2 465.4 1655.0 463.0C1659.8 460.6 1662.3 454.0 1666.5 453.2C1670.7 452.4 1675.8 457.0 1680.0 458.0C1684.2 459.0 1687.8 460.6 1692.0 459.3C1696.2 458.0 1700.3 452.4 1705.0 450.0C1709.7 447.6 1714.2 444.2 1720.0 445.0C1725.8 445.8 1733.3 455.0 1740.0 455.0C1746.7 455.0 1754.7 450.0 1760.0 445.0C1765.3 440.0 1769.3 439.2 1772.0 425.0C1774.7 410.8 1774.2 373.3 1776.0 360.0C1777.8 346.7 1780.8 349.7 1783.0 345.0C1785.2 340.3 1787.3 327.8 1789.0 332.0C1790.7 336.2 1791.7 352.0 1793.0 370.0C1794.3 388.0 1795.0 423.7 1797.0 440.0C1799.0 456.3 1802.0 461.7 1805.0 468.0C1808.0 474.3 1810.8 474.3 1815.0 478.0C1819.2 481.7 1822.5 488.3 1830.0 490.0C1837.5 491.7 1851.7 491.3 1860.0 488.0C1868.3 484.7 1874.2 481.3 1880.0 470.0C1885.8 458.7 1891.4 432.7 1895.0 420.0C1898.6 407.3 1899.5 393.6 1901.7 393.6C1903.9 393.6 1905.3 407.3 1908.0 420.0C1910.7 432.7 1913.5 458.7 1918.0 470.0C1922.5 481.3 1928.3 484.8 1935.0 488.0C1941.7 491.2 1951.3 489.0 1958.0 489.0C1964.7 489.0 1968.0 488.3 1975.0 488.0C1982.0 487.7 1990.8 490.0 2000.0 487.0C2009.2 484.0 2022.5 477.8 2030.0 470.0C2037.5 462.2 2041.2 448.6 2045.0 440.0C2048.8 431.4 2050.1 419.9 2052.6 418.2C2055.1 416.5 2057.1 423.0 2060.0 430.0C2062.9 437.0 2065.8 452.5 2070.0 460.0C2074.2 467.5 2079.2 473.3 2085.0 475.0C2090.8 476.7 2099.5 473.3 2105.0 470.0C2110.5 466.7 2114.6 459.5 2118.0 455.0C2121.4 450.5 2122.7 443.7 2125.5 442.9C2128.3 442.1 2131.8 445.5 2135.0 450.0C2138.2 454.5 2141.7 464.2 2145.0 470.0C2148.3 475.8 2153.3 482.5 2155.0 485.0M1232.0 468.0C1235.0 470.3 1245.0 479.5 1250.0 481.8C1255.0 484.1 1257.8 485.0 1262.0 481.8C1266.2 478.6 1270.7 469.6 1275.0 462.6C1279.3 455.6 1283.9 441.1 1287.6 439.8C1291.3 438.4 1293.3 447.7 1297.0 454.3C1300.7 460.9 1304.5 473.7 1310.0 479.3C1315.5 484.8 1321.7 486.9 1330.0 487.6C1338.3 488.3 1348.3 485.5 1360.0 483.4C1371.7 481.4 1389.7 477.4 1400.0 475.1C1410.3 472.8 1414.5 470.0 1422.0 469.6C1429.5 469.2 1438.3 471.8 1445.0 472.6C1451.7 473.5 1454.5 473.8 1462.0 474.8C1469.5 475.8 1480.6 477.3 1490.0 478.4C1499.4 479.6 1510.5 483.6 1518.6 481.6C1526.7 479.7 1533.5 472.0 1538.5 466.8C1543.5 461.6 1545.4 458.5 1548.7 450.2C1552.0 441.8 1555.7 430.7 1558.3 416.9C1560.9 403.0 1562.3 379.5 1564.3 366.9C1566.2 354.4 1568.1 342.9 1570.0 341.5C1571.8 340.1 1573.3 347.5 1575.3 358.6C1577.2 369.7 1579.4 400.7 1581.7 408.1C1583.9 415.5 1586.3 398.7 1588.9 403.0C1591.4 407.2 1593.9 423.8 1597.0 433.5C1600.1 443.2 1603.3 454.8 1607.4 461.1C1611.4 467.5 1616.2 469.4 1621.3 471.4C1626.4 473.4 1632.2 473.4 1637.8 473.0C1643.4 472.7 1650.2 471.3 1655.0 469.3C1659.8 467.3 1662.3 461.8 1666.5 461.1C1670.7 460.4 1675.8 464.3 1680.0 465.1C1684.2 466.0 1687.8 467.3 1692.0 466.2C1696.2 465.1 1700.3 460.5 1705.0 458.5C1709.7 456.5 1714.2 453.6 1720.0 454.3C1725.8 455.0 1733.3 462.6 1740.0 462.6C1746.7 462.6 1754.7 458.5 1760.0 454.3C1765.3 450.2 1769.3 449.5 1772.0 437.7C1774.7 425.9 1774.2 394.7 1776.0 383.6C1777.8 372.5 1780.8 375.0 1783.0 371.1C1785.2 367.2 1787.3 356.8 1789.0 360.3C1790.7 363.8 1791.7 376.9 1793.0 391.9C1794.3 406.9 1795.0 436.6 1797.0 450.2C1799.0 463.7 1802.0 468.2 1805.0 473.5C1808.0 478.7 1810.8 478.7 1815.0 481.8C1819.2 484.8 1822.5 490.4 1830.0 491.8C1837.5 493.1 1851.7 492.9 1860.0 490.1C1868.3 487.3 1874.2 484.6 1880.0 475.1C1885.8 465.7 1891.4 444.1 1895.0 433.5C1898.6 422.9 1899.5 411.5 1901.7 411.5C1903.9 411.5 1905.3 422.9 1908.0 433.5C1910.7 444.1 1913.5 465.7 1918.0 475.1C1922.5 484.6 1928.3 487.5 1935.0 490.1C1941.7 492.7 1951.3 490.9 1958.0 490.9C1964.7 490.9 1968.0 490.4 1975.0 490.1C1982.0 489.8 1990.8 491.8 2000.0 489.3C2009.2 486.8 2022.5 481.6 2030.0 475.1C2037.5 468.6 2041.2 457.3 2045.0 450.2C2048.8 443.0 2050.1 433.4 2052.6 432.0C2055.1 430.6 2057.1 436.0 2060.0 441.8C2062.9 447.6 2065.8 460.6 2070.0 466.8C2074.2 473.0 2079.2 477.9 2085.0 479.3C2090.8 480.7 2099.5 477.9 2105.0 475.1C2110.5 472.3 2114.6 466.4 2118.0 462.6C2121.4 458.9 2122.7 453.3 2125.5 452.6C2128.3 451.9 2131.8 454.7 2135.0 458.5C2138.2 462.2 2141.7 470.3 2145.0 475.1C2148.3 480.0 2153.3 485.5 2155.0 487.6M1232.0 471.5C1235.0 473.5 1245.0 481.8 1250.0 483.8C1255.0 485.9 1257.8 486.7 1262.0 483.8C1266.2 481.0 1270.7 473.0 1275.0 466.7C1279.3 460.5 1283.9 447.6 1287.6 446.3C1291.3 445.1 1293.3 453.4 1297.0 459.3C1300.7 465.2 1304.5 476.6 1310.0 481.6C1315.5 486.5 1321.7 488.4 1330.0 489.0C1338.3 489.6 1348.3 487.1 1360.0 485.3C1371.7 483.4 1389.7 479.9 1400.0 477.9C1410.3 475.8 1414.5 473.3 1422.0 473.0C1429.5 472.6 1438.3 474.9 1445.0 475.6C1451.7 476.4 1454.5 476.7 1462.0 477.6C1469.5 478.4 1480.6 479.8 1490.0 480.8C1499.4 481.9 1510.6 485.4 1518.6 483.7C1526.6 481.9 1533.0 475.1 1537.7 470.5C1542.4 465.8 1543.9 463.0 1547.0 455.6C1550.0 448.2 1553.7 438.3 1556.3 425.9C1558.8 413.6 1560.3 392.6 1562.3 381.4C1564.2 370.2 1566.1 360.0 1568.0 358.7C1569.8 357.5 1571.3 364.1 1573.3 374.0C1575.2 383.9 1577.4 411.6 1579.7 418.1C1581.9 424.7 1584.2 409.8 1586.9 413.5C1589.5 417.3 1592.1 432.1 1595.4 440.8C1598.7 449.4 1602.2 459.8 1606.5 465.4C1610.8 471.0 1616.1 472.8 1621.3 474.5C1626.5 476.3 1632.2 476.3 1637.8 476.0C1643.4 475.7 1650.2 474.4 1655.0 472.7C1659.8 470.9 1662.3 466.0 1666.5 465.4C1670.7 464.8 1675.8 468.2 1680.0 469.0C1684.2 469.7 1687.8 470.9 1692.0 469.9C1696.2 468.9 1700.3 464.8 1705.0 463.0C1709.7 461.3 1714.2 458.7 1720.0 459.3C1725.8 459.9 1733.3 466.7 1740.0 466.7C1746.7 466.7 1754.7 463.0 1760.0 459.3C1765.3 455.6 1769.3 455.0 1772.0 444.5C1774.7 434.0 1774.2 406.1 1776.0 396.3C1777.8 386.4 1780.8 388.6 1783.0 385.1C1785.2 381.7 1787.3 372.4 1789.0 375.5C1790.7 378.6 1791.7 390.3 1793.0 403.7C1794.3 417.0 1795.0 443.5 1797.0 455.6C1799.0 467.7 1802.0 471.7 1805.0 476.4C1808.0 481.1 1810.8 481.1 1815.0 483.8C1819.2 486.5 1822.5 491.5 1830.0 492.7C1837.5 493.9 1851.7 493.7 1860.0 491.2C1868.3 488.8 1874.2 486.3 1880.0 477.9C1885.8 469.5 1891.4 450.2 1895.0 440.8C1898.6 431.3 1899.5 421.2 1901.7 421.2C1903.9 421.2 1905.3 431.3 1908.0 440.8C1910.7 450.2 1913.5 469.5 1918.0 477.9C1922.5 486.3 1928.3 488.9 1935.0 491.2C1941.7 493.6 1951.3 492.0 1958.0 492.0C1964.7 492.0 1968.0 491.5 1975.0 491.2C1982.0 491.0 1990.8 492.7 2000.0 490.5C2009.2 488.3 2022.5 483.7 2030.0 477.9C2037.5 472.1 2041.2 462.0 2045.0 455.6C2048.8 449.2 2050.1 440.7 2052.6 439.4C2055.1 438.2 2057.1 443.0 2060.0 448.2C2062.9 453.4 2065.8 464.9 2070.0 470.5C2074.2 476.0 2079.2 480.3 2085.0 481.6C2090.8 482.8 2099.5 480.3 2105.0 477.9C2110.5 475.4 2114.6 470.1 2118.0 466.7C2121.4 463.4 2122.7 458.4 2125.5 457.8C2128.3 457.1 2131.8 459.7 2135.0 463.0C2138.2 466.4 2141.7 473.5 2145.0 477.9C2148.3 482.2 2153.3 487.1 2155.0 489.0M1232.0 474.4C1235.0 476.2 1245.0 483.6 1250.0 485.5C1255.0 487.3 1257.8 488.0 1262.0 485.5C1266.2 482.9 1270.7 475.7 1275.0 470.1C1279.3 464.5 1283.9 452.8 1287.6 451.7C1291.3 450.6 1293.3 458.1 1297.0 463.4C1300.7 468.7 1304.5 479.0 1310.0 483.5C1315.5 487.9 1321.7 489.6 1330.0 490.1C1338.3 490.7 1348.3 488.5 1360.0 486.8C1371.7 485.1 1389.7 482.0 1400.0 480.1C1410.3 478.3 1414.5 476.0 1422.0 475.7C1429.5 475.4 1438.3 477.4 1445.0 478.1C1451.7 478.8 1454.5 479.1 1462.0 479.9C1469.5 480.6 1480.6 481.9 1490.0 482.8C1499.4 483.7 1510.8 486.9 1518.6 485.3C1526.4 483.8 1532.6 477.6 1537.1 473.4C1541.5 469.2 1542.6 466.8 1545.5 460.1C1548.4 453.4 1552.1 444.5 1554.6 433.3C1557.1 422.2 1558.7 403.3 1560.6 393.3C1562.6 383.2 1564.5 373.9 1566.3 372.8C1568.2 371.7 1569.7 377.7 1571.6 386.6C1573.6 395.5 1575.8 420.4 1578.0 426.3C1580.3 432.3 1582.5 418.8 1585.2 422.2C1587.9 425.6 1590.7 438.9 1594.1 446.7C1597.5 454.5 1601.2 463.8 1605.8 468.9C1610.3 474.0 1616.0 475.5 1621.3 477.1C1626.6 478.7 1632.2 478.7 1637.8 478.4C1643.4 478.2 1650.2 477.0 1655.0 475.4C1659.8 473.9 1662.3 469.5 1666.5 468.9C1670.7 468.3 1675.8 471.4 1680.0 472.1C1684.2 472.8 1687.8 473.9 1692.0 473.0C1696.2 472.1 1700.3 468.3 1705.0 466.8C1709.7 465.2 1714.2 462.9 1720.0 463.4C1725.8 464.0 1733.3 470.1 1740.0 470.1C1746.7 470.1 1754.7 466.8 1760.0 463.4C1765.3 460.1 1769.3 459.5 1772.0 450.1C1774.7 440.6 1774.2 415.5 1776.0 406.6C1777.8 397.7 1780.8 399.7 1783.0 396.6C1785.2 393.5 1787.3 385.1 1789.0 387.9C1790.7 390.7 1791.7 401.3 1793.0 413.3C1794.3 425.3 1795.0 449.2 1797.0 460.1C1799.0 471.0 1802.0 474.6 1805.0 478.8C1808.0 483.0 1810.8 483.0 1815.0 485.5C1819.2 487.9 1822.5 492.4 1830.0 493.5C1837.5 494.6 1851.7 494.4 1860.0 492.1C1868.3 489.9 1874.2 487.7 1880.0 480.1C1885.8 472.5 1891.4 455.2 1895.0 446.7C1898.6 438.2 1899.5 429.1 1901.7 429.1C1903.9 429.1 1905.3 438.2 1908.0 446.7C1910.7 455.2 1913.5 472.5 1918.0 480.1C1922.5 487.7 1928.3 490.0 1935.0 492.1C1941.7 494.3 1951.3 492.8 1958.0 492.8C1964.7 492.8 1968.0 492.4 1975.0 492.1C1982.0 491.9 1990.8 493.5 2000.0 491.5C2009.2 489.5 2022.5 485.4 2030.0 480.1C2037.5 474.9 2041.2 465.8 2045.0 460.1C2048.8 454.3 2050.1 446.6 2052.6 445.5C2055.1 444.4 2057.1 448.7 2060.0 453.4C2062.9 458.0 2065.8 468.4 2070.0 473.4C2074.2 478.4 2079.2 482.3 2085.0 483.5C2090.8 484.6 2099.5 482.3 2105.0 480.1C2110.5 477.9 2114.6 473.1 2118.0 470.1C2121.4 467.1 2122.7 462.6 2125.5 462.0C2128.3 461.5 2131.8 463.7 2135.0 466.8C2138.2 469.8 2141.7 476.2 2145.0 480.1C2148.3 484.0 2153.3 488.5 2155.0 490.1M1232.0 476.9C1235.0 478.6 1245.0 485.3 1250.0 486.9C1255.0 488.6 1257.8 489.2 1262.0 486.9C1266.2 484.6 1270.7 478.1 1275.0 473.0C1279.3 468.0 1283.9 457.5 1287.6 456.5C1291.3 455.4 1293.3 462.2 1297.0 467.0C1300.7 471.8 1304.5 481.1 1310.0 485.1C1315.5 489.1 1321.7 490.6 1330.0 491.1C1338.3 491.7 1348.3 489.6 1360.0 488.1C1371.7 486.6 1389.7 483.8 1400.0 482.1C1410.3 480.4 1414.5 478.4 1422.0 478.1C1429.5 477.8 1438.3 479.7 1445.0 480.3C1451.7 480.9 1454.5 481.2 1462.0 481.9C1469.5 482.6 1480.6 483.7 1490.0 484.5C1499.4 485.3 1510.9 488.2 1518.6 486.8C1526.3 485.4 1532.2 479.9 1536.5 476.1C1540.7 472.3 1541.5 470.0 1544.2 464.0C1547.0 458.0 1550.7 449.9 1553.2 439.9C1555.7 429.8 1557.2 412.8 1559.2 403.7C1561.1 394.5 1563.1 386.2 1564.9 385.2C1566.7 384.2 1568.2 389.6 1570.2 397.6C1572.1 405.7 1574.3 428.2 1576.6 433.5C1578.9 438.9 1581.1 426.7 1583.8 429.8C1586.5 432.8 1589.4 444.9 1592.9 451.9C1596.5 459.0 1600.4 467.4 1605.1 472.0C1609.8 476.5 1615.9 477.9 1621.3 479.4C1626.7 480.8 1632.2 480.8 1637.8 480.6C1643.4 480.3 1650.2 479.3 1655.0 477.9C1659.8 476.4 1662.3 472.5 1666.5 472.0C1670.7 471.5 1675.8 474.2 1680.0 474.9C1684.2 475.5 1687.8 476.4 1692.0 475.6C1696.2 474.8 1700.3 471.5 1705.0 470.0C1709.7 468.6 1714.2 466.5 1720.0 467.0C1725.8 467.5 1733.3 473.0 1740.0 473.0C1746.7 473.0 1754.7 470.0 1760.0 467.0C1765.3 464.0 1769.3 463.5 1772.0 454.9C1774.7 446.4 1774.2 423.8 1776.0 415.7C1777.8 407.7 1780.8 409.5 1783.0 406.7C1785.2 403.9 1787.3 396.3 1789.0 398.8C1790.7 401.3 1791.7 410.9 1793.0 421.8C1794.3 432.6 1795.0 454.1 1797.0 464.0C1799.0 473.8 1802.0 477.1 1805.0 480.9C1808.0 484.7 1810.8 484.7 1815.0 486.9C1819.2 489.1 1822.5 493.2 1830.0 494.2C1837.5 495.2 1851.7 495.0 1860.0 493.0C1868.3 490.9 1874.2 488.9 1880.0 482.1C1885.8 475.3 1891.4 459.6 1895.0 451.9C1898.6 444.2 1899.5 436.0 1901.7 436.0C1903.9 436.0 1905.3 444.2 1908.0 451.9C1910.7 459.6 1913.5 475.3 1918.0 482.1C1922.5 488.9 1928.3 491.0 1935.0 493.0C1941.7 494.9 1951.3 493.6 1958.0 493.6C1964.7 493.6 1968.0 493.2 1975.0 493.0C1982.0 492.8 1990.8 494.2 2000.0 492.4C2009.2 490.5 2022.5 486.8 2030.0 482.1C2037.5 477.4 2041.2 469.2 2045.0 464.0C2048.8 458.8 2050.1 451.8 2052.6 450.8C2055.1 449.8 2057.1 453.8 2060.0 458.0C2062.9 462.2 2065.8 471.5 2070.0 476.1C2074.2 480.6 2079.2 484.1 2085.0 485.1C2090.8 486.1 2099.5 484.1 2105.0 482.1C2110.5 480.1 2114.6 475.8 2118.0 473.0C2121.4 470.3 2122.7 466.2 2125.5 465.7C2128.3 465.2 2131.8 467.3 2135.0 470.0C2138.2 472.8 2141.7 478.6 2145.0 482.1C2148.3 485.6 2153.3 489.6 2155.0 491.1M1232.0 479.2C1235.0 480.7 1245.0 486.7 1250.0 488.2C1255.0 489.8 1257.8 490.3 1262.0 488.2C1266.2 486.2 1270.7 480.3 1275.0 475.7C1279.3 471.1 1283.9 461.7 1287.6 460.7C1291.3 459.8 1293.3 466.0 1297.0 470.3C1300.7 474.6 1304.5 483.0 1310.0 486.6C1315.5 490.2 1321.7 491.6 1330.0 492.1C1338.3 492.5 1348.3 490.7 1360.0 489.3C1371.7 488.0 1389.7 485.4 1400.0 483.9C1410.3 482.4 1414.5 480.6 1422.0 480.3C1429.5 480.0 1438.3 481.7 1445.0 482.3C1451.7 482.8 1454.5 483.0 1462.0 483.7C1469.5 484.3 1480.6 485.3 1490.0 486.1C1499.4 486.8 1510.9 489.4 1518.6 488.1C1526.3 486.9 1531.9 481.9 1536.0 478.4C1540.0 475.0 1540.4 473.0 1543.1 467.6C1545.7 462.1 1549.4 454.8 1551.9 445.8C1554.3 436.7 1555.9 421.3 1557.9 413.1C1559.8 404.9 1561.7 397.3 1563.6 396.4C1565.4 395.5 1566.9 400.4 1568.9 407.7C1570.8 414.9 1573.0 435.2 1575.3 440.1C1577.5 444.9 1579.7 433.9 1582.5 436.7C1585.2 439.4 1588.2 450.3 1591.9 456.7C1595.6 463.0 1599.6 470.6 1604.5 474.7C1609.4 478.9 1615.8 480.1 1621.3 481.4C1626.8 482.7 1632.2 482.8 1637.8 482.5C1643.4 482.3 1650.2 481.4 1655.0 480.1C1659.8 478.8 1662.3 475.2 1666.5 474.7C1670.7 474.3 1675.8 476.8 1680.0 477.4C1684.2 477.9 1687.8 478.8 1692.0 478.1C1696.2 477.3 1700.3 474.3 1705.0 473.0C1709.7 471.7 1714.2 469.8 1720.0 470.3C1725.8 470.7 1733.3 475.7 1740.0 475.7C1746.7 475.7 1754.7 473.0 1760.0 470.3C1765.3 467.6 1769.3 467.1 1772.0 459.4C1774.7 451.7 1774.2 431.2 1776.0 424.0C1777.8 416.7 1780.8 418.4 1783.0 415.8C1785.2 413.3 1787.3 406.5 1789.0 408.7C1790.7 411.0 1791.7 419.6 1793.0 429.4C1794.3 439.2 1795.0 458.7 1797.0 467.6C1799.0 476.4 1802.0 479.4 1805.0 482.8C1808.0 486.3 1810.8 486.3 1815.0 488.2C1819.2 490.2 1822.5 493.9 1830.0 494.8C1837.5 495.7 1851.7 495.5 1860.0 493.7C1868.3 491.9 1874.2 490.1 1880.0 483.9C1885.8 477.7 1891.4 463.6 1895.0 456.7C1898.6 449.7 1899.5 442.3 1901.7 442.3C1903.9 442.3 1905.3 449.7 1908.0 456.7C1910.7 463.6 1913.5 477.7 1918.0 483.9C1922.5 490.1 1928.3 492.0 1935.0 493.7C1941.7 495.4 1951.3 494.2 1958.0 494.2C1964.7 494.2 1968.0 493.9 1975.0 493.7C1982.0 493.5 1990.8 494.8 2000.0 493.1C2009.2 491.5 2022.5 488.2 2030.0 483.9C2037.5 479.6 2041.2 472.3 2045.0 467.6C2048.8 462.9 2050.1 456.6 2052.6 455.7C2055.1 454.8 2057.1 458.3 2060.0 462.1C2062.9 465.9 2065.8 474.4 2070.0 478.4C2074.2 482.5 2079.2 485.7 2085.0 486.6C2090.8 487.5 2099.5 485.7 2105.0 483.9C2110.5 482.1 2114.6 478.2 2118.0 475.7C2121.4 473.3 2122.7 469.6 2125.5 469.1C2128.3 468.7 2131.8 470.5 2135.0 473.0C2138.2 475.5 2141.7 480.7 2145.0 483.9C2148.3 487.1 2153.3 490.7 2155.0 492.1M1232.0 481.3C1235.0 482.7 1245.0 488.1 1250.0 489.5C1255.0 490.8 1257.8 491.4 1262.0 489.5C1266.2 487.6 1270.7 482.3 1275.0 478.2C1279.3 474.1 1283.9 465.5 1287.6 464.7C1291.3 463.9 1293.3 469.4 1297.0 473.3C1300.7 477.2 1304.5 484.7 1310.0 488.0C1315.5 491.3 1321.7 492.5 1330.0 492.9C1338.3 493.3 1348.3 491.7 1360.0 490.5C1371.7 489.2 1389.7 486.9 1400.0 485.6C1410.3 484.2 1414.5 482.6 1422.0 482.3C1429.5 482.1 1438.3 483.6 1445.0 484.1C1451.7 484.6 1454.5 484.8 1462.0 485.4C1469.5 485.9 1480.6 486.8 1490.0 487.5C1499.4 488.2 1511.0 490.5 1518.6 489.4C1526.2 488.2 1531.6 483.7 1535.5 480.7C1539.4 477.6 1539.5 475.8 1542.0 470.9C1544.6 466.0 1548.2 459.4 1550.7 451.2C1553.1 443.1 1554.7 429.2 1556.7 421.8C1558.6 414.4 1560.5 407.7 1562.4 406.8C1564.2 406.0 1565.7 410.4 1567.7 416.9C1569.6 423.5 1571.8 441.8 1574.1 446.1C1576.3 450.5 1578.5 440.6 1581.3 443.1C1584.1 445.6 1587.1 455.3 1590.9 461.1C1594.7 466.8 1599.0 473.6 1604.0 477.3C1609.1 481.0 1615.7 482.2 1621.3 483.3C1626.9 484.5 1632.2 484.5 1637.8 484.3C1643.4 484.1 1650.2 483.3 1655.0 482.1C1659.8 481.0 1662.3 477.7 1666.5 477.3C1670.7 476.9 1675.8 479.2 1680.0 479.7C1684.2 480.2 1687.8 481.0 1692.0 480.3C1696.2 479.7 1700.3 476.9 1705.0 475.8C1709.7 474.6 1714.2 472.9 1720.0 473.3C1725.8 473.7 1733.3 478.2 1740.0 478.2C1746.7 478.2 1754.7 475.8 1760.0 473.3C1765.3 470.9 1769.3 470.4 1772.0 463.5C1774.7 456.6 1774.2 438.2 1776.0 431.6C1777.8 425.1 1780.8 426.6 1783.0 424.3C1785.2 422.0 1787.3 415.9 1789.0 417.9C1790.7 420.0 1791.7 427.7 1793.0 436.5C1794.3 445.4 1795.0 462.8 1797.0 470.9C1799.0 478.9 1802.0 481.5 1805.0 484.6C1808.0 487.7 1810.8 487.7 1815.0 489.5C1819.2 491.3 1822.5 494.5 1830.0 495.4C1837.5 496.2 1851.7 496.0 1860.0 494.4C1868.3 492.7 1874.2 491.1 1880.0 485.6C1885.8 480.0 1891.4 467.3 1895.0 461.1C1898.6 454.8 1899.5 448.1 1901.7 448.1C1903.9 448.1 1905.3 454.8 1908.0 461.1C1910.7 467.3 1913.5 480.0 1918.0 485.6C1922.5 491.1 1928.3 492.8 1935.0 494.4C1941.7 495.9 1951.3 494.9 1958.0 494.9C1964.7 494.9 1968.0 494.5 1975.0 494.4C1982.0 494.2 1990.8 495.4 2000.0 493.9C2009.2 492.4 2022.5 489.4 2030.0 485.6C2037.5 481.7 2041.2 475.1 2045.0 470.9C2048.8 466.6 2050.1 461.0 2052.6 460.2C2055.1 459.4 2057.1 462.5 2060.0 466.0C2062.9 469.4 2065.8 477.0 2070.0 480.7C2074.2 484.3 2079.2 487.2 2085.0 488.0C2090.8 488.8 2099.5 487.2 2105.0 485.6C2110.5 483.9 2114.6 480.4 2118.0 478.2C2121.4 476.0 2122.7 472.7 2125.5 472.3C2128.3 471.9 2131.8 473.5 2135.0 475.8C2138.2 478.0 2141.7 482.7 2145.0 485.6C2148.3 488.4 2153.3 491.7 2155.0 492.9M1232.0 483.3C1235.0 484.6 1245.0 489.4 1250.0 490.6C1255.0 491.8 1257.8 492.3 1262.0 490.6C1266.2 488.9 1270.7 484.2 1275.0 480.5C1279.3 476.8 1283.9 469.2 1287.6 468.5C1291.3 467.7 1293.3 472.7 1297.0 476.1C1300.7 479.6 1304.5 486.4 1310.0 489.3C1315.5 492.2 1321.7 493.3 1330.0 493.7C1338.3 494.1 1348.3 492.6 1360.0 491.5C1371.7 490.4 1389.7 488.3 1400.0 487.1C1410.3 485.9 1414.5 484.4 1422.0 484.2C1429.5 484.0 1438.3 485.3 1445.0 485.8C1451.7 486.2 1454.5 486.4 1462.0 486.9C1469.5 487.4 1480.6 488.3 1490.0 488.9C1499.4 489.5 1511.1 491.6 1518.6 490.5C1526.1 489.5 1531.3 485.5 1535.0 482.7C1538.8 480.0 1538.6 478.3 1541.0 473.9C1543.4 469.6 1547.1 463.7 1549.5 456.4C1551.9 449.1 1553.6 436.7 1555.5 430.1C1557.5 423.4 1559.4 417.4 1561.2 416.6C1563.1 415.9 1564.6 419.8 1566.5 425.7C1568.5 431.5 1570.7 447.9 1572.9 451.8C1575.2 455.7 1577.3 446.8 1580.1 449.1C1583.0 451.3 1586.1 460.1 1590.0 465.2C1593.9 470.3 1598.3 476.4 1603.5 479.7C1608.7 483.1 1615.6 484.1 1621.3 485.1C1627.0 486.2 1632.2 486.2 1637.8 486.0C1643.4 485.8 1650.2 485.1 1655.0 484.0C1659.8 483.0 1662.3 480.1 1666.5 479.7C1670.7 479.4 1675.8 481.4 1680.0 481.8C1684.2 482.3 1687.8 483.0 1692.0 482.4C1696.2 481.8 1700.3 479.4 1705.0 478.3C1709.7 477.3 1714.2 475.8 1720.0 476.1C1725.8 476.5 1733.3 480.5 1740.0 480.5C1746.7 480.5 1754.7 478.3 1760.0 476.1C1765.3 473.9 1769.3 473.6 1772.0 467.4C1774.7 461.1 1774.2 444.7 1776.0 438.8C1777.8 433.0 1780.8 434.3 1783.0 432.2C1785.2 430.2 1787.3 424.7 1789.0 426.5C1790.7 428.4 1791.7 435.3 1793.0 443.2C1794.3 451.1 1795.0 466.8 1797.0 473.9C1799.0 481.1 1802.0 483.5 1805.0 486.2C1808.0 489.0 1810.8 489.0 1815.0 490.6C1819.2 492.2 1822.5 495.2 1830.0 495.9C1837.5 496.6 1851.7 496.5 1860.0 495.0C1868.3 493.6 1874.2 492.1 1880.0 487.1C1885.8 482.1 1891.4 470.8 1895.0 465.2C1898.6 459.6 1899.5 453.6 1901.7 453.6C1903.9 453.6 1905.3 459.6 1908.0 465.2C1910.7 470.8 1913.5 482.1 1918.0 487.1C1922.5 492.1 1928.3 493.6 1935.0 495.0C1941.7 496.4 1951.3 495.5 1958.0 495.5C1964.7 495.5 1968.0 495.2 1975.0 495.0C1982.0 494.9 1990.8 495.9 2000.0 494.6C2009.2 493.3 2022.5 490.6 2030.0 487.1C2037.5 483.7 2041.2 477.7 2045.0 473.9C2048.8 470.2 2050.1 465.1 2052.6 464.4C2055.1 463.6 2057.1 466.5 2060.0 469.6C2062.9 472.6 2065.8 479.4 2070.0 482.7C2074.2 486.0 2079.2 488.6 2085.0 489.3C2090.8 490.0 2099.5 488.6 2105.0 487.1C2110.5 485.6 2114.6 482.5 2118.0 480.5C2121.4 478.5 2122.7 475.6 2125.5 475.2C2128.3 474.9 2131.8 476.4 2135.0 478.3C2138.2 480.3 2141.7 484.6 2145.0 487.1C2148.3 489.7 2153.3 492.6 2155.0 493.7M1232.0 485.2C1235.0 486.3 1245.0 490.6 1250.0 491.7C1255.0 492.8 1257.8 493.2 1262.0 491.7C1266.2 490.2 1270.7 486.0 1275.0 482.7C1279.3 479.4 1283.9 472.6 1287.6 472.0C1291.3 471.3 1293.3 475.7 1297.0 478.8C1300.7 481.9 1304.5 487.9 1310.0 490.5C1315.5 493.1 1321.7 494.1 1330.0 494.4C1338.3 494.8 1348.3 493.5 1360.0 492.5C1371.7 491.5 1389.7 489.7 1400.0 488.6C1410.3 487.5 1414.5 486.2 1422.0 486.0C1429.5 485.8 1438.3 487.0 1445.0 487.4C1451.7 487.8 1454.5 488.0 1462.0 488.4C1469.5 488.9 1480.6 489.6 1490.0 490.2C1499.4 490.7 1511.2 492.5 1518.6 491.6C1526.0 490.7 1531.0 487.1 1534.6 484.7C1538.2 482.2 1537.8 480.8 1540.1 476.9C1542.4 473.0 1546.1 467.8 1548.5 461.3C1550.9 454.7 1552.5 443.7 1554.5 437.8C1556.4 431.9 1558.3 426.5 1560.2 425.9C1562.0 425.2 1563.5 428.7 1565.5 433.9C1567.4 439.1 1569.6 453.7 1571.9 457.2C1574.1 460.6 1576.2 452.7 1579.1 454.7C1581.9 456.7 1585.2 464.5 1589.2 469.1C1593.2 473.6 1597.7 479.1 1603.0 482.0C1608.4 485.0 1615.5 485.9 1621.3 486.8C1627.1 487.8 1632.2 487.8 1637.8 487.6C1643.4 487.5 1650.2 486.8 1655.0 485.9C1659.8 484.9 1662.3 482.4 1666.5 482.0C1670.7 481.7 1675.8 483.5 1680.0 483.9C1684.2 484.3 1687.8 484.9 1692.0 484.4C1696.2 483.9 1700.3 481.7 1705.0 480.8C1709.7 479.8 1714.2 478.5 1720.0 478.8C1725.8 479.2 1733.3 482.7 1740.0 482.7C1746.7 482.7 1754.7 480.8 1760.0 478.8C1765.3 476.9 1769.3 476.6 1772.0 471.0C1774.7 465.5 1774.2 450.8 1776.0 445.6C1777.8 440.4 1780.8 441.6 1783.0 439.8C1785.2 438.0 1787.3 433.1 1789.0 434.7C1790.7 436.3 1791.7 442.5 1793.0 449.5C1794.3 456.6 1795.0 470.5 1797.0 476.9C1799.0 483.3 1802.0 485.3 1805.0 487.8C1808.0 490.3 1810.8 490.3 1815.0 491.7C1819.2 493.1 1822.5 495.7 1830.0 496.4C1837.5 497.1 1851.7 496.9 1860.0 495.6C1868.3 494.3 1874.2 493.0 1880.0 488.6C1885.8 484.2 1891.4 474.0 1895.0 469.1C1898.6 464.1 1899.5 458.8 1901.7 458.8C1903.9 458.8 1905.3 464.1 1908.0 469.1C1910.7 474.0 1913.5 484.2 1918.0 488.6C1922.5 493.0 1928.3 494.4 1935.0 495.6C1941.7 496.9 1951.3 496.0 1958.0 496.0C1964.7 496.0 1968.0 495.7 1975.0 495.6C1982.0 495.5 1990.8 496.4 2000.0 495.2C2009.2 494.1 2022.5 491.6 2030.0 488.6C2037.5 485.5 2041.2 480.2 2045.0 476.9C2048.8 473.5 2050.1 469.0 2052.6 468.4C2055.1 467.7 2057.1 470.3 2060.0 473.0C2062.9 475.7 2065.8 481.8 2070.0 484.7C2074.2 487.6 2079.2 489.9 2085.0 490.5C2090.8 491.2 2099.5 489.9 2105.0 488.6C2110.5 487.3 2114.6 484.5 2118.0 482.7C2121.4 481.0 2122.7 478.3 2125.5 478.0C2128.3 477.7 2131.8 479.0 2135.0 480.8C2138.2 482.5 2141.7 486.3 2145.0 488.6C2148.3 490.9 2153.3 493.5 2155.0 494.4M1232.0 487.0C1235.0 488.0 1245.0 491.8 1250.0 492.8C1255.0 493.7 1257.8 494.1 1262.0 492.8C1266.2 491.4 1270.7 487.7 1275.0 484.8C1279.3 481.9 1283.9 475.9 1287.6 475.4C1291.3 474.8 1293.3 478.7 1297.0 481.4C1300.7 484.1 1304.5 489.4 1310.0 491.7C1315.5 494.0 1321.7 494.9 1330.0 495.2C1338.3 495.5 1348.3 494.3 1360.0 493.4C1371.7 492.6 1389.7 491.0 1400.0 490.0C1410.3 489.0 1414.5 487.9 1422.0 487.7C1429.5 487.6 1438.3 488.6 1445.0 489.0C1451.7 489.3 1454.5 489.5 1462.0 489.9C1469.5 490.3 1480.6 490.9 1490.0 491.4C1499.4 491.8 1511.2 493.5 1518.6 492.7C1526.0 491.9 1530.7 488.7 1534.2 486.6C1537.6 484.4 1537.0 483.1 1539.2 479.7C1541.4 476.2 1545.1 471.6 1547.4 465.9C1549.8 460.2 1551.5 450.4 1553.4 445.2C1555.4 440.0 1557.3 435.3 1559.1 434.7C1561.0 434.1 1562.5 437.2 1564.4 441.8C1566.4 446.4 1568.6 459.2 1570.8 462.3C1573.1 465.3 1575.1 458.4 1578.0 460.1C1580.9 461.9 1584.3 468.8 1588.3 472.8C1592.4 476.8 1597.1 481.6 1602.6 484.2C1608.1 486.8 1615.4 487.6 1621.3 488.4C1627.2 489.3 1632.2 489.3 1637.8 489.1C1643.4 489.0 1650.2 488.4 1655.0 487.6C1659.8 486.8 1662.3 484.5 1666.5 484.2C1670.7 483.9 1675.8 485.5 1680.0 485.9C1684.2 486.2 1687.8 486.8 1692.0 486.3C1696.2 485.9 1700.3 483.9 1705.0 483.1C1709.7 482.3 1714.2 481.1 1720.0 481.4C1725.8 481.7 1733.3 484.8 1740.0 484.8C1746.7 484.8 1754.7 483.1 1760.0 481.4C1765.3 479.7 1769.3 479.4 1772.0 474.5C1774.7 469.6 1774.2 456.7 1776.0 452.1C1777.8 447.5 1780.8 448.6 1783.0 447.0C1785.2 445.4 1787.3 441.0 1789.0 442.5C1790.7 443.9 1791.7 449.4 1793.0 455.6C1794.3 461.8 1795.0 474.0 1797.0 479.7C1799.0 485.3 1802.0 487.1 1805.0 489.3C1808.0 491.5 1810.8 491.5 1815.0 492.8C1819.2 494.0 1822.5 496.3 1830.0 496.9C1837.5 497.5 1851.7 497.3 1860.0 496.2C1868.3 495.0 1874.2 493.9 1880.0 490.0C1885.8 486.1 1891.4 477.2 1895.0 472.8C1898.6 468.4 1899.5 463.7 1901.7 463.7C1903.9 463.7 1905.3 468.4 1908.0 472.8C1910.7 477.2 1913.5 486.1 1918.0 490.0C1922.5 493.9 1928.3 495.1 1935.0 496.2C1941.7 497.3 1951.3 496.5 1958.0 496.5C1964.7 496.5 1968.0 496.3 1975.0 496.2C1982.0 496.1 1990.8 496.9 2000.0 495.9C2009.2 494.8 2022.5 492.7 2030.0 490.0C2037.5 487.3 2041.2 482.6 2045.0 479.7C2048.8 476.7 2050.1 472.7 2052.6 472.2C2055.1 471.6 2057.1 473.8 2060.0 476.2C2062.9 478.6 2065.8 484.0 2070.0 486.6C2074.2 489.1 2079.2 491.1 2085.0 491.7C2090.8 492.3 2099.5 491.1 2105.0 490.0C2110.5 488.9 2114.6 486.4 2118.0 484.8C2121.4 483.3 2122.7 481.0 2125.5 480.7C2128.3 480.4 2131.8 481.6 2135.0 483.1C2138.2 484.7 2141.7 488.0 2145.0 490.0C2148.3 492.0 2153.3 494.3 2155.0 495.2M1232.0 488.8C1235.0 489.6 1245.0 492.9 1250.0 493.7C1255.0 494.6 1257.8 494.9 1262.0 493.7C1266.2 492.6 1270.7 489.4 1275.0 486.8C1279.3 484.3 1283.9 479.1 1287.6 478.6C1291.3 478.1 1293.3 481.5 1297.0 483.8C1300.7 486.2 1304.5 490.8 1310.0 492.8C1315.5 494.8 1321.7 495.6 1330.0 495.8C1338.3 496.1 1348.3 495.1 1360.0 494.3C1371.7 493.6 1389.7 492.2 1400.0 491.3C1410.3 490.5 1414.5 489.5 1422.0 489.4C1429.5 489.2 1438.3 490.1 1445.0 490.4C1451.7 490.8 1454.5 490.9 1462.0 491.2C1469.5 491.6 1480.6 492.1 1490.0 492.5C1499.4 493.0 1511.3 494.4 1518.6 493.7C1525.9 493.0 1530.5 490.2 1533.8 488.3C1537.1 486.5 1536.2 485.3 1538.3 482.3C1540.4 479.3 1544.1 475.3 1546.4 470.3C1548.8 465.3 1550.5 456.9 1552.4 452.3C1554.4 447.8 1556.3 443.7 1558.1 443.2C1560.0 442.7 1561.5 445.3 1563.4 449.3C1565.4 453.3 1567.6 464.5 1569.8 467.2C1572.1 469.9 1574.1 463.8 1577.0 465.3C1580.0 466.9 1583.4 472.9 1587.6 476.3C1591.7 479.8 1596.5 484.0 1602.2 486.3C1607.8 488.6 1615.4 489.3 1621.3 490.0C1627.2 490.7 1632.2 490.7 1637.8 490.6C1643.4 490.5 1650.2 490.0 1655.0 489.2C1659.8 488.5 1662.3 486.6 1666.5 486.3C1670.7 486.1 1675.8 487.4 1680.0 487.7C1684.2 488.1 1687.8 488.5 1692.0 488.1C1696.2 487.7 1700.3 486.1 1705.0 485.3C1709.7 484.6 1714.2 483.6 1720.0 483.8C1725.8 484.1 1733.3 486.8 1740.0 486.8C1746.7 486.8 1754.7 485.3 1760.0 483.8C1765.3 482.3 1769.3 482.1 1772.0 477.8C1774.7 473.6 1774.2 462.3 1776.0 458.3C1777.8 454.3 1780.8 455.2 1783.0 453.8C1785.2 452.4 1787.3 448.7 1789.0 449.9C1790.7 451.2 1791.7 455.9 1793.0 461.3C1794.3 466.7 1795.0 477.4 1797.0 482.3C1799.0 487.2 1802.0 488.8 1805.0 490.7C1808.0 492.6 1810.8 492.6 1815.0 493.7C1819.2 494.8 1822.5 496.8 1830.0 497.3C1837.5 497.8 1851.7 497.7 1860.0 496.7C1868.3 495.7 1874.2 494.7 1880.0 491.3C1885.8 487.9 1891.4 480.2 1895.0 476.3C1898.6 472.5 1899.5 468.4 1901.7 468.4C1903.9 468.4 1905.3 472.5 1908.0 476.3C1910.7 480.2 1913.5 487.9 1918.0 491.3C1922.5 494.7 1928.3 495.8 1935.0 496.7C1941.7 497.7 1951.3 497.0 1958.0 497.0C1964.7 497.0 1968.0 496.8 1975.0 496.7C1982.0 496.6 1990.8 497.3 2000.0 496.4C2009.2 495.5 2022.5 493.7 2030.0 491.3C2037.5 489.0 2041.2 484.9 2045.0 482.3C2048.8 479.8 2050.1 476.3 2052.6 475.8C2055.1 475.3 2057.1 477.3 2060.0 479.3C2062.9 481.4 2065.8 486.1 2070.0 488.3C2074.2 490.6 2079.2 492.3 2085.0 492.8C2090.8 493.3 2099.5 492.3 2105.0 491.3C2110.5 490.3 2114.6 488.2 2118.0 486.8C2121.4 485.5 2122.7 483.5 2125.5 483.2C2128.3 483.0 2131.8 484.0 2135.0 485.3C2138.2 486.7 2141.7 489.6 2145.0 491.3C2148.3 493.1 2153.3 495.1 2155.0 495.8M1232.0 490.4C1235.0 491.1 1245.0 494.0 1250.0 494.7C1255.0 495.4 1257.8 495.7 1262.0 494.7C1266.2 493.7 1270.7 491.0 1275.0 488.8C1279.3 486.6 1283.9 482.1 1287.6 481.7C1291.3 481.3 1293.3 484.2 1297.0 486.2C1300.7 488.2 1304.5 492.2 1310.0 493.9C1315.5 495.7 1321.7 496.3 1330.0 496.5C1338.3 496.7 1348.3 495.9 1360.0 495.2C1371.7 494.6 1389.7 493.4 1400.0 492.6C1410.3 491.9 1414.5 491.1 1422.0 490.9C1429.5 490.8 1438.3 491.6 1445.0 491.9C1451.7 492.1 1454.5 492.2 1462.0 492.5C1469.5 492.8 1480.6 493.3 1490.0 493.7C1499.4 494.0 1511.4 495.3 1518.6 494.7C1525.8 494.1 1530.3 491.7 1533.4 490.1C1536.5 488.5 1535.5 487.5 1537.5 484.9C1539.5 482.4 1543.2 478.9 1545.5 474.6C1547.8 470.3 1549.5 463.1 1551.5 459.2C1553.4 455.3 1555.4 451.7 1557.2 451.3C1559.0 450.9 1560.5 453.2 1562.5 456.6C1564.4 460.0 1566.6 469.6 1568.9 471.9C1571.2 474.2 1573.1 469.0 1576.1 470.3C1579.1 471.6 1582.5 476.8 1586.8 479.8C1591.1 482.8 1596.0 486.4 1601.7 488.3C1607.5 490.3 1615.3 490.9 1621.3 491.5C1627.3 492.1 1632.2 492.1 1637.8 492.0C1643.4 491.9 1650.2 491.5 1655.0 490.8C1659.8 490.2 1662.3 488.5 1666.5 488.3C1670.7 488.1 1675.8 489.3 1680.0 489.6C1684.2 489.8 1687.8 490.2 1692.0 489.9C1696.2 489.6 1700.3 488.1 1705.0 487.5C1709.7 486.9 1714.2 486.0 1720.0 486.2C1725.8 486.4 1733.3 488.8 1740.0 488.8C1746.7 488.8 1754.7 487.5 1760.0 486.2C1765.3 484.9 1769.3 484.7 1772.0 481.1C1774.7 477.4 1774.2 467.8 1776.0 464.3C1777.8 460.9 1780.8 461.7 1783.0 460.5C1785.2 459.3 1787.3 456.0 1789.0 457.1C1790.7 458.2 1791.7 462.3 1793.0 466.9C1794.3 471.5 1795.0 480.7 1797.0 484.9C1799.0 489.1 1802.0 490.5 1805.0 492.1C1808.0 493.8 1810.8 493.8 1815.0 494.7C1819.2 495.7 1822.5 497.4 1830.0 497.8C1837.5 498.2 1851.7 498.1 1860.0 497.3C1868.3 496.4 1874.2 495.6 1880.0 492.6C1885.8 489.7 1891.4 483.1 1895.0 479.8C1898.6 476.5 1899.5 473.0 1901.7 473.0C1903.9 473.0 1905.3 476.5 1908.0 479.8C1910.7 483.1 1913.5 489.7 1918.0 492.6C1922.5 495.6 1928.3 496.5 1935.0 497.3C1941.7 498.1 1951.3 497.5 1958.0 497.5C1964.7 497.5 1968.0 497.4 1975.0 497.3C1982.0 497.2 1990.8 497.8 2000.0 497.0C2009.2 496.3 2022.5 494.7 2030.0 492.6C2037.5 490.6 2041.2 487.1 2045.0 484.9C2048.8 482.7 2050.1 479.7 2052.6 479.3C2055.1 478.9 2057.1 480.6 2060.0 482.4C2062.9 484.1 2065.8 488.1 2070.0 490.1C2074.2 492.0 2079.2 493.5 2085.0 493.9C2090.8 494.4 2099.5 493.5 2105.0 492.6C2110.5 491.8 2114.6 489.9 2118.0 488.8C2121.4 487.6 2122.7 485.9 2125.5 485.7C2128.3 485.5 2131.8 486.3 2135.0 487.5C2138.2 488.7 2141.7 491.1 2145.0 492.6C2148.3 494.1 2153.3 495.9 2155.0 496.5M1232.0 492.0C1235.0 492.6 1245.0 495.0 1250.0 495.6C1255.0 496.2 1257.8 496.5 1262.0 495.6C1266.2 494.8 1270.7 492.5 1275.0 490.7C1279.3 488.8 1283.9 485.1 1287.6 484.7C1291.3 484.4 1293.3 486.8 1297.0 488.5C1300.7 490.2 1304.5 493.5 1310.0 495.0C1315.5 496.4 1321.7 497.0 1330.0 497.1C1338.3 497.3 1348.3 496.6 1360.0 496.1C1371.7 495.5 1389.7 494.5 1400.0 493.9C1410.3 493.3 1414.5 492.6 1422.0 492.5C1429.5 492.4 1438.3 493.0 1445.0 493.3C1451.7 493.5 1454.5 493.6 1462.0 493.8C1469.5 494.1 1480.6 494.5 1490.0 494.8C1499.4 495.1 1511.4 496.1 1518.6 495.6C1525.8 495.1 1530.0 493.1 1533.0 491.7C1536.0 490.4 1534.7 489.6 1536.7 487.4C1538.6 485.3 1542.3 482.4 1544.6 478.8C1546.9 475.2 1548.6 469.1 1550.6 465.8C1552.5 462.5 1554.5 459.5 1556.3 459.2C1558.1 458.8 1559.6 460.7 1561.6 463.6C1563.5 466.5 1565.7 474.6 1568.0 476.5C1570.3 478.4 1572.2 474.1 1575.2 475.2C1578.2 476.3 1581.7 480.6 1586.1 483.1C1590.4 485.6 1595.5 488.6 1601.3 490.3C1607.2 491.9 1615.2 492.4 1621.3 492.9C1627.4 493.4 1632.2 493.5 1637.8 493.4C1643.4 493.3 1650.2 492.9 1655.0 492.4C1659.8 491.9 1662.3 490.4 1666.5 490.3C1670.7 490.1 1675.8 491.1 1680.0 491.3C1684.2 491.5 1687.8 491.9 1692.0 491.6C1696.2 491.3 1700.3 490.1 1705.0 489.6C1709.7 489.1 1714.2 488.3 1720.0 488.5C1725.8 488.7 1733.3 490.7 1740.0 490.7C1746.7 490.7 1754.7 489.6 1760.0 488.5C1765.3 487.4 1769.3 487.2 1772.0 484.2C1774.7 481.1 1774.2 473.0 1776.0 470.1C1777.8 467.2 1780.8 467.9 1783.0 466.9C1785.2 465.9 1787.3 463.2 1789.0 464.1C1790.7 465.0 1791.7 468.4 1793.0 472.3C1794.3 476.2 1795.0 483.9 1797.0 487.4C1799.0 490.9 1802.0 492.1 1805.0 493.5C1808.0 494.8 1810.8 494.8 1815.0 495.6C1819.2 496.4 1822.5 497.9 1830.0 498.2C1837.5 498.6 1851.7 498.5 1860.0 497.8C1868.3 497.1 1874.2 496.4 1880.0 493.9C1885.8 491.5 1891.4 485.8 1895.0 483.1C1898.6 480.3 1899.5 477.4 1901.7 477.4C1903.9 477.4 1905.3 480.3 1908.0 483.1C1910.7 485.8 1913.5 491.5 1918.0 493.9C1922.5 496.4 1928.3 497.1 1935.0 497.8C1941.7 498.5 1951.3 498.0 1958.0 498.0C1964.7 498.0 1968.0 497.9 1975.0 497.8C1982.0 497.7 1990.8 498.2 2000.0 497.6C2009.2 496.9 2022.5 495.6 2030.0 493.9C2037.5 492.2 2041.2 489.3 2045.0 487.4C2048.8 485.5 2050.1 483.1 2052.6 482.7C2055.1 482.3 2057.1 483.7 2060.0 485.3C2062.9 486.8 2065.8 490.1 2070.0 491.7C2074.2 493.4 2079.2 494.6 2085.0 495.0C2090.8 495.3 2099.5 494.6 2105.0 493.9C2110.5 493.2 2114.6 491.6 2118.0 490.7C2121.4 489.7 2122.7 488.2 2125.5 488.0C2128.3 487.9 2131.8 488.6 2135.0 489.6C2138.2 490.6 2141.7 492.6 2145.0 493.9C2148.3 495.2 2153.3 496.6 2155.0 497.1M1232.0 493.6C1235.0 494.1 1245.0 496.0 1250.0 496.5C1255.0 497.0 1257.8 497.2 1262.0 496.5C1266.2 495.9 1270.7 494.0 1275.0 492.5C1279.3 491.0 1283.9 487.9 1287.6 487.6C1291.3 487.3 1293.3 489.3 1297.0 490.7C1300.7 492.1 1304.5 494.8 1310.0 496.0C1315.5 497.2 1321.7 497.6 1330.0 497.8C1338.3 497.9 1348.3 497.3 1360.0 496.9C1371.7 496.4 1389.7 495.6 1400.0 495.1C1410.3 494.6 1414.5 494.0 1422.0 494.0C1429.5 493.9 1438.3 494.4 1445.0 494.6C1451.7 494.8 1454.5 494.8 1462.0 495.0C1469.5 495.3 1480.6 495.6 1490.0 495.8C1499.4 496.1 1511.5 496.9 1518.6 496.5C1525.7 496.1 1529.8 494.5 1532.7 493.4C1535.6 492.2 1534.1 491.6 1535.9 489.8C1537.7 488.1 1541.4 485.7 1543.7 482.8C1546.0 479.8 1547.7 474.8 1549.7 472.2C1551.6 469.5 1553.6 467.1 1555.4 466.8C1557.2 466.5 1558.7 468.1 1560.7 470.4C1562.6 472.8 1564.8 479.4 1567.1 480.9C1569.4 482.5 1571.3 478.9 1574.3 479.8C1577.3 480.7 1580.9 484.2 1585.4 486.3C1589.8 488.4 1595.0 490.8 1600.9 492.2C1606.9 493.5 1615.2 493.9 1621.3 494.3C1627.4 494.7 1632.2 494.8 1637.8 494.7C1643.4 494.6 1650.2 494.3 1655.0 493.9C1659.8 493.5 1662.3 492.3 1666.5 492.2C1670.7 492.0 1675.8 492.8 1680.0 493.0C1684.2 493.2 1687.8 493.5 1692.0 493.2C1696.2 493.0 1700.3 492.0 1705.0 491.6C1709.7 491.2 1714.2 490.6 1720.0 490.7C1725.8 490.9 1733.3 492.5 1740.0 492.5C1746.7 492.5 1754.7 491.6 1760.0 490.7C1765.3 489.8 1769.3 489.7 1772.0 487.2C1774.7 484.7 1774.2 478.1 1776.0 475.7C1777.8 473.4 1780.8 473.9 1783.0 473.1C1785.2 472.2 1787.3 470.0 1789.0 470.8C1790.7 471.5 1791.7 474.3 1793.0 477.5C1794.3 480.7 1795.0 486.9 1797.0 489.8C1799.0 492.7 1802.0 493.6 1805.0 494.8C1808.0 495.9 1810.8 495.9 1815.0 496.5C1819.2 497.2 1822.5 498.4 1830.0 498.6C1837.5 498.9 1851.7 498.9 1860.0 498.3C1868.3 497.7 1874.2 497.1 1880.0 495.1C1885.8 493.1 1891.4 488.5 1895.0 486.3C1898.6 484.1 1899.5 481.6 1901.7 481.6C1903.9 481.6 1905.3 484.1 1908.0 486.3C1910.7 488.5 1913.5 493.1 1918.0 495.1C1922.5 497.1 1928.3 497.7 1935.0 498.3C1941.7 498.9 1951.3 498.5 1958.0 498.5C1964.7 498.5 1968.0 498.4 1975.0 498.3C1982.0 498.2 1990.8 498.6 2000.0 498.1C2009.2 497.6 2022.5 496.5 2030.0 495.1C2037.5 493.7 2041.2 491.4 2045.0 489.8C2048.8 488.3 2050.1 486.3 2052.6 486.0C2055.1 485.7 2057.1 486.8 2060.0 488.1C2062.9 489.3 2065.8 492.0 2070.0 493.4C2074.2 494.7 2079.2 495.7 2085.0 496.0C2090.8 496.3 2099.5 495.7 2105.0 495.1C2110.5 494.5 2114.6 493.3 2118.0 492.5C2121.4 491.7 2122.7 490.5 2125.5 490.3C2128.3 490.2 2131.8 490.8 2135.0 491.6C2138.2 492.4 2141.7 494.1 2145.0 495.1C2148.3 496.1 2153.3 497.3 2155.0 497.8M1232.0 495.1C1235.0 495.5 1245.0 497.0 1250.0 497.4C1255.0 497.8 1257.8 497.9 1262.0 497.4C1266.2 496.9 1270.7 495.4 1275.0 494.2C1279.3 493.1 1283.9 490.7 1287.6 490.4C1291.3 490.2 1293.3 491.8 1297.0 492.9C1300.7 493.9 1304.5 496.1 1310.0 497.0C1315.5 497.9 1321.7 498.3 1330.0 498.4C1338.3 498.5 1348.3 498.0 1360.0 497.7C1371.7 497.3 1389.7 496.7 1400.0 496.3C1410.3 495.9 1414.5 495.5 1422.0 495.4C1429.5 495.3 1438.3 495.7 1445.0 495.9C1451.7 496.0 1454.5 496.1 1462.0 496.2C1469.5 496.4 1480.6 496.7 1490.0 496.9C1499.4 497.0 1511.5 497.7 1518.6 497.4C1525.7 497.1 1529.6 495.8 1532.3 494.9C1535.1 494.1 1533.4 493.5 1535.1 492.2C1536.9 490.8 1540.6 489.0 1542.8 486.7C1545.1 484.4 1546.9 480.5 1548.8 478.4C1550.8 476.3 1552.7 474.4 1554.5 474.2C1556.4 474.0 1557.9 475.2 1559.8 477.0C1561.8 478.9 1564.0 484.0 1566.2 485.2C1568.5 486.4 1570.4 483.7 1573.4 484.4C1576.5 485.1 1580.1 487.8 1584.7 489.4C1589.2 491.0 1594.5 492.9 1600.6 494.0C1606.7 495.0 1615.1 495.4 1621.3 495.7C1627.5 496.0 1632.2 496.0 1637.8 496.0C1643.4 495.9 1650.2 495.7 1655.0 495.3C1659.8 495.0 1662.3 494.1 1666.5 494.0C1670.7 493.9 1675.8 494.5 1680.0 494.6C1684.2 494.8 1687.8 495.0 1692.0 494.8C1696.2 494.6 1700.3 493.9 1705.0 493.5C1709.7 493.2 1714.2 492.7 1720.0 492.9C1725.8 493.0 1733.3 494.2 1740.0 494.2C1746.7 494.2 1754.7 493.5 1760.0 492.9C1765.3 492.2 1769.3 492.1 1772.0 490.1C1774.7 488.2 1774.2 483.0 1776.0 481.2C1777.8 479.3 1780.8 479.7 1783.0 479.1C1785.2 478.4 1787.3 476.7 1789.0 477.3C1790.7 477.9 1791.7 480.1 1793.0 482.5C1794.3 485.0 1795.0 489.9 1797.0 492.2C1799.0 494.4 1802.0 495.2 1805.0 496.0C1808.0 496.9 1810.8 496.9 1815.0 497.4C1819.2 497.9 1822.5 498.8 1830.0 499.1C1837.5 499.3 1851.7 499.2 1860.0 498.8C1868.3 498.3 1874.2 497.9 1880.0 496.3C1885.8 494.7 1891.4 491.2 1895.0 489.4C1898.6 487.7 1899.5 485.8 1901.7 485.8C1903.9 485.8 1905.3 487.7 1908.0 489.4C1910.7 491.2 1913.5 494.7 1918.0 496.3C1922.5 497.9 1928.3 498.3 1935.0 498.8C1941.7 499.2 1951.3 498.9 1958.0 498.9C1964.7 498.9 1968.0 498.8 1975.0 498.8C1982.0 498.7 1990.8 499.1 2000.0 498.6C2009.2 498.2 2022.5 497.4 2030.0 496.3C2037.5 495.2 2041.2 493.4 2045.0 492.2C2048.8 491.0 2050.1 489.4 2052.6 489.2C2055.1 488.9 2057.1 489.8 2060.0 490.8C2062.9 491.8 2065.8 493.9 2070.0 494.9C2074.2 496.0 2079.2 496.8 2085.0 497.0C2090.8 497.2 2099.5 496.8 2105.0 496.3C2110.5 495.8 2114.6 494.9 2118.0 494.2C2121.4 493.6 2122.7 492.7 2125.5 492.6C2128.3 492.5 2131.8 492.9 2135.0 493.5C2138.2 494.2 2141.7 495.5 2145.0 496.3C2148.3 497.1 2153.3 498.0 2155.0 498.4M1232.0 496.6C1235.0 496.9 1245.0 498.0 1250.0 498.2C1255.0 498.5 1257.8 498.6 1262.0 498.2C1266.2 497.9 1270.7 496.8 1275.0 495.9C1279.3 495.1 1283.9 493.4 1287.6 493.2C1291.3 493.0 1293.3 494.2 1297.0 494.9C1300.7 495.7 1304.5 497.3 1310.0 497.9C1315.5 498.6 1321.7 498.9 1330.0 498.9C1338.3 499.0 1348.3 498.7 1360.0 498.4C1371.7 498.2 1389.7 497.7 1400.0 497.4C1410.3 497.2 1414.5 496.8 1422.0 496.8C1429.5 496.7 1438.3 497.0 1445.0 497.1C1451.7 497.3 1454.5 497.3 1462.0 497.4C1469.5 497.5 1480.6 497.7 1490.0 497.9C1499.4 498.0 1511.6 498.5 1518.6 498.2C1525.6 498.0 1529.4 497.1 1532.0 496.4C1534.6 495.8 1532.7 495.4 1534.4 494.4C1536.1 493.4 1539.7 492.1 1542.0 490.4C1544.3 488.8 1546.0 486.0 1548.0 484.4C1550.0 482.9 1551.9 481.6 1553.7 481.4C1555.5 481.2 1557.0 482.1 1559.0 483.4C1561.0 484.8 1563.1 488.5 1565.4 489.4C1567.7 490.3 1569.5 488.3 1572.6 488.8C1575.7 489.3 1579.4 491.3 1584.0 492.4C1588.6 493.6 1594.0 495.0 1600.2 495.8C1606.4 496.5 1615.0 496.8 1621.3 497.0C1627.6 497.2 1632.2 497.2 1637.8 497.2C1643.4 497.2 1650.2 497.0 1655.0 496.8C1659.8 496.5 1662.3 495.9 1666.5 495.8C1670.7 495.7 1675.8 496.1 1680.0 496.2C1684.2 496.4 1687.8 496.5 1692.0 496.4C1696.2 496.2 1700.3 495.7 1705.0 495.4C1709.7 495.2 1714.2 494.9 1720.0 494.9C1725.8 495.0 1733.3 495.9 1740.0 495.9C1746.7 495.9 1754.7 495.4 1760.0 494.9C1765.3 494.4 1769.3 494.4 1772.0 492.9C1774.7 491.5 1774.2 487.8 1776.0 486.4C1777.8 485.1 1780.8 485.4 1783.0 484.9C1785.2 484.5 1787.3 483.2 1789.0 483.6C1790.7 484.1 1791.7 485.6 1793.0 487.4C1794.3 489.2 1795.0 492.8 1797.0 494.4C1799.0 496.1 1802.0 496.6 1805.0 497.2C1808.0 497.9 1810.8 497.9 1815.0 498.2C1819.2 498.6 1822.5 499.3 1830.0 499.4C1837.5 499.6 1851.7 499.6 1860.0 499.2C1868.3 498.9 1874.2 498.6 1880.0 497.4C1885.8 496.3 1891.4 493.7 1895.0 492.4C1898.6 491.2 1899.5 489.8 1901.7 489.8C1903.9 489.8 1905.3 491.2 1908.0 492.4C1910.7 493.7 1913.5 496.3 1918.0 497.4C1922.5 498.6 1928.3 498.9 1935.0 499.2C1941.7 499.6 1951.3 499.4 1958.0 499.4C1964.7 499.4 1968.0 499.3 1975.0 499.2C1982.0 499.2 1990.8 499.4 2000.0 499.1C2009.2 498.8 2022.5 498.2 2030.0 497.4C2037.5 496.7 2041.2 495.3 2045.0 494.4C2048.8 493.6 2050.1 492.4 2052.6 492.3C2055.1 492.1 2057.1 492.8 2060.0 493.4C2062.9 494.1 2065.8 495.7 2070.0 496.4C2074.2 497.2 2079.2 497.8 2085.0 497.9C2090.8 498.1 2099.5 497.8 2105.0 497.4C2110.5 497.1 2114.6 496.4 2118.0 495.9C2121.4 495.5 2122.7 494.8 2125.5 494.7C2128.3 494.7 2131.8 495.0 2135.0 495.4C2138.2 495.9 2141.7 496.9 2145.0 497.4C2148.3 498.0 2153.3 498.7 2155.0 498.9" stroke="#0000ff" stroke-width="2.0"/><path d="M1232.1 488.1C1236.4 487.8 1251.8 487.0 1257.8 486.0C1263.8 485.0 1264.7 483.9 1268.1 481.9C1271.5 479.8 1274.3 475.4 1278.4 473.7C1282.5 472.0 1288.2 470.9 1292.7 471.6C1297.2 472.3 1300.6 475.4 1305.1 477.8C1309.5 480.2 1313.6 484.6 1319.4 486.0C1325.2 487.4 1331.4 487.4 1340.0 486.0C1348.6 484.6 1362.2 480.5 1370.8 477.8C1379.3 475.1 1386.2 470.3 1391.3 469.6C1396.4 468.9 1396.4 471.3 1401.6 473.7C1406.8 476.1 1413.6 481.3 1422.2 484.0C1430.8 486.7 1446.4 488.8 1453.0 490.1C1459.6 491.4 1456.2 491.3 1462.0 492.0C1467.8 492.7 1480.1 494.8 1487.8 494.2C1495.5 493.6 1502.2 491.2 1508.4 488.1C1514.6 485.0 1519.7 479.5 1524.8 475.7C1529.9 471.9 1534.8 467.6 1539.2 465.5C1543.7 463.4 1546.4 462.7 1551.5 463.4C1556.6 464.1 1563.5 467.6 1570.0 469.6C1576.5 471.7 1582.0 474.2 1590.5 475.7C1599.0 477.2 1611.0 478.1 1621.3 478.8C1631.6 479.5 1643.6 480.4 1652.2 479.9C1660.8 479.4 1666.1 477.4 1672.7 475.7C1679.3 474.0 1686.2 470.6 1692.0 469.6C1697.8 468.6 1701.5 468.9 1707.5 469.6C1713.5 470.3 1721.2 473.4 1728.1 473.7C1734.9 474.0 1741.8 472.3 1748.6 471.6C1755.4 470.9 1763.4 471.0 1769.2 469.6C1775.0 468.2 1780.1 467.8 1783.5 463.4C1786.9 458.9 1788.2 460.0 1789.7 442.9C1791.2 425.8 1791.8 381.9 1792.8 360.7C1793.8 339.5 1794.4 322.4 1795.9 315.5C1797.4 308.6 1800.5 308.6 1802.0 319.6C1803.5 330.6 1803.7 360.8 1805.1 381.3C1806.5 401.9 1808.4 425.8 1810.3 442.9C1812.2 460.0 1814.4 475.6 1816.4 484.0C1818.5 492.4 1816.8 491.5 1822.6 493.2C1828.4 494.9 1843.1 495.7 1851.3 494.2C1859.5 492.7 1866.4 488.4 1871.9 484.0C1877.4 479.6 1881.1 469.6 1884.2 467.5C1887.3 465.4 1888.4 468.9 1890.4 471.6C1892.5 474.4 1892.7 480.9 1896.5 484.0C1900.3 487.1 1902.7 489.1 1913.0 490.1C1923.3 491.1 1943.7 489.4 1958.1 490.1C1972.5 490.8 1988.9 494.9 1999.2 494.2C2009.5 493.5 2014.2 489.4 2019.7 486.0C2025.2 482.6 2027.9 476.9 2032.0 473.7C2036.1 470.4 2041.0 467.2 2044.4 466.5C2047.8 465.8 2049.2 466.7 2052.6 469.6C2056.0 472.5 2060.1 480.9 2064.9 484.0C2069.7 487.1 2075.1 488.1 2081.3 488.1C2087.5 488.1 2095.7 485.4 2101.9 484.0C2108.1 482.6 2113.5 481.4 2118.3 479.9C2123.1 478.3 2126.5 474.7 2130.6 474.7C2134.7 474.7 2138.9 478.0 2143.0 479.9C2147.1 481.8 2153.2 485.0 2155.3 486.0" stroke="#ff0000" stroke-width="8.5"/></g><clipPath id="cR2"><rect x="1232.4" y="522.9" width="922.0999999999999" height="241.19999999999993"/></clipPath><g clip-path="url(#cR2)" fill="none" stroke-linejoin="round" stroke-linecap="round"><path d="M1230.3 597.5 L1232.5 596.6 L1234.7 598.9 L1236.9 599.9 L1239.1 598.5 L1241.3 603.2 L1243.5 606.7 L1245.7 607.5 L1247.9 602.7 L1250.1 607.9 L1252.3 604.9 L1254.5 607.9 L1256.7 593.9 L1258.9 581.7 L1261.1 574.1 L1263.3 578.9 L1265.5 588.9 L1267.7 595.6 L1269.9 590.8 L1272.1 586.3 L1274.3 582.2 L1276.5 580.5 L1278.7 585.7 L1280.9 592.6 L1283.1 590.6 L1285.3 584.2 L1287.5 596.5 L1289.7 609.0 L1291.9 598.5 L1294.1 594.3 L1296.3 595.3 L1298.5 603.4 L1300.7 609.7 L1302.9 606.3 L1305.1 603.3 L1307.3 606.0 L1309.5 608.3 L1311.7 605.0 L1313.9 598.5 L1316.1 603.4 L1318.3 607.4 L1320.5 611.8 L1322.7 619.7 L1324.9 621.3 L1327.1 620.2 L1329.3 616.7 L1331.5 617.5 L1333.7 616.1 L1335.9 618.9 L1338.1 618.7 L1340.3 612.5 L1342.5 597.7 L1344.7 595.0 L1346.9 602.2 L1349.1 609.8 L1351.3 604.3 L1353.5 600.8 L1355.7 603.7 L1357.9 611.0 L1360.1 618.1 L1362.3 607.1 L1364.5 598.5 L1366.7 600.0 L1368.9 607.3 L1371.1 609.8 L1373.3 611.7 L1375.5 608.0 L1377.7 603.0 L1379.9 609.9 L1382.1 619.8 L1384.3 626.8 L1386.5 621.9 L1388.7 614.3 L1390.9 614.2 L1393.1 622.1 L1395.3 629.1 L1397.5 633.7 L1399.7 638.4 L1401.9 633.8 L1404.1 631.3 L1406.3 622.4 L1408.5 618.3 L1410.7 603.8 L1412.9 595.1 L1415.1 593.0 L1417.3 594.9 L1419.5 593.2 L1421.7 589.9 L1423.9 587.2 L1426.1 582.1 L1428.3 583.7 L1430.5 582.7 L1432.7 589.6 L1434.9 593.2 L1437.1 592.2 L1439.3 596.8 L1441.5 604.1 L1443.7 610.9 L1445.9 619.4 L1448.1 616.7 L1450.3 614.8 L1452.5 617.5 L1454.7 618.1 L1456.9 621.0 L1459.1 625.1 L1461.3 625.5 L1463.5 622.5 L1465.7 622.0 L1467.9 622.7 L1470.1 628.9 L1472.3 631.1 L1474.5 630.1 L1476.7 623.4 L1478.9 616.7 L1481.1 626.7 L1483.3 632.5 L1485.5 639.9 L1487.7 630.1 L1489.9 621.1 L1492.1 620.1 L1494.3 632.1 L1496.5 633.4 L1498.7 625.9 L1500.9 618.7 L1503.1 616.4 L1505.3 619.2 L1507.5 620.3 L1509.7 618.5 L1511.9 621.8 L1514.1 625.3 L1516.3 623.4 L1518.5 622.9 L1520.7 625.0 L1522.9 621.6 L1525.1 620.7 L1527.3 627.0 L1529.5 638.4 L1531.7 645.2 L1533.9 636.6 L1536.1 626.1 L1538.3 627.1 L1540.5 621.3 L1542.7 622.0 L1544.9 627.7 L1547.1 638.7 L1549.3 639.6 L1551.5 640.7 L1553.7 648.3 L1555.9 647.2 L1558.1 644.5 L1560.3 647.4 L1562.5 644.3 L1564.7 639.3 L1566.9 640.9 L1569.1 641.6 L1571.3 635.9 L1573.5 637.8 L1575.7 639.6 L1577.9 640.7 L1580.1 641.8 L1582.3 642.4 L1584.5 653.5 L1586.7 668.1 L1588.9 678.7 L1591.1 677.2 L1593.3 681.0 L1595.5 669.1 L1597.7 659.9 L1599.9 660.8 L1602.1 660.7 L1604.3 661.4 L1606.5 664.2 L1608.7 656.9 L1610.9 653.1 L1613.1 648.2 L1615.3 635.1 L1617.5 626.4 L1619.7 625.2 L1621.9 630.2 L1624.1 632.1 L1626.3 632.6 L1628.5 636.4 L1630.7 639.3 L1632.9 640.0 L1635.1 643.5 L1637.3 644.5 L1639.5 639.4 L1641.7 641.1 L1643.9 635.6 L1646.1 632.7 L1648.3 636.0 L1650.5 635.9 L1652.7 637.5 L1654.9 642.0 L1657.1 640.2 L1659.3 645.5 L1661.5 647.0 L1663.7 649.8 L1665.9 658.3 L1668.1 659.0 L1670.3 662.3 L1672.5 657.1 L1674.7 652.4 L1676.9 645.8 L1679.1 645.5 L1681.3 636.9 L1683.5 633.5 L1685.7 635.4 L1687.9 634.3 L1690.1 636.5 L1692.3 635.1 L1694.5 636.9 L1696.7 647.2 L1698.9 662.2 L1701.1 658.8 L1703.3 657.5 L1705.5 663.3 L1707.7 665.6 L1709.9 666.1 L1712.1 650.9 L1714.3 658.4 L1716.5 669.2 L1718.7 665.6 L1720.9 661.2 L1723.1 660.1 L1725.3 653.5 L1727.5 649.1 L1729.7 642.6 L1731.9 646.1 L1734.1 643.0 L1736.3 642.0 L1738.5 661.9 L1740.7 673.3 L1742.9 667.2 L1745.1 664.1 L1747.3 659.1 L1749.5 662.2 L1751.7 661.4 L1753.9 658.0 L1756.1 654.1 L1758.3 655.9 L1760.5 657.7 L1762.7 680.6 L1764.9 678.9 L1767.1 677.9 L1769.3 680.8 L1771.5 688.9 L1773.7 697.3 L1775.9 702.9 L1778.1 703.9 L1780.3 709.6 L1782.5 695.7 L1784.7 686.0 L1786.9 682.9 L1789.1 679.1 L1791.3 676.0 L1793.5 679.2 L1795.7 676.2 L1797.9 675.6 L1800.1 672.7 L1802.3 669.7 L1804.5 664.1 L1806.7 656.6 L1808.9 653.7 L1811.1 638.5 L1813.3 624.1 L1815.5 608.1 L1817.7 592.4 L1819.9 601.1 L1822.1 608.1 L1824.3 618.5 L1826.5 621.1 L1828.7 616.2 L1830.9 608.5 L1833.1 595.5 L1835.3 576.7 L1837.5 574.6 L1839.7 581.2 L1841.9 586.6 L1844.1 588.0 L1846.3 587.5 L1848.5 589.4 L1850.7 587.0 L1852.9 587.4 L1855.1 588.6 L1857.3 589.1 L1859.5 592.0 L1861.7 603.5 L1863.9 615.5 L1866.1 620.7 L1868.3 632.2 L1870.5 639.0 L1872.7 634.9 L1874.9 635.7 L1877.1 643.2 L1879.3 654.4 L1881.5 648.3 L1883.7 641.9 L1885.9 647.4 L1888.1 658.0 L1890.3 662.4 L1892.5 656.1 L1894.7 644.9 L1896.9 644.5 L1899.1 644.7 L1901.3 647.5 L1903.5 648.9 L1905.7 656.9 L1907.9 658.3 L1910.1 632.4 L1912.3 607.6 L1914.5 608.1 L1916.7 614.5 L1918.9 624.6 L1921.1 609.4 L1923.3 601.9 L1925.5 606.3 L1927.7 610.5 L1929.9 615.8 L1932.1 578.2 L1934.3 543.5 L1936.5 541.7 L1938.7 542.2 L1940.9 542.4 L1943.1 574.7 L1945.3 590.1 L1947.5 588.8 L1949.7 589.7 L1951.9 596.4 L1954.1 599.1 L1956.3 601.7 L1958.5 605.9 L1960.7 605.4 L1962.9 599.8 L1965.1 595.1 L1967.3 598.5 L1969.5 596.6 L1971.7 602.9 L1973.9 603.3 L1976.1 606.7 L1978.3 608.9 L1980.5 613.2 L1982.7 612.6 L1984.9 611.3 L1987.1 602.9 L1989.3 597.9 L1991.5 598.9 L1993.7 601.2 L1995.9 605.8 L1998.1 614.2 L2000.3 622.4 L2002.5 629.6 L2004.7 633.2 L2006.9 637.7 L2009.1 641.9 L2011.3 633.2 L2013.5 620.1 L2015.7 616.6 L2017.9 622.4 L2020.1 627.5 L2022.3 626.6 L2024.5 622.9 L2026.7 617.1 L2028.9 613.6 L2031.1 610.8 L2033.3 605.7 L2035.5 609.5 L2037.7 610.0 L2039.9 609.8 L2042.1 615.7 L2044.3 619.1 L2046.5 617.1 L2048.7 605.3 L2050.9 604.6 L2053.1 608.9 L2055.3 608.9 L2057.5 607.0 L2059.7 618.1 L2061.9 628.7 L2064.1 634.5 L2066.3 643.3 L2068.5 647.7 L2070.7 649.8 L2072.9 639.3 L2075.1 628.0 L2077.3 624.8 L2079.5 630.1 L2081.7 640.1 L2083.9 641.5 L2086.1 642.2 L2088.3 642.6 L2090.5 646.1 L2092.7 648.1 L2094.9 649.1 L2097.1 647.7 L2099.3 642.9 L2101.5 623.6 L2103.7 609.3 L2105.9 597.3 L2108.1 591.3 L2110.3 581.0 L2112.5 584.0 L2114.7 594.9 L2116.9 599.3 L2119.1 603.8 L2121.3 607.4 L2123.5 611.6 L2125.7 614.5 L2127.9 618.6 L2130.1 613.8 L2132.3 611.0 L2134.5 611.6 L2136.7 614.2 L2138.9 613.9 L2141.1 619.0 L2143.3 617.8 L2145.5 617.5 L2147.7 621.6 L2149.9 620.5 L2152.1 624.3 L2154.3 625.0 L2156.5 622.8" stroke="#000" stroke-width="5.0" stroke-linejoin="miter" stroke-miterlimit="3"/><path d="M1232.0 594.0C1236.3 594.3 1250.8 597.8 1258.0 596.0C1265.2 594.2 1269.9 586.4 1275.0 583.0C1280.1 579.6 1284.4 574.7 1288.6 575.5C1292.8 576.3 1293.1 581.4 1300.0 588.0C1306.9 594.6 1320.0 607.2 1330.0 615.0C1340.0 622.8 1352.5 631.2 1360.0 635.0C1367.5 638.8 1369.8 645.5 1375.0 638.0C1380.2 630.5 1385.1 602.0 1391.3 589.9C1397.5 577.8 1405.1 570.7 1411.9 565.2C1418.8 559.7 1424.9 558.4 1432.4 557.0C1439.9 555.6 1449.6 556.0 1457.0 557.0C1464.4 558.0 1470.2 559.2 1477.0 563.0C1483.8 566.8 1491.2 571.7 1498.1 579.6C1505.0 587.5 1512.8 594.7 1518.6 610.4C1524.4 626.1 1528.6 667.4 1533.0 674.0C1537.4 680.6 1539.7 657.7 1545.0 650.0C1550.3 642.3 1559.1 633.9 1565.0 628.0C1570.9 622.1 1574.3 613.7 1580.3 614.5C1586.3 615.3 1590.5 627.9 1600.8 633.0C1611.1 638.1 1631.2 644.2 1641.9 645.4C1652.6 646.6 1656.7 640.0 1665.0 640.0C1673.3 640.0 1682.8 642.9 1692.0 645.4C1701.2 647.9 1710.3 651.7 1720.0 655.0C1729.7 658.3 1740.8 662.5 1750.0 665.0C1759.2 667.5 1769.3 680.8 1775.0 670.0C1780.7 659.2 1781.3 618.5 1784.0 600.0C1786.7 581.5 1788.3 570.7 1791.0 559.0C1793.7 547.3 1796.8 536.8 1800.0 530.0C1803.2 523.2 1807.0 516.3 1810.0 518.0C1813.0 519.7 1815.0 530.0 1818.0 540.0C1821.0 550.0 1822.7 568.0 1828.0 578.0C1833.3 588.0 1843.0 589.7 1850.0 600.0C1857.0 610.3 1865.3 630.8 1870.0 640.0C1874.7 649.2 1874.7 658.3 1878.0 655.0C1881.3 651.7 1885.8 631.8 1890.0 620.0C1894.2 608.2 1899.2 589.0 1903.0 584.0C1906.8 579.0 1909.8 589.0 1913.0 590.0C1916.2 591.0 1918.0 591.7 1922.0 590.0C1926.0 588.3 1931.5 582.5 1937.0 580.0C1942.5 577.5 1948.1 570.0 1955.0 575.0C1961.9 580.0 1967.8 604.1 1978.6 610.0C1989.4 615.9 2006.0 613.4 2019.7 610.4C2033.4 607.4 2051.6 594.7 2060.8 592.0C2070.0 589.3 2069.3 593.0 2075.0 594.0C2080.7 595.0 2089.2 598.7 2095.0 598.0C2100.8 597.3 2104.4 594.4 2110.0 590.0C2115.6 585.6 2123.6 571.4 2128.6 571.4C2133.6 571.4 2135.6 585.2 2140.0 590.0C2144.4 594.8 2152.5 598.3 2155.0 600.0M1232.0 596.0C1236.2 596.4 1250.3 599.9 1257.4 598.3C1264.5 596.7 1269.4 589.7 1274.5 586.4C1279.6 583.2 1283.9 578.3 1288.0 578.8C1292.1 579.4 1292.5 583.6 1299.3 589.7C1306.1 595.9 1318.8 608.2 1328.6 615.7C1338.3 623.3 1350.2 631.2 1357.8 635.0C1365.4 638.8 1368.7 645.6 1374.2 638.6C1379.8 631.6 1384.9 604.4 1391.2 592.9C1397.5 581.4 1405.0 574.9 1411.8 569.7C1418.7 564.5 1424.9 563.0 1432.4 561.7C1439.9 560.4 1449.6 560.9 1457.0 561.8C1464.4 562.8 1470.2 563.9 1477.0 567.5C1483.8 571.1 1491.2 575.9 1498.1 583.6C1505.0 591.2 1512.8 598.1 1518.6 613.3C1524.4 628.5 1528.5 667.9 1533.0 674.5C1537.5 681.0 1540.0 659.6 1545.4 652.6C1550.7 645.6 1559.2 637.8 1565.0 632.4C1570.8 627.0 1574.3 619.3 1580.3 620.1C1586.3 620.9 1590.5 632.5 1600.7 637.4C1611.0 642.2 1631.2 647.9 1641.9 649.1C1652.6 650.2 1656.7 644.1 1665.0 644.1C1673.4 644.2 1682.8 647.0 1692.0 649.4C1701.2 651.8 1710.3 655.4 1720.0 658.6C1729.7 661.7 1740.8 665.7 1750.0 668.1C1759.2 670.5 1769.2 683.0 1775.0 672.9C1780.8 662.9 1782.0 625.4 1784.8 608.0C1787.6 590.6 1789.3 580.5 1792.0 568.4C1794.7 556.2 1797.8 543.2 1800.9 535.0C1804.0 526.8 1807.6 517.7 1810.6 518.9C1813.5 520.0 1815.5 531.8 1818.5 541.8C1821.5 551.7 1823.2 568.7 1828.5 578.5C1833.8 588.3 1843.4 590.3 1850.4 600.7C1857.3 611.1 1865.4 631.5 1870.0 640.7C1874.6 649.9 1874.8 658.7 1878.1 655.8C1881.5 652.9 1886.0 634.3 1890.2 623.1C1894.4 612.0 1899.3 593.5 1903.1 588.7C1907.0 584.0 1910.0 593.7 1913.1 594.6C1916.3 595.6 1918.0 596.4 1922.0 594.3C1926.0 592.2 1931.5 584.7 1937.0 581.9C1942.5 579.1 1948.1 572.7 1955.0 577.6C1961.9 582.6 1967.8 605.7 1978.6 611.6C1989.4 617.5 2006.0 615.9 2019.7 613.0C2033.4 610.2 2051.6 597.2 2060.8 594.3C2070.0 591.5 2069.3 595.1 2075.0 596.0C2080.7 596.9 2089.2 600.2 2095.0 599.6C2100.8 598.9 2104.4 596.2 2110.0 592.0C2115.6 587.8 2123.6 574.3 2128.6 574.3C2133.6 574.3 2135.6 587.5 2140.0 592.1C2144.4 596.7 2152.5 600.3 2155.0 601.9M1232.0 598.0C1236.1 598.4 1249.9 601.9 1256.9 600.6C1263.9 599.2 1268.9 592.9 1274.0 589.9C1279.1 586.8 1283.3 581.9 1287.4 582.1C1291.5 582.4 1291.9 585.7 1298.6 591.4C1305.2 597.1 1317.6 609.2 1327.1 616.4C1336.7 623.7 1348.0 631.2 1355.7 635.0C1363.4 638.8 1367.5 645.8 1373.4 639.2C1379.3 632.7 1384.7 606.8 1391.1 595.9C1397.5 585.1 1404.9 579.1 1411.7 574.2C1418.6 569.3 1424.9 567.6 1432.4 566.3C1439.9 565.1 1449.6 565.7 1457.0 566.7C1464.4 567.6 1470.2 568.5 1477.0 572.0C1483.8 575.5 1491.2 580.2 1498.1 587.5C1505.0 594.9 1512.7 601.6 1518.5 616.2C1524.4 630.8 1528.5 668.5 1533.0 675.0C1537.5 681.5 1540.4 661.5 1545.7 655.1C1551.0 648.8 1559.2 641.8 1565.0 636.9C1570.8 631.9 1574.4 624.8 1580.3 625.7C1586.2 626.5 1590.4 637.2 1600.7 641.7C1611.0 646.2 1631.2 651.6 1641.9 652.7C1652.6 653.8 1656.7 648.2 1665.0 648.3C1673.3 648.4 1682.8 651.0 1692.0 653.3C1701.2 655.6 1710.3 659.1 1720.0 662.1C1729.7 665.1 1740.8 669.0 1750.0 671.3C1759.2 673.6 1769.1 685.1 1775.0 675.9C1780.9 666.7 1782.6 632.4 1785.6 616.0C1788.6 599.6 1790.3 590.4 1793.0 577.7C1795.7 565.0 1798.7 549.7 1801.7 540.0C1804.7 530.3 1808.3 519.1 1811.1 519.7C1814.0 520.3 1816.0 533.7 1819.0 543.6C1822.0 553.5 1823.7 569.4 1829.0 579.0C1834.3 588.6 1843.9 591.0 1850.7 601.4C1857.5 611.8 1865.4 632.2 1870.0 641.4C1874.6 650.6 1874.9 659.1 1878.3 656.6C1881.7 654.0 1886.3 636.8 1890.4 626.3C1894.6 615.8 1899.5 597.9 1903.3 593.4C1907.1 588.9 1910.2 598.4 1913.3 599.3C1916.4 600.1 1918.0 601.2 1922.0 598.6C1926.0 596.0 1931.5 586.8 1937.0 583.8C1942.5 580.7 1948.1 575.4 1955.0 580.3C1961.9 585.2 1967.8 607.4 1978.6 613.3C1989.4 619.2 2006.0 618.5 2019.7 615.7C2033.4 612.9 2051.6 599.6 2060.8 596.7C2070.0 593.7 2069.3 597.3 2075.0 598.0C2080.7 598.7 2089.2 601.8 2095.0 601.1C2100.8 600.5 2104.4 598.0 2110.0 594.0C2115.6 590.0 2123.6 577.2 2128.6 577.2C2133.6 577.2 2135.6 589.8 2140.0 594.3C2144.4 598.7 2152.5 602.2 2155.0 603.8M1232.0 600.0C1236.0 600.5 1249.4 604.0 1256.3 602.9C1263.2 601.7 1268.4 596.2 1273.5 593.3C1278.6 590.4 1282.7 585.5 1286.8 585.5C1290.8 585.4 1291.4 587.9 1297.9 593.1C1304.3 598.4 1316.4 610.2 1325.7 617.1C1335.0 624.1 1345.7 631.2 1353.5 635.0C1361.3 638.8 1366.4 645.9 1372.6 639.9C1378.9 633.9 1384.5 609.1 1391.0 598.9C1397.5 588.7 1404.8 583.3 1411.7 578.7C1418.6 574.0 1424.8 572.2 1432.4 571.0C1440.0 569.8 1449.6 570.6 1457.0 571.5C1464.4 572.4 1470.2 573.2 1477.0 576.5C1483.8 579.8 1491.2 584.4 1498.1 591.5C1505.0 598.6 1512.7 605.1 1518.5 619.1C1524.3 633.1 1528.4 669.0 1533.0 675.4C1537.6 681.9 1540.7 663.4 1546.1 657.7C1551.4 652.0 1559.3 645.7 1565.0 641.3C1570.7 636.9 1574.4 630.4 1580.3 631.2C1586.2 632.0 1590.4 641.9 1600.6 646.1C1610.9 650.3 1631.2 655.3 1641.9 656.4C1652.6 657.5 1656.7 652.3 1665.0 652.4C1673.3 652.6 1682.8 655.1 1692.0 657.3C1701.2 659.5 1710.3 662.9 1720.0 665.7C1729.7 668.6 1740.8 672.2 1750.0 674.4C1759.2 676.6 1768.9 687.2 1775.0 678.8C1781.1 670.4 1783.2 639.3 1786.4 624.0C1789.5 608.7 1791.3 600.2 1794.0 587.1C1796.7 573.9 1799.6 556.1 1802.6 545.0C1805.5 533.9 1808.9 520.5 1811.7 520.6C1814.5 520.6 1816.5 535.5 1819.5 545.4C1822.5 555.2 1824.2 570.0 1829.5 579.5C1834.8 589.0 1844.3 591.7 1851.1 602.1C1857.8 612.6 1865.4 632.9 1870.0 642.1C1874.6 651.3 1875.0 659.5 1878.4 657.4C1881.9 655.2 1886.5 639.3 1890.6 629.4C1894.8 619.6 1899.6 602.4 1903.4 598.1C1907.2 593.9 1910.3 603.1 1913.4 603.9C1916.5 604.7 1918.1 605.9 1922.0 602.9C1925.9 599.8 1931.5 589.0 1937.0 585.6C1942.5 582.3 1948.1 578.0 1955.0 582.9C1961.9 587.8 1967.8 609.0 1978.6 614.9C1989.4 620.8 2006.0 621.0 2019.7 618.3C2033.4 615.7 2051.6 602.1 2060.8 599.0C2070.0 596.0 2069.3 599.4 2075.0 600.0C2080.7 600.6 2089.2 603.4 2095.0 602.7C2100.8 602.0 2104.4 599.8 2110.0 596.0C2115.6 592.2 2123.6 580.0 2128.6 580.1C2133.6 580.2 2135.6 592.2 2140.0 596.4C2144.4 600.7 2152.6 604.2 2155.1 605.8M1232.0 602.0C1236.0 602.5 1248.9 606.0 1255.7 605.1C1262.6 604.3 1268.0 599.4 1273.0 596.7C1278.1 594.0 1282.1 589.1 1286.1 588.8C1290.2 588.5 1290.8 590.0 1297.1 594.9C1303.5 599.7 1315.3 611.2 1324.3 617.9C1333.3 624.6 1343.4 631.3 1351.3 635.0C1359.3 638.8 1365.3 646.0 1371.9 640.5C1378.4 635.0 1384.3 611.5 1390.9 601.9C1397.5 592.4 1404.7 587.5 1411.6 583.2C1418.5 578.8 1424.8 576.8 1432.4 575.7C1440.0 574.5 1449.6 575.5 1457.0 576.4C1464.4 577.3 1470.2 577.8 1477.0 581.0C1483.8 584.2 1491.2 588.6 1498.1 595.4C1505.0 602.3 1512.7 608.6 1518.5 622.0C1524.3 635.4 1528.3 669.5 1533.0 675.9C1537.7 682.3 1541.1 665.3 1546.4 660.3C1551.8 655.2 1559.4 649.6 1565.0 645.7C1570.6 641.8 1574.4 636.0 1580.3 636.8C1586.2 637.6 1590.3 646.6 1600.6 650.4C1610.8 654.3 1631.2 659.0 1641.9 660.1C1652.6 661.1 1656.7 656.4 1665.0 656.6C1673.3 656.8 1682.8 659.1 1692.0 661.2C1701.2 663.3 1710.3 666.6 1720.0 669.3C1729.7 672.0 1740.8 675.5 1750.0 677.6C1759.2 679.6 1768.8 689.3 1775.0 681.7C1781.2 674.1 1783.8 646.2 1787.1 632.0C1790.5 617.8 1792.3 610.1 1795.0 596.4C1797.7 582.8 1800.5 562.5 1803.4 550.0C1806.3 537.5 1809.5 521.9 1812.3 521.4C1815.0 521.0 1817.0 537.4 1820.0 547.1C1823.0 556.9 1824.8 570.7 1830.0 580.0C1835.2 589.3 1844.8 592.4 1851.4 602.9C1858.1 613.3 1865.5 633.6 1870.0 642.9C1874.5 652.1 1875.1 659.9 1878.6 658.1C1882.0 656.4 1886.7 641.8 1890.9 632.6C1895.0 623.4 1899.8 606.9 1903.6 602.9C1907.4 598.9 1910.5 607.9 1913.6 608.6C1916.6 609.3 1918.1 610.7 1922.0 607.1C1925.9 603.6 1931.5 591.1 1937.0 587.5C1942.5 583.9 1948.1 580.7 1955.0 585.6C1961.9 590.4 1967.8 610.7 1978.6 616.6C1989.4 622.5 2006.0 623.5 2019.7 621.0C2033.4 618.4 2051.6 604.5 2060.8 601.4C2070.0 598.2 2069.3 601.5 2075.0 602.0C2080.7 602.5 2089.2 605.0 2095.0 604.3C2100.8 603.6 2104.4 601.5 2110.0 598.0C2115.6 594.5 2123.6 582.9 2128.6 583.0C2133.6 583.1 2135.6 594.5 2140.0 598.6C2144.4 602.7 2152.6 606.2 2155.1 607.7M1232.0 604.0C1235.9 604.6 1248.4 608.1 1255.1 607.4C1261.9 606.8 1267.5 602.7 1272.5 600.1C1277.6 597.6 1281.5 592.7 1285.5 592.1C1289.5 591.5 1290.2 592.2 1296.4 596.6C1302.6 601.0 1314.1 612.2 1322.9 618.6C1331.6 625.0 1341.1 631.3 1349.2 635.0C1357.2 638.8 1364.1 646.1 1371.1 641.1C1378.0 636.1 1384.1 613.8 1390.8 604.9C1397.5 596.0 1404.6 591.8 1411.5 587.7C1418.4 583.6 1424.8 581.4 1432.4 580.3C1440.0 579.3 1449.6 580.4 1457.0 581.2C1464.4 582.1 1470.2 582.5 1477.0 585.5C1483.8 588.5 1491.2 592.8 1498.1 599.4C1505.0 606.0 1512.7 612.1 1518.5 624.9C1524.3 637.7 1528.3 670.1 1533.0 676.4C1537.7 682.7 1541.5 667.2 1546.8 662.9C1552.1 658.5 1559.4 653.6 1565.0 650.1C1570.6 646.7 1574.4 641.6 1580.3 642.4C1586.2 643.2 1590.2 651.2 1600.5 654.8C1610.8 658.3 1631.2 662.7 1641.9 663.7C1652.6 664.7 1656.7 660.5 1665.0 660.7C1673.3 661.0 1682.8 663.2 1692.0 665.2C1701.2 667.2 1710.3 670.3 1720.0 672.9C1729.7 675.4 1740.8 678.7 1750.0 680.7C1759.2 682.7 1768.7 691.5 1775.0 684.7C1781.3 677.9 1784.4 653.1 1787.9 640.0C1791.4 626.9 1793.3 620.0 1796.0 605.8C1798.7 591.6 1801.5 568.9 1804.3 555.0C1807.1 541.1 1810.2 523.3 1812.9 522.3C1815.6 521.3 1817.6 539.2 1820.5 548.9C1823.4 558.6 1825.3 571.4 1830.5 580.5C1835.7 589.6 1845.2 593.1 1851.8 603.6C1858.4 614.1 1865.5 634.3 1870.0 643.6C1874.5 652.8 1875.2 660.2 1878.7 658.9C1882.2 657.6 1886.9 644.3 1891.1 635.7C1895.2 627.2 1899.9 611.3 1903.7 607.6C1907.5 603.8 1910.7 612.6 1913.7 613.2C1916.8 613.9 1918.1 615.4 1922.0 611.4C1925.9 607.5 1931.5 593.3 1937.0 589.4C1942.5 585.5 1948.1 583.4 1955.0 588.2C1961.9 593.0 1967.8 612.3 1978.6 618.2C1989.4 624.1 2006.0 626.0 2019.7 623.6C2033.4 621.2 2051.6 607.0 2060.8 603.7C2070.0 600.4 2069.3 603.6 2075.0 604.0C2080.7 604.4 2089.2 606.5 2095.0 605.9C2100.8 605.2 2104.4 603.3 2110.0 600.0C2115.6 596.7 2123.6 585.8 2128.6 585.9C2133.6 586.0 2135.6 596.8 2140.0 600.7C2144.4 604.7 2152.6 608.1 2155.1 609.6M1232.0 606.0C1235.8 606.6 1247.9 610.1 1254.6 609.7C1261.2 609.3 1267.0 606.0 1272.0 603.6C1277.1 601.2 1281.0 596.3 1284.9 595.4C1288.9 594.5 1289.6 594.3 1295.7 598.3C1301.8 602.3 1312.9 613.2 1321.4 619.3C1330.0 625.4 1338.9 631.3 1347.0 635.0C1355.2 638.8 1363.0 646.3 1370.3 641.7C1377.6 637.2 1383.9 616.2 1390.7 607.9C1397.6 599.7 1404.5 596.0 1411.4 592.1C1418.4 588.3 1424.8 586.0 1432.4 585.0C1440.0 584.0 1449.6 585.2 1457.0 586.1C1464.4 586.9 1470.2 587.1 1477.0 590.0C1483.8 592.9 1491.2 597.1 1498.1 603.4C1505.0 609.7 1512.6 615.5 1518.4 627.8C1524.3 640.0 1528.2 670.6 1533.0 676.9C1537.8 683.2 1541.8 669.1 1547.1 665.4C1552.5 661.7 1559.5 657.5 1565.0 654.6C1570.5 651.7 1574.4 647.2 1580.3 648.0C1586.2 648.7 1590.2 655.9 1600.5 659.1C1610.7 662.4 1631.1 666.4 1641.9 667.4C1652.7 668.3 1656.7 664.6 1665.0 664.9C1673.3 665.2 1682.8 667.2 1692.0 669.1C1701.2 671.1 1710.3 674.0 1720.0 676.4C1729.7 678.9 1740.8 682.0 1750.0 683.9C1759.2 685.7 1768.5 693.6 1775.0 687.6C1781.5 681.6 1785.0 660.1 1788.7 648.0C1792.4 635.9 1794.3 629.8 1797.0 615.1C1799.7 600.5 1802.4 575.3 1805.1 560.0C1807.9 544.7 1810.8 524.7 1813.4 523.1C1816.1 521.6 1818.1 541.1 1821.0 550.7C1823.9 560.4 1825.8 572.1 1831.0 581.0C1836.2 589.9 1845.6 593.7 1852.1 604.3C1858.6 614.8 1865.5 635.0 1870.0 644.3C1874.5 653.5 1875.3 660.6 1878.9 659.7C1882.4 658.8 1887.1 646.8 1891.3 638.9C1895.5 631.0 1900.1 615.8 1903.9 612.3C1907.6 608.8 1910.8 617.3 1913.9 617.9C1916.9 618.4 1918.1 620.1 1922.0 615.7C1925.9 611.3 1931.5 595.4 1937.0 591.3C1942.5 587.1 1948.1 586.1 1955.0 590.9C1961.9 595.6 1967.8 614.0 1978.6 619.9C1989.4 625.8 2006.0 628.6 2019.7 626.3C2033.4 624.0 2051.6 609.4 2060.8 606.1C2070.0 602.7 2069.3 605.8 2075.0 606.0C2080.7 606.2 2089.2 608.1 2095.0 607.4C2100.8 606.8 2104.4 605.1 2110.0 602.0C2115.6 598.9 2123.6 588.7 2128.6 588.8C2133.6 588.9 2135.6 599.1 2140.0 602.9C2144.4 606.6 2152.6 610.1 2155.1 611.5M1232.0 608.0C1235.7 608.7 1247.4 612.2 1254.0 612.0C1260.6 611.8 1266.5 609.2 1271.5 607.0C1276.6 604.8 1280.4 599.9 1284.3 598.8C1288.2 597.6 1289.0 596.5 1295.0 600.0C1301.0 603.5 1311.7 614.2 1320.0 620.0C1328.3 625.8 1336.6 631.3 1344.8 635.0C1353.1 638.8 1361.9 646.4 1369.5 642.4C1377.1 638.4 1383.6 618.6 1390.6 610.9C1397.6 603.3 1404.4 600.2 1411.3 596.6C1418.3 593.1 1424.8 590.6 1432.4 589.7C1440.0 588.7 1449.6 590.1 1457.0 590.9C1464.4 591.7 1470.2 591.8 1477.0 594.5C1483.8 597.2 1491.2 601.3 1498.1 607.3C1505.0 613.4 1512.6 619.0 1518.4 630.7C1524.2 642.4 1528.2 671.2 1533.0 677.4C1537.8 683.6 1542.2 671.1 1547.5 668.0C1552.8 664.9 1559.5 661.4 1565.0 659.0C1570.5 656.6 1574.4 652.8 1580.3 653.5C1586.2 654.3 1590.1 660.6 1600.4 663.5C1610.7 666.4 1631.1 670.1 1641.9 671.0C1652.7 672.0 1656.7 668.7 1665.0 669.0C1673.3 669.3 1682.8 671.3 1692.0 673.1C1701.2 674.9 1710.3 677.7 1720.0 680.0C1729.7 682.3 1740.8 685.2 1750.0 687.0C1759.2 688.8 1768.4 695.7 1775.0 690.5C1781.6 685.4 1785.7 667.0 1789.5 656.0C1793.3 645.0 1795.2 639.7 1798.0 624.5C1800.8 609.3 1803.3 581.8 1806.0 565.0C1808.7 548.2 1811.4 526.1 1814.0 524.0C1816.6 521.9 1818.6 542.9 1821.5 552.5C1824.4 562.1 1826.3 572.8 1831.5 581.5C1836.7 590.2 1846.1 594.4 1852.5 605.0C1858.9 615.6 1865.6 635.8 1870.0 645.0C1874.4 654.2 1875.4 661.0 1879.0 660.5C1882.6 660.0 1887.3 649.2 1891.5 642.0C1895.7 634.8 1900.2 620.2 1904.0 617.0C1907.8 613.8 1911.0 622.0 1914.0 622.5C1917.0 623.0 1918.2 624.9 1922.0 620.0C1925.8 615.1 1931.5 597.6 1937.0 593.1C1942.5 588.7 1948.1 588.8 1955.0 593.5C1961.9 598.2 1967.8 615.6 1978.6 621.5C1989.4 627.4 2006.0 631.1 2019.7 628.9C2033.4 626.7 2051.6 611.9 2060.8 608.4C2070.0 604.9 2069.3 607.9 2075.0 608.0C2080.7 608.1 2089.2 609.7 2095.0 609.0C2100.8 608.3 2104.4 606.9 2110.0 604.0C2115.6 601.1 2123.6 591.5 2128.6 591.7C2133.6 591.9 2135.6 601.4 2140.0 605.0C2144.4 608.6 2152.6 612.0 2155.2 613.5M1232.0 608.0C1235.7 608.7 1247.4 612.2 1254.0 612.0C1260.6 611.8 1266.5 609.2 1271.5 607.0C1276.6 604.8 1280.4 599.9 1284.3 598.8C1288.2 597.6 1289.0 596.5 1295.0 600.0C1301.0 603.5 1311.7 614.2 1320.0 620.0C1328.3 625.8 1336.6 631.3 1344.8 635.0C1353.1 638.8 1361.9 646.4 1369.5 642.4C1377.1 638.4 1383.6 618.6 1390.6 610.9C1397.6 603.3 1404.4 600.2 1411.3 596.6C1418.3 593.1 1424.8 590.6 1432.4 589.7C1440.0 588.7 1449.6 590.1 1457.0 590.9C1464.4 591.7 1470.2 591.8 1477.0 594.5C1483.8 597.2 1491.2 601.3 1498.1 607.3C1505.0 613.4 1512.6 619.0 1518.4 630.7C1524.2 642.4 1528.2 671.2 1533.0 677.4C1537.8 683.6 1542.2 671.1 1547.5 668.0C1552.8 664.9 1559.5 661.4 1565.0 659.0C1570.5 656.6 1574.4 652.8 1580.3 653.5C1586.2 654.3 1590.1 660.6 1600.4 663.5C1610.7 666.4 1631.1 670.1 1641.9 671.0C1652.7 672.0 1656.7 668.7 1665.0 669.0C1673.3 669.3 1682.8 671.3 1692.0 673.1C1701.2 674.9 1710.3 677.7 1720.0 680.0C1729.7 682.3 1740.8 685.2 1750.0 687.0C1759.2 688.8 1768.4 695.7 1775.0 690.5C1781.6 685.4 1785.7 667.0 1789.5 656.0C1793.3 645.0 1795.2 639.7 1798.0 624.5C1800.8 609.3 1803.3 581.8 1806.0 565.0C1808.7 548.2 1811.4 526.1 1814.0 524.0C1816.6 521.9 1818.6 542.9 1821.5 552.5C1824.4 562.1 1826.3 572.8 1831.5 581.5C1836.7 590.2 1846.1 594.4 1852.5 605.0C1858.9 615.6 1865.6 635.8 1870.0 645.0C1874.4 654.2 1875.4 661.0 1879.0 660.5C1882.6 660.0 1887.3 649.2 1891.5 642.0C1895.7 634.8 1900.2 620.2 1904.0 617.0C1907.8 613.8 1911.0 622.0 1914.0 622.5C1917.0 623.0 1918.2 624.9 1922.0 620.0C1925.8 615.1 1931.5 597.6 1937.0 593.1C1942.5 588.7 1948.1 588.8 1955.0 593.5C1961.9 598.2 1967.8 615.6 1978.6 621.5C1989.4 627.4 2006.0 631.1 2019.7 628.9C2033.4 626.7 2051.6 611.9 2060.8 608.4C2070.0 604.9 2069.3 607.9 2075.0 608.0C2080.7 608.1 2089.2 609.7 2095.0 609.0C2100.8 608.3 2104.4 606.9 2110.0 604.0C2115.6 601.1 2123.6 591.5 2128.6 591.7C2133.6 591.9 2135.6 601.4 2140.0 605.0C2144.4 608.6 2152.6 612.0 2155.2 613.5M1232.0 610.0C1235.6 610.7 1246.9 614.2 1253.4 614.3C1259.9 614.4 1266.0 612.5 1271.1 610.4C1276.1 608.4 1279.8 603.5 1283.7 602.1C1287.6 600.6 1288.5 598.6 1294.3 601.7C1300.1 604.8 1310.5 615.2 1318.6 620.7C1326.6 626.3 1334.4 631.3 1342.7 635.1C1351.0 638.8 1360.3 646.2 1368.2 643.4C1376.2 640.5 1383.2 624.0 1390.4 617.9C1397.5 611.9 1404.1 610.0 1411.1 607.1C1418.1 604.2 1424.8 601.4 1432.4 600.6C1440.0 599.7 1449.6 601.5 1457.0 602.2C1464.4 602.9 1470.2 602.6 1477.0 605.0C1483.8 607.4 1491.2 611.2 1498.1 616.6C1505.0 622.0 1512.5 627.2 1518.4 637.4C1524.2 647.7 1528.1 672.6 1533.0 678.1C1537.9 683.6 1542.5 673.0 1547.9 670.6C1553.2 668.1 1559.6 665.3 1565.0 663.4C1570.4 661.5 1574.4 658.4 1580.3 659.1C1586.2 659.9 1590.1 665.3 1600.3 667.9C1610.6 670.5 1631.1 673.8 1641.9 674.7C1652.7 675.6 1656.7 672.8 1665.0 673.1C1673.4 673.5 1682.8 675.3 1692.0 677.1C1701.2 678.8 1710.3 681.4 1720.0 683.6C1729.7 685.8 1740.8 688.5 1750.0 690.1C1759.2 691.8 1768.3 697.8 1775.0 693.5C1781.7 689.1 1786.3 673.9 1790.3 664.0C1794.3 654.1 1796.2 649.5 1799.0 633.9C1801.8 618.2 1804.3 588.2 1806.9 570.0C1809.5 551.8 1812.0 527.5 1814.6 524.9C1817.1 522.2 1819.1 544.8 1822.0 554.3C1824.9 563.8 1826.9 573.4 1832.0 582.0C1837.1 590.6 1846.5 595.1 1852.9 605.7C1859.2 616.3 1865.6 636.5 1870.0 645.7C1874.4 655.0 1875.5 661.4 1879.1 661.3C1882.8 661.2 1887.5 651.7 1891.7 645.1C1895.9 638.5 1900.4 624.7 1904.1 621.7C1907.9 618.7 1911.2 626.7 1914.1 627.1C1917.1 627.6 1918.2 629.6 1922.0 624.3C1925.8 618.9 1931.5 599.7 1937.0 595.0C1942.5 590.3 1948.1 591.5 1955.0 596.1C1961.9 600.8 1967.8 617.2 1978.6 623.1C1989.4 629.0 2006.0 633.6 2019.7 631.5C2033.4 629.5 2051.6 614.3 2060.8 610.7C2070.0 607.2 2069.3 610.0 2075.0 610.0C2080.7 610.0 2089.2 611.2 2095.0 610.6C2100.8 609.9 2104.4 608.7 2110.0 606.0C2115.6 603.3 2123.6 594.4 2128.6 594.6C2133.6 594.8 2135.6 603.7 2140.0 607.1C2144.4 610.6 2152.6 614.0 2155.2 615.4M1232.0 612.0C1235.5 612.8 1246.4 616.3 1252.9 616.6C1259.3 616.9 1265.5 615.7 1270.6 613.9C1275.6 612.0 1279.2 607.1 1283.1 605.4C1286.9 603.7 1287.9 600.8 1293.6 603.4C1299.2 606.1 1309.3 616.2 1317.1 621.4C1325.0 626.7 1332.2 631.2 1340.5 635.1C1348.8 638.9 1358.7 646.1 1366.9 644.4C1375.2 642.7 1382.8 629.4 1390.1 624.9C1397.5 620.5 1403.9 619.9 1411.0 617.6C1418.0 615.4 1424.7 612.1 1432.4 611.4C1440.1 610.8 1449.6 612.8 1457.0 613.5C1464.4 614.2 1470.2 613.5 1477.0 615.5C1483.8 617.5 1491.2 621.0 1498.0 625.8C1504.9 630.6 1512.5 635.4 1518.3 644.2C1524.1 653.0 1528.0 674.0 1533.0 678.8C1538.0 683.6 1542.9 675.0 1548.2 673.1C1553.5 671.3 1559.7 669.3 1565.0 667.9C1570.3 666.5 1574.4 664.0 1580.3 664.7C1586.2 665.4 1590.0 669.9 1600.3 672.2C1610.6 674.5 1631.1 677.5 1641.9 678.4C1652.7 679.2 1656.7 676.8 1665.0 677.3C1673.3 677.7 1682.8 679.4 1692.0 681.0C1701.2 682.7 1710.3 685.1 1720.0 687.1C1729.7 689.2 1740.8 691.7 1750.0 693.3C1759.2 694.8 1768.2 700.0 1775.0 696.4C1781.8 692.9 1786.9 680.9 1791.1 672.0C1795.2 663.1 1797.2 659.4 1800.0 643.2C1802.8 627.0 1805.2 594.6 1807.7 575.0C1810.2 555.4 1812.7 528.9 1815.1 525.7C1817.6 522.6 1819.6 546.6 1822.5 556.1C1825.4 565.5 1827.4 574.1 1832.5 582.5C1837.6 590.9 1847.0 595.8 1853.2 606.4C1859.5 617.1 1865.7 637.2 1870.0 646.4C1874.3 655.7 1875.6 661.8 1879.3 662.1C1882.9 662.4 1887.8 654.2 1891.9 648.3C1896.1 642.3 1900.6 629.2 1904.3 626.4C1908.0 623.7 1911.3 631.4 1914.3 631.8C1917.2 632.1 1918.2 634.4 1922.0 628.6C1925.8 622.8 1931.5 601.9 1937.0 596.9C1942.5 591.9 1948.1 594.1 1955.0 598.8C1961.9 603.4 1967.8 618.9 1978.6 624.8C1989.4 630.7 2006.0 636.1 2019.7 634.2C2033.4 632.2 2051.6 616.8 2060.8 613.1C2070.0 609.4 2069.3 612.2 2075.0 612.0C2080.7 611.8 2089.2 612.8 2095.0 612.1C2100.8 611.5 2104.4 610.4 2110.0 608.0C2115.6 605.6 2123.6 597.3 2128.6 597.5C2133.6 597.7 2135.6 606.0 2140.0 609.3C2144.4 612.6 2152.7 616.0 2155.2 617.3M1232.0 614.0C1235.4 614.8 1245.9 618.3 1252.3 618.9C1258.6 619.4 1265.0 619.0 1270.1 617.3C1275.1 615.6 1278.7 610.7 1282.5 608.7C1286.3 606.7 1287.3 602.9 1292.9 605.1C1298.4 607.4 1308.1 617.2 1315.7 622.1C1323.3 627.1 1330.0 631.2 1338.4 635.1C1346.7 639.0 1357.0 645.9 1365.6 645.4C1374.2 644.9 1382.4 634.9 1389.9 632.0C1397.4 629.1 1403.7 629.7 1410.8 628.1C1417.8 626.5 1424.7 622.9 1432.4 622.3C1440.1 621.8 1449.6 624.2 1457.0 624.8C1464.4 625.4 1470.2 624.3 1477.0 626.0C1483.8 627.7 1491.2 630.9 1498.0 635.0C1504.9 639.2 1512.4 643.6 1518.2 651.0C1524.1 658.4 1527.9 675.4 1533.0 679.5C1538.1 683.6 1543.2 676.9 1548.6 675.7C1553.9 674.5 1559.7 673.2 1565.0 672.3C1570.3 671.4 1574.4 669.6 1580.3 670.3C1586.2 671.0 1590.0 674.6 1600.2 676.6C1610.5 678.5 1631.1 681.2 1641.9 682.0C1652.7 682.9 1656.7 680.9 1665.0 681.4C1673.3 681.9 1682.8 683.4 1692.0 685.0C1701.2 686.5 1710.3 688.8 1720.0 690.7C1729.7 692.6 1740.8 695.0 1750.0 696.4C1759.2 697.9 1768.0 702.1 1775.0 699.4C1782.0 696.6 1787.5 687.8 1791.9 680.0C1796.2 672.2 1798.2 669.2 1801.0 652.6C1803.8 635.9 1806.1 601.0 1808.6 580.0C1811.0 559.0 1813.3 530.3 1815.7 526.6C1818.1 522.9 1820.1 548.5 1823.0 557.9C1825.9 567.3 1827.9 574.8 1833.0 583.0C1838.1 591.2 1847.4 596.5 1853.6 607.1C1859.7 617.8 1865.7 637.9 1870.0 647.1C1874.3 656.4 1875.7 662.1 1879.4 662.9C1883.1 663.6 1888.0 656.7 1892.1 651.4C1896.3 646.1 1900.7 633.6 1904.4 631.1C1908.1 628.6 1911.5 636.1 1914.4 636.4C1917.4 636.7 1918.2 639.1 1922.0 632.9C1925.8 626.6 1931.5 604.0 1937.0 598.8C1942.5 593.5 1948.1 596.8 1955.0 601.4C1961.9 606.0 1967.8 620.5 1978.6 626.4C1989.4 632.3 2006.0 638.7 2019.7 636.8C2033.4 635.0 2051.6 619.2 2060.8 615.4C2070.0 611.6 2069.3 614.3 2075.0 614.0C2080.7 613.7 2089.2 614.4 2095.0 613.7C2100.8 613.0 2104.4 612.2 2110.0 610.0C2115.6 607.8 2123.6 600.2 2128.6 600.4C2133.6 600.6 2135.6 608.3 2140.0 611.4C2144.4 614.6 2152.7 617.9 2155.2 619.2M1232.0 616.0C1235.3 616.9 1245.5 620.4 1251.7 621.1C1258.0 621.9 1264.6 622.2 1269.6 620.7C1274.6 619.2 1278.1 614.3 1281.8 612.0C1285.6 609.7 1286.7 605.1 1292.1 606.9C1297.5 608.7 1306.9 618.2 1314.3 622.9C1321.6 627.6 1327.8 631.1 1336.2 635.1C1344.5 639.0 1355.4 645.8 1364.4 646.4C1373.3 647.1 1382.0 640.3 1389.7 639.0C1397.4 637.7 1403.5 639.5 1410.6 638.6C1417.7 637.6 1424.7 633.6 1432.4 633.2C1440.1 632.8 1449.6 635.6 1457.0 636.1C1464.4 636.6 1470.2 635.1 1477.0 636.5C1483.8 637.9 1491.2 640.7 1498.0 644.3C1504.9 647.8 1512.4 651.7 1518.2 657.7C1524.0 663.7 1527.9 676.8 1533.0 680.2C1538.1 683.6 1543.6 678.9 1548.9 678.3C1554.3 677.7 1559.8 677.1 1565.0 676.7C1570.2 676.3 1574.4 675.2 1580.3 675.9C1586.2 676.6 1589.9 679.3 1600.2 680.9C1610.4 682.6 1631.1 684.9 1641.9 685.7C1652.7 686.5 1656.7 685.0 1665.0 685.6C1673.3 686.1 1682.8 687.5 1692.0 688.9C1701.2 690.4 1710.3 692.5 1720.0 694.3C1729.7 696.1 1740.8 698.2 1750.0 699.6C1759.2 700.9 1767.9 704.2 1775.0 702.3C1782.1 700.4 1788.1 694.7 1792.6 688.0C1797.1 681.3 1799.2 679.1 1802.0 661.9C1804.8 644.8 1807.0 607.4 1809.4 585.0C1811.8 562.6 1813.9 531.7 1816.3 527.4C1818.6 523.2 1820.6 550.3 1823.5 559.6C1826.4 569.0 1828.4 575.5 1833.5 583.5C1838.6 591.5 1847.8 597.1 1853.9 607.9C1860.0 618.6 1865.7 638.6 1870.0 647.9C1874.3 657.2 1875.8 662.5 1879.6 663.6C1883.3 664.8 1888.2 659.2 1892.4 654.6C1896.5 649.9 1900.9 638.1 1904.6 635.9C1908.3 633.6 1911.7 640.9 1914.6 641.1C1917.5 641.3 1918.3 643.9 1922.0 637.1C1925.7 630.4 1931.5 606.2 1937.0 600.7C1942.5 595.2 1948.1 599.5 1955.0 604.1C1961.9 608.6 1967.8 622.2 1978.6 628.1C1989.4 634.0 2006.0 641.2 2019.7 639.5C2033.4 637.8 2051.6 621.7 2060.8 617.8C2070.0 613.9 2069.3 616.4 2075.0 616.0C2080.7 615.6 2089.2 616.0 2095.0 615.3C2100.8 614.6 2104.4 614.0 2110.0 612.0C2115.6 610.0 2123.6 603.0 2128.6 603.3C2133.6 603.6 2135.6 610.6 2140.0 613.6C2144.4 616.5 2152.7 619.9 2155.2 621.1M1232.0 618.0C1235.2 618.9 1245.0 622.4 1251.1 623.4C1257.3 624.5 1264.1 625.5 1269.1 624.1C1274.1 622.8 1277.5 618.0 1281.2 615.4C1285.0 612.8 1286.2 607.2 1291.4 608.6C1296.7 609.9 1305.8 619.2 1312.9 623.6C1320.0 628.0 1325.7 631.1 1334.0 635.1C1342.4 639.1 1353.8 645.6 1363.1 647.5C1372.3 649.3 1381.6 645.7 1389.5 646.0C1397.3 646.2 1403.2 649.4 1410.4 649.0C1417.5 648.7 1424.6 644.4 1432.4 644.1C1440.2 643.8 1449.6 646.9 1457.0 647.4C1464.4 647.9 1470.2 646.0 1477.0 647.0C1483.8 648.0 1491.2 650.6 1498.0 653.5C1504.9 656.4 1512.3 659.9 1518.1 664.5C1523.9 669.0 1527.8 678.2 1533.0 680.9C1538.2 683.6 1544.0 680.8 1549.3 680.9C1554.6 680.9 1559.8 681.0 1565.0 681.1C1570.2 681.2 1574.4 680.8 1580.3 681.4C1586.2 682.1 1589.8 684.0 1600.1 685.3C1610.4 686.6 1631.1 688.6 1641.9 689.4C1652.7 690.1 1656.7 689.1 1665.0 689.7C1673.3 690.3 1682.8 691.5 1692.0 692.9C1701.2 694.2 1710.3 696.2 1720.0 697.9C1729.7 699.5 1740.8 701.5 1750.0 702.7C1759.2 703.9 1767.8 706.3 1775.0 705.2C1782.2 704.1 1788.8 701.7 1793.4 696.0C1798.1 690.3 1800.2 689.0 1803.0 671.3C1805.8 653.6 1808.0 613.8 1810.3 590.0C1812.6 566.2 1814.6 533.0 1816.9 528.3C1819.1 523.5 1821.1 552.1 1824.0 561.4C1826.9 570.7 1829.0 576.1 1834.0 584.0C1839.0 591.9 1848.3 597.8 1854.3 608.6C1860.3 619.3 1865.8 639.3 1870.0 648.6C1874.2 657.9 1876.0 662.9 1879.7 664.4C1883.5 666.0 1888.4 661.7 1892.6 657.7C1896.7 653.7 1901.0 642.6 1904.7 640.6C1908.4 638.6 1911.8 645.6 1914.7 645.7C1917.6 645.9 1918.3 648.6 1922.0 641.4C1925.7 634.2 1931.5 608.3 1937.0 602.5C1942.5 596.8 1948.1 602.2 1955.0 606.7C1961.9 611.2 1967.8 623.8 1978.6 629.7C1989.4 635.6 2006.0 643.7 2019.7 642.1C2033.4 640.5 2051.6 624.1 2060.8 620.1C2070.0 616.1 2069.3 618.5 2075.0 618.0C2080.7 617.5 2089.2 617.5 2095.0 616.9C2100.8 616.2 2104.4 615.8 2110.0 614.0C2115.6 612.2 2123.6 605.9 2128.6 606.2C2133.6 606.5 2135.6 612.9 2140.0 615.7C2144.4 618.5 2152.7 621.8 2155.3 623.1M1232.0 620.0C1235.1 621.0 1244.5 624.5 1250.6 625.7C1256.7 627.0 1263.6 628.7 1268.6 627.6C1273.6 626.4 1276.9 621.6 1280.6 618.7C1284.3 615.8 1285.6 609.4 1290.7 610.3C1295.8 611.2 1304.6 620.2 1311.4 624.3C1318.3 628.4 1323.5 631.1 1331.9 635.1C1340.3 639.1 1352.2 645.5 1361.8 648.5C1371.3 651.5 1381.2 651.2 1389.2 653.0C1397.3 654.8 1403.0 659.2 1410.2 659.5C1417.4 659.9 1424.6 655.1 1432.4 655.0C1440.2 654.9 1449.6 658.3 1457.0 658.7C1464.4 659.1 1470.2 656.8 1477.0 657.5C1483.8 658.2 1491.2 660.5 1498.0 662.8C1504.9 665.0 1512.2 668.1 1518.1 671.2C1523.9 674.4 1527.7 679.6 1533.0 681.6C1538.3 683.6 1544.3 682.8 1549.6 683.4C1555.0 684.1 1559.9 685.0 1565.0 685.6C1570.1 686.2 1574.5 686.3 1580.3 687.0C1586.1 687.7 1589.8 688.6 1600.1 689.6C1610.3 690.6 1631.1 692.3 1641.9 693.0C1652.7 693.7 1656.7 693.2 1665.0 693.9C1673.3 694.5 1682.8 695.6 1692.0 696.8C1701.2 698.1 1710.3 699.9 1720.0 701.4C1729.7 702.9 1740.8 704.7 1750.0 705.9C1759.2 707.0 1767.6 708.5 1775.0 708.2C1782.4 707.9 1789.4 708.6 1794.2 704.0C1799.0 699.4 1801.2 698.8 1804.0 680.6C1806.8 662.5 1808.9 620.2 1811.1 595.0C1813.4 569.8 1815.2 534.4 1817.4 529.1C1819.7 523.8 1821.7 554.0 1824.5 563.2C1827.3 572.4 1829.5 576.8 1834.5 584.5C1839.5 592.2 1848.7 598.5 1854.6 609.3C1860.6 620.1 1865.8 640.0 1870.0 649.3C1874.2 658.6 1876.1 663.3 1879.9 665.2C1883.7 667.1 1888.6 664.2 1892.8 660.9C1897.0 657.5 1901.2 647.0 1904.9 645.3C1908.5 643.5 1912.0 650.3 1914.9 650.4C1917.7 650.4 1918.3 653.4 1922.0 645.7C1925.7 638.1 1931.5 610.5 1937.0 604.4C1942.5 598.4 1948.1 604.9 1955.0 609.4C1961.9 613.8 1967.8 625.5 1978.6 631.4C1989.4 637.3 2006.0 646.2 2019.7 644.8C2033.4 643.3 2051.6 626.6 2060.8 622.5C2070.0 618.3 2069.3 620.7 2075.0 620.0C2080.7 619.3 2089.2 619.1 2095.0 618.4C2100.8 617.8 2104.4 617.6 2110.0 616.0C2115.6 614.4 2123.6 608.8 2128.6 609.1C2133.6 609.4 2135.6 615.2 2140.0 617.9C2144.4 620.5 2152.7 623.8 2155.3 625.0M1232.0 622.0C1235.0 623.0 1244.0 626.5 1250.0 628.0C1256.0 629.5 1263.1 632.0 1268.1 631.0C1273.1 630.0 1276.3 625.2 1280.0 622.0C1283.7 618.8 1285.0 611.5 1290.0 612.0C1295.0 612.5 1303.4 621.1 1310.0 625.0C1316.6 628.9 1321.3 631.0 1329.7 635.1C1338.1 639.2 1350.6 645.4 1360.5 649.5C1370.4 653.6 1380.8 656.6 1389.0 660.0C1397.2 663.4 1402.8 669.0 1410.0 670.0C1417.2 671.0 1424.6 665.9 1432.4 665.9C1440.2 665.9 1449.6 669.6 1457.0 670.0C1464.4 670.4 1470.2 667.7 1477.0 668.0C1483.8 668.3 1491.2 670.3 1498.0 672.0C1504.8 673.7 1512.2 676.3 1518.0 678.0C1523.8 679.7 1527.7 681.0 1533.0 682.3C1538.3 683.6 1544.7 684.7 1550.0 686.0C1555.3 687.3 1560.0 688.9 1565.0 690.0C1570.0 691.1 1574.5 691.9 1580.3 692.6C1586.1 693.3 1589.7 693.3 1600.0 694.0C1610.3 694.7 1631.1 696.0 1641.9 696.7C1652.7 697.4 1656.7 697.3 1665.0 698.0C1673.3 698.7 1682.8 699.6 1692.0 700.8C1701.2 702.0 1710.3 703.6 1720.0 705.0C1729.7 706.4 1740.8 708.0 1750.0 709.0C1759.2 710.0 1767.5 710.6 1775.0 711.1C1782.5 711.6 1790.0 715.5 1795.0 712.0C1800.0 708.5 1802.2 708.7 1805.0 690.0C1807.8 671.3 1809.8 626.7 1812.0 600.0C1814.2 573.3 1815.8 535.8 1818.0 530.0C1820.2 524.2 1822.2 555.8 1825.0 565.0C1827.8 574.2 1830.0 577.5 1835.0 585.0C1840.0 592.5 1849.2 599.2 1855.0 610.0C1860.8 620.8 1865.8 640.7 1870.0 650.0C1874.2 659.3 1876.2 663.7 1880.0 666.0C1883.8 668.3 1888.8 666.7 1893.0 664.0C1897.2 661.3 1901.3 651.5 1905.0 650.0C1908.7 648.5 1912.2 655.0 1915.0 655.0C1917.8 655.0 1918.3 658.1 1922.0 650.0C1925.7 641.9 1931.5 612.6 1937.0 606.3C1942.5 600.0 1948.1 607.5 1955.0 612.0C1961.9 616.5 1967.8 627.1 1978.6 633.0C1989.4 638.9 2006.0 648.8 2019.7 647.4C2033.4 646.0 2051.6 629.0 2060.8 624.8C2070.0 620.6 2069.3 622.8 2075.0 622.0C2080.7 621.2 2089.2 620.7 2095.0 620.0C2100.8 619.3 2104.4 619.3 2110.0 618.0C2115.6 616.7 2123.6 611.7 2128.6 612.0C2133.6 612.3 2135.6 617.5 2140.0 620.0C2144.4 622.5 2152.8 625.8 2155.3 626.9" stroke="#0000ff" stroke-width="2.0"/><path d="M1232.1 606.3C1234.7 606.8 1241.5 608.0 1247.5 609.4C1253.5 610.8 1263.3 615.4 1268.1 614.5C1272.9 613.6 1273.9 609.4 1276.3 604.3C1278.7 599.2 1280.8 589.0 1282.5 583.7C1284.2 578.4 1284.9 573.4 1286.6 572.4C1288.3 571.4 1290.7 574.3 1292.7 577.6C1294.8 580.9 1296.2 588.2 1298.9 592.0C1301.7 595.8 1305.8 597.5 1309.2 600.2C1312.6 602.9 1316.0 605.0 1319.4 608.4C1322.8 611.8 1326.3 616.6 1329.7 620.7C1333.1 624.8 1336.6 629.9 1340.0 633.0C1343.4 636.1 1346.9 638.3 1350.3 639.2C1353.7 640.1 1357.1 637.5 1360.5 638.2C1363.9 638.9 1367.4 641.1 1370.8 643.3C1374.2 645.5 1378.0 649.5 1381.1 651.5C1384.2 653.5 1385.9 655.9 1389.3 655.6C1392.7 655.3 1397.1 651.5 1401.6 649.5C1406.0 647.5 1410.9 646.4 1416.0 643.3C1421.1 640.2 1426.9 636.1 1432.4 631.0C1437.9 625.9 1444.3 617.7 1448.9 612.5C1453.5 607.3 1456.9 602.6 1460.0 600.0C1463.1 597.4 1464.4 597.1 1467.3 597.1C1470.2 597.1 1474.1 598.0 1477.5 600.2C1480.9 602.4 1484.4 606.3 1487.8 610.4C1491.2 614.5 1494.7 619.0 1498.1 624.8C1501.5 630.6 1505.0 638.5 1508.4 645.4C1511.8 652.2 1515.5 660.1 1518.6 665.9C1521.7 671.7 1524.4 677.2 1526.8 680.3C1529.2 683.4 1530.9 685.4 1533.0 684.4C1535.1 683.4 1536.5 678.5 1539.2 674.1C1541.9 669.7 1544.3 661.8 1549.4 657.7C1554.5 653.6 1561.4 650.2 1570.0 649.5C1578.6 648.8 1590.5 652.1 1600.8 653.6C1611.1 655.1 1621.3 656.3 1631.6 658.7C1641.9 661.1 1655.2 665.8 1662.4 668.0C1669.6 670.2 1669.8 671.6 1674.7 672.1C1679.6 672.6 1685.5 671.5 1692.0 671.0C1698.5 670.5 1707.7 667.8 1713.7 669.0C1719.7 670.2 1722.3 674.6 1728.1 678.2C1733.9 681.8 1741.8 687.2 1748.6 690.6C1755.4 694.0 1763.0 697.1 1769.2 698.8C1775.4 700.5 1781.8 701.8 1785.6 700.8C1789.4 699.8 1790.1 702.5 1791.8 692.6C1793.5 682.7 1794.5 656.7 1795.9 641.3C1797.3 625.9 1798.8 616.0 1800.0 600.2C1801.2 584.5 1801.7 555.4 1803.1 546.8C1804.5 538.2 1806.8 545.7 1808.2 548.8C1809.6 551.9 1809.9 565.5 1811.3 565.2C1812.7 564.9 1815.0 545.1 1816.4 546.8C1817.8 548.5 1817.1 570.7 1819.5 575.5C1821.9 580.3 1826.9 574.5 1830.8 575.5C1834.7 576.5 1839.3 578.3 1843.1 581.7C1846.9 585.1 1850.3 589.6 1853.4 596.1C1856.5 602.6 1858.5 611.8 1861.6 620.7C1864.7 629.6 1869.2 642.6 1871.9 649.5C1874.6 656.4 1876.0 661.8 1878.0 661.8C1880.0 661.8 1881.8 656.4 1884.2 649.5C1886.6 642.6 1889.7 628.6 1892.4 620.7C1895.1 612.8 1897.8 604.2 1900.6 602.2C1903.3 600.2 1906.5 609.1 1908.9 608.4C1911.3 607.7 1912.8 601.4 1915.0 598.0C1917.2 594.6 1920.0 590.7 1922.0 588.0C1924.0 585.3 1924.7 583.6 1927.3 581.7C1929.9 579.8 1933.4 578.0 1937.5 576.5C1941.6 575.0 1948.5 571.9 1951.9 572.4C1955.3 572.9 1955.7 574.3 1958.1 579.6C1960.5 584.9 1962.9 598.1 1966.3 604.3C1969.7 610.5 1973.1 612.5 1978.6 616.6C1984.1 620.7 1993.0 625.5 1999.2 628.9C2005.4 632.3 2010.1 635.4 2015.6 637.1C2021.1 638.8 2027.9 641.2 2032.0 639.2C2036.1 637.2 2037.5 631.0 2040.3 624.8C2043.0 618.6 2045.8 607.0 2048.5 602.2C2051.2 597.4 2052.9 596.4 2056.7 596.1C2060.5 595.8 2065.3 599.5 2071.1 600.2C2076.9 600.9 2086.5 599.5 2091.6 600.2C2096.7 600.9 2098.5 606.0 2101.9 604.3C2105.3 602.6 2108.8 594.7 2112.2 589.9C2115.6 585.1 2119.7 577.5 2122.4 575.5C2125.1 573.5 2126.2 574.9 2128.6 577.6C2131.0 580.4 2132.6 587.9 2137.0 592.0C2141.4 596.1 2152.2 600.5 2155.3 602.2" stroke="#ff0000" stroke-width="8.5"/></g><clipPath id="cR3"><rect x="1232.4" y="783.5999999999999" width="922.0999999999999" height="241.20000000000005"/></clipPath><g clip-path="url(#cR3)" fill="none" stroke-linejoin="round" stroke-linecap="round"><path d="M1230.3 984.4 L1232.5 982.6 L1234.7 982.8 L1236.9 982.6 L1239.1 980.3 L1241.3 981.4 L1243.5 982.6 L1245.7 978.4 L1247.9 973.9 L1250.1 970.2 L1252.3 968.1 L1254.5 964.1 L1256.7 963.7 L1258.9 966.7 L1261.1 968.4 L1263.3 971.4 L1265.5 970.1 L1267.7 970.9 L1269.9 971.2 L1272.1 972.6 L1274.3 979.7 L1276.5 978.8 L1278.7 979.3 L1280.9 984.3 L1283.1 986.9 L1285.3 993.9 L1287.5 990.0 L1289.7 986.4 L1291.9 987.0 L1294.1 980.3 L1296.3 981.7 L1298.5 975.8 L1300.7 981.8 L1302.9 986.0 L1305.1 982.5 L1307.3 984.2 L1309.5 985.8 L1311.7 987.9 L1313.9 993.2 L1316.1 995.0 L1318.3 995.0 L1320.5 993.1 L1322.7 995.7 L1324.9 996.4 L1327.1 997.2 L1329.3 994.7 L1331.5 1000.2 L1333.7 997.2 L1335.9 992.3 L1338.1 986.3 L1340.3 982.4 L1342.5 980.7 L1344.7 976.3 L1346.9 975.6 L1349.1 975.5 L1351.3 978.2 L1353.5 984.8 L1355.7 989.0 L1357.9 990.9 L1360.1 991.2 L1362.3 990.0 L1364.5 991.9 L1366.7 988.5 L1368.9 986.6 L1371.1 983.5 L1373.3 985.3 L1375.5 990.1 L1377.7 992.7 L1379.9 1001.4 L1382.1 998.6 L1384.3 1000.7 L1386.5 996.0 L1388.7 995.1 L1390.9 997.0 L1393.1 999.8 L1395.3 1003.9 L1397.5 1004.5 L1399.7 1004.9 L1401.9 995.4 L1404.1 992.8 L1406.3 986.5 L1408.5 983.6 L1410.7 983.4 L1412.9 984.6 L1415.1 985.0 L1417.3 986.3 L1419.5 984.0 L1421.7 988.6 L1423.9 987.7 L1426.1 984.1 L1428.3 983.5 L1430.5 981.8 L1432.7 984.9 L1434.9 984.4 L1437.1 986.5 L1439.3 986.7 L1441.5 990.9 L1443.7 992.8 L1445.9 996.5 L1448.1 998.8 L1450.3 999.4 L1452.5 998.6 L1454.7 999.2 L1456.9 996.2 L1459.1 995.2 L1461.3 995.2 L1463.5 997.2 L1465.7 995.7 L1467.9 993.8 L1470.1 991.1 L1472.3 992.4 L1474.5 989.9 L1476.7 989.2 L1478.9 986.7 L1481.1 989.7 L1483.3 985.2 L1485.5 985.3 L1487.7 980.8 L1489.9 982.2 L1492.1 981.7 L1494.3 979.7 L1496.5 982.3 L1498.7 985.6 L1500.9 986.5 L1503.1 990.3 L1505.3 991.3 L1507.5 998.9 L1509.7 996.5 L1511.9 996.6 L1514.1 1001.4 L1516.3 1001.9 L1518.5 997.7 L1520.7 994.1 L1522.9 995.4 L1525.1 995.0 L1527.3 998.5 L1529.5 1001.5 L1531.7 1005.2 L1533.9 1000.0 L1536.1 1000.0 L1538.3 999.5 L1540.5 997.4 L1542.7 997.5 L1544.9 997.4 L1547.1 996.5 L1549.3 993.3 L1551.5 992.2 L1553.7 995.1 L1555.9 998.2 L1558.1 999.6 L1560.3 1000.4 L1562.5 1003.4 L1564.7 1001.2 L1566.9 997.0 L1569.1 994.4 L1571.3 992.9 L1573.5 989.2 L1575.7 985.1 L1577.9 984.3 L1580.1 973.6 L1582.3 964.3 L1584.5 963.4 L1586.7 964.0 L1588.9 961.6 L1591.1 960.9 L1593.3 959.9 L1595.5 961.7 L1597.7 963.3 L1599.9 970.5 L1602.1 973.2 L1604.3 977.6 L1606.5 980.0 L1608.7 986.0 L1610.9 979.2 L1613.1 975.4 L1615.3 973.3 L1617.5 975.7 L1619.7 981.1 L1621.9 984.6 L1624.1 986.5 L1626.3 994.2 L1628.5 995.5 L1630.7 998.6 L1632.9 1001.0 L1635.1 999.9 L1637.3 998.1 L1639.5 999.9 L1641.7 1002.0 L1643.9 1007.8 L1646.1 1002.3 L1648.3 1000.1 L1650.5 999.6 L1652.7 996.5 L1654.9 986.4 L1657.1 989.2 L1659.3 991.9 L1661.5 997.2 L1663.7 998.2 L1665.9 1007.4 L1668.1 993.2 L1670.3 983.7 L1672.5 983.9 L1674.7 979.5 L1676.9 980.6 L1679.1 982.6 L1681.3 985.7 L1683.5 986.1 L1685.7 989.1 L1687.9 992.4 L1690.1 988.2 L1692.3 986.9 L1694.5 983.2 L1696.7 979.9 L1698.9 979.9 L1701.1 986.2 L1703.3 990.1 L1705.5 997.0 L1707.7 994.0 L1709.9 998.6 L1712.1 992.2 L1714.3 988.8 L1716.5 978.7 L1718.7 974.1 L1720.9 967.1 L1723.1 971.8 L1725.3 972.7 L1727.5 976.6 L1729.7 981.8 L1731.9 981.8 L1734.1 985.0 L1736.3 979.6 L1738.5 979.0 L1740.7 978.3 L1742.9 990.7 L1745.1 994.0 L1747.3 994.4 L1749.5 998.9 L1751.7 1001.6 L1753.9 1002.9 L1756.1 1001.1 L1758.3 1002.7 L1760.5 1003.8 L1762.7 998.7 L1764.9 999.2 L1767.1 998.8 L1769.3 998.7 L1771.5 1002.6 L1773.7 1002.5 L1775.9 997.1 L1778.1 988.8 L1780.3 980.3 L1782.5 972.4 L1784.7 973.0 L1786.9 977.5 L1789.1 974.9 L1791.3 982.5 L1793.5 989.0 L1795.7 992.0 L1797.9 990.9 L1800.1 988.9 L1802.3 979.2 L1804.5 964.6 L1806.7 934.7 L1808.9 927.7 L1811.1 928.0 L1813.3 937.6 L1815.5 943.7 L1817.7 943.5 L1819.9 943.6 L1822.1 942.4 L1824.3 941.6 L1826.5 944.6 L1828.7 949.0 L1830.9 945.5 L1833.1 948.7 L1835.3 944.9 L1837.5 962.1 L1839.7 970.2 L1841.9 972.8 L1844.1 978.2 L1846.3 984.5 L1848.5 985.9 L1850.7 988.3 L1852.9 989.1 L1855.1 989.3 L1857.3 992.7 L1859.5 995.0 L1861.7 997.9 L1863.9 999.1 L1866.1 1000.4 L1868.3 1000.9 L1870.5 999.6 L1872.7 995.9 L1874.9 999.9 L1877.1 998.8 L1879.3 996.0 L1881.5 997.1 L1883.7 999.4 L1885.9 999.3 L1888.1 1001.6 L1890.3 1001.7 L1892.5 1001.7 L1894.7 1002.2 L1896.9 1003.3 L1899.1 1000.9 L1901.3 999.5 L1903.5 997.5 L1905.7 1003.1 L1907.9 1004.2 L1910.1 974.9 L1912.3 970.5 L1914.5 966.7 L1916.7 973.4 L1918.9 961.3 L1921.1 943.3 L1923.3 932.9 L1925.5 922.5 L1927.7 923.0 L1929.9 909.6 L1932.1 865.3 L1934.3 894.2 L1936.5 932.7 L1938.7 941.4 L1940.9 944.2 L1943.1 960.2 L1945.3 986.4 L1947.5 990.0 L1949.7 994.7 L1951.9 1001.6 L1954.1 996.0 L1956.3 989.6 L1958.5 990.1 L1960.7 989.7 L1962.9 992.6 L1965.1 993.9 L1967.3 992.4 L1969.5 994.7 L1971.7 993.2 L1973.9 994.4 L1976.1 991.3 L1978.3 995.6 L1980.5 994.9 L1982.7 990.9 L1984.9 995.0 L1987.1 994.0 L1989.3 993.7 L1991.5 998.1 L1993.7 1000.8 L1995.9 1002.9 L1998.1 1002.9 L2000.3 997.2 L2002.5 1000.3 L2004.7 994.6 L2006.9 996.1 L2009.1 997.3 L2011.3 997.3 L2013.5 997.5 L2015.7 998.1 L2017.9 998.1 L2020.1 1001.2 L2022.3 999.3 L2024.5 1000.6 L2026.7 996.1 L2028.9 994.9 L2031.1 996.7 L2033.3 999.3 L2035.5 996.8 L2037.7 998.4 L2039.9 998.5 L2042.1 993.7 L2044.3 997.6 L2046.5 992.7 L2048.7 993.1 L2050.9 990.7 L2053.1 995.9 L2055.3 990.7 L2057.5 992.2 L2059.7 989.5 L2061.9 989.3 L2064.1 993.4 L2066.3 989.9 L2068.5 988.8 L2070.7 990.4 L2072.9 990.7 L2075.1 993.0 L2077.3 1000.3 L2079.5 1002.9 L2081.7 1001.3 L2083.9 1003.4 L2086.1 998.6 L2088.3 998.0 L2090.5 995.6 L2092.7 986.9 L2094.9 983.0 L2097.1 972.1 L2099.3 974.2 L2101.5 972.4 L2103.7 974.0 L2105.9 978.4 L2108.1 980.3 L2110.3 978.9 L2112.5 983.6 L2114.7 986.1 L2116.9 983.6 L2119.1 985.2 L2121.3 980.8 L2123.5 981.9 L2125.7 980.1 L2127.9 979.0 L2130.1 978.0 L2132.3 979.3 L2134.5 975.5 L2136.7 977.1 L2138.9 974.9 L2141.1 976.2 L2143.3 973.0 L2145.5 971.8 L2147.7 977.6 L2149.9 992.2 L2152.1 989.7 L2154.3 990.5 L2156.5 990.8" stroke="#000" stroke-width="5.0" stroke-linejoin="miter" stroke-miterlimit="3"/><path d="M1232.0 1000.9C1235.8 1001.2 1248.7 1004.8 1255.0 1003.0C1261.3 1001.2 1265.8 995.8 1270.0 990.0C1274.2 984.2 1277.6 973.0 1280.0 968.0C1282.4 963.0 1283.0 958.6 1284.5 959.8C1286.0 961.0 1287.2 970.0 1289.0 975.0C1290.8 980.0 1292.7 988.4 1295.0 990.0C1297.3 991.6 1300.2 983.6 1303.0 984.4C1305.8 985.2 1307.5 990.7 1312.0 995.0C1316.5 999.3 1322.0 1007.8 1330.0 1010.0C1338.0 1012.2 1351.7 1010.5 1360.0 1008.0C1368.3 1005.5 1374.2 996.9 1380.0 994.7C1385.8 992.5 1390.0 993.3 1395.0 995.0C1400.0 996.7 1402.5 1002.8 1410.0 1005.0C1417.5 1007.2 1432.2 1007.7 1440.0 1008.0C1447.8 1008.3 1447.0 1006.3 1457.0 1007.0C1467.0 1007.7 1482.8 1011.2 1500.0 1012.0C1517.2 1012.8 1547.5 1014.8 1560.0 1012.0C1572.5 1009.2 1571.3 1000.3 1575.0 995.0C1578.7 989.7 1579.9 983.5 1582.0 980.0C1584.1 976.5 1585.6 972.9 1587.4 974.2C1589.2 975.5 1590.8 985.3 1593.0 988.0C1595.2 990.7 1598.0 988.6 1600.8 990.6C1603.6 992.6 1603.5 997.4 1610.0 1000.0C1616.5 1002.6 1626.3 1005.2 1640.0 1006.0C1653.7 1006.8 1678.7 1004.3 1692.0 1005.0C1705.3 1005.7 1708.7 1008.8 1720.0 1010.0C1731.3 1011.2 1750.8 1013.7 1760.0 1012.0C1769.2 1010.3 1771.7 1010.3 1775.0 1000.0C1778.3 989.7 1778.0 960.1 1780.0 950.0C1782.0 939.9 1784.5 940.9 1787.0 939.2C1789.5 937.5 1792.5 931.5 1795.0 940.0C1797.5 948.5 1799.5 980.0 1802.0 990.0C1804.5 1000.0 1807.3 1005.0 1810.0 1000.0C1812.7 995.0 1815.5 963.3 1818.0 960.0C1820.5 956.7 1823.2 970.5 1825.0 980.0C1826.8 989.5 1823.2 1011.0 1829.0 1017.0C1834.8 1023.0 1849.8 1019.7 1860.0 1016.0C1870.2 1012.3 1882.5 1001.0 1890.0 995.0C1897.5 989.0 1901.8 982.8 1905.0 980.0C1908.2 977.2 1907.2 976.6 1908.9 978.3C1910.6 980.0 1912.3 984.7 1915.0 990.0C1917.7 995.3 1917.5 1006.3 1925.0 1010.0C1932.5 1013.7 1942.5 1011.7 1960.0 1012.0C1977.5 1012.3 2015.8 1015.7 2030.0 1012.0C2044.2 1008.3 2040.4 996.6 2045.0 990.0C2049.6 983.4 2054.0 972.1 2057.7 972.1C2061.4 972.1 2063.3 984.5 2067.0 990.0C2070.7 995.5 2074.5 1002.5 2080.0 1005.0C2085.5 1007.5 2094.2 1006.7 2100.0 1005.0C2105.8 1003.3 2111.3 1000.5 2115.0 995.0C2118.7 989.5 2120.2 972.1 2122.4 972.1C2124.6 972.1 2125.2 992.3 2128.0 995.0C2130.8 997.7 2134.4 987.7 2138.9 988.5C2143.4 989.3 2152.3 998.1 2155.0 1000.0M1232.0 1004.7C1235.8 1005.0 1248.7 1007.9 1255.0 1006.4C1261.3 1004.9 1265.8 1000.6 1270.0 995.9C1274.2 991.1 1277.6 982.1 1280.0 978.0C1282.4 973.9 1283.0 970.4 1284.5 971.4C1286.0 972.3 1287.2 979.6 1289.0 983.7C1290.8 987.8 1292.7 994.6 1295.0 995.9C1297.3 997.1 1300.2 990.6 1303.0 991.3C1305.8 992.0 1307.5 996.4 1312.0 999.9C1316.5 1003.4 1322.0 1010.3 1330.0 1012.1C1338.0 1013.8 1351.7 1012.5 1360.0 1010.5C1368.3 1008.4 1374.2 1001.4 1380.0 999.7C1385.8 997.9 1390.0 998.5 1395.0 999.9C1400.0 1001.3 1402.5 1006.3 1410.0 1008.0C1417.5 1009.8 1432.2 1010.2 1440.0 1010.5C1447.8 1010.7 1447.0 1009.1 1457.0 1009.6C1467.0 1010.2 1482.8 1013.0 1500.0 1013.7C1517.2 1014.4 1547.5 1016.0 1560.0 1013.7C1572.5 1011.4 1571.3 1004.2 1575.0 999.9C1578.7 995.6 1579.9 990.6 1582.0 987.7C1584.1 984.9 1585.6 982.0 1587.4 983.0C1589.2 984.1 1590.8 992.0 1593.0 994.2C1595.2 996.4 1598.0 994.7 1600.8 996.3C1603.6 998.0 1603.5 1001.9 1610.0 1004.0C1616.5 1006.0 1626.3 1008.2 1640.0 1008.8C1653.7 1009.5 1678.7 1007.5 1692.0 1008.0C1705.3 1008.6 1708.7 1011.1 1720.0 1012.1C1731.3 1013.0 1750.8 1015.1 1760.0 1013.7C1769.2 1012.3 1771.7 1012.3 1775.0 1004.0C1778.3 995.6 1778.0 971.6 1780.0 963.4C1782.0 955.2 1784.5 956.0 1787.0 954.6C1789.5 953.3 1792.5 948.4 1795.0 955.3C1797.5 962.2 1799.5 987.7 1802.0 995.9C1804.5 1004.0 1807.3 1008.0 1810.0 1004.0C1812.7 999.9 1815.5 974.2 1818.0 971.5C1820.5 968.8 1823.2 980.0 1825.0 987.7C1826.8 995.4 1823.2 1012.9 1829.0 1017.8C1834.8 1022.6 1849.8 1019.9 1860.0 1016.9C1870.2 1014.0 1882.5 1004.8 1890.0 999.9C1897.5 995.0 1901.8 990.0 1905.0 987.7C1908.2 985.5 1907.2 985.0 1908.9 986.4C1910.6 987.7 1912.3 991.6 1915.0 995.9C1917.7 1000.1 1917.5 1009.1 1925.0 1012.1C1932.5 1015.1 1942.5 1013.4 1960.0 1013.7C1977.5 1014.0 2015.8 1016.7 2030.0 1013.7C2044.2 1010.7 2040.4 1001.2 2045.0 995.9C2049.6 990.5 2054.0 981.3 2057.7 981.3C2061.4 981.3 2063.3 991.4 2067.0 995.9C2070.7 1000.3 2074.5 1006.0 2080.0 1008.0C2085.5 1010.0 2094.2 1009.4 2100.0 1008.0C2105.8 1006.7 2111.3 1004.4 2115.0 999.9C2118.7 995.5 2120.2 981.3 2122.4 981.3C2124.6 981.3 2125.2 997.7 2128.0 999.9C2130.8 1002.1 2134.4 994.0 2138.9 994.6C2143.4 995.3 2152.3 1002.4 2155.0 1004.0M1232.0 1006.7C1235.8 1006.9 1248.7 1009.4 1255.0 1008.2C1261.3 1006.9 1265.8 1003.0 1270.0 998.9C1274.2 994.7 1277.6 986.8 1280.0 983.2C1282.4 979.6 1283.0 976.5 1284.5 977.3C1286.0 978.2 1287.2 984.6 1289.0 988.2C1290.8 991.8 1292.7 997.8 1295.0 998.9C1297.3 1000.0 1300.2 994.3 1303.0 994.9C1305.8 995.5 1307.5 999.4 1312.0 1002.4C1316.5 1005.5 1322.0 1011.6 1330.0 1013.1C1338.0 1014.7 1351.7 1013.5 1360.0 1011.7C1368.3 1009.9 1374.2 1003.8 1380.0 1002.2C1385.8 1000.7 1390.0 1001.2 1395.0 1002.4C1400.0 1003.7 1402.5 1008.0 1410.0 1009.6C1417.5 1011.1 1432.2 1011.5 1440.0 1011.7C1447.8 1012.0 1447.0 1010.5 1457.0 1011.0C1467.0 1011.5 1482.8 1014.0 1500.0 1014.6C1517.2 1015.2 1547.5 1016.6 1560.0 1014.6C1572.5 1012.6 1571.3 1006.2 1575.0 1002.4C1578.7 998.6 1579.9 994.2 1582.0 991.7C1584.1 989.3 1585.6 986.6 1587.4 987.6C1589.2 988.5 1590.8 995.5 1593.0 997.4C1595.2 999.4 1598.0 997.9 1600.8 999.3C1603.6 1000.7 1603.5 1004.2 1610.0 1006.0C1616.5 1007.8 1626.3 1009.7 1640.0 1010.3C1653.7 1010.9 1678.7 1009.1 1692.0 1009.6C1705.3 1010.1 1708.7 1012.3 1720.0 1013.1C1731.3 1014.0 1750.8 1015.8 1760.0 1014.6C1769.2 1013.4 1771.7 1013.4 1775.0 1006.0C1778.3 998.6 1778.0 977.6 1780.0 970.3C1782.0 963.1 1784.5 963.8 1787.0 962.6C1789.5 961.4 1792.5 957.1 1795.0 963.2C1797.5 969.2 1799.5 991.7 1802.0 998.9C1804.5 1006.0 1807.3 1009.6 1810.0 1006.0C1812.7 1002.4 1815.5 979.8 1818.0 977.5C1820.5 975.1 1823.2 985.0 1825.0 991.7C1826.8 998.5 1823.2 1013.9 1829.0 1018.1C1834.8 1022.4 1849.8 1020.0 1860.0 1017.4C1870.2 1014.8 1882.5 1006.7 1890.0 1002.4C1897.5 998.2 1901.8 993.7 1905.0 991.7C1908.2 989.7 1907.2 989.3 1908.9 990.5C1910.6 991.7 1912.3 995.1 1915.0 998.9C1917.7 1002.6 1917.5 1010.5 1925.0 1013.1C1932.5 1015.8 1942.5 1014.3 1960.0 1014.6C1977.5 1014.8 2015.8 1017.2 2030.0 1014.6C2044.2 1012.0 2040.4 1003.6 2045.0 998.9C2049.6 994.1 2054.0 986.1 2057.7 986.1C2061.4 986.1 2063.3 995.0 2067.0 998.9C2070.7 1002.8 2074.5 1007.8 2080.0 1009.6C2085.5 1011.4 2094.2 1010.8 2100.0 1009.6C2105.8 1008.4 2111.3 1006.4 2115.0 1002.4C2118.7 998.5 2120.2 986.1 2122.4 986.1C2124.6 986.1 2125.2 1000.5 2128.0 1002.4C2130.8 1004.4 2134.4 997.2 2138.9 997.8C2143.4 998.4 2152.3 1004.6 2155.0 1006.0M1232.0 1008.2C1235.8 1008.5 1248.7 1010.7 1255.0 1009.6C1261.3 1008.4 1265.8 1005.0 1270.0 1001.3C1274.2 997.6 1277.6 990.5 1280.0 987.3C1282.4 984.2 1283.0 981.4 1284.5 982.1C1286.0 982.9 1287.2 988.6 1289.0 991.8C1290.8 995.0 1292.7 1000.3 1295.0 1001.3C1297.3 1002.3 1300.2 997.2 1303.0 997.8C1305.8 998.3 1307.5 1001.8 1312.0 1004.5C1316.5 1007.2 1322.0 1012.6 1330.0 1014.0C1338.0 1015.4 1351.7 1014.4 1360.0 1012.7C1368.3 1011.1 1374.2 1005.7 1380.0 1004.3C1385.8 1002.9 1390.0 1003.4 1395.0 1004.5C1400.0 1005.6 1402.5 1009.5 1410.0 1010.8C1417.5 1012.2 1432.2 1012.5 1440.0 1012.7C1447.8 1013.0 1447.0 1011.7 1457.0 1012.1C1467.0 1012.5 1482.8 1014.8 1500.0 1015.3C1517.2 1015.8 1547.5 1017.1 1560.0 1015.3C1572.5 1013.5 1571.3 1007.9 1575.0 1004.5C1578.7 1001.1 1579.9 997.2 1582.0 995.0C1584.1 992.8 1585.6 990.4 1587.4 991.3C1589.2 992.1 1590.8 998.3 1593.0 1000.0C1595.2 1001.8 1598.0 1000.4 1600.8 1001.7C1603.6 1003.0 1603.5 1006.0 1610.0 1007.7C1616.5 1009.3 1626.3 1010.9 1640.0 1011.5C1653.7 1012.0 1678.7 1010.4 1692.0 1010.8C1705.3 1011.3 1708.7 1013.3 1720.0 1014.0C1731.3 1014.8 1750.8 1016.3 1760.0 1015.3C1769.2 1014.2 1771.7 1014.2 1775.0 1007.7C1778.3 1001.1 1778.0 982.4 1780.0 975.9C1782.0 969.5 1784.5 970.1 1787.0 969.1C1789.5 968.0 1792.5 964.2 1795.0 969.6C1797.5 974.9 1799.5 995.0 1802.0 1001.3C1804.5 1007.7 1807.3 1010.8 1810.0 1007.7C1812.7 1004.5 1815.5 984.4 1818.0 982.3C1820.5 980.2 1823.2 988.9 1825.0 995.0C1826.8 1001.0 1823.2 1014.7 1829.0 1018.5C1834.8 1022.3 1849.8 1020.2 1860.0 1017.8C1870.2 1015.5 1882.5 1008.3 1890.0 1004.5C1897.5 1000.7 1901.8 996.7 1905.0 995.0C1908.2 993.2 1907.2 992.8 1908.9 993.9C1910.6 994.9 1912.3 998.0 1915.0 1001.3C1917.7 1004.7 1917.5 1011.7 1925.0 1014.0C1932.5 1016.3 1942.5 1015.1 1960.0 1015.3C1977.5 1015.5 2015.8 1017.6 2030.0 1015.3C2044.2 1013.0 2040.4 1005.5 2045.0 1001.3C2049.6 997.1 2054.0 990.0 2057.7 990.0C2061.4 990.0 2063.3 997.8 2067.0 1001.3C2070.7 1004.8 2074.5 1009.3 2080.0 1010.8C2085.5 1012.4 2094.2 1011.9 2100.0 1010.8C2105.8 1009.8 2111.3 1008.0 2115.0 1004.5C2118.7 1001.0 2120.2 990.0 2122.4 990.0C2124.6 990.0 2125.2 1002.8 2128.0 1004.5C2130.8 1006.2 2134.4 999.8 2138.9 1000.4C2143.4 1000.9 2152.3 1006.4 2155.0 1007.7M1232.0 1009.6C1235.8 1009.8 1248.7 1011.8 1255.0 1010.8C1261.3 1009.8 1265.8 1006.8 1270.0 1003.4C1274.2 1000.1 1277.6 993.8 1280.0 991.0C1282.4 988.1 1283.0 985.7 1284.5 986.4C1286.0 987.0 1287.2 992.1 1289.0 995.0C1290.8 997.8 1292.7 1002.6 1295.0 1003.4C1297.3 1004.3 1300.2 999.8 1303.0 1000.3C1305.8 1000.8 1307.5 1003.9 1312.0 1006.3C1316.5 1008.7 1322.0 1013.5 1330.0 1014.8C1338.0 1016.0 1351.7 1015.1 1360.0 1013.6C1368.3 1012.2 1374.2 1007.3 1380.0 1006.1C1385.8 1004.9 1390.0 1005.3 1395.0 1006.3C1400.0 1007.3 1402.5 1010.7 1410.0 1011.9C1417.5 1013.2 1432.2 1013.5 1440.0 1013.6C1447.8 1013.8 1447.0 1012.7 1457.0 1013.1C1467.0 1013.5 1482.8 1015.4 1500.0 1015.9C1517.2 1016.4 1547.5 1017.5 1560.0 1015.9C1572.5 1014.3 1571.3 1009.3 1575.0 1006.3C1578.7 1003.3 1579.9 999.8 1582.0 997.8C1584.1 995.8 1585.6 993.7 1587.4 994.5C1589.2 995.3 1590.8 1000.8 1593.0 1002.3C1595.2 1003.9 1598.0 1002.7 1600.8 1003.8C1603.6 1004.9 1603.5 1007.7 1610.0 1009.1C1616.5 1010.6 1626.3 1012.0 1640.0 1012.5C1653.7 1013.0 1678.7 1011.6 1692.0 1011.9C1705.3 1012.3 1708.7 1014.1 1720.0 1014.8C1731.3 1015.4 1750.8 1016.8 1760.0 1015.9C1769.2 1015.0 1771.7 1015.0 1775.0 1009.1C1778.3 1003.3 1778.0 986.5 1780.0 980.8C1782.0 975.1 1784.5 975.6 1787.0 974.7C1789.5 973.7 1792.5 970.3 1795.0 975.1C1797.5 979.9 1799.5 997.8 1802.0 1003.4C1804.5 1009.1 1807.3 1011.9 1810.0 1009.1C1812.7 1006.3 1815.5 988.4 1818.0 986.5C1820.5 984.6 1823.2 992.4 1825.0 997.8C1826.8 1003.2 1823.2 1015.3 1829.0 1018.7C1834.8 1022.1 1849.8 1020.2 1860.0 1018.2C1870.2 1016.1 1882.5 1009.7 1890.0 1006.3C1897.5 1002.9 1901.8 999.4 1905.0 997.8C1908.2 996.2 1907.2 995.9 1908.9 996.8C1910.6 997.8 1912.3 1000.5 1915.0 1003.4C1917.7 1006.4 1917.5 1012.7 1925.0 1014.8C1932.5 1016.8 1942.5 1015.7 1960.0 1015.9C1977.5 1016.1 2015.8 1018.0 2030.0 1015.9C2044.2 1013.8 2040.4 1007.2 2045.0 1003.4C2049.6 999.7 2054.0 993.3 2057.7 993.3C2061.4 993.3 2063.3 1000.3 2067.0 1003.4C2070.7 1006.6 2074.5 1010.5 2080.0 1011.9C2085.5 1013.4 2094.2 1012.9 2100.0 1011.9C2105.8 1011.0 2111.3 1009.4 2115.0 1006.3C2118.7 1003.2 2120.2 993.3 2122.4 993.3C2124.6 993.3 2125.2 1004.7 2128.0 1006.3C2130.8 1007.8 2134.4 1002.1 2138.9 1002.6C2143.4 1003.1 2152.3 1008.0 2155.0 1009.1M1232.0 1010.9C1235.8 1011.0 1248.7 1012.8 1255.0 1011.9C1261.3 1011.0 1265.8 1008.3 1270.0 1005.4C1274.2 1002.4 1277.6 996.8 1280.0 994.3C1282.4 991.8 1283.0 989.6 1284.5 990.2C1286.0 990.7 1287.2 995.3 1289.0 997.8C1290.8 1000.4 1292.7 1004.6 1295.0 1005.4C1297.3 1006.2 1300.2 1002.1 1303.0 1002.6C1305.8 1003.0 1307.5 1005.7 1312.0 1007.9C1316.5 1010.0 1322.0 1014.4 1330.0 1015.5C1338.0 1016.5 1351.7 1015.7 1360.0 1014.4C1368.3 1013.2 1374.2 1008.8 1380.0 1007.7C1385.8 1006.7 1390.0 1007.0 1395.0 1007.9C1400.0 1008.8 1402.5 1011.8 1410.0 1012.9C1417.5 1014.0 1432.2 1014.3 1440.0 1014.4C1447.8 1014.6 1447.0 1013.6 1457.0 1013.9C1467.0 1014.3 1482.8 1016.0 1500.0 1016.5C1517.2 1016.9 1547.5 1017.9 1560.0 1016.5C1572.5 1015.0 1571.3 1010.6 1575.0 1007.9C1578.7 1005.2 1579.9 1002.1 1582.0 1000.3C1584.1 998.6 1585.6 996.7 1587.4 997.4C1589.2 998.1 1590.8 1003.0 1593.0 1004.4C1595.2 1005.7 1598.0 1004.7 1600.8 1005.7C1603.6 1006.7 1603.5 1009.1 1610.0 1010.4C1616.5 1011.7 1626.3 1013.0 1640.0 1013.4C1653.7 1013.9 1678.7 1012.6 1692.0 1012.9C1705.3 1013.3 1708.7 1014.9 1720.0 1015.5C1731.3 1016.0 1750.8 1017.3 1760.0 1016.5C1769.2 1015.6 1771.7 1015.6 1775.0 1010.4C1778.3 1005.2 1778.0 990.3 1780.0 985.2C1782.0 980.1 1784.5 980.6 1787.0 979.8C1789.5 978.9 1792.5 975.9 1795.0 980.2C1797.5 984.4 1799.5 1000.3 1802.0 1005.4C1804.5 1010.4 1807.3 1012.9 1810.0 1010.4C1812.7 1007.9 1815.5 991.9 1818.0 990.3C1820.5 988.6 1823.2 995.5 1825.0 1000.3C1826.8 1005.1 1823.2 1016.0 1829.0 1019.0C1834.8 1022.0 1849.8 1020.3 1860.0 1018.5C1870.2 1016.6 1882.5 1010.9 1890.0 1007.9C1897.5 1004.9 1901.8 1001.7 1905.0 1000.3C1908.2 998.9 1907.2 998.6 1908.9 999.5C1910.6 1000.3 1912.3 1002.7 1915.0 1005.4C1917.7 1008.0 1917.5 1013.6 1925.0 1015.5C1932.5 1017.3 1942.5 1016.3 1960.0 1016.5C1977.5 1016.6 2015.8 1018.3 2030.0 1016.5C2044.2 1014.6 2040.4 1008.7 2045.0 1005.4C2049.6 1002.0 2054.0 996.4 2057.7 996.4C2061.4 996.4 2063.3 1002.6 2067.0 1005.4C2070.7 1008.1 2074.5 1011.7 2080.0 1012.9C2085.5 1014.2 2094.2 1013.8 2100.0 1012.9C2105.8 1012.1 2111.3 1010.7 2115.0 1007.9C2118.7 1005.1 2120.2 996.4 2122.4 996.4C2124.6 996.4 2125.2 1006.5 2128.0 1007.9C2130.8 1009.3 2134.4 1004.2 2138.9 1004.6C2143.4 1005.0 2152.3 1009.5 2155.0 1010.4M1232.0 1012.0C1235.8 1012.2 1248.7 1013.8 1255.0 1013.0C1261.3 1012.1 1265.8 1009.8 1270.0 1007.2C1274.2 1004.5 1277.6 999.6 1280.0 997.3C1282.4 995.1 1283.0 993.1 1284.5 993.7C1286.0 994.2 1287.2 998.2 1289.0 1000.5C1290.8 1002.7 1292.7 1006.5 1295.0 1007.2C1297.3 1007.9 1300.2 1004.3 1303.0 1004.7C1305.8 1005.0 1307.5 1007.5 1312.0 1009.4C1316.5 1011.3 1322.0 1015.1 1330.0 1016.1C1338.0 1017.1 1351.7 1016.3 1360.0 1015.2C1368.3 1014.1 1374.2 1010.2 1380.0 1009.3C1385.8 1008.3 1390.0 1008.6 1395.0 1009.4C1400.0 1010.2 1402.5 1012.9 1410.0 1013.9C1417.5 1014.8 1432.2 1015.0 1440.0 1015.2C1447.8 1015.3 1447.0 1014.4 1457.0 1014.7C1467.0 1015.0 1482.8 1016.6 1500.0 1017.0C1517.2 1017.4 1547.5 1018.2 1560.0 1017.0C1572.5 1015.7 1571.3 1011.8 1575.0 1009.4C1578.7 1007.0 1579.9 1004.2 1582.0 1002.7C1584.1 1001.1 1585.6 999.5 1587.4 1000.1C1589.2 1000.7 1590.8 1005.0 1593.0 1006.3C1595.2 1007.5 1598.0 1006.5 1600.8 1007.4C1603.6 1008.3 1603.5 1010.5 1610.0 1011.6C1616.5 1012.8 1626.3 1013.9 1640.0 1014.3C1653.7 1014.7 1678.7 1013.6 1692.0 1013.9C1705.3 1014.2 1708.7 1015.6 1720.0 1016.1C1731.3 1016.6 1750.8 1017.7 1760.0 1017.0C1769.2 1016.2 1771.7 1016.2 1775.0 1011.6C1778.3 1007.0 1778.0 993.8 1780.0 989.3C1782.0 984.8 1784.5 985.2 1787.0 984.5C1789.5 983.7 1792.5 981.0 1795.0 984.8C1797.5 988.6 1799.5 1002.7 1802.0 1007.2C1804.5 1011.6 1807.3 1013.9 1810.0 1011.6C1812.7 1009.4 1815.5 995.2 1818.0 993.8C1820.5 992.3 1823.2 998.4 1825.0 1002.7C1826.8 1006.9 1823.2 1016.5 1829.0 1019.2C1834.8 1021.9 1849.8 1020.4 1860.0 1018.8C1870.2 1017.1 1882.5 1012.1 1890.0 1009.4C1897.5 1006.7 1901.8 1003.9 1905.0 1002.7C1908.2 1001.4 1907.2 1001.2 1908.9 1001.9C1910.6 1002.7 1912.3 1004.8 1915.0 1007.2C1917.7 1009.5 1917.5 1014.4 1925.0 1016.1C1932.5 1017.7 1942.5 1016.8 1960.0 1017.0C1977.5 1017.1 2015.8 1018.6 2030.0 1017.0C2044.2 1015.3 2040.4 1010.1 2045.0 1007.2C2049.6 1004.2 2054.0 999.2 2057.7 999.2C2061.4 999.2 2063.3 1004.7 2067.0 1007.2C2070.7 1009.6 2074.5 1012.7 2080.0 1013.9C2085.5 1015.0 2094.2 1014.6 2100.0 1013.9C2105.8 1013.1 2111.3 1011.8 2115.0 1009.4C2118.7 1006.9 2120.2 999.2 2122.4 999.2C2124.6 999.2 2125.2 1008.2 2128.0 1009.4C2130.8 1010.6 2134.4 1006.1 2138.9 1006.5C2143.4 1006.9 2152.3 1010.8 2155.0 1011.6M1232.0 1013.1C1235.8 1013.2 1248.7 1014.6 1255.0 1013.9C1261.3 1013.2 1265.8 1011.1 1270.0 1008.8C1274.2 1006.5 1277.6 1002.1 1280.0 1000.2C1282.4 998.2 1283.0 996.5 1284.5 996.9C1286.0 997.4 1287.2 1000.9 1289.0 1002.9C1290.8 1004.9 1292.7 1008.2 1295.0 1008.8C1297.3 1009.4 1300.2 1006.3 1303.0 1006.6C1305.8 1006.9 1307.5 1009.1 1312.0 1010.8C1316.5 1012.5 1322.0 1015.8 1330.0 1016.7C1338.0 1017.5 1351.7 1016.9 1360.0 1015.9C1368.3 1014.9 1374.2 1011.5 1380.0 1010.7C1385.8 1009.8 1390.0 1010.1 1395.0 1010.8C1400.0 1011.5 1402.5 1013.9 1410.0 1014.7C1417.5 1015.6 1432.2 1015.8 1440.0 1015.9C1447.8 1016.0 1447.0 1015.2 1457.0 1015.5C1467.0 1015.8 1482.8 1017.1 1500.0 1017.5C1517.2 1017.8 1547.5 1018.6 1560.0 1017.5C1572.5 1016.3 1571.3 1012.9 1575.0 1010.8C1578.7 1008.7 1579.9 1006.2 1582.0 1004.9C1584.1 1003.5 1585.6 1002.1 1587.4 1002.6C1589.2 1003.1 1590.8 1007.0 1593.0 1008.0C1595.2 1009.1 1598.0 1008.3 1600.8 1009.1C1603.6 1009.8 1603.5 1011.7 1610.0 1012.7C1616.5 1013.8 1626.3 1014.8 1640.0 1015.1C1653.7 1015.4 1678.7 1014.4 1692.0 1014.7C1705.3 1015.0 1708.7 1016.2 1720.0 1016.7C1731.3 1017.1 1750.8 1018.1 1760.0 1017.5C1769.2 1016.8 1771.7 1016.8 1775.0 1012.7C1778.3 1008.7 1778.0 997.1 1780.0 993.1C1782.0 989.1 1784.5 989.5 1787.0 988.9C1789.5 988.2 1792.5 985.8 1795.0 989.2C1797.5 992.5 1799.5 1004.9 1802.0 1008.8C1804.5 1012.7 1807.3 1014.7 1810.0 1012.7C1812.7 1010.8 1815.5 998.3 1818.0 997.0C1820.5 995.7 1823.2 1001.2 1825.0 1004.9C1826.8 1008.6 1823.2 1017.1 1829.0 1019.4C1834.8 1021.8 1849.8 1020.5 1860.0 1019.0C1870.2 1017.6 1882.5 1013.1 1890.0 1010.8C1897.5 1008.4 1901.8 1006.0 1905.0 1004.9C1908.2 1003.8 1907.2 1003.6 1908.9 1004.2C1910.6 1004.9 1912.3 1006.7 1915.0 1008.8C1917.7 1010.9 1917.5 1015.2 1925.0 1016.7C1932.5 1018.1 1942.5 1017.3 1960.0 1017.5C1977.5 1017.6 2015.8 1018.9 2030.0 1017.5C2044.2 1016.0 2040.4 1011.4 2045.0 1008.8C2049.6 1006.2 2054.0 1001.8 2057.7 1001.8C2061.4 1001.8 2063.3 1006.7 2067.0 1008.8C2070.7 1011.0 2074.5 1013.7 2080.0 1014.7C2085.5 1015.7 2094.2 1015.4 2100.0 1014.7C2105.8 1014.1 2111.3 1012.9 2115.0 1010.8C2118.7 1008.6 2120.2 1001.8 2122.4 1001.8C2124.6 1001.8 2125.2 1009.7 2128.0 1010.8C2130.8 1011.9 2134.4 1007.9 2138.9 1008.2C2143.4 1008.6 2152.3 1012.0 2155.0 1012.7M1232.0 1014.1C1235.8 1014.2 1248.7 1015.5 1255.0 1014.8C1261.3 1014.2 1265.8 1012.4 1270.0 1010.4C1274.2 1008.4 1277.6 1004.6 1280.0 1002.9C1282.4 1001.1 1283.0 999.6 1284.5 1000.0C1286.0 1000.4 1287.2 1003.5 1289.0 1005.3C1290.8 1007.0 1292.7 1009.8 1295.0 1010.4C1297.3 1010.9 1300.2 1008.2 1303.0 1008.5C1305.8 1008.8 1307.5 1010.6 1312.0 1012.1C1316.5 1013.6 1322.0 1016.5 1330.0 1017.2C1338.0 1018.0 1351.7 1017.4 1360.0 1016.5C1368.3 1015.7 1374.2 1012.7 1380.0 1012.0C1385.8 1011.3 1390.0 1011.5 1395.0 1012.1C1400.0 1012.7 1402.5 1014.8 1410.0 1015.5C1417.5 1016.3 1432.2 1016.4 1440.0 1016.5C1447.8 1016.7 1447.0 1016.0 1457.0 1016.2C1467.0 1016.4 1482.8 1017.6 1500.0 1017.9C1517.2 1018.2 1547.5 1018.9 1560.0 1017.9C1572.5 1016.9 1571.3 1013.9 1575.0 1012.1C1578.7 1010.3 1579.9 1008.1 1582.0 1007.0C1584.1 1005.8 1585.6 1004.5 1587.4 1005.0C1589.2 1005.4 1590.8 1008.8 1593.0 1009.7C1595.2 1010.6 1598.0 1009.9 1600.8 1010.6C1603.6 1011.3 1603.5 1012.9 1610.0 1013.8C1616.5 1014.7 1626.3 1015.6 1640.0 1015.9C1653.7 1016.1 1678.7 1015.3 1692.0 1015.5C1705.3 1015.8 1708.7 1016.8 1720.0 1017.2C1731.3 1017.6 1750.8 1018.5 1760.0 1017.9C1769.2 1017.3 1771.7 1017.3 1775.0 1013.8C1778.3 1010.3 1778.0 1000.2 1780.0 996.7C1782.0 993.2 1784.5 993.6 1787.0 993.0C1789.5 992.4 1792.5 990.4 1795.0 993.3C1797.5 996.2 1799.5 1007.0 1802.0 1010.4C1804.5 1013.8 1807.3 1015.5 1810.0 1013.8C1812.7 1012.1 1815.5 1001.3 1818.0 1000.1C1820.5 999.0 1823.2 1003.7 1825.0 1007.0C1826.8 1010.2 1823.2 1017.6 1829.0 1019.6C1834.8 1021.7 1849.8 1020.5 1860.0 1019.3C1870.2 1018.0 1882.5 1014.2 1890.0 1012.1C1897.5 1010.0 1901.8 1007.9 1905.0 1007.0C1908.2 1006.0 1907.2 1005.8 1908.9 1006.4C1910.6 1007.0 1912.3 1008.6 1915.0 1010.4C1917.7 1012.2 1917.5 1016.0 1925.0 1017.2C1932.5 1018.5 1942.5 1017.8 1960.0 1017.9C1977.5 1018.0 2015.8 1019.2 2030.0 1017.9C2044.2 1016.7 2040.4 1012.7 2045.0 1010.4C2049.6 1008.1 2054.0 1004.3 2057.7 1004.3C2061.4 1004.3 2063.3 1008.5 2067.0 1010.4C2070.7 1012.3 2074.5 1014.7 2080.0 1015.5C2085.5 1016.4 2094.2 1016.1 2100.0 1015.5C2105.8 1015.0 2111.3 1014.0 2115.0 1012.1C2118.7 1010.2 2120.2 1004.3 2122.4 1004.3C2124.6 1004.3 2125.2 1011.2 2128.0 1012.1C2130.8 1013.0 2134.4 1009.6 2138.9 1009.9C2143.4 1010.2 2152.3 1013.2 2155.0 1013.8M1232.0 1015.1C1235.8 1015.2 1248.7 1016.2 1255.0 1015.7C1261.3 1015.2 1265.8 1013.6 1270.0 1011.9C1274.2 1010.2 1277.6 1006.9 1280.0 1005.4C1282.4 1003.9 1283.0 1002.6 1284.5 1003.0C1286.0 1003.3 1287.2 1006.0 1289.0 1007.5C1290.8 1008.9 1292.7 1011.4 1295.0 1011.9C1297.3 1012.3 1300.2 1010.0 1303.0 1010.2C1305.8 1010.5 1307.5 1012.1 1312.0 1013.3C1316.5 1014.6 1322.0 1017.1 1330.0 1017.8C1338.0 1018.4 1351.7 1017.9 1360.0 1017.2C1368.3 1016.4 1374.2 1013.9 1380.0 1013.3C1385.8 1012.6 1390.0 1012.8 1395.0 1013.3C1400.0 1013.9 1402.5 1015.7 1410.0 1016.3C1417.5 1016.9 1432.2 1017.1 1440.0 1017.2C1447.8 1017.3 1447.0 1016.7 1457.0 1016.9C1467.0 1017.1 1482.8 1018.1 1500.0 1018.4C1517.2 1018.6 1547.5 1019.2 1560.0 1018.4C1572.5 1017.5 1571.3 1014.9 1575.0 1013.3C1578.7 1011.8 1579.9 1010.0 1582.0 1008.9C1584.1 1007.9 1585.6 1006.8 1587.4 1007.2C1589.2 1007.6 1590.8 1010.5 1593.0 1011.3C1595.2 1012.1 1598.0 1011.5 1600.8 1012.1C1603.6 1012.6 1603.5 1014.1 1610.0 1014.8C1616.5 1015.6 1626.3 1016.3 1640.0 1016.6C1653.7 1016.8 1678.7 1016.1 1692.0 1016.3C1705.3 1016.5 1708.7 1017.4 1720.0 1017.8C1731.3 1018.1 1750.8 1018.8 1760.0 1018.4C1769.2 1017.9 1771.7 1017.9 1775.0 1014.8C1778.3 1011.8 1778.0 1003.1 1780.0 1000.1C1782.0 997.1 1784.5 997.4 1787.0 996.9C1789.5 996.4 1792.5 994.7 1795.0 997.2C1797.5 999.7 1799.5 1008.9 1802.0 1011.9C1804.5 1014.8 1807.3 1016.3 1810.0 1014.8C1812.7 1013.3 1815.5 1004.0 1818.0 1003.1C1820.5 1002.1 1823.2 1006.1 1825.0 1008.9C1826.8 1011.7 1823.2 1018.1 1829.0 1019.8C1834.8 1021.6 1849.8 1020.6 1860.0 1019.5C1870.2 1018.4 1882.5 1015.1 1890.0 1013.3C1897.5 1011.6 1901.8 1009.8 1905.0 1008.9C1908.2 1008.1 1907.2 1007.9 1908.9 1008.4C1910.6 1008.9 1912.3 1010.3 1915.0 1011.9C1917.7 1013.4 1917.5 1016.7 1925.0 1017.8C1932.5 1018.8 1942.5 1018.3 1960.0 1018.4C1977.5 1018.4 2015.8 1019.4 2030.0 1018.4C2044.2 1017.3 2040.4 1013.8 2045.0 1011.9C2049.6 1009.9 2054.0 1006.6 2057.7 1006.6C2061.4 1006.6 2063.3 1010.3 2067.0 1011.9C2070.7 1013.5 2074.5 1015.6 2080.0 1016.3C2085.5 1017.0 2094.2 1016.8 2100.0 1016.3C2105.8 1015.8 2111.3 1015.0 2115.0 1013.3C2118.7 1011.7 2120.2 1006.6 2122.4 1006.6C2124.6 1006.6 2125.2 1012.5 2128.0 1013.3C2130.8 1014.2 2134.4 1011.2 2138.9 1011.4C2143.4 1011.7 2152.3 1014.3 2155.0 1014.8M1232.0 1016.0C1235.8 1016.1 1248.7 1017.0 1255.0 1016.5C1261.3 1016.1 1265.8 1014.8 1270.0 1013.3C1274.2 1011.9 1277.6 1009.1 1280.0 1007.8C1282.4 1006.6 1283.0 1005.5 1284.5 1005.8C1286.0 1006.1 1287.2 1008.3 1289.0 1009.6C1290.8 1010.8 1292.7 1012.9 1295.0 1013.3C1297.3 1013.7 1300.2 1011.7 1303.0 1011.9C1305.8 1012.1 1307.5 1013.5 1312.0 1014.5C1316.5 1015.6 1322.0 1017.7 1330.0 1018.3C1338.0 1018.8 1351.7 1018.4 1360.0 1017.8C1368.3 1017.1 1374.2 1015.0 1380.0 1014.5C1385.8 1013.9 1390.0 1014.1 1395.0 1014.5C1400.0 1015.0 1402.5 1016.5 1410.0 1017.0C1417.5 1017.6 1432.2 1017.7 1440.0 1017.8C1447.8 1017.9 1447.0 1017.4 1457.0 1017.5C1467.0 1017.7 1482.8 1018.6 1500.0 1018.8C1517.2 1019.0 1547.5 1019.5 1560.0 1018.8C1572.5 1018.1 1571.3 1015.9 1575.0 1014.5C1578.7 1013.2 1579.9 1011.7 1582.0 1010.8C1584.1 1010.0 1585.6 1009.1 1587.4 1009.4C1589.2 1009.7 1590.8 1012.1 1593.0 1012.8C1595.2 1013.5 1598.0 1013.0 1600.8 1013.5C1603.6 1014.0 1603.5 1015.2 1610.0 1015.8C1616.5 1016.4 1626.3 1017.1 1640.0 1017.3C1653.7 1017.5 1678.7 1016.9 1692.0 1017.0C1705.3 1017.2 1708.7 1018.0 1720.0 1018.3C1731.3 1018.6 1750.8 1019.2 1760.0 1018.8C1769.2 1018.4 1771.7 1018.4 1775.0 1015.8C1778.3 1013.2 1778.0 1005.9 1780.0 1003.4C1782.0 1000.9 1784.5 1001.1 1787.0 1000.7C1789.5 1000.3 1792.5 998.8 1795.0 1000.9C1797.5 1003.0 1799.5 1010.8 1802.0 1013.3C1804.5 1015.8 1807.3 1017.0 1810.0 1015.8C1812.7 1014.5 1815.5 1006.7 1818.0 1005.9C1820.5 1005.0 1823.2 1008.5 1825.0 1010.8C1826.8 1013.2 1823.2 1018.5 1829.0 1020.0C1834.8 1021.5 1849.8 1020.7 1860.0 1019.8C1870.2 1018.8 1882.5 1016.0 1890.0 1014.5C1897.5 1013.1 1901.8 1011.5 1905.0 1010.8C1908.2 1010.1 1907.2 1010.0 1908.9 1010.4C1910.6 1010.8 1912.3 1012.0 1915.0 1013.3C1917.7 1014.6 1917.5 1017.4 1925.0 1018.3C1932.5 1019.2 1942.5 1018.7 1960.0 1018.8C1977.5 1018.8 2015.8 1019.7 2030.0 1018.8C2044.2 1017.9 2040.4 1015.0 2045.0 1013.3C2049.6 1011.7 2054.0 1008.9 2057.7 1008.9C2061.4 1008.9 2063.3 1011.9 2067.0 1013.3C2070.7 1014.7 2074.5 1016.4 2080.0 1017.0C2085.5 1017.6 2094.2 1017.4 2100.0 1017.0C2105.8 1016.6 2111.3 1015.9 2115.0 1014.5C2118.7 1013.2 2120.2 1008.9 2122.4 1008.9C2124.6 1008.9 2125.2 1013.9 2128.0 1014.5C2130.8 1015.2 2134.4 1012.7 2138.9 1012.9C2143.4 1013.1 2152.3 1015.3 2155.0 1015.8M1232.0 1016.9C1235.8 1017.0 1248.7 1017.7 1255.0 1017.3C1261.3 1017.0 1265.8 1015.9 1270.0 1014.7C1274.2 1013.5 1277.6 1011.2 1280.0 1010.2C1282.4 1009.2 1283.0 1008.3 1284.5 1008.5C1286.0 1008.8 1287.2 1010.6 1289.0 1011.6C1290.8 1012.6 1292.7 1014.4 1295.0 1014.7C1297.3 1015.0 1300.2 1013.4 1303.0 1013.5C1305.8 1013.7 1307.5 1014.8 1312.0 1015.7C1316.5 1016.6 1322.0 1018.3 1330.0 1018.8C1338.0 1019.2 1351.7 1018.9 1360.0 1018.3C1368.3 1017.8 1374.2 1016.1 1380.0 1015.6C1385.8 1015.2 1390.0 1015.3 1395.0 1015.7C1400.0 1016.0 1402.5 1017.3 1410.0 1017.7C1417.5 1018.2 1432.2 1018.3 1440.0 1018.3C1447.8 1018.4 1447.0 1018.0 1457.0 1018.1C1467.0 1018.3 1482.8 1019.0 1500.0 1019.2C1517.2 1019.3 1547.5 1019.7 1560.0 1019.2C1572.5 1018.6 1571.3 1016.8 1575.0 1015.7C1578.7 1014.6 1579.9 1013.3 1582.0 1012.6C1584.1 1011.9 1585.6 1011.2 1587.4 1011.5C1589.2 1011.7 1590.8 1013.7 1593.0 1014.3C1595.2 1014.8 1598.0 1014.4 1600.8 1014.8C1603.6 1015.2 1603.5 1016.2 1610.0 1016.7C1616.5 1017.2 1626.3 1017.8 1640.0 1017.9C1653.7 1018.1 1678.7 1017.6 1692.0 1017.7C1705.3 1017.9 1708.7 1018.5 1720.0 1018.8C1731.3 1019.0 1750.8 1019.5 1760.0 1019.2C1769.2 1018.8 1771.7 1018.8 1775.0 1016.7C1778.3 1014.6 1778.0 1008.6 1780.0 1006.5C1782.0 1004.5 1784.5 1004.7 1787.0 1004.3C1789.5 1004.0 1792.5 1002.8 1795.0 1004.5C1797.5 1006.2 1799.5 1012.6 1802.0 1014.7C1804.5 1016.7 1807.3 1017.7 1810.0 1016.7C1812.7 1015.7 1815.5 1009.2 1818.0 1008.6C1820.5 1007.9 1823.2 1010.7 1825.0 1012.6C1826.8 1014.6 1823.2 1019.0 1829.0 1020.2C1834.8 1021.4 1849.8 1020.7 1860.0 1020.0C1870.2 1019.2 1882.5 1016.9 1890.0 1015.7C1897.5 1014.5 1901.8 1013.2 1905.0 1012.6C1908.2 1012.1 1907.2 1012.0 1908.9 1012.3C1910.6 1012.6 1912.3 1013.6 1915.0 1014.7C1917.7 1015.8 1917.5 1018.0 1925.0 1018.8C1932.5 1019.5 1942.5 1019.1 1960.0 1019.2C1977.5 1019.2 2015.8 1019.9 2030.0 1019.2C2044.2 1018.4 2040.4 1016.0 2045.0 1014.7C2049.6 1013.3 2054.0 1011.0 2057.7 1011.0C2061.4 1011.0 2063.3 1013.6 2067.0 1014.7C2070.7 1015.8 2074.5 1017.2 2080.0 1017.7C2085.5 1018.2 2094.2 1018.1 2100.0 1017.7C2105.8 1017.4 2111.3 1016.8 2115.0 1015.7C2118.7 1014.6 2120.2 1011.0 2122.4 1011.0C2124.6 1011.0 2125.2 1015.1 2128.0 1015.7C2130.8 1016.3 2134.4 1014.2 2138.9 1014.4C2143.4 1014.5 2152.3 1016.3 2155.0 1016.7M1232.0 1017.8C1235.8 1017.8 1248.7 1018.4 1255.0 1018.1C1261.3 1017.8 1265.8 1016.9 1270.0 1016.0C1274.2 1015.1 1277.6 1013.3 1280.0 1012.5C1282.4 1011.6 1283.0 1010.9 1284.5 1011.1C1286.0 1011.3 1287.2 1012.8 1289.0 1013.6C1290.8 1014.4 1292.7 1015.7 1295.0 1016.0C1297.3 1016.3 1300.2 1015.0 1303.0 1015.1C1305.8 1015.2 1307.5 1016.1 1312.0 1016.8C1316.5 1017.5 1322.0 1018.9 1330.0 1019.2C1338.0 1019.6 1351.7 1019.3 1360.0 1018.9C1368.3 1018.5 1374.2 1017.1 1380.0 1016.8C1385.8 1016.4 1390.0 1016.5 1395.0 1016.8C1400.0 1017.1 1402.5 1018.1 1410.0 1018.4C1417.5 1018.8 1432.2 1018.8 1440.0 1018.9C1447.8 1019.0 1447.0 1018.6 1457.0 1018.7C1467.0 1018.8 1482.8 1019.4 1500.0 1019.5C1517.2 1019.7 1547.5 1020.0 1560.0 1019.5C1572.5 1019.1 1571.3 1017.7 1575.0 1016.8C1578.7 1015.9 1579.9 1014.9 1582.0 1014.4C1584.1 1013.8 1585.6 1013.2 1587.4 1013.5C1589.2 1013.7 1590.8 1015.2 1593.0 1015.7C1595.2 1016.1 1598.0 1015.8 1600.8 1016.1C1603.6 1016.4 1603.5 1017.2 1610.0 1017.6C1616.5 1018.0 1626.3 1018.4 1640.0 1018.6C1653.7 1018.7 1678.7 1018.3 1692.0 1018.4C1705.3 1018.5 1708.7 1019.0 1720.0 1019.2C1731.3 1019.4 1750.8 1019.8 1760.0 1019.5C1769.2 1019.3 1771.7 1019.3 1775.0 1017.6C1778.3 1015.9 1778.0 1011.2 1780.0 1009.6C1782.0 1007.9 1784.5 1008.1 1787.0 1007.8C1789.5 1007.5 1792.5 1006.6 1795.0 1007.9C1797.5 1009.3 1799.5 1014.4 1802.0 1016.0C1804.5 1017.6 1807.3 1018.4 1810.0 1017.6C1812.7 1016.8 1815.5 1011.7 1818.0 1011.2C1820.5 1010.6 1823.2 1012.9 1825.0 1014.4C1826.8 1015.9 1823.2 1019.4 1829.0 1020.4C1834.8 1021.3 1849.8 1020.8 1860.0 1020.2C1870.2 1019.6 1882.5 1017.8 1890.0 1016.8C1897.5 1015.8 1901.8 1014.8 1905.0 1014.4C1908.2 1013.9 1907.2 1013.8 1908.9 1014.1C1910.6 1014.4 1912.3 1015.1 1915.0 1016.0C1917.7 1016.9 1917.5 1018.6 1925.0 1019.2C1932.5 1019.8 1942.5 1019.5 1960.0 1019.5C1977.5 1019.6 2015.8 1020.1 2030.0 1019.5C2044.2 1019.0 2040.4 1017.1 2045.0 1016.0C2049.6 1014.9 2054.0 1013.1 2057.7 1013.1C2061.4 1013.1 2063.3 1015.1 2067.0 1016.0C2070.7 1016.9 2074.5 1018.0 2080.0 1018.4C2085.5 1018.8 2094.2 1018.7 2100.0 1018.4C2105.8 1018.2 2111.3 1017.7 2115.0 1016.8C2118.7 1015.9 2120.2 1013.1 2122.4 1013.1C2124.6 1013.1 2125.2 1016.4 2128.0 1016.8C2130.8 1017.2 2134.4 1015.6 2138.9 1015.8C2143.4 1015.9 2152.3 1017.3 2155.0 1017.6M1232.0 1018.6C1235.8 1018.6 1248.7 1019.1 1255.0 1018.8C1261.3 1018.6 1265.8 1018.0 1270.0 1017.3C1274.2 1016.6 1277.6 1015.2 1280.0 1014.6C1282.4 1014.0 1283.0 1013.5 1284.5 1013.7C1286.0 1013.8 1287.2 1014.9 1289.0 1015.5C1290.8 1016.1 1292.7 1017.1 1295.0 1017.3C1297.3 1017.5 1300.2 1016.5 1303.0 1016.6C1305.8 1016.7 1307.5 1017.4 1312.0 1017.9C1316.5 1018.4 1322.0 1019.4 1330.0 1019.7C1338.0 1019.9 1351.7 1019.7 1360.0 1019.4C1368.3 1019.1 1374.2 1018.1 1380.0 1017.8C1385.8 1017.6 1390.0 1017.7 1395.0 1017.9C1400.0 1018.1 1402.5 1018.8 1410.0 1019.1C1417.5 1019.3 1432.2 1019.4 1440.0 1019.4C1447.8 1019.5 1447.0 1019.2 1457.0 1019.3C1467.0 1019.4 1482.8 1019.8 1500.0 1019.9C1517.2 1020.0 1547.5 1020.3 1560.0 1019.9C1572.5 1019.6 1571.3 1018.5 1575.0 1017.9C1578.7 1017.2 1579.9 1016.5 1582.0 1016.1C1584.1 1015.7 1585.6 1015.2 1587.4 1015.4C1589.2 1015.5 1590.8 1016.7 1593.0 1017.0C1595.2 1017.4 1598.0 1017.1 1600.8 1017.4C1603.6 1017.6 1603.5 1018.2 1610.0 1018.5C1616.5 1018.8 1626.3 1019.1 1640.0 1019.2C1653.7 1019.3 1678.7 1019.0 1692.0 1019.1C1705.3 1019.2 1708.7 1019.5 1720.0 1019.7C1731.3 1019.8 1750.8 1020.1 1760.0 1019.9C1769.2 1019.7 1771.7 1019.7 1775.0 1018.5C1778.3 1017.2 1778.0 1013.7 1780.0 1012.5C1782.0 1011.3 1784.5 1011.4 1787.0 1011.2C1789.5 1011.0 1792.5 1010.3 1795.0 1011.3C1797.5 1012.3 1799.5 1016.1 1802.0 1017.3C1804.5 1018.5 1807.3 1019.1 1810.0 1018.5C1812.7 1017.9 1815.5 1014.1 1818.0 1013.7C1820.5 1013.3 1823.2 1014.9 1825.0 1016.1C1826.8 1017.2 1823.2 1019.8 1829.0 1020.5C1834.8 1021.2 1849.8 1020.8 1860.0 1020.4C1870.2 1020.0 1882.5 1018.6 1890.0 1017.9C1897.5 1017.2 1901.8 1016.4 1905.0 1016.1C1908.2 1015.7 1907.2 1015.7 1908.9 1015.9C1910.6 1016.1 1912.3 1016.6 1915.0 1017.3C1917.7 1017.9 1917.5 1019.2 1925.0 1019.7C1932.5 1020.1 1942.5 1019.9 1960.0 1019.9C1977.5 1020.0 2015.8 1020.4 2030.0 1019.9C2044.2 1019.5 2040.4 1018.1 2045.0 1017.3C2049.6 1016.5 2054.0 1015.1 2057.7 1015.1C2061.4 1015.1 2063.3 1016.6 2067.0 1017.3C2070.7 1017.9 2074.5 1018.8 2080.0 1019.1C2085.5 1019.4 2094.2 1019.3 2100.0 1019.1C2105.8 1018.9 2111.3 1018.5 2115.0 1017.9C2118.7 1017.2 2120.2 1015.1 2122.4 1015.1C2124.6 1015.1 2125.2 1017.6 2128.0 1017.9C2130.8 1018.2 2134.4 1017.0 2138.9 1017.1C2143.4 1017.2 2152.3 1018.2 2155.0 1018.5" stroke="#0000ff" stroke-width="2.0"/><path d="M1232.1 1011.1C1234.0 1011.1 1239.8 1012.1 1243.4 1011.1C1247.0 1010.1 1250.3 1006.7 1253.7 1005.0C1257.1 1003.3 1260.9 1002.3 1264.0 1000.9C1267.1 999.5 1270.0 996.4 1272.2 996.7C1274.4 997.0 1275.8 999.5 1277.3 1002.9C1278.8 1006.3 1279.9 1015.9 1281.4 1017.3C1283.0 1018.7 1284.7 1013.8 1286.6 1011.1C1288.5 1008.4 1290.7 1003.1 1292.7 1000.9C1294.8 998.7 1296.2 997.5 1298.9 997.8C1301.7 998.1 1305.8 1000.8 1309.2 1002.9C1312.6 1005.0 1314.3 1008.7 1319.4 1010.1C1324.5 1011.5 1331.4 1011.6 1340.0 1011.1C1348.6 1010.6 1362.2 1007.0 1370.8 1007.0C1379.3 1007.0 1384.4 1011.4 1391.3 1011.1C1398.2 1010.8 1405.1 1005.9 1411.9 1005.0C1418.8 1004.1 1425.6 1004.6 1432.4 1006.0C1439.2 1007.4 1448.1 1011.7 1453.0 1013.2C1457.9 1014.7 1454.5 1014.2 1462.0 1015.2C1469.5 1016.2 1484.5 1018.4 1498.1 1019.3C1511.6 1020.2 1529.6 1021.1 1543.3 1020.4C1557.0 1019.7 1567.3 1016.8 1580.3 1015.2C1593.3 1013.7 1607.6 1012.1 1621.3 1011.1C1635.0 1010.1 1651.5 1010.1 1662.4 1009.1C1673.4 1008.1 1680.2 1006.4 1687.0 1005.0C1693.8 1003.6 1698.3 1000.9 1703.4 1000.9C1708.5 1000.9 1712.7 1002.6 1717.8 1005.0C1722.9 1007.4 1729.1 1014.2 1734.2 1015.2C1739.3 1016.2 1742.8 1012.1 1748.6 1011.1C1754.4 1010.1 1762.3 1009.8 1769.2 1009.1C1776.1 1008.4 1785.2 1011.1 1789.7 1007.0C1794.2 1002.9 1794.5 992.9 1795.9 984.4C1797.3 975.9 1796.9 960.5 1797.9 955.7C1798.9 950.9 1800.8 952.6 1802.0 955.7C1803.2 958.8 1804.3 971.2 1805.1 974.2C1805.8 977.2 1806.0 980.5 1806.5 974.0C1807.0 967.5 1807.5 939.9 1808.2 935.1C1808.9 930.3 1809.5 936.8 1810.5 945.0C1811.5 953.2 1813.1 973.0 1814.4 984.4C1815.7 995.8 1815.8 1007.7 1818.5 1013.2C1821.2 1018.7 1825.3 1016.3 1830.8 1017.3C1836.3 1018.3 1844.4 1019.6 1851.3 1019.3C1858.2 1018.9 1865.4 1018.3 1871.9 1015.2C1878.4 1012.1 1885.6 1002.3 1890.4 1000.9C1895.2 999.5 1896.8 1005.0 1900.6 1007.0C1904.4 1009.0 1910.3 1011.8 1913.0 1013.2C1915.7 1014.6 1912.9 1014.5 1917.0 1015.2C1921.1 1015.9 1931.7 1017.1 1937.5 1017.3C1943.3 1017.5 1947.1 1017.7 1951.9 1016.3C1956.7 1014.9 1960.1 1010.0 1966.3 1009.1C1972.5 1008.2 1980.0 1010.4 1988.9 1011.1C1997.8 1011.8 2011.8 1013.9 2019.7 1013.2C2027.6 1012.5 2031.0 1009.8 2036.1 1007.0C2041.2 1004.2 2045.7 997.4 2050.5 996.7C2055.3 996.0 2059.8 1000.8 2064.9 1002.9C2070.0 1005.0 2075.1 1008.8 2081.3 1009.1C2087.5 1009.5 2097.1 1005.4 2101.9 1005.0C2106.7 1004.6 2108.1 1004.3 2110.1 1007.0C2112.1 1009.7 2112.1 1020.4 2114.2 1021.4C2116.2 1022.4 2119.3 1016.6 2122.4 1013.2C2125.5 1009.8 2129.3 1002.6 2132.7 1000.9C2136.1 999.2 2139.2 1001.5 2143.0 1002.9C2146.8 1004.3 2153.2 1008.1 2155.3 1009.1" stroke="#ff0000" stroke-width="8.5"/></g><path d="M120.6 242.70h18.5M1043.4 242.70h-18.5M120.6 232.65h9.2M1043.4 232.65h-9.2M120.6 222.60h9.2M1043.4 222.60h-9.2M120.6 212.55h9.2M1043.4 212.55h-9.2M120.6 202.50h18.5M1043.4 202.50h-18.5M120.6 192.45h9.2M1043.4 192.45h-9.2M120.6 182.40h9.2M1043.4 182.40h-9.2M120.6 172.35h9.2M1043.4 172.35h-9.2M120.6 162.30h18.5M1043.4 162.30h-18.5M120.6 152.25h9.2M1043.4 152.25h-9.2M120.6 142.20h9.2M1043.4 142.20h-9.2M120.6 132.15h9.2M1043.4 132.15h-9.2M120.6 122.10h18.5M1043.4 122.10h-18.5M120.6 112.05h9.2M1043.4 112.05h-9.2M120.6 102.00h9.2M1043.4 102.00h-9.2M120.6 91.95h9.2M1043.4 91.95h-9.2M120.6 81.90h18.5M1043.4 81.90h-18.5M120.6 71.85h9.2M1043.4 71.85h-9.2M120.6 61.80h9.2M1043.4 61.80h-9.2M120.6 51.75h9.2M1043.4 51.75h-9.2M120.6 41.70h18.5M1043.4 41.70h-18.5M120.6 31.65h9.2M1043.4 31.65h-9.2M120.6 21.60h9.2M1043.4 21.60h-9.2M120.6 11.55h9.2M1043.4 11.55h-9.2M120.6 1.50h18.5M1043.4 1.50h-18.5M120.73 242.7v-4.8M120.73 1.5v4.8M151.48 242.7v-2.4M151.48 1.5v2.4M182.23 242.7v-2.4M182.23 1.5v2.4M212.98 242.7v-2.4M212.98 1.5v2.4M243.73 242.7v-2.4M243.73 1.5v2.4M274.48 242.7v-4.8M274.48 1.5v4.8M305.23 242.7v-2.4M305.23 1.5v2.4M335.98 242.7v-2.4M335.98 1.5v2.4M366.73 242.7v-2.4M366.73 1.5v2.4M397.48 242.7v-2.4M397.48 1.5v2.4M428.23 242.7v-4.8M428.23 1.5v4.8M458.98 242.7v-2.4M458.98 1.5v2.4M489.73 242.7v-2.4M489.73 1.5v2.4M520.48 242.7v-2.4M520.48 1.5v2.4M551.23 242.7v-2.4M551.23 1.5v2.4M581.98 242.7v-4.8M581.98 1.5v4.8M612.73 242.7v-2.4M612.73 1.5v2.4M643.48 242.7v-2.4M643.48 1.5v2.4M674.23 242.7v-2.4M674.23 1.5v2.4M704.98 242.7v-2.4M704.98 1.5v2.4M735.73 242.7v-4.8M735.73 1.5v4.8M766.48 242.7v-2.4M766.48 1.5v2.4M797.23 242.7v-2.4M797.23 1.5v2.4M827.98 242.7v-2.4M827.98 1.5v2.4M858.73 242.7v-2.4M858.73 1.5v2.4M889.48 242.7v-4.8M889.48 1.5v4.8M920.23 242.7v-2.4M920.23 1.5v2.4M950.98 242.7v-2.4M950.98 1.5v2.4M981.73 242.7v-2.4M981.73 1.5v2.4M1012.48 242.7v-2.4M1012.48 1.5v2.4M1043.23 242.7v-4.8M1043.23 1.5v4.8" stroke="#000" stroke-width="2.0" fill="none"/><rect x="120.6" y="1.50" width="922.80" height="241.20" fill="none" stroke="#000" stroke-width="2.7"/><path d="M120.6 503.40h18.5M1043.4 503.40h-18.5M120.6 488.32h9.2M1043.4 488.32h-9.2M120.6 473.25h9.2M1043.4 473.25h-9.2M120.6 458.17h9.2M1043.4 458.17h-9.2M120.6 443.10h18.5M1043.4 443.10h-18.5M120.6 428.02h9.2M1043.4 428.02h-9.2M120.6 412.95h9.2M1043.4 412.95h-9.2M120.6 397.88h9.2M1043.4 397.88h-9.2M120.6 382.80h18.5M1043.4 382.80h-18.5M120.6 367.73h9.2M1043.4 367.73h-9.2M120.6 352.65h9.2M1043.4 352.65h-9.2M120.6 337.57h9.2M1043.4 337.57h-9.2M120.6 322.50h18.5M1043.4 322.50h-18.5M120.6 307.42h9.2M1043.4 307.42h-9.2M120.6 292.35h9.2M1043.4 292.35h-9.2M120.6 277.27h9.2M1043.4 277.27h-9.2M120.6 262.20h18.5M1043.4 262.20h-18.5M120.73 503.4v-4.8M120.73 262.2v4.8M151.48 503.4v-2.4M151.48 262.2v2.4M182.23 503.4v-2.4M182.23 262.2v2.4M212.98 503.4v-2.4M212.98 262.2v2.4M243.73 503.4v-2.4M243.73 262.2v2.4M274.48 503.4v-4.8M274.48 262.2v4.8M305.23 503.4v-2.4M305.23 262.2v2.4M335.98 503.4v-2.4M335.98 262.2v2.4M366.73 503.4v-2.4M366.73 262.2v2.4M397.48 503.4v-2.4M397.48 262.2v2.4M428.23 503.4v-4.8M428.23 262.2v4.8M458.98 503.4v-2.4M458.98 262.2v2.4M489.73 503.4v-2.4M489.73 262.2v2.4M520.48 503.4v-2.4M520.48 262.2v2.4M551.23 503.4v-2.4M551.23 262.2v2.4M581.98 503.4v-4.8M581.98 262.2v4.8M612.73 503.4v-2.4M612.73 262.2v2.4M643.48 503.4v-2.4M643.48 262.2v2.4M674.23 503.4v-2.4M674.23 262.2v2.4M704.98 503.4v-2.4M704.98 262.2v2.4M735.73 503.4v-4.8M735.73 262.2v4.8M766.48 503.4v-2.4M766.48 262.2v2.4M797.23 503.4v-2.4M797.23 262.2v2.4M827.98 503.4v-2.4M827.98 262.2v2.4M858.73 503.4v-2.4M858.73 262.2v2.4M889.48 503.4v-4.8M889.48 262.2v4.8M920.23 503.4v-2.4M920.23 262.2v2.4M950.98 503.4v-2.4M950.98 262.2v2.4M981.73 503.4v-2.4M981.73 262.2v2.4M1012.48 503.4v-2.4M1012.48 262.2v2.4M1043.23 503.4v-4.8M1043.23 262.2v4.8" stroke="#000" stroke-width="2.0" fill="none"/><rect x="120.6" y="262.20" width="922.80" height="241.20" fill="none" stroke="#000" stroke-width="2.7"/><path d="M120.6 764.10h18.5M1043.4 764.10h-18.5M120.6 739.90h9.2M1043.4 739.90h-9.2M120.6 725.74h9.2M1043.4 725.74h-9.2M120.6 715.69h9.2M1043.4 715.69h-9.2M120.6 707.90h9.2M1043.4 707.90h-9.2M120.6 701.54h9.2M1043.4 701.54h-9.2M120.6 696.15h9.2M1043.4 696.15h-9.2M120.6 691.49h9.2M1043.4 691.49h-9.2M120.6 687.38h9.2M1043.4 687.38h-9.2M120.6 683.70h18.5M1043.4 683.70h-18.5M120.6 659.50h9.2M1043.4 659.50h-9.2M120.6 645.34h9.2M1043.4 645.34h-9.2M120.6 635.29h9.2M1043.4 635.29h-9.2M120.6 627.50h9.2M1043.4 627.50h-9.2M120.6 621.14h9.2M1043.4 621.14h-9.2M120.6 615.75h9.2M1043.4 615.75h-9.2M120.6 611.09h9.2M1043.4 611.09h-9.2M120.6 606.98h9.2M1043.4 606.98h-9.2M120.6 603.30h18.5M1043.4 603.30h-18.5M120.6 579.10h9.2M1043.4 579.10h-9.2M120.6 564.94h9.2M1043.4 564.94h-9.2M120.6 554.89h9.2M1043.4 554.89h-9.2M120.6 547.10h9.2M1043.4 547.10h-9.2M120.6 540.74h9.2M1043.4 540.74h-9.2M120.6 535.35h9.2M1043.4 535.35h-9.2M120.6 530.69h9.2M1043.4 530.69h-9.2M120.6 526.58h9.2M1043.4 526.58h-9.2M120.6 522.90h18.5M1043.4 522.90h-18.5M120.73 764.1v-4.8M120.73 522.9v4.8M151.48 764.1v-2.4M151.48 522.9v2.4M182.23 764.1v-2.4M182.23 522.9v2.4M212.98 764.1v-2.4M212.98 522.9v2.4M243.73 764.1v-2.4M243.73 522.9v2.4M274.48 764.1v-4.8M274.48 522.9v4.8M305.23 764.1v-2.4M305.23 522.9v2.4M335.98 764.1v-2.4M335.98 522.9v2.4M366.73 764.1v-2.4M366.73 522.9v2.4M397.48 764.1v-2.4M397.48 522.9v2.4M428.23 764.1v-4.8M428.23 522.9v4.8M458.98 764.1v-2.4M458.98 522.9v2.4M489.73 764.1v-2.4M489.73 522.9v2.4M520.48 764.1v-2.4M520.48 522.9v2.4M551.23 764.1v-2.4M551.23 522.9v2.4M581.98 764.1v-4.8M581.98 522.9v4.8M612.73 764.1v-2.4M612.73 522.9v2.4M643.48 764.1v-2.4M643.48 522.9v2.4M674.23 764.1v-2.4M674.23 522.9v2.4M704.98 764.1v-2.4M704.98 522.9v2.4M735.73 764.1v-4.8M735.73 522.9v4.8M766.48 764.1v-2.4M766.48 522.9v2.4M797.23 764.1v-2.4M797.23 522.9v2.4M827.98 764.1v-2.4M827.98 522.9v2.4M858.73 764.1v-2.4M858.73 522.9v2.4M889.48 764.1v-4.8M889.48 522.9v4.8M920.23 764.1v-2.4M920.23 522.9v2.4M950.98 764.1v-2.4M950.98 522.9v2.4M981.73 764.1v-2.4M981.73 522.9v2.4M1012.48 764.1v-2.4M1012.48 522.9v2.4M1043.23 764.1v-4.8M1043.23 522.9v4.8" stroke="#000" stroke-width="2.0" fill="none"/><rect x="120.6" y="522.90" width="922.80" height="241.20" fill="none" stroke="#000" stroke-width="2.7"/><path d="M120.6 1024.80h18.5M1043.4 1024.80h-18.5M120.6 1016.76h9.2M1043.4 1016.76h-9.2M120.6 1008.72h9.2M1043.4 1008.72h-9.2M120.6 1000.68h9.2M1043.4 1000.68h-9.2M120.6 992.64h9.2M1043.4 992.64h-9.2M120.6 984.60h18.5M1043.4 984.60h-18.5M120.6 976.56h9.2M1043.4 976.56h-9.2M120.6 968.52h9.2M1043.4 968.52h-9.2M120.6 960.48h9.2M1043.4 960.48h-9.2M120.6 952.44h9.2M1043.4 952.44h-9.2M120.6 944.40h18.5M1043.4 944.40h-18.5M120.6 936.36h9.2M1043.4 936.36h-9.2M120.6 928.32h9.2M1043.4 928.32h-9.2M120.6 920.28h9.2M1043.4 920.28h-9.2M120.6 912.24h9.2M1043.4 912.24h-9.2M120.6 904.20h18.5M1043.4 904.20h-18.5M120.6 896.16h9.2M1043.4 896.16h-9.2M120.6 888.12h9.2M1043.4 888.12h-9.2M120.6 880.08h9.2M1043.4 880.08h-9.2M120.6 872.04h9.2M1043.4 872.04h-9.2M120.6 864.00h18.5M1043.4 864.00h-18.5M120.6 855.96h9.2M1043.4 855.96h-9.2M120.6 847.92h9.2M1043.4 847.92h-9.2M120.6 839.88h9.2M1043.4 839.88h-9.2M120.6 831.84h9.2M1043.4 831.84h-9.2M120.6 823.80h18.5M1043.4 823.80h-18.5M120.6 815.76h9.2M1043.4 815.76h-9.2M120.6 807.72h9.2M1043.4 807.72h-9.2M120.6 799.68h9.2M1043.4 799.68h-9.2M120.6 791.64h9.2M1043.4 791.64h-9.2M120.6 783.60h18.5M1043.4 783.60h-18.5M120.73 1024.8v-4.8M120.73 783.6v4.8M151.48 1024.8v-2.4M151.48 783.6v2.4M182.23 1024.8v-2.4M182.23 783.6v2.4M212.98 1024.8v-2.4M212.98 783.6v2.4M243.73 1024.8v-2.4M243.73 783.6v2.4M274.48 1024.8v-4.8M274.48 783.6v4.8M305.23 1024.8v-2.4M305.23 783.6v2.4M335.98 1024.8v-2.4M335.98 783.6v2.4M366.73 1024.8v-2.4M366.73 783.6v2.4M397.48 1024.8v-2.4M397.48 783.6v2.4M428.23 1024.8v-4.8M428.23 783.6v4.8M458.98 1024.8v-2.4M458.98 783.6v2.4M489.73 1024.8v-2.4M489.73 783.6v2.4M520.48 1024.8v-2.4M520.48 783.6v2.4M551.23 1024.8v-2.4M551.23 783.6v2.4M581.98 1024.8v-4.8M581.98 783.6v4.8M612.73 1024.8v-2.4M612.73 783.6v2.4M643.48 1024.8v-2.4M643.48 783.6v2.4M674.23 1024.8v-2.4M674.23 783.6v2.4M704.98 1024.8v-2.4M704.98 783.6v2.4M735.73 1024.8v-4.8M735.73 783.6v4.8M766.48 1024.8v-2.4M766.48 783.6v2.4M797.23 1024.8v-2.4M797.23 783.6v2.4M827.98 1024.8v-2.4M827.98 783.6v2.4M858.73 1024.8v-2.4M858.73 783.6v2.4M889.48 1024.8v-4.8M889.48 783.6v4.8M920.23 1024.8v-2.4M920.23 783.6v2.4M950.98 1024.8v-2.4M950.98 783.6v2.4M981.73 1024.8v-2.4M981.73 783.6v2.4M1012.48 1024.8v-2.4M1012.48 783.6v2.4M1043.23 1024.8v-4.8M1043.23 783.6v4.8" stroke="#000" stroke-width="2.0" fill="none"/><rect x="120.6" y="783.60" width="922.80" height="241.20" fill="none" stroke="#000" stroke-width="2.7"/><path d="M1232.4 242.70h18.5M2154.5 242.70h-18.5M1232.4 232.65h9.2M2154.5 232.65h-9.2M1232.4 222.60h9.2M2154.5 222.60h-9.2M1232.4 212.55h9.2M2154.5 212.55h-9.2M1232.4 202.50h18.5M2154.5 202.50h-18.5M1232.4 192.45h9.2M2154.5 192.45h-9.2M1232.4 182.40h9.2M2154.5 182.40h-9.2M1232.4 172.35h9.2M2154.5 172.35h-9.2M1232.4 162.30h18.5M2154.5 162.30h-18.5M1232.4 152.25h9.2M2154.5 152.25h-9.2M1232.4 142.20h9.2M2154.5 142.20h-9.2M1232.4 132.15h9.2M2154.5 132.15h-9.2M1232.4 122.10h18.5M2154.5 122.10h-18.5M1232.4 112.05h9.2M2154.5 112.05h-9.2M1232.4 102.00h9.2M2154.5 102.00h-9.2M1232.4 91.95h9.2M2154.5 91.95h-9.2M1232.4 81.90h18.5M2154.5 81.90h-18.5M1232.4 71.85h9.2M2154.5 71.85h-9.2M1232.4 61.80h9.2M2154.5 61.80h-9.2M1232.4 51.75h9.2M2154.5 51.75h-9.2M1232.4 41.70h18.5M2154.5 41.70h-18.5M1232.4 31.65h9.2M2154.5 31.65h-9.2M1232.4 21.60h9.2M2154.5 21.60h-9.2M1232.4 11.55h9.2M2154.5 11.55h-9.2M1232.4 1.50h18.5M2154.5 1.50h-18.5M1260.59 242.7v-2.4M1260.59 1.5v2.4M1291.34 242.7v-2.4M1291.34 1.5v2.4M1322.09 242.7v-2.4M1322.09 1.5v2.4M1352.84 242.7v-2.4M1352.84 1.5v2.4M1383.59 242.7v-4.8M1383.59 1.5v4.8M1414.34 242.7v-2.4M1414.34 1.5v2.4M1445.09 242.7v-2.4M1445.09 1.5v2.4M1475.84 242.7v-2.4M1475.84 1.5v2.4M1506.59 242.7v-2.4M1506.59 1.5v2.4M1537.34 242.7v-4.8M1537.34 1.5v4.8M1568.09 242.7v-2.4M1568.09 1.5v2.4M1598.84 242.7v-2.4M1598.84 1.5v2.4M1629.59 242.7v-2.4M1629.59 1.5v2.4M1660.34 242.7v-2.4M1660.34 1.5v2.4M1691.09 242.7v-4.8M1691.09 1.5v4.8M1721.84 242.7v-2.4M1721.84 1.5v2.4M1752.59 242.7v-2.4M1752.59 1.5v2.4M1783.34 242.7v-2.4M1783.34 1.5v2.4M1814.09 242.7v-2.4M1814.09 1.5v2.4M1844.84 242.7v-4.8M1844.84 1.5v4.8M1875.59 242.7v-2.4M1875.59 1.5v2.4M1906.34 242.7v-2.4M1906.34 1.5v2.4M1937.09 242.7v-2.4M1937.09 1.5v2.4M1967.84 242.7v-2.4M1967.84 1.5v2.4M1998.59 242.7v-4.8M1998.59 1.5v4.8M2029.34 242.7v-2.4M2029.34 1.5v2.4M2060.09 242.7v-2.4M2060.09 1.5v2.4M2090.84 242.7v-2.4M2090.84 1.5v2.4M2121.59 242.7v-2.4M2121.59 1.5v2.4M2152.34 242.7v-4.8M2152.34 1.5v4.8" stroke="#000" stroke-width="2.0" fill="none"/><rect x="1232.4" y="1.50" width="922.10" height="241.20" fill="none" stroke="#000" stroke-width="2.7"/><path d="M1232.4 503.40h18.5M2154.5 503.40h-18.5M1232.4 488.32h9.2M2154.5 488.32h-9.2M1232.4 473.25h9.2M2154.5 473.25h-9.2M1232.4 458.17h9.2M2154.5 458.17h-9.2M1232.4 443.10h18.5M2154.5 443.10h-18.5M1232.4 428.02h9.2M2154.5 428.02h-9.2M1232.4 412.95h9.2M2154.5 412.95h-9.2M1232.4 397.88h9.2M2154.5 397.88h-9.2M1232.4 382.80h18.5M2154.5 382.80h-18.5M1232.4 367.73h9.2M2154.5 367.73h-9.2M1232.4 352.65h9.2M2154.5 352.65h-9.2M1232.4 337.57h9.2M2154.5 337.57h-9.2M1232.4 322.50h18.5M2154.5 322.50h-18.5M1232.4 307.42h9.2M2154.5 307.42h-9.2M1232.4 292.35h9.2M2154.5 292.35h-9.2M1232.4 277.27h9.2M2154.5 277.27h-9.2M1232.4 262.20h18.5M2154.5 262.20h-18.5M1260.59 503.4v-2.4M1260.59 262.2v2.4M1291.34 503.4v-2.4M1291.34 262.2v2.4M1322.09 503.4v-2.4M1322.09 262.2v2.4M1352.84 503.4v-2.4M1352.84 262.2v2.4M1383.59 503.4v-4.8M1383.59 262.2v4.8M1414.34 503.4v-2.4M1414.34 262.2v2.4M1445.09 503.4v-2.4M1445.09 262.2v2.4M1475.84 503.4v-2.4M1475.84 262.2v2.4M1506.59 503.4v-2.4M1506.59 262.2v2.4M1537.34 503.4v-4.8M1537.34 262.2v4.8M1568.09 503.4v-2.4M1568.09 262.2v2.4M1598.84 503.4v-2.4M1598.84 262.2v2.4M1629.59 503.4v-2.4M1629.59 262.2v2.4M1660.34 503.4v-2.4M1660.34 262.2v2.4M1691.09 503.4v-4.8M1691.09 262.2v4.8M1721.84 503.4v-2.4M1721.84 262.2v2.4M1752.59 503.4v-2.4M1752.59 262.2v2.4M1783.34 503.4v-2.4M1783.34 262.2v2.4M1814.09 503.4v-2.4M1814.09 262.2v2.4M1844.84 503.4v-4.8M1844.84 262.2v4.8M1875.59 503.4v-2.4M1875.59 262.2v2.4M1906.34 503.4v-2.4M1906.34 262.2v2.4M1937.09 503.4v-2.4M1937.09 262.2v2.4M1967.84 503.4v-2.4M1967.84 262.2v2.4M1998.59 503.4v-4.8M1998.59 262.2v4.8M2029.34 503.4v-2.4M2029.34 262.2v2.4M2060.09 503.4v-2.4M2060.09 262.2v2.4M2090.84 503.4v-2.4M2090.84 262.2v2.4M2121.59 503.4v-2.4M2121.59 262.2v2.4M2152.34 503.4v-4.8M2152.34 262.2v4.8" stroke="#000" stroke-width="2.0" fill="none"/><rect x="1232.4" y="262.20" width="922.10" height="241.20" fill="none" stroke="#000" stroke-width="2.7"/><path d="M1232.4 764.10h18.5M2154.5 764.10h-18.5M1232.4 739.90h9.2M2154.5 739.90h-9.2M1232.4 725.74h9.2M2154.5 725.74h-9.2M1232.4 715.69h9.2M2154.5 715.69h-9.2M1232.4 707.90h9.2M2154.5 707.90h-9.2M1232.4 701.54h9.2M2154.5 701.54h-9.2M1232.4 696.15h9.2M2154.5 696.15h-9.2M1232.4 691.49h9.2M2154.5 691.49h-9.2M1232.4 687.38h9.2M2154.5 687.38h-9.2M1232.4 683.70h18.5M2154.5 683.70h-18.5M1232.4 659.50h9.2M2154.5 659.50h-9.2M1232.4 645.34h9.2M2154.5 645.34h-9.2M1232.4 635.29h9.2M2154.5 635.29h-9.2M1232.4 627.50h9.2M2154.5 627.50h-9.2M1232.4 621.14h9.2M2154.5 621.14h-9.2M1232.4 615.75h9.2M2154.5 615.75h-9.2M1232.4 611.09h9.2M2154.5 611.09h-9.2M1232.4 606.98h9.2M2154.5 606.98h-9.2M1232.4 603.30h18.5M2154.5 603.30h-18.5M1232.4 579.10h9.2M2154.5 579.10h-9.2M1232.4 564.94h9.2M2154.5 564.94h-9.2M1232.4 554.89h9.2M2154.5 554.89h-9.2M1232.4 547.10h9.2M2154.5 547.10h-9.2M1232.4 540.74h9.2M2154.5 540.74h-9.2M1232.4 535.35h9.2M2154.5 535.35h-9.2M1232.4 530.69h9.2M2154.5 530.69h-9.2M1232.4 526.58h9.2M2154.5 526.58h-9.2M1232.4 522.90h18.5M2154.5 522.90h-18.5M1260.59 764.1v-2.4M1260.59 522.9v2.4M1291.34 764.1v-2.4M1291.34 522.9v2.4M1322.09 764.1v-2.4M1322.09 522.9v2.4M1352.84 764.1v-2.4M1352.84 522.9v2.4M1383.59 764.1v-4.8M1383.59 522.9v4.8M1414.34 764.1v-2.4M1414.34 522.9v2.4M1445.09 764.1v-2.4M1445.09 522.9v2.4M1475.84 764.1v-2.4M1475.84 522.9v2.4M1506.59 764.1v-2.4M1506.59 522.9v2.4M1537.34 764.1v-4.8M1537.34 522.9v4.8M1568.09 764.1v-2.4M1568.09 522.9v2.4M1598.84 764.1v-2.4M1598.84 522.9v2.4M1629.59 764.1v-2.4M1629.59 522.9v2.4M1660.34 764.1v-2.4M1660.34 522.9v2.4M1691.09 764.1v-4.8M1691.09 522.9v4.8M1721.84 764.1v-2.4M1721.84 522.9v2.4M1752.59 764.1v-2.4M1752.59 522.9v2.4M1783.34 764.1v-2.4M1783.34 522.9v2.4M1814.09 764.1v-2.4M1814.09 522.9v2.4M1844.84 764.1v-4.8M1844.84 522.9v4.8M1875.59 764.1v-2.4M1875.59 522.9v2.4M1906.34 764.1v-2.4M1906.34 522.9v2.4M1937.09 764.1v-2.4M1937.09 522.9v2.4M1967.84 764.1v-2.4M1967.84 522.9v2.4M1998.59 764.1v-4.8M1998.59 522.9v4.8M2029.34 764.1v-2.4M2029.34 522.9v2.4M2060.09 764.1v-2.4M2060.09 522.9v2.4M2090.84 764.1v-2.4M2090.84 522.9v2.4M2121.59 764.1v-2.4M2121.59 522.9v2.4M2152.34 764.1v-4.8M2152.34 522.9v4.8" stroke="#000" stroke-width="2.0" fill="none"/><rect x="1232.4" y="522.90" width="922.10" height="241.20" fill="none" stroke="#000" stroke-width="2.7"/><path d="M1232.4 1024.80h18.5M2154.5 1024.80h-18.5M1232.4 1016.76h9.2M2154.5 1016.76h-9.2M1232.4 1008.72h9.2M2154.5 1008.72h-9.2M1232.4 1000.68h9.2M2154.5 1000.68h-9.2M1232.4 992.64h9.2M2154.5 992.64h-9.2M1232.4 984.60h18.5M2154.5 984.60h-18.5M1232.4 976.56h9.2M2154.5 976.56h-9.2M1232.4 968.52h9.2M2154.5 968.52h-9.2M1232.4 960.48h9.2M2154.5 960.48h-9.2M1232.4 952.44h9.2M2154.5 952.44h-9.2M1232.4 944.40h18.5M2154.5 944.40h-18.5M1232.4 936.36h9.2M2154.5 936.36h-9.2M1232.4 928.32h9.2M2154.5 928.32h-9.2M1232.4 920.28h9.2M2154.5 920.28h-9.2M1232.4 912.24h9.2M2154.5 912.24h-9.2M1232.4 904.20h18.5M2154.5 904.20h-18.5M1232.4 896.16h9.2M2154.5 896.16h-9.2M1232.4 888.12h9.2M2154.5 888.12h-9.2M1232.4 880.08h9.2M2154.5 880.08h-9.2M1232.4 872.04h9.2M2154.5 872.04h-9.2M1232.4 864.00h18.5M2154.5 864.00h-18.5M1232.4 855.96h9.2M2154.5 855.96h-9.2M1232.4 847.92h9.2M2154.5 847.92h-9.2M1232.4 839.88h9.2M2154.5 839.88h-9.2M1232.4 831.84h9.2M2154.5 831.84h-9.2M1232.4 823.80h18.5M2154.5 823.80h-18.5M1232.4 815.76h9.2M2154.5 815.76h-9.2M1232.4 807.72h9.2M2154.5 807.72h-9.2M1232.4 799.68h9.2M2154.5 799.68h-9.2M1232.4 791.64h9.2M2154.5 791.64h-9.2M1232.4 783.60h18.5M2154.5 783.60h-18.5M1260.59 1024.8v-2.4M1260.59 783.6v2.4M1291.34 1024.8v-2.4M1291.34 783.6v2.4M1322.09 1024.8v-2.4M1322.09 783.6v2.4M1352.84 1024.8v-2.4M1352.84 783.6v2.4M1383.59 1024.8v-4.8M1383.59 783.6v4.8M1414.34 1024.8v-2.4M1414.34 783.6v2.4M1445.09 1024.8v-2.4M1445.09 783.6v2.4M1475.84 1024.8v-2.4M1475.84 783.6v2.4M1506.59 1024.8v-2.4M1506.59 783.6v2.4M1537.34 1024.8v-4.8M1537.34 783.6v4.8M1568.09 1024.8v-2.4M1568.09 783.6v2.4M1598.84 1024.8v-2.4M1598.84 783.6v2.4M1629.59 1024.8v-2.4M1629.59 783.6v2.4M1660.34 1024.8v-2.4M1660.34 783.6v2.4M1691.09 1024.8v-4.8M1691.09 783.6v4.8M1721.84 1024.8v-2.4M1721.84 783.6v2.4M1752.59 1024.8v-2.4M1752.59 783.6v2.4M1783.34 1024.8v-2.4M1783.34 783.6v2.4M1814.09 1024.8v-2.4M1814.09 783.6v2.4M1844.84 1024.8v-4.8M1844.84 783.6v4.8M1875.59 1024.8v-2.4M1875.59 783.6v2.4M1906.34 1024.8v-2.4M1906.34 783.6v2.4M1937.09 1024.8v-2.4M1937.09 783.6v2.4M1967.84 1024.8v-2.4M1967.84 783.6v2.4M1998.59 1024.8v-4.8M1998.59 783.6v4.8M2029.34 1024.8v-2.4M2029.34 783.6v2.4M2060.09 1024.8v-2.4M2060.09 783.6v2.4M2090.84 1024.8v-2.4M2090.84 783.6v2.4M2121.59 1024.8v-2.4M2121.59 783.6v2.4M2152.34 1024.8v-4.8M2152.34 783.6v4.8" stroke="#000" stroke-width="2.0" fill="none"/><rect x="1232.4" y="783.60" width="922.10" height="241.20" fill="none" stroke="#000" stroke-width="2.7"/><text x="112.00" y="244.10" font-family='"Liberation Sans", "DejaVu Sans", sans-serif' font-size="28" text-anchor="end" textLength="48.599999999999994" lengthAdjust="spacingAndGlyphs" stroke="#000" stroke-width="0.9">200</text><text x="112.00" y="214.00" font-family='"Liberation Sans", "DejaVu Sans", sans-serif' font-size="28" text-anchor="end" textLength="48.599999999999994" lengthAdjust="spacingAndGlyphs" stroke="#000" stroke-width="0.9">400</text><text x="112.00" y="173.80" font-family='"Liberation Sans", "DejaVu Sans", sans-serif' font-size="28" text-anchor="end" textLength="48.599999999999994" lengthAdjust="spacingAndGlyphs" stroke="#000" stroke-width="0.9">600</text><text x="112.00" y="133.60" font-family='"Liberation Sans", "DejaVu Sans", sans-serif' font-size="28" text-anchor="end" textLength="48.599999999999994" lengthAdjust="spacingAndGlyphs" stroke="#000" stroke-width="0.9">800</text><text x="112.00" y="93.40" font-family='"Liberation Sans", "DejaVu Sans", sans-serif' font-size="28" text-anchor="end" textLength="64.8" lengthAdjust="spacingAndGlyphs" stroke="#000" stroke-width="0.9">1000</text><text x="112.00" y="53.20" font-family='"Liberation Sans", "DejaVu Sans", sans-serif' font-size="28" text-anchor="end" textLength="64.8" lengthAdjust="spacingAndGlyphs" stroke="#000" stroke-width="0.9">1200</text><text x="112.00" y="19.00" font-family='"Liberation Sans", "DejaVu Sans", sans-serif' font-size="28" text-anchor="end" textLength="64.8" lengthAdjust="spacingAndGlyphs" stroke="#000" stroke-width="0.9">1400</text><text x="112.00" y="504.80" font-family='"Liberation Sans", "DejaVu Sans", sans-serif' font-size="28" text-anchor="end" textLength="16.2" lengthAdjust="spacingAndGlyphs" stroke="#000" stroke-width="0.9">0</text><text x="112.00" y="454.60" font-family='"Liberation Sans", "DejaVu Sans", sans-serif' font-size="28" text-anchor="end" textLength="32.4" lengthAdjust="spacingAndGlyphs" stroke="#000" stroke-width="0.9">20</text><text x="112.00" y="394.30" font-family='"Liberation Sans", "DejaVu Sans", sans-serif' font-size="28" text-anchor="end" textLength="32.4" lengthAdjust="spacingAndGlyphs" stroke="#000" stroke-width="0.9">40</text><text x="112.00" y="334.00" font-family='"Liberation Sans", "DejaVu Sans", sans-serif' font-size="28" text-anchor="end" textLength="32.4" lengthAdjust="spacingAndGlyphs" stroke="#000" stroke-width="0.9">60</text><text x="112.00" y="281.20" font-family='"Liberation Sans", "DejaVu Sans", sans-serif' font-size="28" text-anchor="end" textLength="32.4" lengthAdjust="spacingAndGlyphs" stroke="#000" stroke-width="0.9">80</text><text x="112.00" y="1026.20" font-family='"Liberation Sans", "DejaVu Sans", sans-serif' font-size="28" text-anchor="end" textLength="16.2" lengthAdjust="spacingAndGlyphs" stroke="#000" stroke-width="0.9">0</text><text x="112.00" y="996.10" font-family='"Liberation Sans", "DejaVu Sans", sans-serif' font-size="28" text-anchor="end" textLength="16.2" lengthAdjust="spacingAndGlyphs" stroke="#000" stroke-width="0.9">5</text><text x="112.00" y="955.90" font-family='"Liberation Sans", "DejaVu Sans", sans-serif' font-size="28" text-anchor="end" textLength="32.4" lengthAdjust="spacingAndGlyphs" stroke="#000" stroke-width="0.9">10</text><text x="112.00" y="915.70" font-family='"Liberation Sans", "DejaVu Sans", sans-serif' font-size="28" text-anchor="end" textLength="32.4" lengthAdjust="spacingAndGlyphs" stroke="#000" stroke-width="0.9">15</text><text x="112.00" y="875.50" font-family='"Liberation Sans", "DejaVu Sans", sans-serif' font-size="28" text-anchor="end" textLength="32.4" lengthAdjust="spacingAndGlyphs" stroke="#000" stroke-width="0.9">20</text><text x="112.00" y="835.30" font-family='"Liberation Sans", "DejaVu Sans", sans-serif' font-size="28" text-anchor="end" textLength="32.4" lengthAdjust="spacingAndGlyphs" stroke="#000" stroke-width="0.9">25</text><text x="112.00" y="802.60" font-family='"Liberation Sans", "DejaVu Sans", sans-serif' font-size="28" text-anchor="end" textLength="32.4" lengthAdjust="spacingAndGlyphs" stroke="#000" stroke-width="0.9">30</text><text x="101.10" y="765.50" font-family='"Liberation Sans", "DejaVu Sans", sans-serif' font-size="28" text-anchor="end" textLength="31.2" lengthAdjust="spacingAndGlyphs" stroke="#000" stroke-width="0.9">10</text><text x="102.00" y="753.30" font-family='"Liberation Sans", "DejaVu Sans", sans-serif' font-size="20" stroke="#000" stroke-width="1.2">3</text><text x="101.10" y="695.20" font-family='"Liberation Sans", "DejaVu Sans", sans-serif' font-size="28" text-anchor="end" textLength="31.2" lengthAdjust="spacingAndGlyphs" stroke="#000" stroke-width="0.9">10</text><text x="102.00" y="683.00" font-family='"Liberation Sans", "DejaVu Sans", sans-serif' font-size="20" stroke="#000" stroke-width="1.2">4</text><text x="101.10" y="614.80" font-family='"Liberation Sans", "DejaVu Sans", sans-serif' font-size="28" text-anchor="end" textLength="31.2" lengthAdjust="spacingAndGlyphs" stroke="#000" stroke-width="0.9">10</text><text x="102.00" y="602.60" font-family='"Liberation Sans", "DejaVu Sans", sans-serif' font-size="20" stroke="#000" stroke-width="1.2">5</text><text x="101.10" y="541.90" font-family='"Liberation Sans", "DejaVu Sans", sans-serif' font-size="28" text-anchor="end" textLength="31.2" lengthAdjust="spacingAndGlyphs" stroke="#000" stroke-width="0.9">10</text><text x="102.00" y="529.70" font-family='"Liberation Sans", "DejaVu Sans", sans-serif' font-size="20" stroke="#000" stroke-width="1.2">6</text><text x="120.73" y="1062.80" font-family='"Liberation Sans", "DejaVu Sans", sans-serif' font-size="28" text-anchor="middle" textLength="97" lengthAdjust="spacing" stroke="#000" stroke-width="0.9">13–Jan</text><text x="274.48" y="1062.80" font-family='"Liberation Sans", "DejaVu Sans", sans-serif' font-size="28" text-anchor="middle" textLength="97" lengthAdjust="spacing" stroke="#000" stroke-width="0.9">18–Jan</text><text x="428.23" y="1062.80" font-family='"Liberation Sans", "DejaVu Sans", sans-serif' font-size="28" text-anchor="middle" textLength="97" lengthAdjust="spacing" stroke="#000" stroke-width="0.9">23–Jan</text><text x="581.98" y="1062.80" font-family='"Liberation Sans", "DejaVu Sans", sans-serif' font-size="28" text-anchor="middle" textLength="97" lengthAdjust="spacing" stroke="#000" stroke-width="0.9">28–Jan</text><text x="735.73" y="1062.80" font-family='"Liberation Sans", "DejaVu Sans", sans-serif' font-size="28" text-anchor="middle" textLength="97" lengthAdjust="spacing" stroke="#000" stroke-width="0.9">02–Feb</text><text x="889.48" y="1062.80" font-family='"Liberation Sans", "DejaVu Sans", sans-serif' font-size="28" text-anchor="middle" textLength="97" lengthAdjust="spacing" stroke="#000" stroke-width="0.9">07–Feb</text><text x="582.00" y="1096.60" font-family='"Liberation Sans", "DejaVu Sans", sans-serif' font-size="28" text-anchor="middle" textLength="458" lengthAdjust="spacing" xml:space="preserve" stroke="#000" stroke-width="0.9">Start Time (12–Jan–11  23:54:00)</text><path d="M167.8 42.9H222.9" stroke="#000" stroke-width="4"/><path d="M167.8 66.9H222.9" stroke="#f00" stroke-width="3.6"/><text x="237.40" y="49.60" font-family='"Liberation Sans", "DejaVu Sans", sans-serif' font-size="22" font-weight="bold" textLength="50" lengthAdjust="spacingAndGlyphs" stroke="#000" stroke-width="0.4">OMNI</text><text x="237.40" y="73.60" font-family='"Liberation Sans", "DejaVu Sans", sans-serif' font-size="22" font-weight="bold" textLength="128" lengthAdjust="spacingAndGlyphs" stroke="#000" stroke-width="0.4" xml:space="preserve">Optimal  Run</text><text x="1223.80" y="244.10" font-family='"Liberation Sans", "DejaVu Sans", sans-serif' font-size="28" text-anchor="end" textLength="48.599999999999994" lengthAdjust="spacingAndGlyphs" stroke="#000" stroke-width="0.9">200</text><text x="1223.80" y="214.00" font-family='"Liberation Sans", "DejaVu Sans", sans-serif' font-size="28" text-anchor="end" textLength="48.599999999999994" lengthAdjust="spacingAndGlyphs" stroke="#000" stroke-width="0.9">400</text><text x="1223.80" y="173.80" font-family='"Liberation Sans", "DejaVu Sans", sans-serif' font-size="28" text-anchor="end" textLength="48.599999999999994" lengthAdjust="spacingAndGlyphs" stroke="#000" stroke-width="0.9">600</text><text x="1223.80" y="133.60" font-family='"Liberation Sans", "DejaVu Sans", sans-serif' font-size="28" text-anchor="end" textLength="48.599999999999994" lengthAdjust="spacingAndGlyphs" stroke="#000" stroke-width="0.9">800</text><text x="1223.80" y="93.40" font-family='"Liberation Sans", "DejaVu Sans", sans-serif' font-size="28" text-anchor="end" textLength="64.8" lengthAdjust="spacingAndGlyphs" stroke="#000" stroke-width="0.9">1000</text><text x="1223.80" y="53.20" font-family='"Liberation Sans", "DejaVu Sans", sans-serif' font-size="28" text-anchor="end" textLength="64.8" lengthAdjust="spacingAndGlyphs" stroke="#000" stroke-width="0.9">1200</text><text x="1223.80" y="19.00" font-family='"Liberation Sans", "DejaVu Sans", sans-serif' font-size="28" text-anchor="end" textLength="64.8" lengthAdjust="spacingAndGlyphs" stroke="#000" stroke-width="0.9">1400</text><text x="1223.80" y="504.80" font-family='"Liberation Sans", "DejaVu Sans", sans-serif' font-size="28" text-anchor="end" textLength="16.2" lengthAdjust="spacingAndGlyphs" stroke="#000" stroke-width="0.9">0</text><text x="1223.80" y="454.60" font-family='"Liberation Sans", "DejaVu Sans", sans-serif' font-size="28" text-anchor="end" textLength="32.4" lengthAdjust="spacingAndGlyphs" stroke="#000" stroke-width="0.9">20</text><text x="1223.80" y="394.30" font-family='"Liberation Sans", "DejaVu Sans", sans-serif' font-size="28" text-anchor="end" textLength="32.4" lengthAdjust="spacingAndGlyphs" stroke="#000" stroke-width="0.9">40</text><text x="1223.80" y="334.00" font-family='"Liberation Sans", "DejaVu Sans", sans-serif' font-size="28" text-anchor="end" textLength="32.4" lengthAdjust="spacingAndGlyphs" stroke="#000" stroke-width="0.9">60</text><text x="1223.80" y="281.20" font-family='"Liberation Sans", "DejaVu Sans", sans-serif' font-size="28" text-anchor="end" textLength="32.4" lengthAdjust="spacingAndGlyphs" stroke="#000" stroke-width="0.9">80</text><text x="1223.80" y="1026.20" font-family='"Liberation Sans", "DejaVu Sans", sans-serif' font-size="28" text-anchor="end" textLength="16.2" lengthAdjust="spacingAndGlyphs" stroke="#000" stroke-width="0.9">0</text><text x="1223.80" y="996.10" font-family='"Liberation Sans", "DejaVu Sans", sans-serif' font-size="28" text-anchor="end" textLength="16.2" lengthAdjust="spacingAndGlyphs" stroke="#000" stroke-width="0.9">5</text><text x="1223.80" y="955.90" font-family='"Liberation Sans", "DejaVu Sans", sans-serif' font-size="28" text-anchor="end" textLength="32.4" lengthAdjust="spacingAndGlyphs" stroke="#000" stroke-width="0.9">10</text><text x="1223.80" y="915.70" font-family='"Liberation Sans", "DejaVu Sans", sans-serif' font-size="28" text-anchor="end" textLength="32.4" lengthAdjust="spacingAndGlyphs" stroke="#000" stroke-width="0.9">15</text><text x="1223.80" y="875.50" font-family='"Liberation Sans", "DejaVu Sans", sans-serif' font-size="28" text-anchor="end" textLength="32.4" lengthAdjust="spacingAndGlyphs" stroke="#000" stroke-width="0.9">20</text><text x="1223.80" y="835.30" font-family='"Liberation Sans", "DejaVu Sans", sans-serif' font-size="28" text-anchor="end" textLength="32.4" lengthAdjust="spacingAndGlyphs" stroke="#000" stroke-width="0.9">25</text><text x="1223.80" y="802.60" font-family='"Liberation Sans", "DejaVu Sans", sans-serif' font-size="28" text-anchor="end" textLength="32.4" lengthAdjust="spacingAndGlyphs" stroke="#000" stroke-width="0.9">30</text><text x="1212.90" y="765.50" font-family='"Liberation Sans", "DejaVu Sans", sans-serif' font-size="28" text-anchor="end" textLength="31.2" lengthAdjust="spacingAndGlyphs" stroke="#000" stroke-width="0.9">10</text><text x="1213.80" y="753.30" font-family='"Liberation Sans", "DejaVu Sans", sans-serif' font-size="20" stroke="#000" stroke-width="1.2">3</text><text x="1212.90" y="695.20" font-family='"Liberation Sans", "DejaVu Sans", sans-serif' font-size="28" text-anchor="end" textLength="31.2" lengthAdjust="spacingAndGlyphs" stroke="#000" stroke-width="0.9">10</text><text x="1213.80" y="683.00" font-family='"Liberation Sans", "DejaVu Sans", sans-serif' font-size="20" stroke="#000" stroke-width="1.2">4</text><text x="1212.90" y="614.80" font-family='"Liberation Sans", "DejaVu Sans", sans-serif' font-size="28" text-anchor="end" textLength="31.2" lengthAdjust="spacingAndGlyphs" stroke="#000" stroke-width="0.9">10</text><text x="1213.80" y="602.60" font-family='"Liberation Sans", "DejaVu Sans", sans-serif' font-size="20" stroke="#000" stroke-width="1.2">5</text><text x="1212.90" y="541.90" font-family='"Liberation Sans", "DejaVu Sans", sans-serif' font-size="28" text-anchor="end" textLength="31.2" lengthAdjust="spacingAndGlyphs" stroke="#000" stroke-width="0.9">10</text><text x="1213.80" y="529.70" font-family='"Liberation Sans", "DejaVu Sans", sans-serif' font-size="20" stroke="#000" stroke-width="1.2">6</text><text x="1383.59" y="1062.80" font-family='"Liberation Sans", "DejaVu Sans", sans-serif' font-size="28" text-anchor="middle" textLength="97" lengthAdjust="spacing" stroke="#000" stroke-width="0.9">18–Jan</text><text x="1537.34" y="1062.80" font-family='"Liberation Sans", "DejaVu Sans", sans-serif' font-size="28" text-anchor="middle" textLength="97" lengthAdjust="spacing" stroke="#000" stroke-width="0.9">23–Jan</text><text x="1691.09" y="1062.80" font-family='"Liberation Sans", "DejaVu Sans", sans-serif' font-size="28" text-anchor="middle" textLength="97" lengthAdjust="spacing" stroke="#000" stroke-width="0.9">28–Jan</text><text x="1844.84" y="1062.80" font-family='"Liberation Sans", "DejaVu Sans", sans-serif' font-size="28" text-anchor="middle" textLength="97" lengthAdjust="spacing" stroke="#000" stroke-width="0.9">02–Feb</text><text x="1998.59" y="1062.80" font-family='"Liberation Sans", "DejaVu Sans", sans-serif' font-size="28" text-anchor="middle" textLength="97" lengthAdjust="spacing" stroke="#000" stroke-width="0.9">07–Feb</text><text x="2152.34" y="1062.80" font-family='"Liberation Sans", "DejaVu Sans", sans-serif' font-size="28" text-anchor="middle" textLength="97" lengthAdjust="spacing" stroke="#000" stroke-width="0.9">12–Feb</text><text x="1693.45" y="1096.60" font-family='"Liberation Sans", "DejaVu Sans", sans-serif' font-size="28" text-anchor="middle" textLength="458" lengthAdjust="spacing" xml:space="preserve" stroke="#000" stroke-width="0.9">Start Time (13–Jan–11  02:00:00)</text><path d="M1279.6 42.9H1334.7" stroke="#000" stroke-width="4"/><path d="M1279.6 66.9H1334.7" stroke="#f00" stroke-width="3.6"/><text x="1349.20" y="49.60" font-family='"Liberation Sans", "DejaVu Sans", sans-serif' font-size="22" font-weight="bold" textLength="50" lengthAdjust="spacingAndGlyphs" stroke="#000" stroke-width="0.4">OMNI</text><text x="1349.20" y="73.60" font-family='"Liberation Sans", "DejaVu Sans", sans-serif' font-size="22" font-weight="bold" textLength="128" lengthAdjust="spacingAndGlyphs" stroke="#000" stroke-width="0.4" xml:space="preserve">Optimal  Run</text><g transform="translate(23.6,123.2) rotate(-90)"><text x="0.00" y="0.00" font-family='"Liberation Sans", "DejaVu Sans", sans-serif' font-size="27" text-anchor="middle" textLength="124" lengthAdjust="spacing" stroke="#000" stroke-width="0.9" xml:space="preserve">U [km/s]</text></g><g transform="translate(55.7,383.5) rotate(-90)"><text x="0.00" y="0.00" font-family='"Liberation Sans", "DejaVu Sans", sans-serif' font-size="27" text-anchor="middle" textLength="125" lengthAdjust="spacing" stroke="#000" stroke-width="0.9" xml:space="preserve">Np [cm<tspan dy="-8" font-size="18">-3</tspan><tspan dy="8">]</tspan></text></g><g transform="translate(45.9,644.2) rotate(-90)"><text x="0.00" y="0.00" font-family='"Liberation Sans", "DejaVu Sans", sans-serif' font-size="27" text-anchor="middle" textLength="216" lengthAdjust="spacing" stroke="#000" stroke-width="0.9" xml:space="preserve">Temperature [K]</text></g><g transform="translate(56.4,904.8) rotate(-90)"><text x="0.00" y="0.00" font-family='"Liberation Sans", "DejaVu Sans", sans-serif' font-size="27" text-anchor="middle" textLength="80" lengthAdjust="spacing" stroke="#000" stroke-width="0.9" xml:space="preserve">B [nT]</text></g><g transform="translate(1135.4,123.2) rotate(-90)"><text x="0.00" y="0.00" font-family='"Liberation Sans", "DejaVu Sans", sans-serif' font-size="27" text-anchor="middle" textLength="124" lengthAdjust="spacing" stroke="#000" stroke-width="0.9" xml:space="preserve">U [km/s]</text></g><g transform="translate(1167.5,383.5) rotate(-90)"><text x="0.00" y="0.00" font-family='"Liberation Sans", "DejaVu Sans", sans-serif' font-size="27" text-anchor="middle" textLength="125" lengthAdjust="spacing" stroke="#000" stroke-width="0.9" xml:space="preserve">Np [cm<tspan dy="-8" font-size="18">-3</tspan><tspan dy="8">]</tspan></text></g><g transform="translate(1157.7,644.2) rotate(-90)"><text x="0.00" y="0.00" font-family='"Liberation Sans", "DejaVu Sans", sans-serif' font-size="27" text-anchor="middle" textLength="216" lengthAdjust="spacing" stroke="#000" stroke-width="0.9" xml:space="preserve">Temperature [K]</text></g><g transform="translate(1168.2,904.8) rotate(-90)"><text x="0.00" y="0.00" font-family='"Liberation Sans", "DejaVu Sans", sans-serif' font-size="27" text-anchor="middle" textLength="80" lengthAdjust="spacing" stroke="#000" stroke-width="0.9" xml:space="preserve">B [nT]</text></g><text x="409.50" y="1206.30" font-family='"Liberation Serif", "DejaVu Serif", serif' font-size="47" textLength="50" lengthAdjust="spacingAndGlyphs">(a)</text><text x="477.50" y="1206.30" font-family='"Liberation Serif", "DejaVu Serif", serif' font-size="47" textLength="131" lengthAdjust="spacingAndGlyphs">GONG</text><text x="1434.20" y="1206.30" font-family='"Liberation Serif", "DejaVu Serif", serif' font-size="47" textLength="52" lengthAdjust="spacingAndGlyphs">(b)</text><text x="1503.60" y="1206.30" font-family='"Liberation Serif", "DejaVu Serif", serif' font-size="47" textLength="303" lengthAdjust="spacingAndGlyphs">ADAPT-GONG</text></svg></body></html>
